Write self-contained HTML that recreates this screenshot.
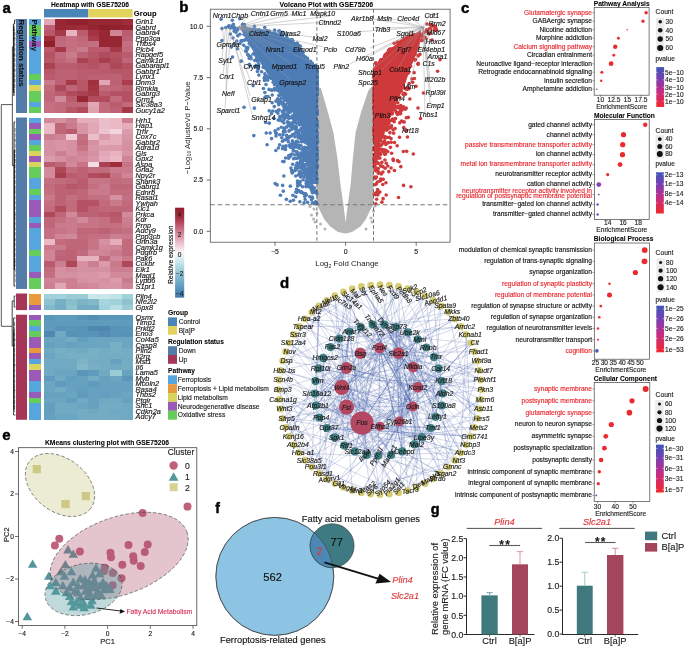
<!DOCTYPE html>
<html><head><meta charset="utf-8"><title>Figure</title>
<style>html,body{margin:0;padding:0;background:#fff;width:685px;height:647px;overflow:hidden}svg{display:block}</style>
</head><body>
<svg width="685" height="647" viewBox="0 0 685 647" font-family='"Liberation Sans", Arial, sans-serif'>
<rect width="685" height="647" fill="#fff"/>
<text x="280" y="288" font-size="15" font-weight="bold" stroke="#000" stroke-width="0.45">d</text>
<path d="M380 284.7L305.14 318.93M380 284.7L414.5 444.4M380 284.7L362 423M389.35 285.15L402.3 451.4M389.35 285.15L417.8 387.2M389.35 285.15L362 423M398.61 286.49L384.5 324.7M398.61 286.49L477.43 418.31M398.61 286.49L326.9 428M398.61 286.49L413.2 367.1M407.72 288.7L339.5 338.6M407.72 288.7L346.5 407.2M416.59 291.78L441.8 381M416.59 291.78L334.6 437.4M425.15 295.7L372.7 324.7M425.15 295.7L460.84 326.38M425.15 295.7L434 357.1M433.33 300.41L314.7 393.5M433.33 300.41L379.6 347.9M441.05 305.89L417.8 387.2M441.05 305.89L360.3 353.3M441.05 305.89L380 284.7M448.25 312.08L360.3 353.3M448.25 312.08L384.5 324.7M454.86 318.93L341.8 387.3M454.86 318.93L341.8 387.3M454.86 318.93L379.6 347.9M460.84 326.38L399.3 421.5M460.84 326.38L479.58 370.32M460.84 326.38L346.4 368M466.13 334.38L380 426.4M466.13 334.38L470.68 436.36M470.68 342.84L349.5 331.6M470.68 342.84L366.6 454.9M470.68 342.84L399.3 421.5M470.68 342.84L399.3 421.5M474.46 351.71L346.5 407.2M474.46 351.71L360.3 353.3M477.43 360.89L346.5 407.2M477.43 360.89L344.4 445.6M479.58 370.32L441.05 473.31M479.58 370.32L360.3 353.3M480.87 379.92L417.8 387.2M480.87 379.92L379.6 347.9M480.87 379.92L346.5 407.2M480.87 379.92L315.5 381.1M481.3 389.6L346.5 407.2M481.3 389.6L330.5 347.1M481.3 389.6L481.3 389.6M481.3 389.6L466.13 444.82M480.87 399.28L413.2 367.1M480.87 399.28L407.72 490.5M480.87 399.28L391.1 454.9M480.87 399.28L414.5 444.4M479.58 408.88L318.95 305.89M479.58 408.88L372.7 324.7M479.58 408.88L379.6 347.9M479.58 408.88L417.8 387.2M477.43 418.31L384.5 324.7M477.43 418.31L346.5 407.2M474.46 427.49L398.5 353.2M474.46 427.49L448.25 312.08M474.46 427.49L380 426.4M470.68 436.36L326.9 428M470.68 436.36L413.2 367.1M470.68 436.36L326.9 428M470.68 436.36L380 426.4M466.13 444.82L398.5 353.2M466.13 444.82L362 423M460.84 452.82L466.13 334.38M460.84 452.82L380 426.4M460.84 452.82L361.39 286.49M460.84 452.82L366.6 454.9M454.86 460.27L360.3 353.3M454.86 460.27L417.8 339.3M454.86 460.27L316 405.6M454.86 460.27L341.8 387.3M448.25 467.12L438.7 368.7M448.25 467.12L379.6 347.9M441.05 473.31L407.8 332.4M441.05 473.31L366.6 454.9M433.33 478.79L341.8 387.3M433.33 478.79L326.9 428M433.33 478.79L280.42 370.32M425.15 483.5L389.35 285.15M425.15 483.5L396.2 327M416.59 487.42L326.9 428M416.59 487.42L341.8 387.3M416.59 487.42L417.8 387.2M407.72 490.5L396.2 327M407.72 490.5L299.16 326.38M407.72 490.5L362 423M398.61 492.71L318.6 368.4M398.61 492.71L346.5 407.2M389.35 494.05L430.8 428M389.35 494.05L477.43 360.89M380 494.5L326.67 300.41M380 494.5L360.3 353.3M380 494.5L398.5 353.2M370.65 494.05L391.1 454.9M370.65 494.05L305.14 460.27M370.65 494.05L349.5 331.6M370.65 494.05L435.5 416.8M361.39 492.71L417.8 387.2M361.39 492.71L399.3 421.5M361.39 492.71L454.86 460.27M352.28 490.5L346.5 407.2M352.28 490.5L448.25 467.12M343.41 487.42L412.8 406.5M343.41 487.42L425.15 295.7M334.85 483.5L417.8 387.2M334.85 483.5L477.43 360.89M334.85 483.5L442.5 393.4M334.85 483.5L279.13 379.92M326.67 478.79L323.2 357.9M326.67 478.79L349.5 331.6M326.67 478.79L360.3 353.3M318.95 473.31L425.15 295.7M318.95 473.31L442.5 393.4M318.95 473.31L438.7 368.7M311.75 467.12L398.61 286.49M311.75 467.12L384.5 324.7M311.75 467.12L314.7 393.5M311.75 467.12L380 494.5M305.14 460.27L433.33 300.41M305.14 460.27L477.43 360.89M299.16 452.82L362 423M299.16 452.82L407.8 332.4M299.16 452.82L454.86 460.27M293.87 444.82L398.61 492.71M293.87 444.82L360.3 353.3M289.32 436.36L316 405.6M289.32 436.36L417.8 387.2M289.32 436.36L361.39 286.49M285.54 427.49L391.1 454.9M285.54 427.49L346.4 368M285.54 427.49L466.13 334.38M285.54 427.49L346.4 368M282.57 418.31L380 426.4M282.57 418.31L360.3 353.3M282.57 418.31L346.5 407.2M280.42 408.88L305.14 460.27M280.42 408.88L422 437.4M280.42 408.88L341.8 387.3M280.42 408.88L479.58 370.32M279.13 399.28L399.3 421.5M279.13 399.28L334.85 483.5M278.7 389.6L318.95 473.31M278.7 389.6L346.4 368M278.7 389.6L299.16 452.82M278.7 389.6L316 405.6M279.13 379.92L399.3 421.5M279.13 379.92L326.67 300.41M279.13 379.92L441.05 473.31M280.42 370.32L360.3 353.3M280.42 370.32L412.8 406.5M282.57 360.89L481.3 389.6M282.57 360.89L349.5 331.6M282.57 360.89L334.85 295.7M282.57 360.89L334.6 437.4M285.54 351.71L362 423M285.54 351.71L346.4 368M289.32 342.84L318.6 368.4M289.32 342.84L398.61 492.71M289.32 342.84L399.3 421.5M289.32 342.84L448.25 467.12M293.87 334.38L370.65 285.15M293.87 334.38L380 426.4M293.87 334.38L362 423M299.16 326.38L396.2 327M299.16 326.38L360.3 353.3M305.14 318.93L479.58 370.32M305.14 318.93L391.1 454.9M305.14 318.93L362 423M305.14 318.93L384.5 324.7M311.75 312.08L380 426.4M311.75 312.08L399.3 421.5M311.75 312.08L311.75 312.08M318.95 305.89L413.2 367.1M318.95 305.89L360.3 353.3M318.95 305.89L480.87 379.92M318.95 305.89L314.7 393.5M326.67 300.41L413.2 367.1M326.67 300.41L417.8 387.2M334.85 295.7L435.5 416.8M334.85 295.7L344.4 445.6M334.85 295.7L354.9 451.4M343.41 291.78L414.5 444.4M343.41 291.78L360.8 327.3M343.41 291.78L341.8 387.3M343.41 291.78L362 423M352.28 288.7L413.2 367.1M352.28 288.7L441.05 473.31M352.28 288.7L366.6 454.9M352.28 288.7L346.4 368M361.39 286.49L466.13 444.82M361.39 286.49L412.8 406.5M361.39 286.49L460.84 452.82M361.39 286.49L413.2 367.1M370.65 285.15L413.2 367.1M370.65 285.15L379.6 347.9M315.5 381.1L399.3 421.5M315.5 381.1L280.42 370.32M315.5 381.1L366.6 454.9M315.5 381.1L341.8 387.3M314.7 393.5L470.68 342.84M314.7 393.5L341.8 387.3M314.7 393.5L412.8 406.5M314.7 393.5L362 423M314.7 393.5L426.3 347.5M316 405.6L460.84 452.82M316 405.6L318.95 305.89M316 405.6L360.3 353.3M316 405.6L352.28 288.7M316 405.6L318.95 305.89M319.2 417.5L379.6 347.9M319.2 417.5L398.5 353.2M319.2 417.5L470.68 342.84M326.9 428L341.8 387.3M326.9 428L379.6 347.9M326.9 428L380 426.4M326.9 428L412.8 406.5M326.9 428L346.5 407.2M334.6 437.4L346.4 368M334.6 437.4L413.2 367.1M334.6 437.4L380 426.4M334.6 437.4L412.8 406.5M344.4 445.6L474.46 427.49M344.4 445.6L360.3 353.3M344.4 445.6L379.6 347.9M344.4 445.6L278.7 389.6M354.9 451.4L318.6 368.4M354.9 451.4L426.3 347.5M354.9 451.4L389.35 494.05M354.9 451.4L379.6 347.9M354.9 451.4L477.43 418.31M366.6 454.9L412.8 406.5M366.6 454.9L285.54 427.49M366.6 454.9L466.13 444.82M366.6 454.9L346.4 368M378.3 455.6L412.8 406.5M378.3 455.6L379.6 347.9M378.3 455.6L412.8 406.5M391.1 454.9L433.33 300.41M391.1 454.9L341.8 387.3M391.1 454.9L413.2 367.1M391.1 454.9L402.3 451.4M391.1 454.9L396.2 327M402.3 451.4L441.05 473.31M402.3 451.4L279.13 399.28M402.3 451.4L398.61 286.49M402.3 451.4L379.6 347.9M402.3 451.4L398.61 492.71M414.5 444.4L360.3 353.3M414.5 444.4L282.57 418.31M414.5 444.4L417.8 387.2M414.5 444.4L412.8 406.5M422 437.4L372.7 324.7M422 437.4L470.68 342.84M422 437.4L326.9 428M422 437.4L316 405.6M422 437.4L398.5 353.2M430.8 428L398.5 353.2M430.8 428L441.05 305.89M430.8 428L380 426.4M430.8 428L362 423M435.5 416.8L407.8 332.4M435.5 416.8L330.5 347.1M435.5 416.8L441.8 381M435.5 416.8L441.8 381M441.8 405.5L413.2 367.1M441.8 405.5L391.1 454.9M441.8 405.5L341.8 387.3M442.5 393.4L412.8 406.5M442.5 393.4L433.33 300.41M442.5 393.4L434 357.1M442.5 393.4L413.2 367.1M441.8 381L398.61 492.71M441.8 381L407.72 490.5M441.8 381L379.6 347.9M441.8 381L305.14 318.93M438.7 368.7L407.72 490.5M438.7 368.7L354.9 451.4M438.7 368.7L399.3 421.5M434 357.1L360.3 353.3M434 357.1L398.5 353.2M434 357.1L380 426.4M434 357.1L399.3 421.5M426.3 347.5L372.7 324.7M426.3 347.5L346.4 368M426.3 347.5L366.6 454.9M426.3 347.5L480.87 379.92M417.8 339.3L362 423M417.8 339.3L343.41 291.78M417.8 339.3L417.8 339.3M407.8 332.4L341.8 387.3M407.8 332.4L460.84 452.82M407.8 332.4L435.5 416.8M407.8 332.4L413.2 367.1M396.2 327L454.86 460.27M396.2 327L425.15 295.7M396.2 327L315.5 381.1M396.2 327L399.3 421.5M396.2 327L360.3 353.3M384.5 324.7L417.8 387.2M384.5 324.7L379.6 347.9M384.5 324.7L477.43 418.31M372.7 324.7L412.8 406.5M372.7 324.7L412.8 406.5M372.7 324.7L412.8 406.5M372.7 324.7L398.5 353.2M372.7 324.7L454.86 318.93M360.8 327.3L346.5 407.2M360.8 327.3L441.05 473.31M360.8 327.3L346.4 368M349.5 331.6L398.5 353.2M349.5 331.6L341.8 387.3M349.5 331.6L318.95 473.31M349.5 331.6L346.4 368M339.5 338.6L412.8 406.5M339.5 338.6L339.5 338.6M339.5 338.6L460.84 326.38M330.5 347.1L346.5 407.2M330.5 347.1L339.5 338.6M330.5 347.1L360.3 353.3M330.5 347.1L413.2 367.1M330.5 347.1L460.84 326.38M323.2 357.9L346.4 368M323.2 357.9L318.95 473.31M323.2 357.9L398.5 353.2M323.2 357.9L341.8 387.3M323.2 357.9L289.32 436.36M318.6 368.4L380 426.4M318.6 368.4L442.5 393.4M318.6 368.4L417.8 387.2M360.3 353.3L442.5 393.4M360.3 353.3L366.6 454.9M360.3 353.3L316 405.6M360.3 353.3L422 437.4M360.3 353.3L426.3 347.5M379.6 347.9L319.2 417.5M379.6 347.9L412.8 406.5M379.6 347.9L402.3 451.4M379.6 347.9L402.3 451.4M379.6 347.9L379.6 347.9M398.5 353.2L402.3 451.4M398.5 353.2L323.2 357.9M398.5 353.2L422 437.4M398.5 353.2L384.5 324.7M398.5 353.2L414.5 444.4M413.2 367.1L315.5 381.1M413.2 367.1L396.2 327M413.2 367.1L402.3 451.4M413.2 367.1L414.5 444.4M413.2 367.1L417.8 339.3M417.8 387.2L346.5 407.2M417.8 387.2L384.5 324.7M417.8 387.2L396.2 327M417.8 387.2L346.4 368M417.8 387.2L346.4 368M412.8 406.5L412.8 406.5M412.8 406.5L442.5 393.4M412.8 406.5L344.4 445.6M412.8 406.5L379.6 347.9M412.8 406.5L316 405.6M399.3 421.5L426.3 347.5M399.3 421.5L413.2 367.1M399.3 421.5L417.8 339.3M399.3 421.5L341.8 387.3M399.3 421.5L396.2 327M380 426.4L344.4 445.6M380 426.4L379.6 347.9M380 426.4L339.5 338.6M380 426.4L435.5 416.8M380 426.4L417.8 387.2M362 423L384.5 324.7M362 423L417.8 339.3M362 423L354.9 451.4M362 423L417.8 339.3M362 423L412.8 406.5M346.5 407.2L378.3 455.6M346.5 407.2L412.8 406.5M346.5 407.2L334.6 437.4M346.5 407.2L399.3 421.5M346.5 407.2L366.6 454.9M341.8 387.3L412.8 406.5M341.8 387.3L379.6 347.9M341.8 387.3L349.5 331.6M341.8 387.3L339.5 338.6M341.8 387.3L346.5 407.2M346.4 368L399.3 421.5M346.4 368L339.5 338.6M346.4 368L435.5 416.8M346.4 368L319.2 417.5M346.4 368L316 405.6" fill="none" stroke="#3d5aa5" stroke-width="0.38" stroke-opacity="0.6"/>
<circle cx="380" cy="284.7" r="3.4" fill="#d6cc72"/>
<circle cx="389.35" cy="285.15" r="3.4" fill="#d6cc72"/>
<circle cx="398.61" cy="286.49" r="3.4" fill="#d6cc72"/>
<circle cx="407.72" cy="288.7" r="3.4" fill="#d6cc72"/>
<circle cx="416.59" cy="291.78" r="3.4" fill="#d6cc72"/>
<circle cx="425.15" cy="295.7" r="3.4" fill="#d6cc72"/>
<circle cx="433.33" cy="300.41" r="3.4" fill="#d6cc72"/>
<circle cx="441.05" cy="305.89" r="3.4" fill="#d6cc72"/>
<circle cx="448.25" cy="312.08" r="3.4" fill="#d6cc72"/>
<circle cx="454.86" cy="318.93" r="3.4" fill="#d6cc72"/>
<circle cx="460.84" cy="326.38" r="3.4" fill="#d6cc72"/>
<circle cx="466.13" cy="334.38" r="3.4" fill="#d6cc72"/>
<circle cx="470.68" cy="342.84" r="3.4" fill="#d6cc72"/>
<circle cx="474.46" cy="351.71" r="3.4" fill="#d6cc72"/>
<circle cx="477.43" cy="360.89" r="3.4" fill="#d6cc72"/>
<circle cx="479.58" cy="370.32" r="3.4" fill="#d6cc72"/>
<circle cx="480.87" cy="379.92" r="3.4" fill="#d6cc72"/>
<circle cx="481.3" cy="389.6" r="3.4" fill="#d6cc72"/>
<circle cx="480.87" cy="399.28" r="3.4" fill="#d6cc72"/>
<circle cx="479.58" cy="408.88" r="3.4" fill="#d6cc72"/>
<circle cx="477.43" cy="418.31" r="3.4" fill="#d6cc72"/>
<circle cx="474.46" cy="427.49" r="3.4" fill="#d6cc72"/>
<circle cx="470.68" cy="436.36" r="3.4" fill="#d6cc72"/>
<circle cx="466.13" cy="444.82" r="3.4" fill="#d6cc72"/>
<circle cx="460.84" cy="452.82" r="3.4" fill="#d6cc72"/>
<circle cx="454.86" cy="460.27" r="3.4" fill="#d6cc72"/>
<circle cx="448.25" cy="467.12" r="3.4" fill="#d6cc72"/>
<circle cx="441.05" cy="473.31" r="3.4" fill="#d6cc72"/>
<circle cx="433.33" cy="478.79" r="3.4" fill="#d6cc72"/>
<circle cx="425.15" cy="483.5" r="3.4" fill="#d6cc72"/>
<circle cx="416.59" cy="487.42" r="3.4" fill="#d6cc72"/>
<circle cx="407.72" cy="490.5" r="3.4" fill="#d6cc72"/>
<circle cx="398.61" cy="492.71" r="3.4" fill="#d6cc72"/>
<circle cx="389.35" cy="494.05" r="3.4" fill="#d6cc72"/>
<circle cx="380" cy="494.5" r="3.4" fill="#d6cc72"/>
<circle cx="370.65" cy="494.05" r="3.4" fill="#d6cc72"/>
<circle cx="361.39" cy="492.71" r="3.4" fill="#d6cc72"/>
<circle cx="352.28" cy="490.5" r="3.4" fill="#d6cc72"/>
<circle cx="343.41" cy="487.42" r="3.4" fill="#d6cc72"/>
<circle cx="334.85" cy="483.5" r="3.4" fill="#d6cc72"/>
<circle cx="326.67" cy="478.79" r="3.4" fill="#d6cc72"/>
<circle cx="318.95" cy="473.31" r="3.4" fill="#d6cc72"/>
<circle cx="311.75" cy="467.12" r="3.4" fill="#d6cc72"/>
<circle cx="305.14" cy="460.27" r="3.4" fill="#d6cc72"/>
<circle cx="299.16" cy="452.82" r="3.4" fill="#d6cc72"/>
<circle cx="293.87" cy="444.82" r="3.4" fill="#d6cc72"/>
<circle cx="289.32" cy="436.36" r="3.4" fill="#d6cc72"/>
<circle cx="285.54" cy="427.49" r="3.4" fill="#d6cc72"/>
<circle cx="282.57" cy="418.31" r="3.4" fill="#d6cc72"/>
<circle cx="280.42" cy="408.88" r="3.4" fill="#d6cc72"/>
<circle cx="279.13" cy="399.28" r="3.4" fill="#d6cc72"/>
<circle cx="278.7" cy="389.6" r="3.4" fill="#d6cc72"/>
<circle cx="279.13" cy="379.92" r="3.4" fill="#d6cc72"/>
<circle cx="280.42" cy="370.32" r="3.4" fill="#d6cc72"/>
<circle cx="282.57" cy="360.89" r="3.4" fill="#d6cc72"/>
<circle cx="285.54" cy="351.71" r="3.4" fill="#d6cc72"/>
<circle cx="289.32" cy="342.84" r="3.4" fill="#d6cc72"/>
<circle cx="293.87" cy="334.38" r="3.4" fill="#d6cc72"/>
<circle cx="299.16" cy="326.38" r="3.4" fill="#d6cc72"/>
<circle cx="305.14" cy="318.93" r="3.4" fill="#d6cc72"/>
<circle cx="311.75" cy="312.08" r="3.4" fill="#d6cc72"/>
<circle cx="318.95" cy="305.89" r="3.4" fill="#d6cc72"/>
<circle cx="326.67" cy="300.41" r="3.4" fill="#d6cc72"/>
<circle cx="334.85" cy="295.7" r="3.4" fill="#d6cc72"/>
<circle cx="343.41" cy="291.78" r="3.4" fill="#d6cc72"/>
<circle cx="352.28" cy="288.7" r="3.4" fill="#d6cc72"/>
<circle cx="361.39" cy="286.49" r="3.4" fill="#d6cc72"/>
<circle cx="370.65" cy="285.15" r="3.4" fill="#d6cc72"/>
<circle cx="315.5" cy="381.1" r="4.1" fill="#3f7f83"/>
<circle cx="314.7" cy="393.5" r="4.1" fill="#3f7f83"/>
<circle cx="316" cy="405.6" r="4.1" fill="#3f7f83"/>
<circle cx="319.2" cy="417.5" r="4.1" fill="#3f7f83"/>
<circle cx="326.9" cy="428" r="4.1" fill="#3f7f83"/>
<circle cx="334.6" cy="437.4" r="4.1" fill="#3f7f83"/>
<circle cx="344.4" cy="445.6" r="4.1" fill="#3f7f83"/>
<circle cx="354.9" cy="451.4" r="4.1" fill="#3f7f83"/>
<circle cx="366.6" cy="454.9" r="4.1" fill="#3f7f83"/>
<circle cx="378.3" cy="455.6" r="4.1" fill="#3f7f83"/>
<circle cx="391.1" cy="454.9" r="4.1" fill="#3f7f83"/>
<circle cx="402.3" cy="451.4" r="4.1" fill="#3f7f83"/>
<circle cx="414.5" cy="444.4" r="4.1" fill="#3f7f83"/>
<circle cx="422" cy="437.4" r="4.1" fill="#3f7f83"/>
<circle cx="430.8" cy="428" r="4.1" fill="#3f7f83"/>
<circle cx="435.5" cy="416.8" r="4.1" fill="#3f7f83"/>
<circle cx="441.8" cy="405.5" r="4.1" fill="#3f7f83"/>
<circle cx="442.5" cy="393.4" r="4.1" fill="#3f7f83"/>
<circle cx="441.8" cy="381" r="4.1" fill="#3f7f83"/>
<circle cx="438.7" cy="368.7" r="4.1" fill="#3f7f83"/>
<circle cx="434" cy="357.1" r="4.1" fill="#3f7f83"/>
<circle cx="426.3" cy="347.5" r="4.1" fill="#3f7f83"/>
<circle cx="417.8" cy="339.3" r="4.1" fill="#3f7f83"/>
<circle cx="407.8" cy="332.4" r="4.1" fill="#3f7f83"/>
<circle cx="396.2" cy="327" r="4.1" fill="#3f7f83"/>
<circle cx="384.5" cy="324.7" r="4.1" fill="#3f7f83"/>
<circle cx="372.7" cy="324.7" r="4.1" fill="#3f7f83"/>
<circle cx="360.8" cy="327.3" r="4.1" fill="#3f7f83"/>
<circle cx="349.5" cy="331.6" r="4.1" fill="#3f7f83"/>
<circle cx="339.5" cy="338.6" r="4.1" fill="#3f7f83"/>
<circle cx="330.5" cy="347.1" r="4.1" fill="#3f7f83"/>
<circle cx="323.2" cy="357.9" r="4.1" fill="#3f7f83"/>
<circle cx="318.6" cy="368.4" r="4.1" fill="#3f7f83"/>
<circle cx="360.3" cy="353.3" r="5.7" fill="#b44862"/>
<circle cx="379.6" cy="347.9" r="5.5" fill="#b44862"/>
<circle cx="398.5" cy="353.2" r="5.9" fill="#b44862"/>
<circle cx="413.2" cy="367.1" r="5.3" fill="#b44862"/>
<circle cx="417.8" cy="387.2" r="5.3" fill="#b44862"/>
<circle cx="412.8" cy="406.5" r="5.1" fill="#b44862"/>
<circle cx="399.3" cy="421.5" r="5" fill="#b44862"/>
<circle cx="380" cy="426.4" r="4.6" fill="#b44862"/>
<circle cx="362" cy="423" r="11.6" fill="#b44862"/>
<circle cx="346.5" cy="407.2" r="7.6" fill="#b44862"/>
<circle cx="341.8" cy="387.3" r="7.6" fill="#b44862"/>
<circle cx="346.4" cy="368" r="5.9" fill="#b44862"/>
<g><text x="377.5" y="286.9" font-size="6.9" font-style="italic" fill="#1a1a1a" stroke="#1a1a1a" stroke-width="0.14" transform="rotate(55 377.5 286.9)">Nes</text><text x="386.85" y="287.35" font-size="6.9" font-style="italic" fill="#1a1a1a" stroke="#1a1a1a" stroke-width="0.14" transform="rotate(55 386.85 287.35)">Fzd9</text><text x="396.11" y="288.69" font-size="6.9" font-style="italic" fill="#1a1a1a" stroke="#1a1a1a" stroke-width="0.14" transform="rotate(50 396.11 288.69)">Pcdh8</text><text x="410.72" y="291" font-size="6.9" text-anchor="middle" font-style="italic" fill="#1a1a1a" stroke="#1a1a1a" stroke-width="0.14" transform="rotate(-20 410.72 291)">Sgk2</text><text x="419.59" y="294.08" font-size="6.9" text-anchor="middle" font-style="italic" fill="#1a1a1a" stroke="#1a1a1a" stroke-width="0.14" transform="rotate(-20 419.59 294.08)">Ucp2</text><text x="428.15" y="298" font-size="6.9" text-anchor="middle" font-style="italic" fill="#1a1a1a" stroke="#1a1a1a" stroke-width="0.14" transform="rotate(-15 428.15 298)">Slc10a6</text><text x="436.33" y="302.71" font-size="6.9" text-anchor="middle" font-style="italic" fill="#1a1a1a" stroke="#1a1a1a" stroke-width="0.14" transform="rotate(-15 436.33 302.71)">Apcdd1</text><text x="445.05" y="308.19" font-size="6.9" text-anchor="middle" font-style="italic" fill="#1a1a1a" stroke="#1a1a1a" stroke-width="0.14">Spata9</text><text x="452.25" y="314.38" font-size="6.9" text-anchor="middle" font-style="italic" fill="#1a1a1a" stroke="#1a1a1a" stroke-width="0.14">Mkks</text><text x="458.86" y="321.23" font-size="6.9" text-anchor="middle" font-style="italic" fill="#1a1a1a" stroke="#1a1a1a" stroke-width="0.14">Zbtb40</text><text x="464.84" y="328.68" font-size="6.9" text-anchor="middle" font-style="italic" fill="#1a1a1a" stroke="#1a1a1a" stroke-width="0.14">Arrdc2</text><text x="470.13" y="336.68" font-size="6.9" text-anchor="middle" font-style="italic" fill="#1a1a1a" stroke="#1a1a1a" stroke-width="0.14">Kcnab1</text><text x="474.68" y="345.14" font-size="6.9" text-anchor="middle" font-style="italic" fill="#1a1a1a" stroke="#1a1a1a" stroke-width="0.14">Cit</text><text x="478.46" y="354.01" font-size="6.9" text-anchor="middle" font-style="italic" fill="#1a1a1a" stroke="#1a1a1a" stroke-width="0.14">Fhad1</text><text x="481.43" y="363.19" font-size="6.9" text-anchor="middle" font-style="italic" fill="#1a1a1a" stroke="#1a1a1a" stroke-width="0.14">Wnt9a</text><text x="483.58" y="372.62" font-size="6.9" text-anchor="middle" font-style="italic" fill="#1a1a1a" stroke="#1a1a1a" stroke-width="0.14">Nudt7</text><text x="484.87" y="382.22" font-size="6.9" text-anchor="middle" font-style="italic" fill="#1a1a1a" stroke="#1a1a1a" stroke-width="0.14">Plekhf1</text><text x="485.3" y="391.9" font-size="6.9" text-anchor="middle" font-style="italic" fill="#1a1a1a" stroke="#1a1a1a" stroke-width="0.14">Pkn3</text><text x="484.87" y="401.58" font-size="6.9" text-anchor="middle" font-style="italic" fill="#1a1a1a" stroke="#1a1a1a" stroke-width="0.14">Mcm6</text><text x="483.58" y="411.18" font-size="6.9" text-anchor="middle" font-style="italic" fill="#1a1a1a" stroke="#1a1a1a" stroke-width="0.14">Asb11</text><text x="481.43" y="420.61" font-size="6.9" text-anchor="middle" font-style="italic" fill="#1a1a1a" stroke="#1a1a1a" stroke-width="0.14">Hes5</text><text x="478.46" y="429.79" font-size="6.9" text-anchor="middle" font-style="italic" fill="#1a1a1a" stroke="#1a1a1a" stroke-width="0.14">Meis2</text><text x="474.68" y="438.66" font-size="6.9" text-anchor="middle" font-style="italic" fill="#1a1a1a" stroke="#1a1a1a" stroke-width="0.14">Gm5741</text><text x="470.13" y="447.12" font-size="6.9" text-anchor="middle" font-style="italic" fill="#1a1a1a" stroke="#1a1a1a" stroke-width="0.14">Ncbp3</text><text x="464.84" y="455.12" font-size="6.9" text-anchor="middle" font-style="italic" fill="#1a1a1a" stroke="#1a1a1a" stroke-width="0.14">Arrdc3</text><text x="458.86" y="462.57" font-size="6.9" text-anchor="middle" font-style="italic" fill="#1a1a1a" stroke="#1a1a1a" stroke-width="0.14">Ntf3</text><text x="452.25" y="469.42" font-size="6.9" text-anchor="middle" font-style="italic" fill="#1a1a1a" stroke="#1a1a1a" stroke-width="0.14">Gmnc</text><text x="445.05" y="475.61" font-size="6.9" text-anchor="middle" font-style="italic" fill="#1a1a1a" stroke="#1a1a1a" stroke-width="0.14">Tspan2</text><text x="437.33" y="481.09" font-size="6.9" text-anchor="middle" font-style="italic" fill="#1a1a1a" stroke="#1a1a1a" stroke-width="0.14">Stra6</text><text x="422.65" y="485.7" font-size="6.9" font-style="italic" fill="#1a1a1a" stroke="#1a1a1a" stroke-width="0.14" transform="rotate(-30 422.65 485.7)">Mapk4</text><text x="414.09" y="489.62" font-size="6.9" font-style="italic" fill="#1a1a1a" stroke="#1a1a1a" stroke-width="0.14" transform="rotate(-30 414.09 489.62)">Des</text><text x="410.72" y="492.8" font-size="6.9" text-anchor="middle" font-style="italic" fill="#1a1a1a" stroke="#1a1a1a" stroke-width="0.14" transform="rotate(-10 410.72 492.8)">Tacr3</text><text x="396.11" y="494.91" font-size="6.9" font-style="italic" fill="#1a1a1a" stroke="#1a1a1a" stroke-width="0.14" transform="rotate(-50 396.11 494.91)">Sst1</text><text x="386.85" y="496.25" font-size="6.9" font-style="italic" fill="#1a1a1a" stroke="#1a1a1a" stroke-width="0.14" transform="rotate(-50 386.85 496.25)">Pla2g1</text><text x="377.5" y="496.7" font-size="6.9" font-style="italic" fill="#1a1a1a" stroke="#1a1a1a" stroke-width="0.14" transform="rotate(-45 377.5 496.7)">Syp54</text><text x="368.15" y="496.25" font-size="6.9" font-style="italic" fill="#1a1a1a" stroke="#1a1a1a" stroke-width="0.14" transform="rotate(-40 368.15 496.25)">Sly6</text><text x="358.89" y="494.91" font-size="6.9" font-style="italic" fill="#1a1a1a" stroke="#1a1a1a" stroke-width="0.14" transform="rotate(-30 358.89 494.91)">Neas2</text><text x="356.28" y="492.8" font-size="6.9" text-anchor="middle" font-style="italic" fill="#1a1a1a" stroke="#1a1a1a" stroke-width="0.14">Ier3</text><text x="346.41" y="489.72" font-size="6.9" text-anchor="middle" font-style="italic" fill="#1a1a1a" stroke="#1a1a1a" stroke-width="0.14" transform="rotate(15 346.41 489.72)">Vegfd</text><text x="338.85" y="485.8" font-size="6.9" text-anchor="middle" font-style="italic" fill="#1a1a1a" stroke="#1a1a1a" stroke-width="0.14">Gli1</text><text x="329.67" y="481.09" font-size="6.9" text-anchor="middle" font-style="italic" fill="#1a1a1a" stroke="#1a1a1a" stroke-width="0.14" transform="rotate(-8 329.67 481.09)">Adgrv1</text><text x="322.95" y="475.61" font-size="6.9" text-anchor="middle" font-style="italic" fill="#1a1a1a" stroke="#1a1a1a" stroke-width="0.14">Rasd1</text><text x="315.75" y="469.42" font-size="6.9" text-anchor="middle" font-style="italic" fill="#1a1a1a" stroke="#1a1a1a" stroke-width="0.14">Pou3f1</text><text x="309.14" y="462.57" font-size="6.9" text-anchor="middle" font-style="italic" fill="#1a1a1a" stroke="#1a1a1a" stroke-width="0.14">Slc38a5</text><text x="303.16" y="455.12" font-size="6.9" text-anchor="middle" font-style="italic" fill="#1a1a1a" stroke="#1a1a1a" stroke-width="0.14">Hba-a1</text><text x="297.87" y="447.12" font-size="6.9" text-anchor="middle" font-style="italic" fill="#1a1a1a" stroke="#1a1a1a" stroke-width="0.14">Atp2b4</text><text x="293.32" y="438.66" font-size="6.9" text-anchor="middle" font-style="italic" fill="#1a1a1a" stroke="#1a1a1a" stroke-width="0.14">Kcnj16</text><text x="289.54" y="429.79" font-size="6.9" text-anchor="middle" font-style="italic" fill="#1a1a1a" stroke="#1a1a1a" stroke-width="0.14">Opalin</text><text x="286.57" y="420.61" font-size="6.9" text-anchor="middle" font-style="italic" fill="#1a1a1a" stroke="#1a1a1a" stroke-width="0.14">Sfrp5</text><text x="284.42" y="411.18" font-size="6.9" text-anchor="middle" font-style="italic" fill="#1a1a1a" stroke="#1a1a1a" stroke-width="0.14">Wnt3</text><text x="283.13" y="401.58" font-size="6.9" text-anchor="middle" font-style="italic" fill="#1a1a1a" stroke="#1a1a1a" stroke-width="0.14">Cacna1g</text><text x="282.7" y="391.9" font-size="6.9" text-anchor="middle" font-style="italic" fill="#1a1a1a" stroke="#1a1a1a" stroke-width="0.14">Bmp3</text><text x="283.13" y="382.22" font-size="6.9" text-anchor="middle" font-style="italic" fill="#1a1a1a" stroke="#1a1a1a" stroke-width="0.14">Scn4b</text><text x="284.42" y="372.62" font-size="6.9" text-anchor="middle" font-style="italic" fill="#1a1a1a" stroke="#1a1a1a" stroke-width="0.14">Hbb-bs</text><text x="286.57" y="363.19" font-size="6.9" text-anchor="middle" font-style="italic" fill="#1a1a1a" stroke="#1a1a1a" stroke-width="0.14">Dsp</text><text x="289.54" y="354.01" font-size="6.9" text-anchor="middle" font-style="italic" fill="#1a1a1a" stroke="#1a1a1a" stroke-width="0.14">Nov</text><text x="293.32" y="345.14" font-size="6.9" text-anchor="middle" font-style="italic" fill="#1a1a1a" stroke="#1a1a1a" stroke-width="0.14">Slc12a4</text><text x="297.87" y="336.68" font-size="6.9" text-anchor="middle" font-style="italic" fill="#1a1a1a" stroke="#1a1a1a" stroke-width="0.14">Sstr3</text><text x="303.16" y="328.68" font-size="6.9" text-anchor="middle" font-style="italic" fill="#1a1a1a" stroke="#1a1a1a" stroke-width="0.14">Tspear</text><text x="309.14" y="321.23" font-size="6.9" text-anchor="middle" font-style="italic" fill="#1a1a1a" stroke="#1a1a1a" stroke-width="0.14">Hba-a2</text><text x="315.75" y="314.38" font-size="6.9" text-anchor="middle" font-style="italic" fill="#1a1a1a" stroke="#1a1a1a" stroke-width="0.14">Mt2</text><text x="321.95" y="308.19" font-size="6.9" text-anchor="middle" font-style="italic" fill="#1a1a1a" stroke="#1a1a1a" stroke-width="0.14" transform="rotate(-22 321.95 308.19)">Nr4a2</text><text x="329.67" y="302.71" font-size="6.9" text-anchor="middle" font-style="italic" fill="#1a1a1a" stroke="#1a1a1a" stroke-width="0.14" transform="rotate(-25 329.67 302.71)">Nbl1</text><text x="332.35" y="297.9" font-size="6.9" font-style="italic" fill="#1a1a1a" stroke="#1a1a1a" stroke-width="0.14" transform="rotate(35 332.35 297.9)">Slc7a3</text><text x="340.91" y="293.98" font-size="6.9" font-style="italic" fill="#1a1a1a" stroke="#1a1a1a" stroke-width="0.14" transform="rotate(40 340.91 293.98)">Slc14a1</text><text x="349.78" y="290.9" font-size="6.9" font-style="italic" fill="#1a1a1a" stroke="#1a1a1a" stroke-width="0.14" transform="rotate(48 349.78 290.9)">Mal</text><text x="358.89" y="288.69" font-size="6.9" font-style="italic" fill="#1a1a1a" stroke="#1a1a1a" stroke-width="0.14" transform="rotate(55 358.89 288.69)">Sly</text><text x="368.15" y="287.35" font-size="6.9" font-style="italic" fill="#1a1a1a" stroke="#1a1a1a" stroke-width="0.14" transform="rotate(55 368.15 287.35)">Epha5</text><text x="317.5" y="383.4" font-size="6.9" text-anchor="middle" font-style="italic" fill="#1a1a1a" stroke="#1a1a1a" stroke-width="0.14">Vim</text><text x="316.7" y="395.8" font-size="6.9" text-anchor="middle" font-style="italic" fill="#1a1a1a" stroke="#1a1a1a" stroke-width="0.14">Slc16a12</text><text x="318" y="407.9" font-size="6.9" text-anchor="middle" font-style="italic" fill="#1a1a1a" stroke="#1a1a1a" stroke-width="0.14">Atp2b1</text><text x="321.2" y="419.8" font-size="6.9" text-anchor="middle" font-style="italic" fill="#1a1a1a" stroke="#1a1a1a" stroke-width="0.14">Pdp4</text><text x="328.9" y="430.3" font-size="6.9" text-anchor="middle" font-style="italic" fill="#1a1a1a" stroke="#1a1a1a" stroke-width="0.14">Gpr37</text><text x="336.6" y="439.7" font-size="6.9" text-anchor="middle" font-style="italic" fill="#1a1a1a" stroke="#1a1a1a" stroke-width="0.14">Sgk1</text><text x="346.4" y="447.9" font-size="6.9" text-anchor="middle" font-style="italic" fill="#1a1a1a" stroke="#1a1a1a" stroke-width="0.14">Rtf1</text><text x="356.9" y="453.7" font-size="6.9" text-anchor="middle" font-style="italic" fill="#1a1a1a" stroke="#1a1a1a" stroke-width="0.14">Slc12a2</text><text x="366.6" y="457.2" font-size="6.9" text-anchor="middle" font-style="italic" fill="#1a1a1a" stroke="#1a1a1a" stroke-width="0.14" transform="rotate(-45 366.6 457.2)">Ilsx4</text><text x="378.3" y="457.9" font-size="6.9" text-anchor="middle" font-style="italic" fill="#1a1a1a" stroke="#1a1a1a" stroke-width="0.14" transform="rotate(-60 378.3 457.9)">Ppm1l</text><text x="391.1" y="457.2" font-size="6.9" text-anchor="middle" font-style="italic" fill="#1a1a1a" stroke="#1a1a1a" stroke-width="0.14" transform="rotate(-60 391.1 457.2)">Mansc1</text><text x="404.3" y="453.7" font-size="6.9" text-anchor="middle" font-style="italic" fill="#1a1a1a" stroke="#1a1a1a" stroke-width="0.14">Cebpd</text><text x="416.5" y="446.7" font-size="6.9" text-anchor="middle" font-style="italic" fill="#1a1a1a" stroke="#1a1a1a" stroke-width="0.14">Mal2</text><text x="424" y="439.7" font-size="6.9" text-anchor="middle" font-style="italic" fill="#1a1a1a" stroke="#1a1a1a" stroke-width="0.14">Lipe3y</text><text x="432.8" y="430.3" font-size="6.9" text-anchor="middle" font-style="italic" fill="#1a1a1a" stroke="#1a1a1a" stroke-width="0.14">Tmf1</text><text x="437.5" y="419.1" font-size="6.9" text-anchor="middle" font-style="italic" fill="#1a1a1a" stroke="#1a1a1a" stroke-width="0.14">Lefty1</text><text x="443.8" y="407.8" font-size="6.9" text-anchor="middle" font-style="italic" fill="#1a1a1a" stroke="#1a1a1a" stroke-width="0.14">S100a8</text><text x="444.5" y="395.7" font-size="6.9" text-anchor="middle" font-style="italic" fill="#1a1a1a" stroke="#1a1a1a" stroke-width="0.14">Aldh2</text><text x="443.8" y="383.3" font-size="6.9" text-anchor="middle" font-style="italic" fill="#1a1a1a" stroke="#1a1a1a" stroke-width="0.14">Krt18</text><text x="440.7" y="371" font-size="6.9" text-anchor="middle" font-style="italic" fill="#1a1a1a" stroke="#1a1a1a" stroke-width="0.14">Car14</text><text x="436" y="359.4" font-size="6.9" text-anchor="middle" font-style="italic" fill="#1a1a1a" stroke="#1a1a1a" stroke-width="0.14">Tmr</text><text x="428.3" y="349.8" font-size="6.9" text-anchor="middle" font-style="italic" fill="#1a1a1a" stroke="#1a1a1a" stroke-width="0.14">Rhob</text><text x="419.8" y="341.6" font-size="6.9" text-anchor="middle" font-style="italic" fill="#1a1a1a" stroke="#1a1a1a" stroke-width="0.14">Mml</text><text x="409.8" y="334.7" font-size="6.9" text-anchor="middle" font-style="italic" fill="#1a1a1a" stroke="#1a1a1a" stroke-width="0.14">Ube2k</text><text x="398.2" y="329.3" font-size="6.9" text-anchor="middle" font-style="italic" fill="#1a1a1a" stroke="#1a1a1a" stroke-width="0.14">Trp73</text><text x="384.5" y="327" font-size="6.9" text-anchor="middle" font-style="italic" fill="#1a1a1a" stroke="#1a1a1a" stroke-width="0.14" transform="rotate(45 384.5 327)">Dynlt3</text><text x="372.7" y="327" font-size="6.9" text-anchor="middle" font-style="italic" fill="#1a1a1a" stroke="#1a1a1a" stroke-width="0.14" transform="rotate(50 372.7 327)">Tmem72</text><text x="360.8" y="329.6" font-size="6.9" text-anchor="middle" font-style="italic" fill="#1a1a1a" stroke="#1a1a1a" stroke-width="0.14" transform="rotate(45 360.8 329.6)">Tnfsf12</text><text x="351.5" y="333.9" font-size="6.9" text-anchor="middle" font-style="italic" fill="#1a1a1a" stroke="#1a1a1a" stroke-width="0.14">Ankr7</text><text x="341.5" y="340.9" font-size="6.9" text-anchor="middle" font-style="italic" fill="#1a1a1a" stroke="#1a1a1a" stroke-width="0.14">Cldn128</text><text x="332.5" y="349.4" font-size="6.9" text-anchor="middle" font-style="italic" fill="#1a1a1a" stroke="#1a1a1a" stroke-width="0.14">Fas2</text><text x="325.2" y="360.2" font-size="6.9" text-anchor="middle" font-style="italic" fill="#1a1a1a" stroke="#1a1a1a" stroke-width="0.14">Hmgcs2</text><text x="320.6" y="370.7" font-size="6.9" text-anchor="middle" font-style="italic" fill="#1a1a1a" stroke="#1a1a1a" stroke-width="0.14">Rpl10l</text><text x="360.3" y="355.6" font-size="6.5" text-anchor="middle" font-style="italic" fill="#1a1a1a" stroke="#1a1a1a" stroke-width="0.14">Bsg</text><text x="379.6" y="350.2" font-size="6.5" text-anchor="middle" font-style="italic" fill="#1a1a1a" stroke="#1a1a1a" stroke-width="0.14">Fzd4</text><text x="398.5" y="355.5" font-size="6.5" text-anchor="middle" font-style="italic" fill="#1a1a1a" stroke="#1a1a1a" stroke-width="0.14">Slc2a1</text><text x="413.2" y="369.4" font-size="6.5" text-anchor="middle" font-style="italic" fill="#1a1a1a" stroke="#1a1a1a" stroke-width="0.14">Nfkbia</text><text x="417.8" y="389.5" font-size="6.5" text-anchor="middle" font-style="italic" fill="#1a1a1a" stroke="#1a1a1a" stroke-width="0.14">Kcnd2</text><text x="412.8" y="408.8" font-size="6.5" text-anchor="middle" font-style="italic" fill="#1a1a1a" stroke="#1a1a1a" stroke-width="0.14">Ocln</text><text x="399.3" y="423.8" font-size="6.5" text-anchor="middle" font-style="italic" fill="#1a1a1a" stroke="#1a1a1a" stroke-width="0.14">Cyp26b1</text><text x="380" y="428.7" font-size="6.5" text-anchor="middle" font-style="italic" fill="#1a1a1a" stroke="#1a1a1a" stroke-width="0.14">Effhc2</text><text x="362" y="425.3" font-size="7" text-anchor="middle" font-style="italic" fill="#1a1a1a" stroke="#1a1a1a" stroke-width="0.14">Fos</text><text x="346.5" y="409.5" font-size="6.5" text-anchor="middle" font-style="italic" fill="#1a1a1a" stroke="#1a1a1a" stroke-width="0.14">Fst</text><text x="341.8" y="389.6" font-size="6.5" text-anchor="middle" font-style="italic" fill="#1a1a1a" stroke="#1a1a1a" stroke-width="0.14">Wnt4</text><text x="346.4" y="370.3" font-size="6.5" text-anchor="middle" font-style="italic" fill="#1a1a1a" stroke="#1a1a1a" stroke-width="0.14">Grin2a</text></g>
<text x="2.5" y="13.2" font-size="15" font-weight="bold" stroke="#000" stroke-width="0.45">a</text>
<text x="90" y="7" font-size="6.7" text-anchor="middle" font-weight="bold" stroke="#000" stroke-width="0.06">Heatmap with GSE75206</text>
<rect x="44" y="9" width="44.3" height="8.4" fill="#4a85b8"/>
<rect x="88.3" y="9" width="44.3" height="8.4" fill="#e2d35c"/>
<text x="133.8" y="16.3" font-size="7.6" font-weight="bold" stroke="#000" stroke-width="0.06">Group</text>
<rect x="29.3" y="19" width="11.3" height="5.53" fill="#56a5dc" shape-rendering="crispEdges"/>
<rect x="29.3" y="24.53" width="11.3" height="11.06" fill="#66cc5c" shape-rendering="crispEdges"/>
<rect x="29.3" y="35.59" width="11.3" height="5.53" fill="#56a5dc" shape-rendering="crispEdges"/>
<rect x="29.3" y="41.12" width="11.3" height="5.53" fill="#9a5ab8" shape-rendering="crispEdges"/>
<rect x="29.3" y="46.65" width="11.3" height="27.65" fill="#56a5dc" shape-rendering="crispEdges"/>
<rect x="29.3" y="74.3" width="11.3" height="5.53" fill="#66cc5c" shape-rendering="crispEdges"/>
<rect x="29.3" y="79.83" width="11.3" height="5.53" fill="#56a5dc" shape-rendering="crispEdges"/>
<rect x="29.3" y="85.36" width="11.3" height="5.53" fill="#d8d45e" shape-rendering="crispEdges"/>
<rect x="29.3" y="90.89" width="11.3" height="11.06" fill="#66cc5c" shape-rendering="crispEdges"/>
<rect x="29.3" y="101.95" width="11.3" height="5.53" fill="#56a5dc" shape-rendering="crispEdges"/>
<rect x="29.3" y="107.48" width="11.3" height="5.53" fill="#66cc5c" shape-rendering="crispEdges"/>
<rect x="16" y="19" width="11" height="94.01" fill="#557ca8"/>
<rect x="29.3" y="117.5" width="11.3" height="5.53" fill="#56a5dc" shape-rendering="crispEdges"/>
<rect x="29.3" y="123.03" width="11.3" height="5.53" fill="#9a5ab8" shape-rendering="crispEdges"/>
<rect x="29.3" y="128.56" width="11.3" height="5.53" fill="#66cc5c" shape-rendering="crispEdges"/>
<rect x="29.3" y="134.09" width="11.3" height="5.53" fill="#9a5ab8" shape-rendering="crispEdges"/>
<rect x="29.3" y="139.62" width="11.3" height="5.53" fill="#56a5dc" shape-rendering="crispEdges"/>
<rect x="29.3" y="145.15" width="11.3" height="5.53" fill="#66cc5c" shape-rendering="crispEdges"/>
<rect x="29.3" y="150.68" width="11.3" height="5.53" fill="#d8d45e" shape-rendering="crispEdges"/>
<rect x="29.3" y="156.21" width="11.3" height="5.53" fill="#9a5ab8" shape-rendering="crispEdges"/>
<rect x="29.3" y="161.74" width="11.3" height="5.53" fill="#d8d45e" shape-rendering="crispEdges"/>
<rect x="29.3" y="167.27" width="11.3" height="11.06" fill="#66cc5c" shape-rendering="crispEdges"/>
<rect x="29.3" y="178.33" width="11.3" height="11.06" fill="#56a5dc" shape-rendering="crispEdges"/>
<rect x="29.3" y="189.39" width="11.3" height="5.53" fill="#66cc5c" shape-rendering="crispEdges"/>
<rect x="29.3" y="194.92" width="11.3" height="5.53" fill="#56a5dc" shape-rendering="crispEdges"/>
<rect x="29.3" y="200.45" width="11.3" height="16.59" fill="#9a5ab8" shape-rendering="crispEdges"/>
<rect x="29.3" y="217.04" width="11.3" height="5.53" fill="#56a5dc" shape-rendering="crispEdges"/>
<rect x="29.3" y="222.57" width="11.3" height="5.53" fill="#9a5ab8" shape-rendering="crispEdges"/>
<rect x="29.3" y="228.1" width="11.3" height="22.12" fill="#56a5dc" shape-rendering="crispEdges"/>
<rect x="29.3" y="250.22" width="11.3" height="5.53" fill="#66cc5c" shape-rendering="crispEdges"/>
<rect x="29.3" y="255.75" width="11.3" height="16.59" fill="#56a5dc" shape-rendering="crispEdges"/>
<rect x="29.3" y="272.34" width="11.3" height="5.53" fill="#9a5ab8" shape-rendering="crispEdges"/>
<rect x="29.3" y="277.87" width="11.3" height="11.06" fill="#66cc5c" shape-rendering="crispEdges"/>
<rect x="16" y="117.5" width="11" height="171.43" fill="#557ca8"/>
<rect x="29.3" y="293.5" width="11.3" height="11.06" fill="#e89a3e" shape-rendering="crispEdges"/>
<rect x="29.3" y="304.56" width="11.3" height="5.53" fill="#9a5ab8" shape-rendering="crispEdges"/>
<rect x="16" y="293.5" width="11" height="16.59" fill="#a53657"/>
<rect x="29.3" y="314.7" width="11.3" height="5.53" fill="#9a5ab8" shape-rendering="crispEdges"/>
<rect x="29.3" y="320.23" width="11.3" height="5.53" fill="#66cc5c" shape-rendering="crispEdges"/>
<rect x="29.3" y="325.76" width="11.3" height="5.53" fill="#56a5dc" shape-rendering="crispEdges"/>
<rect x="29.3" y="331.29" width="11.3" height="5.53" fill="#66cc5c" shape-rendering="crispEdges"/>
<rect x="29.3" y="336.82" width="11.3" height="11.06" fill="#9a5ab8" shape-rendering="crispEdges"/>
<rect x="29.3" y="347.88" width="11.3" height="5.53" fill="#e89a3e" shape-rendering="crispEdges"/>
<rect x="29.3" y="353.41" width="11.3" height="5.53" fill="#9a5ab8" shape-rendering="crispEdges"/>
<rect x="29.3" y="358.94" width="11.3" height="5.53" fill="#56a5dc" shape-rendering="crispEdges"/>
<rect x="29.3" y="364.47" width="11.3" height="5.53" fill="#d8d45e" shape-rendering="crispEdges"/>
<rect x="29.3" y="370" width="11.3" height="11.06" fill="#9a5ab8" shape-rendering="crispEdges"/>
<rect x="29.3" y="381.06" width="11.3" height="11.06" fill="#56a5dc" shape-rendering="crispEdges"/>
<rect x="29.3" y="392.12" width="11.3" height="5.53" fill="#9a5ab8" shape-rendering="crispEdges"/>
<rect x="29.3" y="397.65" width="11.3" height="5.53" fill="#66cc5c" shape-rendering="crispEdges"/>
<rect x="29.3" y="403.18" width="11.3" height="16.59" fill="#56a5dc" shape-rendering="crispEdges"/>
<rect x="16" y="314.7" width="11" height="105.07" fill="#a53657"/>
<g shape-rendering="crispEdges"><rect x="44" y="19" width="11.38" height="5.83" fill="#e2a7b6"/><rect x="55.08" y="19" width="11.38" height="5.83" fill="#972733"/><rect x="66.15" y="19" width="11.38" height="5.83" fill="#91212c"/><rect x="77.22" y="19" width="11.38" height="5.83" fill="#91212c"/><rect x="88.3" y="19" width="11.38" height="5.83" fill="#972733"/><rect x="99.38" y="19" width="11.38" height="5.83" fill="#972733"/><rect x="110.45" y="19" width="11.38" height="5.83" fill="#972733"/><rect x="121.52" y="19" width="11.38" height="5.83" fill="#9e2c39"/><rect x="44" y="24.53" width="11.38" height="5.83" fill="#bd6174"/><rect x="55.08" y="24.53" width="11.38" height="5.83" fill="#972733"/><rect x="66.15" y="24.53" width="11.38" height="5.83" fill="#9a2a36"/><rect x="77.22" y="24.53" width="11.38" height="5.83" fill="#9e2c39"/><rect x="88.3" y="24.53" width="11.38" height="5.83" fill="#94242f"/><rect x="99.38" y="24.53" width="11.38" height="5.83" fill="#8d1f29"/><rect x="110.45" y="24.53" width="11.38" height="5.83" fill="#91212c"/><rect x="121.52" y="24.53" width="11.38" height="5.83" fill="#94242f"/><rect x="44" y="30.06" width="11.38" height="5.83" fill="#b75768"/><rect x="55.08" y="30.06" width="11.38" height="5.83" fill="#a63947"/><rect x="66.15" y="30.06" width="11.38" height="5.83" fill="#e8b3c0"/><rect x="77.22" y="30.06" width="11.38" height="5.83" fill="#ba5c6e"/><rect x="88.3" y="30.06" width="11.38" height="5.83" fill="#a43441"/><rect x="99.38" y="30.06" width="11.38" height="5.83" fill="#972733"/><rect x="110.45" y="30.06" width="11.38" height="5.83" fill="#cf8596"/><rect x="121.52" y="30.06" width="11.38" height="5.83" fill="#ba5c6e"/><rect x="44" y="35.59" width="11.38" height="5.83" fill="#9e2c39"/><rect x="55.08" y="35.59" width="11.38" height="5.83" fill="#bf6679"/><rect x="66.15" y="35.59" width="11.38" height="5.83" fill="#c47082"/><rect x="77.22" y="35.59" width="11.38" height="5.83" fill="#bf6679"/><rect x="88.3" y="35.59" width="11.38" height="5.83" fill="#a93d4c"/><rect x="99.38" y="35.59" width="11.38" height="5.83" fill="#972733"/><rect x="110.45" y="35.59" width="11.38" height="5.83" fill="#972733"/><rect x="121.52" y="35.59" width="11.38" height="5.83" fill="#bd6174"/><rect x="44" y="41.12" width="11.38" height="5.83" fill="#8d1f29"/><rect x="55.08" y="41.12" width="11.38" height="5.83" fill="#c26b7d"/><rect x="66.15" y="41.12" width="11.38" height="5.83" fill="#c47082"/><rect x="77.22" y="41.12" width="11.38" height="5.83" fill="#c26b7d"/><rect x="88.3" y="41.12" width="11.38" height="5.83" fill="#c47082"/><rect x="99.38" y="41.12" width="11.38" height="5.83" fill="#972733"/><rect x="110.45" y="41.12" width="11.38" height="5.83" fill="#972733"/><rect x="121.52" y="41.12" width="11.38" height="5.83" fill="#c47082"/><rect x="44" y="46.65" width="11.38" height="5.83" fill="#ba5c6e"/><rect x="55.08" y="46.65" width="11.38" height="5.83" fill="#a63947"/><rect x="66.15" y="46.65" width="11.38" height="5.83" fill="#c47082"/><rect x="77.22" y="46.65" width="11.38" height="5.83" fill="#c97a8b"/><rect x="88.3" y="46.65" width="11.38" height="5.83" fill="#ba5c6e"/><rect x="99.38" y="46.65" width="11.38" height="5.83" fill="#ba5c6e"/><rect x="110.45" y="46.65" width="11.38" height="5.83" fill="#a63947"/><rect x="121.52" y="46.65" width="11.38" height="5.83" fill="#c26b7d"/><rect x="44" y="52.18" width="11.38" height="5.83" fill="#b45163"/><rect x="55.08" y="52.18" width="11.38" height="5.83" fill="#c26b7d"/><rect x="66.15" y="52.18" width="11.38" height="5.83" fill="#c97a8b"/><rect x="77.22" y="52.18" width="11.38" height="5.83" fill="#bd6174"/><rect x="88.3" y="52.18" width="11.38" height="5.83" fill="#b75768"/><rect x="99.38" y="52.18" width="11.38" height="5.83" fill="#b14c5d"/><rect x="110.45" y="52.18" width="11.38" height="5.83" fill="#b45163"/><rect x="121.52" y="52.18" width="11.38" height="5.83" fill="#ba5c6e"/><rect x="44" y="57.71" width="11.38" height="5.83" fill="#b75768"/><rect x="55.08" y="57.71" width="11.38" height="5.83" fill="#bf6679"/><rect x="66.15" y="57.71" width="11.38" height="5.83" fill="#c47082"/><rect x="77.22" y="57.71" width="11.38" height="5.83" fill="#ab4252"/><rect x="88.3" y="57.71" width="11.38" height="5.83" fill="#b45163"/><rect x="99.38" y="57.71" width="11.38" height="5.83" fill="#a93d4c"/><rect x="110.45" y="57.71" width="11.38" height="5.83" fill="#b14c5d"/><rect x="121.52" y="57.71" width="11.38" height="5.83" fill="#bf6679"/><rect x="44" y="63.24" width="11.38" height="5.83" fill="#ab4252"/><rect x="55.08" y="63.24" width="11.38" height="5.83" fill="#ba5c6e"/><rect x="66.15" y="63.24" width="11.38" height="5.83" fill="#ba5c6e"/><rect x="77.22" y="63.24" width="11.38" height="5.83" fill="#b75768"/><rect x="88.3" y="63.24" width="11.38" height="5.83" fill="#b45163"/><rect x="99.38" y="63.24" width="11.38" height="5.83" fill="#ba5c6e"/><rect x="110.45" y="63.24" width="11.38" height="5.83" fill="#ae4757"/><rect x="121.52" y="63.24" width="11.38" height="5.83" fill="#b45163"/><rect x="44" y="68.77" width="11.38" height="5.83" fill="#b75768"/><rect x="55.08" y="68.77" width="11.38" height="5.83" fill="#bd6174"/><rect x="66.15" y="68.77" width="11.38" height="5.83" fill="#bd6174"/><rect x="77.22" y="68.77" width="11.38" height="5.83" fill="#ba5c6e"/><rect x="88.3" y="68.77" width="11.38" height="5.83" fill="#ba5c6e"/><rect x="99.38" y="68.77" width="11.38" height="5.83" fill="#ba5c6e"/><rect x="110.45" y="68.77" width="11.38" height="5.83" fill="#b75768"/><rect x="121.52" y="68.77" width="11.38" height="5.83" fill="#b75768"/><rect x="44" y="74.3" width="11.38" height="5.83" fill="#ba5c6e"/><rect x="55.08" y="74.3" width="11.38" height="5.83" fill="#bd6174"/><rect x="66.15" y="74.3" width="11.38" height="5.83" fill="#bd6174"/><rect x="77.22" y="74.3" width="11.38" height="5.83" fill="#ba5c6e"/><rect x="88.3" y="74.3" width="11.38" height="5.83" fill="#bd6174"/><rect x="99.38" y="74.3" width="11.38" height="5.83" fill="#bd6174"/><rect x="110.45" y="74.3" width="11.38" height="5.83" fill="#bd6174"/><rect x="121.52" y="74.3" width="11.38" height="5.83" fill="#b75768"/><rect x="44" y="79.83" width="11.38" height="5.83" fill="#c97a8b"/><rect x="55.08" y="79.83" width="11.38" height="5.83" fill="#bd6174"/><rect x="66.15" y="79.83" width="11.38" height="5.83" fill="#a63947"/><rect x="77.22" y="79.83" width="11.38" height="5.83" fill="#b75768"/><rect x="88.3" y="79.83" width="11.38" height="5.83" fill="#a12f3c"/><rect x="99.38" y="79.83" width="11.38" height="5.83" fill="#e2a7b6"/><rect x="110.45" y="79.83" width="11.38" height="5.83" fill="#bd6174"/><rect x="121.52" y="79.83" width="11.38" height="5.83" fill="#a93d4c"/><rect x="44" y="85.36" width="11.38" height="5.83" fill="#c26b7d"/><rect x="55.08" y="85.36" width="11.38" height="5.83" fill="#ae4757"/><rect x="66.15" y="85.36" width="11.38" height="5.83" fill="#bf6679"/><rect x="77.22" y="85.36" width="11.38" height="5.83" fill="#b75768"/><rect x="88.3" y="85.36" width="11.38" height="5.83" fill="#a43441"/><rect x="99.38" y="85.36" width="11.38" height="5.83" fill="#c26b7d"/><rect x="110.45" y="85.36" width="11.38" height="5.83" fill="#bf6679"/><rect x="121.52" y="85.36" width="11.38" height="5.83" fill="#ba5c6e"/><rect x="44" y="90.89" width="11.38" height="5.83" fill="#bf6679"/><rect x="55.08" y="90.89" width="11.38" height="5.83" fill="#ba5c6e"/><rect x="66.15" y="90.89" width="11.38" height="5.83" fill="#b14c5d"/><rect x="77.22" y="90.89" width="11.38" height="5.83" fill="#ab4252"/><rect x="88.3" y="90.89" width="11.38" height="5.83" fill="#a63947"/><rect x="99.38" y="90.89" width="11.38" height="5.83" fill="#ba5c6e"/><rect x="110.45" y="90.89" width="11.38" height="5.83" fill="#b45163"/><rect x="121.52" y="90.89" width="11.38" height="5.83" fill="#b45163"/><rect x="44" y="96.42" width="11.38" height="5.83" fill="#bf6679"/><rect x="55.08" y="96.42" width="11.38" height="5.83" fill="#d28a9b"/><rect x="66.15" y="96.42" width="11.38" height="5.83" fill="#ba5c6e"/><rect x="77.22" y="96.42" width="11.38" height="5.83" fill="#972733"/><rect x="88.3" y="96.42" width="11.38" height="5.83" fill="#b14c5d"/><rect x="99.38" y="96.42" width="11.38" height="5.83" fill="#b14c5d"/><rect x="110.45" y="96.42" width="11.38" height="5.83" fill="#c26b7d"/><rect x="121.52" y="96.42" width="11.38" height="5.83" fill="#b45163"/><rect x="44" y="101.95" width="11.38" height="5.83" fill="#c47082"/><rect x="55.08" y="101.95" width="11.38" height="5.83" fill="#c26b7d"/><rect x="66.15" y="101.95" width="11.38" height="5.83" fill="#bf6679"/><rect x="77.22" y="101.95" width="11.38" height="5.83" fill="#bf6679"/><rect x="88.3" y="101.95" width="11.38" height="5.83" fill="#e2a7b6"/><rect x="99.38" y="101.95" width="11.38" height="5.83" fill="#c26b7d"/><rect x="110.45" y="101.95" width="11.38" height="5.83" fill="#ba5c6e"/><rect x="121.52" y="101.95" width="11.38" height="5.83" fill="#c26b7d"/><rect x="44" y="107.48" width="11.38" height="5.83" fill="#c47082"/><rect x="55.08" y="107.48" width="11.38" height="5.83" fill="#c26b7d"/><rect x="66.15" y="107.48" width="11.38" height="5.83" fill="#b75768"/><rect x="77.22" y="107.48" width="11.38" height="5.83" fill="#b14c5d"/><rect x="88.3" y="107.48" width="11.38" height="5.83" fill="#dea1b0"/><rect x="99.38" y="107.48" width="11.38" height="5.83" fill="#c26b7d"/><rect x="110.45" y="107.48" width="11.38" height="5.83" fill="#bd6174"/><rect x="121.52" y="107.48" width="11.38" height="5.83" fill="#a63947"/><rect x="44" y="117.5" width="11.38" height="5.83" fill="#d28a9b"/><rect x="55.08" y="117.5" width="11.38" height="5.83" fill="#d590a1"/><rect x="66.15" y="117.5" width="11.38" height="5.83" fill="#cc7f90"/><rect x="77.22" y="117.5" width="11.38" height="5.83" fill="#e5adbb"/><rect x="88.3" y="117.5" width="11.38" height="5.83" fill="#e5adbb"/><rect x="99.38" y="117.5" width="11.38" height="5.83" fill="#ebbfca"/><rect x="110.45" y="117.5" width="11.38" height="5.83" fill="#eab9c5"/><rect x="121.52" y="117.5" width="11.38" height="5.83" fill="#cc7f90"/><rect x="44" y="123.03" width="11.38" height="5.83" fill="#eab9c5"/><rect x="55.08" y="123.03" width="11.38" height="5.83" fill="#bf6679"/><rect x="66.15" y="123.03" width="11.38" height="5.83" fill="#c97a8b"/><rect x="77.22" y="123.03" width="11.38" height="5.83" fill="#d895a6"/><rect x="88.3" y="123.03" width="11.38" height="5.83" fill="#e2a7b6"/><rect x="99.38" y="123.03" width="11.38" height="5.83" fill="#ebbfca"/><rect x="110.45" y="123.03" width="11.38" height="5.83" fill="#eab9c5"/><rect x="121.52" y="123.03" width="11.38" height="5.83" fill="#e5adbb"/><rect x="44" y="128.56" width="11.38" height="5.83" fill="#eab9c5"/><rect x="55.08" y="128.56" width="11.38" height="5.83" fill="#bf6679"/><rect x="66.15" y="128.56" width="11.38" height="5.83" fill="#ba5c6e"/><rect x="77.22" y="128.56" width="11.38" height="5.83" fill="#d895a6"/><rect x="88.3" y="128.56" width="11.38" height="5.83" fill="#e2a7b6"/><rect x="99.38" y="128.56" width="11.38" height="5.83" fill="#edc4cf"/><rect x="110.45" y="128.56" width="11.38" height="5.83" fill="#f2d6de"/><rect x="121.52" y="128.56" width="11.38" height="5.83" fill="#db9bab"/><rect x="44" y="134.09" width="11.38" height="5.83" fill="#cc7f90"/><rect x="55.08" y="134.09" width="11.38" height="5.83" fill="#cf8596"/><rect x="66.15" y="134.09" width="11.38" height="5.83" fill="#efcad4"/><rect x="77.22" y="134.09" width="11.38" height="5.83" fill="#c47082"/><rect x="88.3" y="134.09" width="11.38" height="5.83" fill="#ebbfca"/><rect x="99.38" y="134.09" width="11.38" height="5.83" fill="#db9bab"/><rect x="110.45" y="134.09" width="11.38" height="5.83" fill="#e5adbb"/><rect x="121.52" y="134.09" width="11.38" height="5.83" fill="#d895a6"/><rect x="44" y="139.62" width="11.38" height="5.83" fill="#d590a1"/><rect x="55.08" y="139.62" width="11.38" height="5.83" fill="#d895a6"/><rect x="66.15" y="139.62" width="11.38" height="5.83" fill="#d590a1"/><rect x="77.22" y="139.62" width="11.38" height="5.83" fill="#c26b7d"/><rect x="88.3" y="139.62" width="11.38" height="5.83" fill="#d590a1"/><rect x="99.38" y="139.62" width="11.38" height="5.83" fill="#e5adbb"/><rect x="110.45" y="139.62" width="11.38" height="5.83" fill="#e5adbb"/><rect x="121.52" y="139.62" width="11.38" height="5.83" fill="#d590a1"/><rect x="44" y="145.15" width="11.38" height="5.83" fill="#d590a1"/><rect x="55.08" y="145.15" width="11.38" height="5.83" fill="#d895a6"/><rect x="66.15" y="145.15" width="11.38" height="5.83" fill="#d590a1"/><rect x="77.22" y="145.15" width="11.38" height="5.83" fill="#c77586"/><rect x="88.3" y="145.15" width="11.38" height="5.83" fill="#d895a6"/><rect x="99.38" y="145.15" width="11.38" height="5.83" fill="#db9bab"/><rect x="110.45" y="145.15" width="11.38" height="5.83" fill="#db9bab"/><rect x="121.52" y="145.15" width="11.38" height="5.83" fill="#d590a1"/><rect x="44" y="150.68" width="11.38" height="5.83" fill="#d590a1"/><rect x="55.08" y="150.68" width="11.38" height="5.83" fill="#cc7f90"/><rect x="66.15" y="150.68" width="11.38" height="5.83" fill="#d590a1"/><rect x="77.22" y="150.68" width="11.38" height="5.83" fill="#cf8596"/><rect x="88.3" y="150.68" width="11.38" height="5.83" fill="#d590a1"/><rect x="99.38" y="150.68" width="11.38" height="5.83" fill="#e2a7b6"/><rect x="110.45" y="150.68" width="11.38" height="5.83" fill="#e8b3c0"/><rect x="121.52" y="150.68" width="11.38" height="5.83" fill="#d895a6"/><rect x="44" y="156.21" width="11.38" height="5.83" fill="#db9bab"/><rect x="55.08" y="156.21" width="11.38" height="5.83" fill="#d590a1"/><rect x="66.15" y="156.21" width="11.38" height="5.83" fill="#cf8596"/><rect x="77.22" y="156.21" width="11.38" height="5.83" fill="#d28a9b"/><rect x="88.3" y="156.21" width="11.38" height="5.83" fill="#d895a6"/><rect x="99.38" y="156.21" width="11.38" height="5.83" fill="#e5adbb"/><rect x="110.45" y="156.21" width="11.38" height="5.83" fill="#eab9c5"/><rect x="121.52" y="156.21" width="11.38" height="5.83" fill="#cf8596"/><rect x="44" y="161.74" width="11.38" height="5.83" fill="#ba5c6e"/><rect x="55.08" y="161.74" width="11.38" height="5.83" fill="#bf6679"/><rect x="66.15" y="161.74" width="11.38" height="5.83" fill="#d28a9b"/><rect x="77.22" y="161.74" width="11.38" height="5.83" fill="#c77586"/><rect x="88.3" y="161.74" width="11.38" height="5.83" fill="#f3dee4"/><rect x="99.38" y="161.74" width="11.38" height="5.83" fill="#ab4252"/><rect x="110.45" y="161.74" width="11.38" height="5.83" fill="#9e2c39"/><rect x="121.52" y="161.74" width="11.38" height="5.83" fill="#c77586"/><rect x="44" y="167.27" width="11.38" height="5.83" fill="#d28a9b"/><rect x="55.08" y="167.27" width="11.38" height="5.83" fill="#ae4757"/><rect x="66.15" y="167.27" width="11.38" height="5.83" fill="#c26b7d"/><rect x="77.22" y="167.27" width="11.38" height="5.83" fill="#bd6174"/><rect x="88.3" y="167.27" width="11.38" height="5.83" fill="#c26b7d"/><rect x="99.38" y="167.27" width="11.38" height="5.83" fill="#c26b7d"/><rect x="110.45" y="167.27" width="11.38" height="5.83" fill="#c97a8b"/><rect x="121.52" y="167.27" width="11.38" height="5.83" fill="#c97a8b"/><rect x="44" y="172.8" width="11.38" height="5.83" fill="#d28a9b"/><rect x="55.08" y="172.8" width="11.38" height="5.83" fill="#a93d4c"/><rect x="66.15" y="172.8" width="11.38" height="5.83" fill="#ba5c6e"/><rect x="77.22" y="172.8" width="11.38" height="5.83" fill="#bd6174"/><rect x="88.3" y="172.8" width="11.38" height="5.83" fill="#b14c5d"/><rect x="99.38" y="172.8" width="11.38" height="5.83" fill="#ae4757"/><rect x="110.45" y="172.8" width="11.38" height="5.83" fill="#c47082"/><rect x="121.52" y="172.8" width="11.38" height="5.83" fill="#cf8596"/><rect x="44" y="178.33" width="11.38" height="5.83" fill="#c47082"/><rect x="55.08" y="178.33" width="11.38" height="5.83" fill="#c26b7d"/><rect x="66.15" y="178.33" width="11.38" height="5.83" fill="#bf6679"/><rect x="77.22" y="178.33" width="11.38" height="5.83" fill="#ba5c6e"/><rect x="88.3" y="178.33" width="11.38" height="5.83" fill="#c77586"/><rect x="99.38" y="178.33" width="11.38" height="5.83" fill="#c77586"/><rect x="110.45" y="178.33" width="11.38" height="5.83" fill="#c26b7d"/><rect x="121.52" y="178.33" width="11.38" height="5.83" fill="#c47082"/><rect x="44" y="183.86" width="11.38" height="5.83" fill="#c26b7d"/><rect x="55.08" y="183.86" width="11.38" height="5.83" fill="#bd6174"/><rect x="66.15" y="183.86" width="11.38" height="5.83" fill="#b75768"/><rect x="77.22" y="183.86" width="11.38" height="5.83" fill="#ba5c6e"/><rect x="88.3" y="183.86" width="11.38" height="5.83" fill="#c47082"/><rect x="99.38" y="183.86" width="11.38" height="5.83" fill="#c97a8b"/><rect x="110.45" y="183.86" width="11.38" height="5.83" fill="#bf6679"/><rect x="121.52" y="183.86" width="11.38" height="5.83" fill="#bf6679"/><rect x="44" y="189.39" width="11.38" height="5.83" fill="#c47082"/><rect x="55.08" y="189.39" width="11.38" height="5.83" fill="#bd6174"/><rect x="66.15" y="189.39" width="11.38" height="5.83" fill="#bd6174"/><rect x="77.22" y="189.39" width="11.38" height="5.83" fill="#bf6679"/><rect x="88.3" y="189.39" width="11.38" height="5.83" fill="#c97a8b"/><rect x="99.38" y="189.39" width="11.38" height="5.83" fill="#c97a8b"/><rect x="110.45" y="189.39" width="11.38" height="5.83" fill="#c26b7d"/><rect x="121.52" y="189.39" width="11.38" height="5.83" fill="#c26b7d"/><rect x="44" y="194.92" width="11.38" height="5.83" fill="#c97a8b"/><rect x="55.08" y="194.92" width="11.38" height="5.83" fill="#bd6174"/><rect x="66.15" y="194.92" width="11.38" height="5.83" fill="#c47082"/><rect x="77.22" y="194.92" width="11.38" height="5.83" fill="#bf6679"/><rect x="88.3" y="194.92" width="11.38" height="5.83" fill="#c47082"/><rect x="99.38" y="194.92" width="11.38" height="5.83" fill="#c47082"/><rect x="110.45" y="194.92" width="11.38" height="5.83" fill="#d590a1"/><rect x="121.52" y="194.92" width="11.38" height="5.83" fill="#c47082"/><rect x="44" y="200.45" width="11.38" height="5.83" fill="#c47082"/><rect x="55.08" y="200.45" width="11.38" height="5.83" fill="#bd6174"/><rect x="66.15" y="200.45" width="11.38" height="5.83" fill="#c26b7d"/><rect x="77.22" y="200.45" width="11.38" height="5.83" fill="#b45163"/><rect x="88.3" y="200.45" width="11.38" height="5.83" fill="#b45163"/><rect x="99.38" y="200.45" width="11.38" height="5.83" fill="#c26b7d"/><rect x="110.45" y="200.45" width="11.38" height="5.83" fill="#c97a8b"/><rect x="121.52" y="200.45" width="11.38" height="5.83" fill="#c26b7d"/><rect x="44" y="205.98" width="11.38" height="5.83" fill="#c26b7d"/><rect x="55.08" y="205.98" width="11.38" height="5.83" fill="#b14c5d"/><rect x="66.15" y="205.98" width="11.38" height="5.83" fill="#c26b7d"/><rect x="77.22" y="205.98" width="11.38" height="5.83" fill="#b45163"/><rect x="88.3" y="205.98" width="11.38" height="5.83" fill="#bd6174"/><rect x="99.38" y="205.98" width="11.38" height="5.83" fill="#bf6679"/><rect x="110.45" y="205.98" width="11.38" height="5.83" fill="#bf6679"/><rect x="121.52" y="205.98" width="11.38" height="5.83" fill="#bf6679"/><rect x="44" y="211.51" width="11.38" height="5.83" fill="#ae4757"/><rect x="55.08" y="211.51" width="11.38" height="5.83" fill="#bf6679"/><rect x="66.15" y="211.51" width="11.38" height="5.83" fill="#d28a9b"/><rect x="77.22" y="211.51" width="11.38" height="5.83" fill="#bd6174"/><rect x="88.3" y="211.51" width="11.38" height="5.83" fill="#bd6174"/><rect x="99.38" y="211.51" width="11.38" height="5.83" fill="#ba5c6e"/><rect x="110.45" y="211.51" width="11.38" height="5.83" fill="#b75768"/><rect x="121.52" y="211.51" width="11.38" height="5.83" fill="#d28a9b"/><rect x="44" y="217.04" width="11.38" height="5.83" fill="#bf6679"/><rect x="55.08" y="217.04" width="11.38" height="5.83" fill="#c47082"/><rect x="66.15" y="217.04" width="11.38" height="5.83" fill="#c97a8b"/><rect x="77.22" y="217.04" width="11.38" height="5.83" fill="#d28a9b"/><rect x="88.3" y="217.04" width="11.38" height="5.83" fill="#c77586"/><rect x="99.38" y="217.04" width="11.38" height="5.83" fill="#c47082"/><rect x="110.45" y="217.04" width="11.38" height="5.83" fill="#ba5c6e"/><rect x="121.52" y="217.04" width="11.38" height="5.83" fill="#cc7f90"/><rect x="44" y="222.57" width="11.38" height="5.83" fill="#bf6679"/><rect x="55.08" y="222.57" width="11.38" height="5.83" fill="#c97a8b"/><rect x="66.15" y="222.57" width="11.38" height="5.83" fill="#c97a8b"/><rect x="77.22" y="222.57" width="11.38" height="5.83" fill="#c77586"/><rect x="88.3" y="222.57" width="11.38" height="5.83" fill="#c77586"/><rect x="99.38" y="222.57" width="11.38" height="5.83" fill="#c47082"/><rect x="110.45" y="222.57" width="11.38" height="5.83" fill="#c47082"/><rect x="121.52" y="222.57" width="11.38" height="5.83" fill="#c97a8b"/><rect x="44" y="228.1" width="11.38" height="5.83" fill="#c47082"/><rect x="55.08" y="228.1" width="11.38" height="5.83" fill="#c77586"/><rect x="66.15" y="228.1" width="11.38" height="5.83" fill="#c97a8b"/><rect x="77.22" y="228.1" width="11.38" height="5.83" fill="#bf6679"/><rect x="88.3" y="228.1" width="11.38" height="5.83" fill="#bf6679"/><rect x="99.38" y="228.1" width="11.38" height="5.83" fill="#bd6174"/><rect x="110.45" y="228.1" width="11.38" height="5.83" fill="#c26b7d"/><rect x="121.52" y="228.1" width="11.38" height="5.83" fill="#c47082"/><rect x="44" y="233.63" width="11.38" height="5.83" fill="#c47082"/><rect x="55.08" y="233.63" width="11.38" height="5.83" fill="#cf8596"/><rect x="66.15" y="233.63" width="11.38" height="5.83" fill="#d28a9b"/><rect x="77.22" y="233.63" width="11.38" height="5.83" fill="#c26b7d"/><rect x="88.3" y="233.63" width="11.38" height="5.83" fill="#c47082"/><rect x="99.38" y="233.63" width="11.38" height="5.83" fill="#c47082"/><rect x="110.45" y="233.63" width="11.38" height="5.83" fill="#cc7f90"/><rect x="121.52" y="233.63" width="11.38" height="5.83" fill="#c97a8b"/><rect x="44" y="239.16" width="11.38" height="5.83" fill="#eab9c5"/><rect x="55.08" y="239.16" width="11.38" height="5.83" fill="#c26b7d"/><rect x="66.15" y="239.16" width="11.38" height="5.83" fill="#bf6679"/><rect x="77.22" y="239.16" width="11.38" height="5.83" fill="#bf6679"/><rect x="88.3" y="239.16" width="11.38" height="5.83" fill="#c77586"/><rect x="99.38" y="239.16" width="11.38" height="5.83" fill="#d590a1"/><rect x="110.45" y="239.16" width="11.38" height="5.83" fill="#e5adbb"/><rect x="121.52" y="239.16" width="11.38" height="5.83" fill="#c26b7d"/><rect x="44" y="244.69" width="11.38" height="5.83" fill="#c97a8b"/><rect x="55.08" y="244.69" width="11.38" height="5.83" fill="#c97a8b"/><rect x="66.15" y="244.69" width="11.38" height="5.83" fill="#bf6679"/><rect x="77.22" y="244.69" width="11.38" height="5.83" fill="#bf6679"/><rect x="88.3" y="244.69" width="11.38" height="5.83" fill="#c77586"/><rect x="99.38" y="244.69" width="11.38" height="5.83" fill="#d28a9b"/><rect x="110.45" y="244.69" width="11.38" height="5.83" fill="#cf8596"/><rect x="121.52" y="244.69" width="11.38" height="5.83" fill="#c26b7d"/><rect x="44" y="250.22" width="11.38" height="5.83" fill="#cf8596"/><rect x="55.08" y="250.22" width="11.38" height="5.83" fill="#bf6679"/><rect x="66.15" y="250.22" width="11.38" height="5.83" fill="#bd6174"/><rect x="77.22" y="250.22" width="11.38" height="5.83" fill="#c26b7d"/><rect x="88.3" y="250.22" width="11.38" height="5.83" fill="#cf8596"/><rect x="99.38" y="250.22" width="11.38" height="5.83" fill="#cf8596"/><rect x="110.45" y="250.22" width="11.38" height="5.83" fill="#c97a8b"/><rect x="121.52" y="250.22" width="11.38" height="5.83" fill="#c26b7d"/><rect x="44" y="255.75" width="11.38" height="5.83" fill="#cf8596"/><rect x="55.08" y="255.75" width="11.38" height="5.83" fill="#bd6174"/><rect x="66.15" y="255.75" width="11.38" height="5.83" fill="#bd6174"/><rect x="77.22" y="255.75" width="11.38" height="5.83" fill="#e8b3c0"/><rect x="88.3" y="255.75" width="11.38" height="5.83" fill="#e8b3c0"/><rect x="99.38" y="255.75" width="11.38" height="5.83" fill="#c26b7d"/><rect x="110.45" y="255.75" width="11.38" height="5.83" fill="#d28a9b"/><rect x="121.52" y="255.75" width="11.38" height="5.83" fill="#c97a8b"/><rect x="44" y="261.28" width="11.38" height="5.83" fill="#ba5c6e"/><rect x="55.08" y="261.28" width="11.38" height="5.83" fill="#cc7f90"/><rect x="66.15" y="261.28" width="11.38" height="5.83" fill="#ae4757"/><rect x="77.22" y="261.28" width="11.38" height="5.83" fill="#d590a1"/><rect x="88.3" y="261.28" width="11.38" height="5.83" fill="#cc7f90"/><rect x="99.38" y="261.28" width="11.38" height="5.83" fill="#db9bab"/><rect x="110.45" y="261.28" width="11.38" height="5.83" fill="#c97a8b"/><rect x="121.52" y="261.28" width="11.38" height="5.83" fill="#ae4757"/><rect x="44" y="266.81" width="11.38" height="5.83" fill="#c26b7d"/><rect x="55.08" y="266.81" width="11.38" height="5.83" fill="#d590a1"/><rect x="66.15" y="266.81" width="11.38" height="5.83" fill="#d28a9b"/><rect x="77.22" y="266.81" width="11.38" height="5.83" fill="#d590a1"/><rect x="88.3" y="266.81" width="11.38" height="5.83" fill="#d590a1"/><rect x="99.38" y="266.81" width="11.38" height="5.83" fill="#d590a1"/><rect x="110.45" y="266.81" width="11.38" height="5.83" fill="#cc7f90"/><rect x="121.52" y="266.81" width="11.38" height="5.83" fill="#cc7f90"/><rect x="44" y="272.34" width="11.38" height="5.83" fill="#c47082"/><rect x="55.08" y="272.34" width="11.38" height="5.83" fill="#d590a1"/><rect x="66.15" y="272.34" width="11.38" height="5.83" fill="#d590a1"/><rect x="77.22" y="272.34" width="11.38" height="5.83" fill="#d895a6"/><rect x="88.3" y="272.34" width="11.38" height="5.83" fill="#d895a6"/><rect x="99.38" y="272.34" width="11.38" height="5.83" fill="#db9bab"/><rect x="110.45" y="272.34" width="11.38" height="5.83" fill="#d28a9b"/><rect x="121.52" y="272.34" width="11.38" height="5.83" fill="#d28a9b"/><rect x="44" y="277.87" width="11.38" height="5.83" fill="#cf8596"/><rect x="55.08" y="277.87" width="11.38" height="5.83" fill="#cf8596"/><rect x="66.15" y="277.87" width="11.38" height="5.83" fill="#cc7f90"/><rect x="77.22" y="277.87" width="11.38" height="5.83" fill="#d590a1"/><rect x="88.3" y="277.87" width="11.38" height="5.83" fill="#d895a6"/><rect x="99.38" y="277.87" width="11.38" height="5.83" fill="#d590a1"/><rect x="110.45" y="277.87" width="11.38" height="5.83" fill="#db9bab"/><rect x="121.52" y="277.87" width="11.38" height="5.83" fill="#c97a8b"/><rect x="44" y="283.4" width="11.38" height="5.83" fill="#cc7f90"/><rect x="55.08" y="283.4" width="11.38" height="5.83" fill="#e2a7b6"/><rect x="66.15" y="283.4" width="11.38" height="5.83" fill="#cc7f90"/><rect x="77.22" y="283.4" width="11.38" height="5.83" fill="#cf8596"/><rect x="88.3" y="283.4" width="11.38" height="5.83" fill="#d28a9b"/><rect x="99.38" y="283.4" width="11.38" height="5.83" fill="#d895a6"/><rect x="110.45" y="283.4" width="11.38" height="5.83" fill="#d895a6"/><rect x="121.52" y="283.4" width="11.38" height="5.83" fill="#cf8596"/><rect x="44" y="293.5" width="11.38" height="5.83" fill="#a1d1da"/><rect x="55.08" y="293.5" width="11.38" height="5.83" fill="#a1d1da"/><rect x="66.15" y="293.5" width="11.38" height="5.83" fill="#9accd6"/><rect x="77.22" y="293.5" width="11.38" height="5.83" fill="#9accd6"/><rect x="88.3" y="293.5" width="11.38" height="5.83" fill="#c9e6ea"/><rect x="99.38" y="293.5" width="11.38" height="5.83" fill="#c9e6ea"/><rect x="110.45" y="293.5" width="11.38" height="5.83" fill="#c1e2e7"/><rect x="121.52" y="293.5" width="11.38" height="5.83" fill="#a1d1da"/><rect x="44" y="299.03" width="11.38" height="5.83" fill="#8dc2ce"/><rect x="55.08" y="299.03" width="11.38" height="5.83" fill="#77afc4"/><rect x="66.15" y="299.03" width="11.38" height="5.83" fill="#88bdcc"/><rect x="77.22" y="299.03" width="11.38" height="5.83" fill="#7cb4c6"/><rect x="88.3" y="299.03" width="11.38" height="5.83" fill="#82b8c9"/><rect x="99.38" y="299.03" width="11.38" height="5.83" fill="#a8d6de"/><rect x="110.45" y="299.03" width="11.38" height="5.83" fill="#a1d1da"/><rect x="121.52" y="299.03" width="11.38" height="5.83" fill="#8dc2ce"/><rect x="44" y="304.56" width="11.38" height="5.83" fill="#82b8c9"/><rect x="55.08" y="304.56" width="11.38" height="5.83" fill="#73acc3"/><rect x="66.15" y="304.56" width="11.38" height="5.83" fill="#8dc2ce"/><rect x="77.22" y="304.56" width="11.38" height="5.83" fill="#73acc3"/><rect x="88.3" y="304.56" width="11.38" height="5.83" fill="#73acc3"/><rect x="99.38" y="304.56" width="11.38" height="5.83" fill="#a1d1da"/><rect x="110.45" y="304.56" width="11.38" height="5.83" fill="#b8dee4"/><rect x="121.52" y="304.56" width="11.38" height="5.83" fill="#9accd6"/><rect x="44" y="314.7" width="11.38" height="5.83" fill="#5a96ba"/><rect x="55.08" y="314.7" width="11.38" height="5.83" fill="#5e9bbc"/><rect x="66.15" y="314.7" width="11.38" height="5.83" fill="#5e9bbc"/><rect x="77.22" y="314.7" width="11.38" height="5.83" fill="#5792b7"/><rect x="88.3" y="314.7" width="11.38" height="5.83" fill="#538db5"/><rect x="99.38" y="314.7" width="11.38" height="5.83" fill="#5a96ba"/><rect x="110.45" y="314.7" width="11.38" height="5.83" fill="#5a96ba"/><rect x="121.52" y="314.7" width="11.38" height="5.83" fill="#5a96ba"/><rect x="44" y="320.23" width="11.38" height="5.83" fill="#5e9bbc"/><rect x="55.08" y="320.23" width="11.38" height="5.83" fill="#5e9bbc"/><rect x="66.15" y="320.23" width="11.38" height="5.83" fill="#5e9bbc"/><rect x="77.22" y="320.23" width="11.38" height="5.83" fill="#5e9bbc"/><rect x="88.3" y="320.23" width="11.38" height="5.83" fill="#5e9bbc"/><rect x="99.38" y="320.23" width="11.38" height="5.83" fill="#5e9bbc"/><rect x="110.45" y="320.23" width="11.38" height="5.83" fill="#5e9bbc"/><rect x="121.52" y="320.23" width="11.38" height="5.83" fill="#5e9bbc"/><rect x="44" y="325.76" width="11.38" height="5.83" fill="#5e9bbc"/><rect x="55.08" y="325.76" width="11.38" height="5.83" fill="#5792b7"/><rect x="66.15" y="325.76" width="11.38" height="5.83" fill="#5a96ba"/><rect x="77.22" y="325.76" width="11.38" height="5.83" fill="#5792b7"/><rect x="88.3" y="325.76" width="11.38" height="5.83" fill="#4f89b2"/><rect x="99.38" y="325.76" width="11.38" height="5.83" fill="#4d87b0"/><rect x="110.45" y="325.76" width="11.38" height="5.83" fill="#5792b7"/><rect x="121.52" y="325.76" width="11.38" height="5.83" fill="#5a96ba"/><rect x="44" y="331.29" width="11.38" height="5.83" fill="#4f89b2"/><rect x="55.08" y="331.29" width="11.38" height="5.83" fill="#6fa9c2"/><rect x="66.15" y="331.29" width="11.38" height="5.83" fill="#5792b7"/><rect x="77.22" y="331.29" width="11.38" height="5.83" fill="#5792b7"/><rect x="88.3" y="331.29" width="11.38" height="5.83" fill="#5792b7"/><rect x="99.38" y="331.29" width="11.38" height="5.83" fill="#538db5"/><rect x="110.45" y="331.29" width="11.38" height="5.83" fill="#5792b7"/><rect x="121.52" y="331.29" width="11.38" height="5.83" fill="#5792b7"/><rect x="44" y="336.82" width="11.38" height="5.83" fill="#6aa5c1"/><rect x="55.08" y="336.82" width="11.38" height="5.83" fill="#6aa5c1"/><rect x="66.15" y="336.82" width="11.38" height="5.83" fill="#73acc3"/><rect x="77.22" y="336.82" width="11.38" height="5.83" fill="#629fbf"/><rect x="88.3" y="336.82" width="11.38" height="5.83" fill="#6aa5c1"/><rect x="99.38" y="336.82" width="11.38" height="5.83" fill="#6aa5c1"/><rect x="110.45" y="336.82" width="11.38" height="5.83" fill="#6aa5c1"/><rect x="121.52" y="336.82" width="11.38" height="5.83" fill="#6aa5c1"/><rect x="44" y="342.35" width="11.38" height="5.83" fill="#66a2c0"/><rect x="55.08" y="342.35" width="11.38" height="5.83" fill="#6aa5c1"/><rect x="66.15" y="342.35" width="11.38" height="5.83" fill="#66a2c0"/><rect x="77.22" y="342.35" width="11.38" height="5.83" fill="#6aa5c1"/><rect x="88.3" y="342.35" width="11.38" height="5.83" fill="#6aa5c1"/><rect x="99.38" y="342.35" width="11.38" height="5.83" fill="#6aa5c1"/><rect x="110.45" y="342.35" width="11.38" height="5.83" fill="#77afc4"/><rect x="121.52" y="342.35" width="11.38" height="5.83" fill="#6aa5c1"/><rect x="44" y="347.88" width="11.38" height="5.83" fill="#6fa9c2"/><rect x="55.08" y="347.88" width="11.38" height="5.83" fill="#77afc4"/><rect x="66.15" y="347.88" width="11.38" height="5.83" fill="#73acc3"/><rect x="77.22" y="347.88" width="11.38" height="5.83" fill="#6fa9c2"/><rect x="88.3" y="347.88" width="11.38" height="5.83" fill="#77afc4"/><rect x="99.38" y="347.88" width="11.38" height="5.83" fill="#73acc3"/><rect x="110.45" y="347.88" width="11.38" height="5.83" fill="#77afc4"/><rect x="121.52" y="347.88" width="11.38" height="5.83" fill="#73acc3"/><rect x="44" y="353.41" width="11.38" height="5.83" fill="#6aa5c1"/><rect x="55.08" y="353.41" width="11.38" height="5.83" fill="#73acc3"/><rect x="66.15" y="353.41" width="11.38" height="5.83" fill="#77afc4"/><rect x="77.22" y="353.41" width="11.38" height="5.83" fill="#77afc4"/><rect x="88.3" y="353.41" width="11.38" height="5.83" fill="#77afc4"/><rect x="99.38" y="353.41" width="11.38" height="5.83" fill="#73acc3"/><rect x="110.45" y="353.41" width="11.38" height="5.83" fill="#73acc3"/><rect x="121.52" y="353.41" width="11.38" height="5.83" fill="#73acc3"/><rect x="44" y="358.94" width="11.38" height="5.83" fill="#6fa9c2"/><rect x="55.08" y="358.94" width="11.38" height="5.83" fill="#6fa9c2"/><rect x="66.15" y="358.94" width="11.38" height="5.83" fill="#6fa9c2"/><rect x="77.22" y="358.94" width="11.38" height="5.83" fill="#7cb4c6"/><rect x="88.3" y="358.94" width="11.38" height="5.83" fill="#73acc3"/><rect x="99.38" y="358.94" width="11.38" height="5.83" fill="#73acc3"/><rect x="110.45" y="358.94" width="11.38" height="5.83" fill="#66a2c0"/><rect x="121.52" y="358.94" width="11.38" height="5.83" fill="#73acc3"/><rect x="44" y="364.47" width="11.38" height="5.83" fill="#6fa9c2"/><rect x="55.08" y="364.47" width="11.38" height="5.83" fill="#6fa9c2"/><rect x="66.15" y="364.47" width="11.38" height="5.83" fill="#6fa9c2"/><rect x="77.22" y="364.47" width="11.38" height="5.83" fill="#82b8c9"/><rect x="88.3" y="364.47" width="11.38" height="5.83" fill="#77afc4"/><rect x="99.38" y="364.47" width="11.38" height="5.83" fill="#73acc3"/><rect x="110.45" y="364.47" width="11.38" height="5.83" fill="#6fa9c2"/><rect x="121.52" y="364.47" width="11.38" height="5.83" fill="#73acc3"/><rect x="44" y="370" width="11.38" height="5.83" fill="#6fa9c2"/><rect x="55.08" y="370" width="11.38" height="5.83" fill="#6aa5c1"/><rect x="66.15" y="370" width="11.38" height="5.83" fill="#6aa5c1"/><rect x="77.22" y="370" width="11.38" height="5.83" fill="#5a96ba"/><rect x="88.3" y="370" width="11.38" height="5.83" fill="#5e9bbc"/><rect x="99.38" y="370" width="11.38" height="5.83" fill="#6fa9c2"/><rect x="110.45" y="370" width="11.38" height="5.83" fill="#9accd6"/><rect x="121.52" y="370" width="11.38" height="5.83" fill="#66a2c0"/><rect x="44" y="375.53" width="11.38" height="5.83" fill="#5e9bbc"/><rect x="55.08" y="375.53" width="11.38" height="5.83" fill="#6fa9c2"/><rect x="66.15" y="375.53" width="11.38" height="5.83" fill="#629fbf"/><rect x="77.22" y="375.53" width="11.38" height="5.83" fill="#66a2c0"/><rect x="88.3" y="375.53" width="11.38" height="5.83" fill="#73acc3"/><rect x="99.38" y="375.53" width="11.38" height="5.83" fill="#66a2c0"/><rect x="110.45" y="375.53" width="11.38" height="5.83" fill="#6aa5c1"/><rect x="121.52" y="375.53" width="11.38" height="5.83" fill="#5a96ba"/><rect x="44" y="381.06" width="11.38" height="5.83" fill="#6aa5c1"/><rect x="55.08" y="381.06" width="11.38" height="5.83" fill="#5e9bbc"/><rect x="66.15" y="381.06" width="11.38" height="5.83" fill="#66a2c0"/><rect x="77.22" y="381.06" width="11.38" height="5.83" fill="#66a2c0"/><rect x="88.3" y="381.06" width="11.38" height="5.83" fill="#5e9bbc"/><rect x="99.38" y="381.06" width="11.38" height="5.83" fill="#66a2c0"/><rect x="110.45" y="381.06" width="11.38" height="5.83" fill="#66a2c0"/><rect x="121.52" y="381.06" width="11.38" height="5.83" fill="#66a2c0"/><rect x="44" y="386.59" width="11.38" height="5.83" fill="#6aa5c1"/><rect x="55.08" y="386.59" width="11.38" height="5.83" fill="#73acc3"/><rect x="66.15" y="386.59" width="11.38" height="5.83" fill="#66a2c0"/><rect x="77.22" y="386.59" width="11.38" height="5.83" fill="#629fbf"/><rect x="88.3" y="386.59" width="11.38" height="5.83" fill="#66a2c0"/><rect x="99.38" y="386.59" width="11.38" height="5.83" fill="#66a2c0"/><rect x="110.45" y="386.59" width="11.38" height="5.83" fill="#66a2c0"/><rect x="121.52" y="386.59" width="11.38" height="5.83" fill="#66a2c0"/><rect x="44" y="392.12" width="11.38" height="5.83" fill="#66a2c0"/><rect x="55.08" y="392.12" width="11.38" height="5.83" fill="#66a2c0"/><rect x="66.15" y="392.12" width="11.38" height="5.83" fill="#6aa5c1"/><rect x="77.22" y="392.12" width="11.38" height="5.83" fill="#5e9bbc"/><rect x="88.3" y="392.12" width="11.38" height="5.83" fill="#66a2c0"/><rect x="99.38" y="392.12" width="11.38" height="5.83" fill="#629fbf"/><rect x="110.45" y="392.12" width="11.38" height="5.83" fill="#66a2c0"/><rect x="121.52" y="392.12" width="11.38" height="5.83" fill="#6aa5c1"/><rect x="44" y="397.65" width="11.38" height="5.83" fill="#6aa5c1"/><rect x="55.08" y="397.65" width="11.38" height="5.83" fill="#6aa5c1"/><rect x="66.15" y="397.65" width="11.38" height="5.83" fill="#629fbf"/><rect x="77.22" y="397.65" width="11.38" height="5.83" fill="#6fa9c2"/><rect x="88.3" y="397.65" width="11.38" height="5.83" fill="#66a2c0"/><rect x="99.38" y="397.65" width="11.38" height="5.83" fill="#6fa9c2"/><rect x="110.45" y="397.65" width="11.38" height="5.83" fill="#6fa9c2"/><rect x="121.52" y="397.65" width="11.38" height="5.83" fill="#66a2c0"/><rect x="44" y="403.18" width="11.38" height="5.83" fill="#629fbf"/><rect x="55.08" y="403.18" width="11.38" height="5.83" fill="#6fa9c2"/><rect x="66.15" y="403.18" width="11.38" height="5.83" fill="#6fa9c2"/><rect x="77.22" y="403.18" width="11.38" height="5.83" fill="#6aa5c1"/><rect x="88.3" y="403.18" width="11.38" height="5.83" fill="#66a2c0"/><rect x="99.38" y="403.18" width="11.38" height="5.83" fill="#73acc3"/><rect x="110.45" y="403.18" width="11.38" height="5.83" fill="#73acc3"/><rect x="121.52" y="403.18" width="11.38" height="5.83" fill="#6fa9c2"/><rect x="44" y="408.71" width="11.38" height="5.83" fill="#629fbf"/><rect x="55.08" y="408.71" width="11.38" height="5.83" fill="#6fa9c2"/><rect x="66.15" y="408.71" width="11.38" height="5.83" fill="#6fa9c2"/><rect x="77.22" y="408.71" width="11.38" height="5.83" fill="#73acc3"/><rect x="88.3" y="408.71" width="11.38" height="5.83" fill="#6fa9c2"/><rect x="99.38" y="408.71" width="11.38" height="5.83" fill="#73acc3"/><rect x="110.45" y="408.71" width="11.38" height="5.83" fill="#6fa9c2"/><rect x="121.52" y="408.71" width="11.38" height="5.83" fill="#6fa9c2"/><rect x="44" y="414.24" width="11.38" height="5.83" fill="#66a2c0"/><rect x="55.08" y="414.24" width="11.38" height="5.83" fill="#6aa5c1"/><rect x="66.15" y="414.24" width="11.38" height="5.83" fill="#6aa5c1"/><rect x="77.22" y="414.24" width="11.38" height="5.83" fill="#73acc3"/><rect x="88.3" y="414.24" width="11.38" height="5.83" fill="#73acc3"/><rect x="99.38" y="414.24" width="11.38" height="5.83" fill="#73acc3"/><rect x="110.45" y="414.24" width="11.38" height="5.83" fill="#73acc3"/><rect x="121.52" y="414.24" width="11.38" height="5.83" fill="#6fa9c2"/></g>
<g stroke="#111" stroke-width="0.18"><text x="135.6" y="24.16" font-size="7.3" font-style="italic" fill="#111" stroke="#111" stroke-width="0.14">Grin1</text><text x="135.6" y="29.7" font-size="7.3" font-style="italic" fill="#111" stroke="#111" stroke-width="0.14">Gabrd</text><text x="135.6" y="35.23" font-size="7.3" font-style="italic" fill="#111" stroke="#111" stroke-width="0.14">Gabra4</text><text x="135.6" y="40.76" font-size="7.3" font-style="italic" fill="#111" stroke="#111" stroke-width="0.14">Ppp3ca</text><text x="135.6" y="46.29" font-size="7.3" font-style="italic" fill="#111" stroke="#111" stroke-width="0.14">Thbs4</text><text x="135.6" y="51.82" font-size="7.3" font-style="italic" fill="#111" stroke="#111" stroke-width="0.14">Plcb4</text><text x="135.6" y="57.34" font-size="7.3" font-style="italic" fill="#111" stroke="#111" stroke-width="0.14">Rapgef5</text><text x="135.6" y="62.88" font-size="7.3" font-style="italic" fill="#111" stroke="#111" stroke-width="0.14">Camk1d</text><text x="135.6" y="68.41" font-size="7.3" font-style="italic" fill="#111" stroke="#111" stroke-width="0.14">Gabarapl1</text><text x="135.6" y="73.94" font-size="7.3" font-style="italic" fill="#111" stroke="#111" stroke-width="0.14">Gabbr1</text><text x="135.6" y="79.47" font-size="7.3" font-style="italic" fill="#111" stroke="#111" stroke-width="0.14">Lynx1</text><text x="135.6" y="85" font-size="7.3" font-style="italic" fill="#111" stroke="#111" stroke-width="0.14">Dnm3</text><text x="135.6" y="90.53" font-size="7.3" font-style="italic" fill="#111" stroke="#111" stroke-width="0.14">Rimkla</text><text x="135.6" y="96.06" font-size="7.3" font-style="italic" fill="#111" stroke="#111" stroke-width="0.14">Gabrg3</text><text x="135.6" y="101.59" font-size="7.3" font-style="italic" fill="#111" stroke="#111" stroke-width="0.14">Grm1</text><text x="135.6" y="107.12" font-size="7.3" font-style="italic" fill="#111" stroke="#111" stroke-width="0.14">Slc38a3</text><text x="135.6" y="112.65" font-size="7.3" font-style="italic" fill="#111" stroke="#111" stroke-width="0.14">Gucy1a2</text><text x="135.6" y="122.67" font-size="7.3" font-style="italic" fill="#111" stroke="#111" stroke-width="0.14">Hrh1</text><text x="135.6" y="128.19" font-size="7.3" font-style="italic" fill="#111" stroke="#111" stroke-width="0.14">Hap1</text><text x="135.6" y="133.72" font-size="7.3" font-style="italic" fill="#111" stroke="#111" stroke-width="0.14">Trhr</text><text x="135.6" y="139.25" font-size="7.3" font-style="italic" fill="#111" stroke="#111" stroke-width="0.14">Cox7c</text><text x="135.6" y="144.78" font-size="7.3" font-style="italic" fill="#111" stroke="#111" stroke-width="0.14">Gabbr2</text><text x="135.6" y="150.31" font-size="7.3" font-style="italic" fill="#111" stroke="#111" stroke-width="0.14">Adra1d</text><text x="135.6" y="155.84" font-size="7.3" font-style="italic" fill="#111" stroke="#111" stroke-width="0.14">Gls</text><text x="135.6" y="161.38" font-size="7.3" font-style="italic" fill="#111" stroke="#111" stroke-width="0.14">Gpx2</text><text x="135.6" y="166.91" font-size="7.3" font-style="italic" fill="#111" stroke="#111" stroke-width="0.14">Aspa</text><text x="135.6" y="172.44" font-size="7.3" font-style="italic" fill="#111" stroke="#111" stroke-width="0.14">Gria2</text><text x="135.6" y="177.97" font-size="7.3" font-style="italic" fill="#111" stroke="#111" stroke-width="0.14">Npy2r</text><text x="135.6" y="183.5" font-size="7.3" font-style="italic" fill="#111" stroke="#111" stroke-width="0.14">Shank3</text><text x="135.6" y="189.03" font-size="7.3" font-style="italic" fill="#111" stroke="#111" stroke-width="0.14">Gabrg1</text><text x="135.6" y="194.55" font-size="7.3" font-style="italic" fill="#111" stroke="#111" stroke-width="0.14">Ednrb</text><text x="135.6" y="200.09" font-size="7.3" font-style="italic" fill="#111" stroke="#111" stroke-width="0.14">Rasal1</text><text x="135.6" y="205.61" font-size="7.3" font-style="italic" fill="#111" stroke="#111" stroke-width="0.14">Ywhah</text><text x="135.6" y="211.15" font-size="7.3" font-style="italic" fill="#111" stroke="#111" stroke-width="0.14">Klc1</text><text x="135.6" y="216.67" font-size="7.3" font-style="italic" fill="#111" stroke="#111" stroke-width="0.14">Prkca</text><text x="135.6" y="222.21" font-size="7.3" font-style="italic" fill="#111" stroke="#111" stroke-width="0.14">Kdr</text><text x="135.6" y="227.73" font-size="7.3" font-style="italic" fill="#111" stroke="#111" stroke-width="0.14">Prnp</text><text x="135.6" y="233.27" font-size="7.3" font-style="italic" fill="#111" stroke="#111" stroke-width="0.14">Adcy9</text><text x="135.6" y="238.79" font-size="7.3" font-style="italic" fill="#111" stroke="#111" stroke-width="0.14">Ppp3cb</text><text x="135.6" y="244.33" font-size="7.3" font-style="italic" fill="#111" stroke="#111" stroke-width="0.14">Grin3a</text><text x="135.6" y="249.85" font-size="7.3" font-style="italic" fill="#111" stroke="#111" stroke-width="0.14">Camk1g</text><text x="135.6" y="255.38" font-size="7.3" font-style="italic" fill="#111" stroke="#111" stroke-width="0.14">Pdgfrb</text><text x="135.6" y="260.91" font-size="7.3" font-style="italic" fill="#111" stroke="#111" stroke-width="0.14">Pak6</text><text x="135.6" y="266.44" font-size="7.3" font-style="italic" fill="#111" stroke="#111" stroke-width="0.14">Cckbr</text><text x="135.6" y="271.97" font-size="7.3" font-style="italic" fill="#111" stroke="#111" stroke-width="0.14">Elk1</text><text x="135.6" y="277.5" font-size="7.3" font-style="italic" fill="#111" stroke="#111" stroke-width="0.14">Magi1</text><text x="135.6" y="283.03" font-size="7.3" font-style="italic" fill="#111" stroke="#111" stroke-width="0.14">Lypd6</text><text x="135.6" y="288.56" font-size="7.3" font-style="italic" fill="#111" stroke="#111" stroke-width="0.14">S1pr1</text><text x="135.6" y="298.66" font-size="7.3" font-style="italic" fill="#111" stroke="#111" stroke-width="0.14">Plin4</text><text x="135.6" y="304.19" font-size="7.3" font-style="italic" fill="#111" stroke="#111" stroke-width="0.14">Nfe2l2</text><text x="135.6" y="309.72" font-size="7.3" font-style="italic" fill="#111" stroke="#111" stroke-width="0.14">Gpx8</text><text x="135.6" y="319.86" font-size="7.3" font-style="italic" fill="#111" stroke="#111" stroke-width="0.14">Osmr</text><text x="135.6" y="325.39" font-size="7.3" font-style="italic" fill="#111" stroke="#111" stroke-width="0.14">Timp1</text><text x="135.6" y="330.92" font-size="7.3" font-style="italic" fill="#111" stroke="#111" stroke-width="0.14">Prkd2</text><text x="135.6" y="336.45" font-size="7.3" font-style="italic" fill="#111" stroke="#111" stroke-width="0.14">Eno3</text><text x="135.6" y="341.98" font-size="7.3" font-style="italic" fill="#111" stroke="#111" stroke-width="0.14">Col4a5</text><text x="135.6" y="347.51" font-size="7.3" font-style="italic" fill="#111" stroke="#111" stroke-width="0.14">Casp8</text><text x="135.6" y="353.04" font-size="7.3" font-style="italic" fill="#111" stroke="#111" stroke-width="0.14">Plin2</text><text x="135.6" y="358.57" font-size="7.3" font-style="italic" fill="#111" stroke="#111" stroke-width="0.14">Il2rg</text><text x="135.6" y="364.1" font-size="7.3" font-style="italic" fill="#111" stroke="#111" stroke-width="0.14">Mst1</text><text x="135.6" y="369.63" font-size="7.3" font-style="italic" fill="#111" stroke="#111" stroke-width="0.14">Il6</text><text x="135.6" y="375.16" font-size="7.3" font-style="italic" fill="#111" stroke="#111" stroke-width="0.14">Lama5</text><text x="135.6" y="380.69" font-size="7.3" font-style="italic" fill="#111" stroke="#111" stroke-width="0.14">Myb</text><text x="135.6" y="386.22" font-size="7.3" font-style="italic" fill="#111" stroke="#111" stroke-width="0.14">Mcoln2</text><text x="135.6" y="391.75" font-size="7.3" font-style="italic" fill="#111" stroke="#111" stroke-width="0.14">Rasa4</text><text x="135.6" y="397.28" font-size="7.3" font-style="italic" fill="#111" stroke="#111" stroke-width="0.14">Thbs2</text><text x="135.6" y="402.81" font-size="7.3" font-style="italic" fill="#111" stroke="#111" stroke-width="0.14">Ptgir</text><text x="135.6" y="408.34" font-size="7.3" font-style="italic" fill="#111" stroke="#111" stroke-width="0.14">Shc1</text><text x="135.6" y="413.87" font-size="7.3" font-style="italic" fill="#111" stroke="#111" stroke-width="0.14">Cdkn2a</text><text x="135.6" y="419.4" font-size="7.3" font-style="italic" fill="#111" stroke="#111" stroke-width="0.14">Adcy7</text></g>
<text x="21.7" y="19.4" font-size="8" font-weight="bold" fill="#111" stroke="#111" stroke-width="0.06" transform="rotate(90 21.7 19.4)" dominant-baseline="central">Regulation status</text>
<text x="34.8" y="19.4" font-size="7.8" font-weight="bold" fill="#111" stroke="#111" stroke-width="0.06" transform="rotate(90 34.8 19.4)" dominant-baseline="central">Pathway</text>
<path d="M12.4 104.6 H1.3 V326.3 H12.2" fill="none" stroke="#111" stroke-width="0.7"/>
<path d="M12.4 47 V165.5" fill="none" stroke="#111" stroke-width="0.7"/>
<path d="M12.4 47 H13.4 M13.4 24 V92 M13.4 24 H14.6 V20 M13.4 30 H15 M13.4 38 H15.2 M13.4 55 H15 M13.4 70 H15.2 M13.4 80 H15 M13.4 92 H15 M14.6 20 H15.6" fill="none" stroke="#111" stroke-width="0.9"/>
<path d="M12.4 165.5 H14 M14 122 V286 M14 122 H15.3 M14 140 H15.3 M14 160 H15.5 M14 190 H15.3 M14 215 H15.6 M14 240 H15.4 M14 262 H15.5 M14 286 H15.4" fill="none" stroke="#111" stroke-width="0.9"/>
<path d="M12.2 301 V346 M12.2 301 H14.2 V296 H15.5 M14.2 301 V307 H15.5 M12.2 346 H13.6 M13.6 318 V415 M13.6 318 H15.4 M13.6 340 H15.3 M13.6 365 H15.4 M13.6 390 H15.3 M13.6 415 H15.4" fill="none" stroke="#111" stroke-width="0.8"/>
<path d="M14.8 32 V90 M15 128 V282 M14.6 322 V412" fill="none" stroke="#666" stroke-width="0.9" stroke-dasharray="4 1.2"/>
<path d="M13.9 26 V96 M14.3 150 V270 M13.9 330 V410" fill="none" stroke="#111" stroke-width="1"/>
<defs><linearGradient id="hmg" x1="0" y1="0" x2="0" y2="1"><stop offset="0" stop-color="#8e1b2a"/><stop offset="0.12" stop-color="#a83245"/><stop offset="0.28" stop-color="#d4849a"/><stop offset="0.4" stop-color="#eec5d0"/><stop offset="0.5" stop-color="#f8f6f6"/><stop offset="0.6" stop-color="#cbe8ec"/><stop offset="0.75" stop-color="#8cc0d0"/><stop offset="0.9" stop-color="#5a94bd"/><stop offset="1" stop-color="#3f76a6"/></linearGradient></defs>
<rect x="175.1" y="207.7" width="9.1" height="89.9" fill="url(#hmg)"/>
<text x="179.6" y="217.3" font-size="6.5" text-anchor="middle" fill="#222" stroke="#222" stroke-width="0.14">4</text>
<text x="179.6" y="237" font-size="6.5" text-anchor="middle" fill="#222" stroke="#222" stroke-width="0.14">2</text>
<text x="179.6" y="256.7" font-size="6.5" text-anchor="middle" fill="#222" stroke="#222" stroke-width="0.14">0</text>
<text x="179.6" y="276.3" font-size="6.5" text-anchor="middle" fill="#222" stroke="#222" stroke-width="0.14">−2</text>
<text x="179.6" y="295.8" font-size="6.5" text-anchor="middle" fill="#222" stroke="#222" stroke-width="0.14">−4</text>
<text x="170.4" y="254.8" font-size="6.7" text-anchor="middle" fill="#111" stroke="#111" stroke-width="0.14" transform="rotate(-90 170.4 254.8)" dominant-baseline="central">Relative expression</text>
<text x="168" y="315" font-size="6.7" font-weight="bold" stroke="#000" stroke-width="0.06">Group</text>
<rect x="168" y="317.4" width="9" height="8.6" fill="#4a85b8"/>
<text x="178.7" y="324.2" font-size="6.65" fill="#222" stroke="#222" stroke-width="0.14">Control</text>
<rect x="168" y="326" width="9" height="8.6" fill="#e2d35c"/>
<text x="178.7" y="332.8" font-size="6.65" fill="#222" stroke="#222" stroke-width="0.14">B[a]P</text>
<text x="168" y="344" font-size="6.67" font-weight="bold" stroke="#000" stroke-width="0.06">Regulation status</text>
<rect x="168" y="346.2" width="9" height="8.8" fill="#557ca8"/>
<text x="178.7" y="353.2" font-size="6.65" fill="#222" stroke="#222" stroke-width="0.14">Down</text>
<rect x="168" y="355" width="9" height="8.8" fill="#a53657"/>
<text x="178.7" y="362" font-size="6.65" fill="#222" stroke="#222" stroke-width="0.14">Up</text>
<text x="168" y="373" font-size="6.67" font-weight="bold" stroke="#000" stroke-width="0.06">Pathway</text>
<rect x="168" y="375.3" width="9" height="8.9" fill="#56a5dc"/>
<text x="177.7" y="381.9" font-size="6.7" fill="#222" stroke="#222" stroke-width="0.14">Ferroptosis</text>
<rect x="168" y="384.17" width="9" height="8.9" fill="#e89a3e"/>
<text x="177.7" y="390.77" font-size="6.7" fill="#222" stroke="#222" stroke-width="0.14">Ferroptosis + Lipid metabolism</text>
<rect x="168" y="393.04" width="9" height="8.9" fill="#d8d45e"/>
<text x="177.7" y="399.64" font-size="6.7" fill="#222" stroke="#222" stroke-width="0.14">Lipid metabolism</text>
<rect x="168" y="401.91" width="9" height="8.9" fill="#9a5ab8"/>
<text x="177.7" y="408.51" font-size="6.7" fill="#222" stroke="#222" stroke-width="0.14">Neurodegenerative disease</text>
<rect x="168" y="410.78" width="9" height="8.9" fill="#66cc5c"/>
<text x="177.7" y="417.38" font-size="6.7" fill="#222" stroke="#222" stroke-width="0.14">Oxidative stress</text>
<text x="179.3" y="12.4" font-size="15" font-weight="bold" stroke="#000" stroke-width="0.45">b</text>
<text x="326.4" y="7.2" font-size="6.97" text-anchor="middle" font-weight="bold" stroke="#000" stroke-width="0.06">Volcano Plot with GSE75206</text>
<defs><clipPath id="vclip"><rect x="210.3" y="9.2" width="239.8" height="233"/></clipPath></defs>
<g clip-path="url(#vclip)">
<path d="M316.7 86 L320.9 88 L327.8 111.7 L333.4 132.6 L337.5 159 L340.5 185 L343.5 205 L345.6 223 L347.7 205 L350.6 185 L352.8 159 L355.6 132.6 L361.2 111.7 L368.2 90.9 L373.3 84 L373.4 204.8 L370.3 210 L366 219 L360.7 226.2 L352 232 L345.6 233.4 L338 232 L330 226.2 L324 219 L319.7 210 L316.7 204.8 Z" fill="#b5b5b5"/>
<circle cx="310" cy="206.6" r="1.5" fill="#b5b5b5"/>
<circle cx="311.5" cy="215" r="1.5" fill="#b5b5b5"/>
<circle cx="313.6" cy="219" r="1.5" fill="#b5b5b5"/>
<circle cx="315" cy="222" r="1.5" fill="#b5b5b5"/>
<circle cx="320.5" cy="224" r="1.5" fill="#b5b5b5"/>
<circle cx="373.5" cy="211" r="1.5" fill="#b5b5b5"/>
<circle cx="371" cy="218" r="1.5" fill="#b5b5b5"/>
<circle cx="317" cy="213" r="1.5" fill="#b5b5b5"/>
<circle cx="314" cy="209" r="1.5" fill="#b5b5b5"/>
<circle cx="375" cy="206" r="1.5" fill="#b5b5b5"/>
<circle cx="372" cy="222" r="1.5" fill="#b5b5b5"/>
<circle cx="325" cy="229" r="1.5" fill="#b5b5b5"/>
<circle cx="366" cy="229" r="1.5" fill="#b5b5b5"/>
<path d="M240 27 L252 27.5 L264 29.5 L277 33 L289 39.5 L299 48 L305 58 L311 65 L316.9 72 L316.9 140 L306 132 L298 122 L290 108 L281 94 L270 78 L256 56 L244 36 Z" fill="#4f7db6"/>
<circle cx="309.9" cy="119.32" r="1.8" fill="#4f7db6"/>
<circle cx="308.68" cy="186.19" r="1.8" fill="#4f7db6"/>
<circle cx="316.63" cy="72.71" r="1.8" fill="#4f7db6"/>
<circle cx="283.93" cy="127.96" r="1.8" fill="#4f7db6"/>
<circle cx="298.54" cy="105.53" r="1.8" fill="#4f7db6"/>
<circle cx="316.45" cy="85.45" r="1.8" fill="#4f7db6"/>
<circle cx="314.39" cy="179" r="1.8" fill="#4f7db6"/>
<circle cx="300.75" cy="79.97" r="1.8" fill="#4f7db6"/>
<circle cx="302.23" cy="164.71" r="1.8" fill="#4f7db6"/>
<circle cx="306.73" cy="107.59" r="1.8" fill="#4f7db6"/>
<circle cx="305.85" cy="137.78" r="1.8" fill="#4f7db6"/>
<circle cx="301.08" cy="145.87" r="1.8" fill="#4f7db6"/>
<circle cx="292.44" cy="140.68" r="1.8" fill="#4f7db6"/>
<circle cx="290.38" cy="156.28" r="1.8" fill="#4f7db6"/>
<circle cx="316.6" cy="143.82" r="1.8" fill="#4f7db6"/>
<circle cx="310.18" cy="117.66" r="1.8" fill="#4f7db6"/>
<circle cx="300.83" cy="136.06" r="1.8" fill="#4f7db6"/>
<circle cx="296.56" cy="189.2" r="1.8" fill="#4f7db6"/>
<circle cx="297.5" cy="132.15" r="1.8" fill="#4f7db6"/>
<circle cx="296.3" cy="169.51" r="1.8" fill="#4f7db6"/>
<circle cx="313.85" cy="171.27" r="1.8" fill="#4f7db6"/>
<circle cx="311.94" cy="153.03" r="1.8" fill="#4f7db6"/>
<circle cx="315.76" cy="110.6" r="1.8" fill="#4f7db6"/>
<circle cx="279.33" cy="59.37" r="1.8" fill="#4f7db6"/>
<circle cx="308.89" cy="161.72" r="1.8" fill="#4f7db6"/>
<circle cx="312.33" cy="103.21" r="1.8" fill="#4f7db6"/>
<circle cx="300.41" cy="51.73" r="1.8" fill="#4f7db6"/>
<circle cx="301.43" cy="117.06" r="1.8" fill="#4f7db6"/>
<circle cx="303.55" cy="113.83" r="1.8" fill="#4f7db6"/>
<circle cx="288.5" cy="107.27" r="1.8" fill="#4f7db6"/>
<circle cx="307.86" cy="67.17" r="1.8" fill="#4f7db6"/>
<circle cx="316.03" cy="80.14" r="1.8" fill="#4f7db6"/>
<circle cx="309.44" cy="168.53" r="1.8" fill="#4f7db6"/>
<circle cx="299.21" cy="66.05" r="1.8" fill="#4f7db6"/>
<circle cx="314.86" cy="166.92" r="1.8" fill="#4f7db6"/>
<circle cx="305.4" cy="60.55" r="1.8" fill="#4f7db6"/>
<circle cx="311.5" cy="72.97" r="1.8" fill="#4f7db6"/>
<circle cx="316.91" cy="110.69" r="1.8" fill="#4f7db6"/>
<circle cx="316.84" cy="164.44" r="1.8" fill="#4f7db6"/>
<circle cx="279.42" cy="46.55" r="1.8" fill="#4f7db6"/>
<circle cx="289.18" cy="107.07" r="1.8" fill="#4f7db6"/>
<circle cx="309.74" cy="137.95" r="1.8" fill="#4f7db6"/>
<circle cx="286.09" cy="97.58" r="1.8" fill="#4f7db6"/>
<circle cx="312.46" cy="90.86" r="1.8" fill="#4f7db6"/>
<circle cx="311.11" cy="127.88" r="1.8" fill="#4f7db6"/>
<circle cx="257.59" cy="61.16" r="1.8" fill="#4f7db6"/>
<circle cx="308.71" cy="76.81" r="1.8" fill="#4f7db6"/>
<circle cx="313.18" cy="116.91" r="1.8" fill="#4f7db6"/>
<circle cx="304.91" cy="139.72" r="1.8" fill="#4f7db6"/>
<circle cx="315.67" cy="156.77" r="1.8" fill="#4f7db6"/>
<circle cx="304.97" cy="139.58" r="1.8" fill="#4f7db6"/>
<circle cx="309.65" cy="167.17" r="1.8" fill="#4f7db6"/>
<circle cx="261.44" cy="32.27" r="1.8" fill="#4f7db6"/>
<circle cx="314.77" cy="156.31" r="1.8" fill="#4f7db6"/>
<circle cx="283.97" cy="85.42" r="1.8" fill="#4f7db6"/>
<circle cx="309.14" cy="63.2" r="1.8" fill="#4f7db6"/>
<circle cx="297.37" cy="147.3" r="1.8" fill="#4f7db6"/>
<circle cx="306.52" cy="141.69" r="1.8" fill="#4f7db6"/>
<circle cx="310.75" cy="113.05" r="1.8" fill="#4f7db6"/>
<circle cx="311.64" cy="70.49" r="1.8" fill="#4f7db6"/>
<circle cx="305.68" cy="153.69" r="1.8" fill="#4f7db6"/>
<circle cx="306.96" cy="104.53" r="1.8" fill="#4f7db6"/>
<circle cx="317" cy="82.58" r="1.8" fill="#4f7db6"/>
<circle cx="317.28" cy="85.48" r="1.8" fill="#4f7db6"/>
<circle cx="301.86" cy="96.11" r="1.8" fill="#4f7db6"/>
<circle cx="301.91" cy="58.95" r="1.8" fill="#4f7db6"/>
<circle cx="311.18" cy="106.81" r="1.8" fill="#4f7db6"/>
<circle cx="301.64" cy="153.39" r="1.8" fill="#4f7db6"/>
<circle cx="303.93" cy="120.26" r="1.8" fill="#4f7db6"/>
<circle cx="305.88" cy="94.26" r="1.8" fill="#4f7db6"/>
<circle cx="277.49" cy="45.73" r="1.8" fill="#4f7db6"/>
<circle cx="301.73" cy="138.73" r="1.8" fill="#4f7db6"/>
<circle cx="306.24" cy="173.31" r="1.8" fill="#4f7db6"/>
<circle cx="315.91" cy="140.32" r="1.8" fill="#4f7db6"/>
<circle cx="293.36" cy="50.75" r="1.8" fill="#4f7db6"/>
<circle cx="276.49" cy="39.13" r="1.8" fill="#4f7db6"/>
<circle cx="304.63" cy="141.98" r="1.8" fill="#4f7db6"/>
<circle cx="314" cy="109.9" r="1.8" fill="#4f7db6"/>
<circle cx="310.05" cy="63.67" r="1.8" fill="#4f7db6"/>
<circle cx="301.97" cy="54.61" r="1.8" fill="#4f7db6"/>
<circle cx="287.76" cy="42.58" r="1.8" fill="#4f7db6"/>
<circle cx="288.58" cy="43.88" r="1.8" fill="#4f7db6"/>
<circle cx="306.9" cy="141.54" r="1.8" fill="#4f7db6"/>
<circle cx="269.41" cy="65.97" r="1.8" fill="#4f7db6"/>
<circle cx="315.57" cy="201.71" r="1.8" fill="#4f7db6"/>
<circle cx="264.25" cy="67.49" r="1.8" fill="#4f7db6"/>
<circle cx="315.69" cy="71.83" r="1.8" fill="#4f7db6"/>
<circle cx="309.46" cy="160.62" r="1.8" fill="#4f7db6"/>
<circle cx="311.42" cy="189.66" r="1.8" fill="#4f7db6"/>
<circle cx="314" cy="174.62" r="1.8" fill="#4f7db6"/>
<circle cx="310.23" cy="136.93" r="1.8" fill="#4f7db6"/>
<circle cx="313.63" cy="66.37" r="1.8" fill="#4f7db6"/>
<circle cx="305.09" cy="63.49" r="1.8" fill="#4f7db6"/>
<circle cx="284.79" cy="68.24" r="1.8" fill="#4f7db6"/>
<circle cx="303.89" cy="164.71" r="1.8" fill="#4f7db6"/>
<circle cx="309.36" cy="130.26" r="1.8" fill="#4f7db6"/>
<circle cx="309.22" cy="174.63" r="1.8" fill="#4f7db6"/>
<circle cx="315.96" cy="85.7" r="1.8" fill="#4f7db6"/>
<circle cx="282.28" cy="81.46" r="1.8" fill="#4f7db6"/>
<circle cx="311.05" cy="85.81" r="1.8" fill="#4f7db6"/>
<circle cx="306.11" cy="160.81" r="1.8" fill="#4f7db6"/>
<circle cx="248.77" cy="30.22" r="1.8" fill="#4f7db6"/>
<circle cx="308.95" cy="182.11" r="1.8" fill="#4f7db6"/>
<circle cx="305.09" cy="69.96" r="1.8" fill="#4f7db6"/>
<circle cx="311.51" cy="183.4" r="1.8" fill="#4f7db6"/>
<circle cx="316.55" cy="179.12" r="1.8" fill="#4f7db6"/>
<circle cx="303" cy="112.46" r="1.8" fill="#4f7db6"/>
<circle cx="293.37" cy="74.29" r="1.8" fill="#4f7db6"/>
<circle cx="314.27" cy="117.31" r="1.8" fill="#4f7db6"/>
<circle cx="316.51" cy="158.18" r="1.8" fill="#4f7db6"/>
<circle cx="285.48" cy="149.47" r="1.8" fill="#4f7db6"/>
<circle cx="303.98" cy="135.21" r="1.8" fill="#4f7db6"/>
<circle cx="274.79" cy="76.9" r="1.8" fill="#4f7db6"/>
<circle cx="312.38" cy="174.35" r="1.8" fill="#4f7db6"/>
<circle cx="282.92" cy="78.38" r="1.8" fill="#4f7db6"/>
<circle cx="298.6" cy="85.01" r="1.8" fill="#4f7db6"/>
<circle cx="291.07" cy="82.96" r="1.8" fill="#4f7db6"/>
<circle cx="296.83" cy="192.33" r="1.8" fill="#4f7db6"/>
<circle cx="311.48" cy="76.55" r="1.8" fill="#4f7db6"/>
<circle cx="291.69" cy="81.61" r="1.8" fill="#4f7db6"/>
<circle cx="295.42" cy="98" r="1.8" fill="#4f7db6"/>
<circle cx="297.74" cy="163.42" r="1.8" fill="#4f7db6"/>
<circle cx="310.44" cy="61.24" r="1.8" fill="#4f7db6"/>
<circle cx="316.17" cy="129.36" r="1.8" fill="#4f7db6"/>
<circle cx="310.81" cy="104.61" r="1.8" fill="#4f7db6"/>
<circle cx="264.89" cy="92.56" r="1.8" fill="#4f7db6"/>
<circle cx="284.68" cy="65.37" r="1.8" fill="#4f7db6"/>
<circle cx="261.87" cy="50.62" r="1.8" fill="#4f7db6"/>
<circle cx="314.45" cy="160.18" r="1.8" fill="#4f7db6"/>
<circle cx="303.81" cy="119.33" r="1.8" fill="#4f7db6"/>
<circle cx="312.34" cy="104.38" r="1.8" fill="#4f7db6"/>
<circle cx="304.46" cy="77.41" r="1.8" fill="#4f7db6"/>
<circle cx="314.47" cy="89.7" r="1.8" fill="#4f7db6"/>
<circle cx="290.88" cy="46.13" r="1.8" fill="#4f7db6"/>
<circle cx="267.63" cy="80.32" r="1.8" fill="#4f7db6"/>
<circle cx="307.85" cy="110.34" r="1.8" fill="#4f7db6"/>
<circle cx="308.83" cy="79.49" r="1.8" fill="#4f7db6"/>
<circle cx="283.05" cy="112.32" r="1.8" fill="#4f7db6"/>
<circle cx="311.89" cy="106.1" r="1.8" fill="#4f7db6"/>
<circle cx="257.75" cy="58.36" r="1.8" fill="#4f7db6"/>
<circle cx="298.36" cy="155.12" r="1.8" fill="#4f7db6"/>
<circle cx="316.39" cy="105.42" r="1.8" fill="#4f7db6"/>
<circle cx="290.73" cy="52.75" r="1.8" fill="#4f7db6"/>
<circle cx="314.76" cy="90.84" r="1.8" fill="#4f7db6"/>
<circle cx="310.62" cy="166.58" r="1.8" fill="#4f7db6"/>
<circle cx="310.54" cy="90.03" r="1.8" fill="#4f7db6"/>
<circle cx="313.87" cy="77.88" r="1.8" fill="#4f7db6"/>
<circle cx="312.62" cy="170.9" r="1.8" fill="#4f7db6"/>
<circle cx="305.97" cy="68.67" r="1.8" fill="#4f7db6"/>
<circle cx="315.54" cy="84.8" r="1.8" fill="#4f7db6"/>
<circle cx="301.29" cy="128.36" r="1.8" fill="#4f7db6"/>
<circle cx="303.2" cy="77.59" r="1.8" fill="#4f7db6"/>
<circle cx="316.14" cy="163.35" r="1.8" fill="#4f7db6"/>
<circle cx="298.43" cy="58.67" r="1.8" fill="#4f7db6"/>
<circle cx="311.33" cy="100.56" r="1.8" fill="#4f7db6"/>
<circle cx="281.36" cy="32.64" r="1.8" fill="#4f7db6"/>
<circle cx="316.74" cy="159.15" r="1.8" fill="#4f7db6"/>
<circle cx="317.36" cy="159.53" r="1.8" fill="#4f7db6"/>
<circle cx="284.07" cy="119.62" r="1.8" fill="#4f7db6"/>
<circle cx="314.16" cy="127.01" r="1.8" fill="#4f7db6"/>
<circle cx="263.25" cy="56.97" r="1.8" fill="#4f7db6"/>
<circle cx="312.31" cy="123.21" r="1.8" fill="#4f7db6"/>
<circle cx="311.83" cy="127.86" r="1.8" fill="#4f7db6"/>
<circle cx="315.09" cy="191.72" r="1.8" fill="#4f7db6"/>
<circle cx="312.54" cy="68.83" r="1.8" fill="#4f7db6"/>
<circle cx="310.52" cy="166.97" r="1.8" fill="#4f7db6"/>
<circle cx="305.07" cy="77.52" r="1.8" fill="#4f7db6"/>
<circle cx="255.71" cy="33.72" r="1.8" fill="#4f7db6"/>
<circle cx="295.97" cy="61.24" r="1.8" fill="#4f7db6"/>
<circle cx="296.38" cy="57.26" r="1.8" fill="#4f7db6"/>
<circle cx="306.96" cy="71.68" r="1.8" fill="#4f7db6"/>
<circle cx="286.96" cy="71.82" r="1.8" fill="#4f7db6"/>
<circle cx="310.24" cy="72.06" r="1.8" fill="#4f7db6"/>
<circle cx="312.59" cy="83.28" r="1.8" fill="#4f7db6"/>
<circle cx="313.41" cy="99.15" r="1.8" fill="#4f7db6"/>
<circle cx="296.5" cy="54.58" r="1.8" fill="#4f7db6"/>
<circle cx="247.7" cy="54.61" r="1.8" fill="#4f7db6"/>
<circle cx="316.18" cy="153.17" r="1.8" fill="#4f7db6"/>
<circle cx="266.23" cy="38.2" r="1.8" fill="#4f7db6"/>
<circle cx="265" cy="31.89" r="1.8" fill="#4f7db6"/>
<circle cx="308.43" cy="73.65" r="1.8" fill="#4f7db6"/>
<circle cx="317.31" cy="94.47" r="1.8" fill="#4f7db6"/>
<circle cx="253.85" cy="37.78" r="1.8" fill="#4f7db6"/>
<circle cx="284.51" cy="60.76" r="1.8" fill="#4f7db6"/>
<circle cx="308.47" cy="72.56" r="1.8" fill="#4f7db6"/>
<circle cx="308.73" cy="67.73" r="1.8" fill="#4f7db6"/>
<circle cx="289.62" cy="136.66" r="1.8" fill="#4f7db6"/>
<circle cx="316.13" cy="86.62" r="1.8" fill="#4f7db6"/>
<circle cx="309.47" cy="168.29" r="1.8" fill="#4f7db6"/>
<circle cx="299.07" cy="120.22" r="1.8" fill="#4f7db6"/>
<circle cx="317.29" cy="156.91" r="1.8" fill="#4f7db6"/>
<circle cx="298.2" cy="47.61" r="1.8" fill="#4f7db6"/>
<circle cx="257.48" cy="37.52" r="1.8" fill="#4f7db6"/>
<circle cx="311.85" cy="103.62" r="1.8" fill="#4f7db6"/>
<circle cx="286.43" cy="108.16" r="1.8" fill="#4f7db6"/>
<circle cx="289.11" cy="60.83" r="1.8" fill="#4f7db6"/>
<circle cx="288.3" cy="138.26" r="1.8" fill="#4f7db6"/>
<circle cx="290.71" cy="39.81" r="1.8" fill="#4f7db6"/>
<circle cx="309.85" cy="152.09" r="1.8" fill="#4f7db6"/>
<circle cx="233.33" cy="24.4" r="1.8" fill="#4f7db6"/>
<circle cx="293.78" cy="55.56" r="1.8" fill="#4f7db6"/>
<circle cx="307.08" cy="122.5" r="1.8" fill="#4f7db6"/>
<circle cx="310.73" cy="91.76" r="1.8" fill="#4f7db6"/>
<circle cx="311.94" cy="75.86" r="1.8" fill="#4f7db6"/>
<circle cx="276.27" cy="53.91" r="1.8" fill="#4f7db6"/>
<circle cx="303.87" cy="132.45" r="1.8" fill="#4f7db6"/>
<circle cx="297.17" cy="55.43" r="1.8" fill="#4f7db6"/>
<circle cx="282.36" cy="34.93" r="1.8" fill="#4f7db6"/>
<circle cx="310.73" cy="172.19" r="1.8" fill="#4f7db6"/>
<circle cx="266.62" cy="75.97" r="1.8" fill="#4f7db6"/>
<circle cx="305.99" cy="133.99" r="1.8" fill="#4f7db6"/>
<circle cx="300.08" cy="62.82" r="1.8" fill="#4f7db6"/>
<circle cx="308.59" cy="74.49" r="1.8" fill="#4f7db6"/>
<circle cx="297.26" cy="43.33" r="1.8" fill="#4f7db6"/>
<circle cx="309.8" cy="74.89" r="1.8" fill="#4f7db6"/>
<circle cx="287.13" cy="38.47" r="1.8" fill="#4f7db6"/>
<circle cx="315.32" cy="114.44" r="1.8" fill="#4f7db6"/>
<circle cx="313.95" cy="98.88" r="1.8" fill="#4f7db6"/>
<circle cx="311.01" cy="164.26" r="1.8" fill="#4f7db6"/>
<circle cx="308.94" cy="146.41" r="1.8" fill="#4f7db6"/>
<circle cx="308.74" cy="130.75" r="1.8" fill="#4f7db6"/>
<circle cx="273.15" cy="82.2" r="1.8" fill="#4f7db6"/>
<circle cx="307.42" cy="97.31" r="1.8" fill="#4f7db6"/>
<circle cx="302.07" cy="149.82" r="1.8" fill="#4f7db6"/>
<circle cx="315.58" cy="97.2" r="1.8" fill="#4f7db6"/>
<circle cx="311.01" cy="159.15" r="1.8" fill="#4f7db6"/>
<circle cx="315.16" cy="142.23" r="1.8" fill="#4f7db6"/>
<circle cx="314.78" cy="166.75" r="1.8" fill="#4f7db6"/>
<circle cx="298.9" cy="53.21" r="1.8" fill="#4f7db6"/>
<circle cx="287.99" cy="62.77" r="1.8" fill="#4f7db6"/>
<circle cx="313.51" cy="100.48" r="1.8" fill="#4f7db6"/>
<circle cx="303.45" cy="61.04" r="1.8" fill="#4f7db6"/>
<circle cx="273.98" cy="118.39" r="1.8" fill="#4f7db6"/>
<circle cx="290.36" cy="186.14" r="1.8" fill="#4f7db6"/>
<circle cx="302.14" cy="71.8" r="1.8" fill="#4f7db6"/>
<circle cx="306.97" cy="94.76" r="1.8" fill="#4f7db6"/>
<circle cx="306.36" cy="194.97" r="1.8" fill="#4f7db6"/>
<circle cx="304.54" cy="131.11" r="1.8" fill="#4f7db6"/>
<circle cx="313.59" cy="75.86" r="1.8" fill="#4f7db6"/>
<circle cx="314.74" cy="76.45" r="1.8" fill="#4f7db6"/>
<circle cx="316.57" cy="74.36" r="1.8" fill="#4f7db6"/>
<circle cx="292.15" cy="79.4" r="1.8" fill="#4f7db6"/>
<circle cx="308.31" cy="68.18" r="1.8" fill="#4f7db6"/>
<circle cx="280.28" cy="84.47" r="1.8" fill="#4f7db6"/>
<circle cx="241.07" cy="40.84" r="1.8" fill="#4f7db6"/>
<circle cx="270.14" cy="133.07" r="1.8" fill="#4f7db6"/>
<circle cx="309.12" cy="71.97" r="1.8" fill="#4f7db6"/>
<circle cx="274.12" cy="81.79" r="1.8" fill="#4f7db6"/>
<circle cx="269.24" cy="37.69" r="1.8" fill="#4f7db6"/>
<circle cx="303.92" cy="56.61" r="1.8" fill="#4f7db6"/>
<circle cx="264.84" cy="73.74" r="1.8" fill="#4f7db6"/>
<circle cx="313.84" cy="77.38" r="1.8" fill="#4f7db6"/>
<circle cx="308.86" cy="110.24" r="1.8" fill="#4f7db6"/>
<circle cx="300.82" cy="51.7" r="1.8" fill="#4f7db6"/>
<circle cx="307.8" cy="78.73" r="1.8" fill="#4f7db6"/>
<circle cx="228.6" cy="26.38" r="1.8" fill="#4f7db6"/>
<circle cx="313.65" cy="72.93" r="1.8" fill="#4f7db6"/>
<circle cx="284.69" cy="80.31" r="1.8" fill="#4f7db6"/>
<circle cx="296.59" cy="46.2" r="1.8" fill="#4f7db6"/>
<circle cx="316.7" cy="124.64" r="1.8" fill="#4f7db6"/>
<circle cx="274.3" cy="106.62" r="1.8" fill="#4f7db6"/>
<circle cx="297.18" cy="158.41" r="1.8" fill="#4f7db6"/>
<circle cx="308.94" cy="112.07" r="1.8" fill="#4f7db6"/>
<circle cx="300.41" cy="109.4" r="1.8" fill="#4f7db6"/>
<circle cx="264.78" cy="33.66" r="1.8" fill="#4f7db6"/>
<circle cx="315.44" cy="151.98" r="1.8" fill="#4f7db6"/>
<circle cx="311.51" cy="199.84" r="1.8" fill="#4f7db6"/>
<circle cx="301.61" cy="117.87" r="1.8" fill="#4f7db6"/>
<circle cx="292.15" cy="129.07" r="1.8" fill="#4f7db6"/>
<circle cx="316.5" cy="99.89" r="1.8" fill="#4f7db6"/>
<circle cx="288.6" cy="155.8" r="1.8" fill="#4f7db6"/>
<circle cx="263.44" cy="88.51" r="1.8" fill="#4f7db6"/>
<circle cx="297.8" cy="58.52" r="1.8" fill="#4f7db6"/>
<circle cx="310.3" cy="63.13" r="1.8" fill="#4f7db6"/>
<circle cx="293.41" cy="200.25" r="1.8" fill="#4f7db6"/>
<circle cx="291.3" cy="109.55" r="1.8" fill="#4f7db6"/>
<circle cx="315.24" cy="71.34" r="1.8" fill="#4f7db6"/>
<circle cx="309.57" cy="125.12" r="1.8" fill="#4f7db6"/>
<circle cx="311.47" cy="101.83" r="1.8" fill="#4f7db6"/>
<circle cx="287.75" cy="57.23" r="1.8" fill="#4f7db6"/>
<circle cx="312.7" cy="72.9" r="1.8" fill="#4f7db6"/>
<circle cx="311.61" cy="130.9" r="1.8" fill="#4f7db6"/>
<circle cx="309.81" cy="87.87" r="1.8" fill="#4f7db6"/>
<circle cx="312.15" cy="122.2" r="1.8" fill="#4f7db6"/>
<circle cx="243.71" cy="45.25" r="1.8" fill="#4f7db6"/>
<circle cx="294.56" cy="78.12" r="1.8" fill="#4f7db6"/>
<circle cx="310.35" cy="122.12" r="1.8" fill="#4f7db6"/>
<circle cx="315.82" cy="76.93" r="1.8" fill="#4f7db6"/>
<circle cx="266.95" cy="33.88" r="1.8" fill="#4f7db6"/>
<circle cx="316.8" cy="203.77" r="1.8" fill="#4f7db6"/>
<circle cx="291.92" cy="170.7" r="1.8" fill="#4f7db6"/>
<circle cx="308.75" cy="142.34" r="1.8" fill="#4f7db6"/>
<circle cx="278.79" cy="104.77" r="1.8" fill="#4f7db6"/>
<circle cx="315.2" cy="70.72" r="1.8" fill="#4f7db6"/>
<circle cx="285.5" cy="104.63" r="1.8" fill="#4f7db6"/>
<circle cx="298.33" cy="48.5" r="1.8" fill="#4f7db6"/>
<circle cx="312.99" cy="96.22" r="1.8" fill="#4f7db6"/>
<circle cx="316.96" cy="89.96" r="1.8" fill="#4f7db6"/>
<circle cx="309.99" cy="107.07" r="1.8" fill="#4f7db6"/>
<circle cx="281.02" cy="37.06" r="1.8" fill="#4f7db6"/>
<circle cx="289.09" cy="97.62" r="1.8" fill="#4f7db6"/>
<circle cx="302.65" cy="139.82" r="1.8" fill="#4f7db6"/>
<circle cx="313.8" cy="173.35" r="1.8" fill="#4f7db6"/>
<circle cx="289.98" cy="42.95" r="1.8" fill="#4f7db6"/>
<circle cx="286.99" cy="72.49" r="1.8" fill="#4f7db6"/>
<circle cx="309.23" cy="77.84" r="1.8" fill="#4f7db6"/>
<circle cx="312.75" cy="106.91" r="1.8" fill="#4f7db6"/>
<circle cx="315.14" cy="72.72" r="1.8" fill="#4f7db6"/>
<circle cx="287.89" cy="64.57" r="1.8" fill="#4f7db6"/>
<circle cx="307.58" cy="147.56" r="1.8" fill="#4f7db6"/>
<circle cx="316.87" cy="85.15" r="1.8" fill="#4f7db6"/>
<circle cx="273.23" cy="47.72" r="1.8" fill="#4f7db6"/>
<circle cx="305.58" cy="132.7" r="1.8" fill="#4f7db6"/>
<circle cx="290.71" cy="64.27" r="1.8" fill="#4f7db6"/>
<circle cx="282.05" cy="87.89" r="1.8" fill="#4f7db6"/>
<circle cx="313.82" cy="140.48" r="1.8" fill="#4f7db6"/>
<circle cx="305.54" cy="74.14" r="1.8" fill="#4f7db6"/>
<circle cx="313.31" cy="129.54" r="1.8" fill="#4f7db6"/>
<circle cx="314.13" cy="91.56" r="1.8" fill="#4f7db6"/>
<circle cx="303.28" cy="75.55" r="1.8" fill="#4f7db6"/>
<circle cx="315.32" cy="166.46" r="1.8" fill="#4f7db6"/>
<circle cx="306.48" cy="121.2" r="1.8" fill="#4f7db6"/>
<circle cx="315.21" cy="94.69" r="1.8" fill="#4f7db6"/>
<circle cx="287.52" cy="73.49" r="1.8" fill="#4f7db6"/>
<circle cx="298.28" cy="56.69" r="1.8" fill="#4f7db6"/>
<circle cx="291.61" cy="74.24" r="1.8" fill="#4f7db6"/>
<circle cx="301.1" cy="83.86" r="1.8" fill="#4f7db6"/>
<circle cx="276.93" cy="73.58" r="1.8" fill="#4f7db6"/>
<circle cx="280.88" cy="79.27" r="1.8" fill="#4f7db6"/>
<circle cx="298.5" cy="174.91" r="1.8" fill="#4f7db6"/>
<circle cx="288.29" cy="88.9" r="1.8" fill="#4f7db6"/>
<circle cx="305.78" cy="87.66" r="1.8" fill="#4f7db6"/>
<circle cx="295.92" cy="57.81" r="1.8" fill="#4f7db6"/>
<circle cx="307.98" cy="167.94" r="1.8" fill="#4f7db6"/>
<circle cx="316.62" cy="78.9" r="1.8" fill="#4f7db6"/>
<circle cx="303.4" cy="193.42" r="1.8" fill="#4f7db6"/>
<circle cx="302.51" cy="99.9" r="1.8" fill="#4f7db6"/>
<circle cx="303.3" cy="160.48" r="1.8" fill="#4f7db6"/>
<circle cx="312.86" cy="95.28" r="1.8" fill="#4f7db6"/>
<circle cx="237.97" cy="28.52" r="1.8" fill="#4f7db6"/>
<circle cx="311.25" cy="68.46" r="1.8" fill="#4f7db6"/>
<circle cx="294.52" cy="59.42" r="1.8" fill="#4f7db6"/>
<circle cx="312.52" cy="163" r="1.8" fill="#4f7db6"/>
<circle cx="286.54" cy="48.43" r="1.8" fill="#4f7db6"/>
<circle cx="314.72" cy="146.13" r="1.8" fill="#4f7db6"/>
<circle cx="301.62" cy="160.11" r="1.8" fill="#4f7db6"/>
<circle cx="309.06" cy="142.06" r="1.8" fill="#4f7db6"/>
<circle cx="310.71" cy="73.6" r="1.8" fill="#4f7db6"/>
<circle cx="283.16" cy="103.5" r="1.8" fill="#4f7db6"/>
<circle cx="311.79" cy="74" r="1.8" fill="#4f7db6"/>
<circle cx="317.31" cy="89.64" r="1.8" fill="#4f7db6"/>
<circle cx="304.91" cy="113.38" r="1.8" fill="#4f7db6"/>
<circle cx="296.84" cy="145.35" r="1.8" fill="#4f7db6"/>
<circle cx="283.82" cy="97.98" r="1.8" fill="#4f7db6"/>
<circle cx="314.48" cy="122.19" r="1.8" fill="#4f7db6"/>
<circle cx="259.57" cy="35.97" r="1.8" fill="#4f7db6"/>
<circle cx="315.32" cy="83.45" r="1.8" fill="#4f7db6"/>
<circle cx="314.2" cy="144.06" r="1.8" fill="#4f7db6"/>
<circle cx="313.86" cy="118.6" r="1.8" fill="#4f7db6"/>
<circle cx="274.59" cy="90.03" r="1.8" fill="#4f7db6"/>
<circle cx="313.17" cy="110.21" r="1.8" fill="#4f7db6"/>
<circle cx="276.51" cy="46.74" r="1.8" fill="#4f7db6"/>
<circle cx="312.27" cy="102.71" r="1.8" fill="#4f7db6"/>
<circle cx="314.39" cy="106.48" r="1.8" fill="#4f7db6"/>
<circle cx="302.58" cy="52.26" r="1.8" fill="#4f7db6"/>
<circle cx="301.6" cy="141.83" r="1.8" fill="#4f7db6"/>
<circle cx="308.4" cy="159.56" r="1.8" fill="#4f7db6"/>
<circle cx="298.09" cy="183.45" r="1.8" fill="#4f7db6"/>
<circle cx="295.49" cy="64.96" r="1.8" fill="#4f7db6"/>
<circle cx="304.72" cy="58.92" r="1.8" fill="#4f7db6"/>
<circle cx="293.22" cy="64.33" r="1.8" fill="#4f7db6"/>
<circle cx="305.09" cy="134.95" r="1.8" fill="#4f7db6"/>
<circle cx="312.85" cy="102.69" r="1.8" fill="#4f7db6"/>
<circle cx="310.75" cy="96.27" r="1.8" fill="#4f7db6"/>
<circle cx="304" cy="94.82" r="1.8" fill="#4f7db6"/>
<circle cx="287.43" cy="57.63" r="1.8" fill="#4f7db6"/>
<circle cx="310.58" cy="120.43" r="1.8" fill="#4f7db6"/>
<circle cx="292.91" cy="87.82" r="1.8" fill="#4f7db6"/>
<circle cx="316.39" cy="70.28" r="1.8" fill="#4f7db6"/>
<circle cx="299.48" cy="124.86" r="1.8" fill="#4f7db6"/>
<circle cx="271.5" cy="66.47" r="1.8" fill="#4f7db6"/>
<circle cx="300.07" cy="64.7" r="1.8" fill="#4f7db6"/>
<circle cx="296.4" cy="119.67" r="1.8" fill="#4f7db6"/>
<circle cx="316.64" cy="157.38" r="1.8" fill="#4f7db6"/>
<circle cx="297.03" cy="129.98" r="1.8" fill="#4f7db6"/>
<circle cx="311.67" cy="100.4" r="1.8" fill="#4f7db6"/>
<circle cx="310.05" cy="120.3" r="1.8" fill="#4f7db6"/>
<circle cx="301.38" cy="167.19" r="1.8" fill="#4f7db6"/>
<circle cx="285.67" cy="117.62" r="1.8" fill="#4f7db6"/>
<circle cx="308.03" cy="158.94" r="1.8" fill="#4f7db6"/>
<circle cx="242.03" cy="28.97" r="1.8" fill="#4f7db6"/>
<circle cx="312.81" cy="65.97" r="1.8" fill="#4f7db6"/>
<circle cx="317.27" cy="77.36" r="1.8" fill="#4f7db6"/>
<circle cx="278.54" cy="110.28" r="1.8" fill="#4f7db6"/>
<circle cx="293.14" cy="110.18" r="1.8" fill="#4f7db6"/>
<circle cx="289.01" cy="116.66" r="1.8" fill="#4f7db6"/>
<circle cx="292.42" cy="172.46" r="1.8" fill="#4f7db6"/>
<circle cx="266.02" cy="84.43" r="1.8" fill="#4f7db6"/>
<circle cx="293.28" cy="150.64" r="1.8" fill="#4f7db6"/>
<circle cx="315.78" cy="138.38" r="1.8" fill="#4f7db6"/>
<circle cx="313.9" cy="103.64" r="1.8" fill="#4f7db6"/>
<circle cx="301.05" cy="115.06" r="1.8" fill="#4f7db6"/>
<circle cx="314.38" cy="96.11" r="1.8" fill="#4f7db6"/>
<circle cx="307.04" cy="139.85" r="1.8" fill="#4f7db6"/>
<circle cx="262.1" cy="51.93" r="1.8" fill="#4f7db6"/>
<circle cx="247.83" cy="47.55" r="1.8" fill="#4f7db6"/>
<circle cx="309.67" cy="164.42" r="1.8" fill="#4f7db6"/>
<circle cx="310.33" cy="156.66" r="1.8" fill="#4f7db6"/>
<circle cx="308.35" cy="111.08" r="1.8" fill="#4f7db6"/>
<circle cx="311.01" cy="180.65" r="1.8" fill="#4f7db6"/>
<circle cx="306.89" cy="140.49" r="1.8" fill="#4f7db6"/>
<circle cx="283.22" cy="105.71" r="1.8" fill="#4f7db6"/>
<circle cx="301.19" cy="139.36" r="1.8" fill="#4f7db6"/>
<circle cx="270.65" cy="36.52" r="1.8" fill="#4f7db6"/>
<circle cx="301.98" cy="64.27" r="1.8" fill="#4f7db6"/>
<circle cx="312.28" cy="132.38" r="1.8" fill="#4f7db6"/>
<circle cx="305.43" cy="74.74" r="1.8" fill="#4f7db6"/>
<circle cx="289.16" cy="80.78" r="1.8" fill="#4f7db6"/>
<circle cx="303.3" cy="110.47" r="1.8" fill="#4f7db6"/>
<circle cx="313.36" cy="78.42" r="1.8" fill="#4f7db6"/>
<circle cx="301.52" cy="98.37" r="1.8" fill="#4f7db6"/>
<circle cx="298.27" cy="54.91" r="1.8" fill="#4f7db6"/>
<circle cx="300.03" cy="93.69" r="1.8" fill="#4f7db6"/>
<circle cx="228.79" cy="26.86" r="1.8" fill="#4f7db6"/>
<circle cx="301.4" cy="135.78" r="1.8" fill="#4f7db6"/>
<circle cx="289.57" cy="130.32" r="1.8" fill="#4f7db6"/>
<circle cx="311.77" cy="175.35" r="1.8" fill="#4f7db6"/>
<circle cx="316.36" cy="151.67" r="1.8" fill="#4f7db6"/>
<circle cx="305.67" cy="150.21" r="1.8" fill="#4f7db6"/>
<circle cx="311.69" cy="118.35" r="1.8" fill="#4f7db6"/>
<circle cx="307.84" cy="71.24" r="1.8" fill="#4f7db6"/>
<circle cx="253.03" cy="31.23" r="1.8" fill="#4f7db6"/>
<circle cx="309.09" cy="154.68" r="1.8" fill="#4f7db6"/>
<circle cx="282.76" cy="161.45" r="1.8" fill="#4f7db6"/>
<circle cx="236.76" cy="41.04" r="1.8" fill="#4f7db6"/>
<circle cx="290.55" cy="99.46" r="1.8" fill="#4f7db6"/>
<circle cx="290.32" cy="147.26" r="1.8" fill="#4f7db6"/>
<circle cx="311.7" cy="186.41" r="1.8" fill="#4f7db6"/>
<circle cx="314.42" cy="68.42" r="1.8" fill="#4f7db6"/>
<circle cx="293.28" cy="42.39" r="1.8" fill="#4f7db6"/>
<circle cx="265.55" cy="76.35" r="1.8" fill="#4f7db6"/>
<circle cx="314.49" cy="69.43" r="1.8" fill="#4f7db6"/>
<circle cx="298.49" cy="74.61" r="1.8" fill="#4f7db6"/>
<circle cx="284.35" cy="80.73" r="1.8" fill="#4f7db6"/>
<circle cx="316.25" cy="113.39" r="1.8" fill="#4f7db6"/>
<circle cx="314.38" cy="86.66" r="1.8" fill="#4f7db6"/>
<circle cx="311.33" cy="87.71" r="1.8" fill="#4f7db6"/>
<circle cx="313.86" cy="88.36" r="1.8" fill="#4f7db6"/>
<circle cx="244.06" cy="107.25" r="1.8" fill="#4f7db6"/>
<circle cx="296.33" cy="85.06" r="1.8" fill="#4f7db6"/>
<circle cx="313.07" cy="166.67" r="1.8" fill="#4f7db6"/>
<circle cx="267.96" cy="96.53" r="1.8" fill="#4f7db6"/>
<circle cx="292.65" cy="143.39" r="1.8" fill="#4f7db6"/>
<circle cx="317.05" cy="94.41" r="1.8" fill="#4f7db6"/>
<circle cx="283.33" cy="43.38" r="1.8" fill="#4f7db6"/>
<circle cx="306.47" cy="74.44" r="1.8" fill="#4f7db6"/>
<circle cx="313.57" cy="132.09" r="1.8" fill="#4f7db6"/>
<circle cx="313.18" cy="174.47" r="1.8" fill="#4f7db6"/>
<circle cx="311.26" cy="120.06" r="1.8" fill="#4f7db6"/>
<circle cx="293.91" cy="92.89" r="1.8" fill="#4f7db6"/>
<circle cx="292.21" cy="106.26" r="1.8" fill="#4f7db6"/>
<circle cx="316.27" cy="90.57" r="1.8" fill="#4f7db6"/>
<circle cx="305.02" cy="73.29" r="1.8" fill="#4f7db6"/>
<circle cx="308.64" cy="85.12" r="1.8" fill="#4f7db6"/>
<circle cx="300.14" cy="184.94" r="1.8" fill="#4f7db6"/>
<circle cx="314.91" cy="144.25" r="1.8" fill="#4f7db6"/>
<circle cx="279.12" cy="84.51" r="1.8" fill="#4f7db6"/>
<circle cx="316.16" cy="160.78" r="1.8" fill="#4f7db6"/>
<circle cx="304.34" cy="102.15" r="1.8" fill="#4f7db6"/>
<circle cx="252.09" cy="31.94" r="1.8" fill="#4f7db6"/>
<circle cx="315.29" cy="144.35" r="1.8" fill="#4f7db6"/>
<circle cx="294.48" cy="44.17" r="1.8" fill="#4f7db6"/>
<circle cx="299.92" cy="94.98" r="1.8" fill="#4f7db6"/>
<circle cx="278.54" cy="35.52" r="1.8" fill="#4f7db6"/>
<circle cx="314.86" cy="108.34" r="1.8" fill="#4f7db6"/>
<circle cx="307.44" cy="111.35" r="1.8" fill="#4f7db6"/>
<circle cx="279.73" cy="134.72" r="1.8" fill="#4f7db6"/>
<circle cx="284.02" cy="60.53" r="1.8" fill="#4f7db6"/>
<circle cx="306.96" cy="108.98" r="1.8" fill="#4f7db6"/>
<circle cx="288.76" cy="48.75" r="1.8" fill="#4f7db6"/>
<circle cx="309.58" cy="164.72" r="1.8" fill="#4f7db6"/>
<circle cx="285.19" cy="43.29" r="1.8" fill="#4f7db6"/>
<circle cx="303.47" cy="155.01" r="1.8" fill="#4f7db6"/>
<circle cx="298.27" cy="91.35" r="1.8" fill="#4f7db6"/>
<circle cx="315.99" cy="108.06" r="1.8" fill="#4f7db6"/>
<circle cx="250.71" cy="56.88" r="1.8" fill="#4f7db6"/>
<circle cx="298.24" cy="142.01" r="1.8" fill="#4f7db6"/>
<circle cx="297.8" cy="112.6" r="1.8" fill="#4f7db6"/>
<circle cx="311.27" cy="160.33" r="1.8" fill="#4f7db6"/>
<circle cx="303.36" cy="158.7" r="1.8" fill="#4f7db6"/>
<circle cx="310.9" cy="119.89" r="1.8" fill="#4f7db6"/>
<circle cx="257.78" cy="33.77" r="1.8" fill="#4f7db6"/>
<circle cx="305.39" cy="65.37" r="1.8" fill="#4f7db6"/>
<circle cx="310.73" cy="82.78" r="1.8" fill="#4f7db6"/>
<circle cx="312.04" cy="189.06" r="1.8" fill="#4f7db6"/>
<circle cx="301.26" cy="65.95" r="1.8" fill="#4f7db6"/>
<circle cx="293.74" cy="90.87" r="1.8" fill="#4f7db6"/>
<circle cx="310.27" cy="79.4" r="1.8" fill="#4f7db6"/>
<circle cx="303.67" cy="105.13" r="1.8" fill="#4f7db6"/>
<circle cx="279.63" cy="67.96" r="1.8" fill="#4f7db6"/>
<circle cx="304.47" cy="164.97" r="1.8" fill="#4f7db6"/>
<circle cx="306.31" cy="183.78" r="1.8" fill="#4f7db6"/>
<circle cx="315.15" cy="162.72" r="1.8" fill="#4f7db6"/>
<circle cx="291.78" cy="66.11" r="1.8" fill="#4f7db6"/>
<circle cx="299.1" cy="131.49" r="1.8" fill="#4f7db6"/>
<circle cx="303.46" cy="127.51" r="1.8" fill="#4f7db6"/>
<circle cx="288.06" cy="125.49" r="1.8" fill="#4f7db6"/>
<circle cx="314.77" cy="69.95" r="1.8" fill="#4f7db6"/>
<circle cx="304.23" cy="109.73" r="1.8" fill="#4f7db6"/>
<circle cx="307.04" cy="150.94" r="1.8" fill="#4f7db6"/>
<circle cx="305.88" cy="129.17" r="1.8" fill="#4f7db6"/>
<circle cx="310.75" cy="112.86" r="1.8" fill="#4f7db6"/>
<circle cx="287.87" cy="73" r="1.8" fill="#4f7db6"/>
<circle cx="306.17" cy="78.41" r="1.8" fill="#4f7db6"/>
<circle cx="309.9" cy="144.9" r="1.8" fill="#4f7db6"/>
<circle cx="306.76" cy="61.53" r="1.8" fill="#4f7db6"/>
<circle cx="316.43" cy="105.25" r="1.8" fill="#4f7db6"/>
<circle cx="302.62" cy="99.75" r="1.8" fill="#4f7db6"/>
<circle cx="303.48" cy="86.68" r="1.8" fill="#4f7db6"/>
<circle cx="309.12" cy="121.97" r="1.8" fill="#4f7db6"/>
<circle cx="303.16" cy="179.81" r="1.8" fill="#4f7db6"/>
<circle cx="301.09" cy="155.89" r="1.8" fill="#4f7db6"/>
<circle cx="304.65" cy="111.28" r="1.8" fill="#4f7db6"/>
<circle cx="302.96" cy="63.7" r="1.8" fill="#4f7db6"/>
<circle cx="310.06" cy="146.17" r="1.8" fill="#4f7db6"/>
<circle cx="274.49" cy="84.72" r="1.8" fill="#4f7db6"/>
<circle cx="229.1" cy="25.75" r="1.8" fill="#4f7db6"/>
<circle cx="303.7" cy="64.59" r="1.8" fill="#4f7db6"/>
<circle cx="313.52" cy="123.23" r="1.8" fill="#4f7db6"/>
<circle cx="298.07" cy="167.8" r="1.8" fill="#4f7db6"/>
<circle cx="287.82" cy="92.84" r="1.8" fill="#4f7db6"/>
<circle cx="282.17" cy="81.85" r="1.8" fill="#4f7db6"/>
<circle cx="313.19" cy="112.95" r="1.8" fill="#4f7db6"/>
<circle cx="302.91" cy="101.5" r="1.8" fill="#4f7db6"/>
<circle cx="307.27" cy="172.13" r="1.8" fill="#4f7db6"/>
<circle cx="315.35" cy="111.95" r="1.8" fill="#4f7db6"/>
<circle cx="284.34" cy="100.59" r="1.8" fill="#4f7db6"/>
<circle cx="289.3" cy="100.53" r="1.8" fill="#4f7db6"/>
<circle cx="309.04" cy="75.73" r="1.8" fill="#4f7db6"/>
<circle cx="300.72" cy="83.96" r="1.8" fill="#4f7db6"/>
<circle cx="306.32" cy="78.75" r="1.8" fill="#4f7db6"/>
<circle cx="316.5" cy="152.66" r="1.8" fill="#4f7db6"/>
<circle cx="285.1" cy="75.67" r="1.8" fill="#4f7db6"/>
<circle cx="255.99" cy="65.46" r="1.8" fill="#4f7db6"/>
<circle cx="293.2" cy="60.63" r="1.8" fill="#4f7db6"/>
<circle cx="277.67" cy="87.04" r="1.8" fill="#4f7db6"/>
<circle cx="308.9" cy="163.11" r="1.8" fill="#4f7db6"/>
<circle cx="310.81" cy="72.9" r="1.8" fill="#4f7db6"/>
<circle cx="307.52" cy="171.85" r="1.8" fill="#4f7db6"/>
<circle cx="284.05" cy="47.31" r="1.8" fill="#4f7db6"/>
<circle cx="312.2" cy="197.01" r="1.8" fill="#4f7db6"/>
<circle cx="309.4" cy="126.9" r="1.8" fill="#4f7db6"/>
<circle cx="283.01" cy="134.66" r="1.8" fill="#4f7db6"/>
<circle cx="282.86" cy="43.9" r="1.8" fill="#4f7db6"/>
<circle cx="308.34" cy="71.29" r="1.8" fill="#4f7db6"/>
<circle cx="259.89" cy="36.55" r="1.8" fill="#4f7db6"/>
<circle cx="293.99" cy="134.47" r="1.8" fill="#4f7db6"/>
<circle cx="300.48" cy="66.97" r="1.8" fill="#4f7db6"/>
<circle cx="278.12" cy="128.97" r="1.8" fill="#4f7db6"/>
<circle cx="302.45" cy="133.22" r="1.8" fill="#4f7db6"/>
<circle cx="301.37" cy="79.01" r="1.8" fill="#4f7db6"/>
<circle cx="315.65" cy="151.45" r="1.8" fill="#4f7db6"/>
<circle cx="315.16" cy="91.28" r="1.8" fill="#4f7db6"/>
<circle cx="304.13" cy="59.62" r="1.8" fill="#4f7db6"/>
<circle cx="314.79" cy="85.57" r="1.8" fill="#4f7db6"/>
<circle cx="307.52" cy="132.37" r="1.8" fill="#4f7db6"/>
<circle cx="314.66" cy="74.09" r="1.8" fill="#4f7db6"/>
<circle cx="295.66" cy="73.26" r="1.8" fill="#4f7db6"/>
<circle cx="294.46" cy="126.57" r="1.8" fill="#4f7db6"/>
<circle cx="309.09" cy="69.15" r="1.8" fill="#4f7db6"/>
<circle cx="292.11" cy="39.47" r="1.8" fill="#4f7db6"/>
<circle cx="316.58" cy="83.36" r="1.8" fill="#4f7db6"/>
<circle cx="316.6" cy="122.12" r="1.8" fill="#4f7db6"/>
<circle cx="313.58" cy="115.16" r="1.8" fill="#4f7db6"/>
<circle cx="306.48" cy="86.84" r="1.8" fill="#4f7db6"/>
<circle cx="317.34" cy="141.22" r="1.8" fill="#4f7db6"/>
<circle cx="280.66" cy="34.48" r="1.8" fill="#4f7db6"/>
<circle cx="290.97" cy="167.97" r="1.8" fill="#4f7db6"/>
<circle cx="307.82" cy="143.76" r="1.8" fill="#4f7db6"/>
<circle cx="261.59" cy="71.71" r="1.8" fill="#4f7db6"/>
<circle cx="294.94" cy="129.05" r="1.8" fill="#4f7db6"/>
<circle cx="316.3" cy="103.88" r="1.8" fill="#4f7db6"/>
<circle cx="303.69" cy="61.79" r="1.8" fill="#4f7db6"/>
<circle cx="294.23" cy="60.74" r="1.8" fill="#4f7db6"/>
<circle cx="302.29" cy="114.02" r="1.8" fill="#4f7db6"/>
<circle cx="316.19" cy="100.73" r="1.8" fill="#4f7db6"/>
<circle cx="313.07" cy="75.36" r="1.8" fill="#4f7db6"/>
<circle cx="312.18" cy="111.19" r="1.8" fill="#4f7db6"/>
<circle cx="306.14" cy="86.44" r="1.8" fill="#4f7db6"/>
<circle cx="314.44" cy="86.45" r="1.8" fill="#4f7db6"/>
<circle cx="285.15" cy="95.75" r="1.8" fill="#4f7db6"/>
<circle cx="299.96" cy="123.91" r="1.8" fill="#4f7db6"/>
<circle cx="283.45" cy="131.48" r="1.8" fill="#4f7db6"/>
<circle cx="316.17" cy="80.76" r="1.8" fill="#4f7db6"/>
<circle cx="294.31" cy="50.12" r="1.8" fill="#4f7db6"/>
<circle cx="308.76" cy="63.35" r="1.8" fill="#4f7db6"/>
<circle cx="317.15" cy="134.45" r="1.8" fill="#4f7db6"/>
<circle cx="242.58" cy="26.39" r="1.8" fill="#4f7db6"/>
<circle cx="304.57" cy="68.23" r="1.8" fill="#4f7db6"/>
<circle cx="269.32" cy="62.15" r="1.8" fill="#4f7db6"/>
<circle cx="265.18" cy="37.88" r="1.8" fill="#4f7db6"/>
<circle cx="316.83" cy="147.39" r="1.8" fill="#4f7db6"/>
<circle cx="310.66" cy="117.84" r="1.8" fill="#4f7db6"/>
<circle cx="313.84" cy="151.36" r="1.8" fill="#4f7db6"/>
<circle cx="291.51" cy="49.95" r="1.8" fill="#4f7db6"/>
<circle cx="308.6" cy="91.09" r="1.8" fill="#4f7db6"/>
<circle cx="283.43" cy="39.6" r="1.8" fill="#4f7db6"/>
<circle cx="284.7" cy="114.62" r="1.8" fill="#4f7db6"/>
<circle cx="262.1" cy="47.02" r="1.8" fill="#4f7db6"/>
<circle cx="300.77" cy="192.36" r="1.8" fill="#4f7db6"/>
<circle cx="313.95" cy="164.98" r="1.8" fill="#4f7db6"/>
<circle cx="306.32" cy="127.71" r="1.8" fill="#4f7db6"/>
<circle cx="317.31" cy="150.26" r="1.8" fill="#4f7db6"/>
<circle cx="311.01" cy="109.3" r="1.8" fill="#4f7db6"/>
<circle cx="306.94" cy="96.97" r="1.8" fill="#4f7db6"/>
<circle cx="272.69" cy="111.02" r="1.8" fill="#4f7db6"/>
<circle cx="306.2" cy="84.26" r="1.8" fill="#4f7db6"/>
<circle cx="309.9" cy="164.35" r="1.8" fill="#4f7db6"/>
<circle cx="271.73" cy="90.13" r="1.8" fill="#4f7db6"/>
<circle cx="285.59" cy="158.01" r="1.8" fill="#4f7db6"/>
<circle cx="299.45" cy="97.6" r="1.8" fill="#4f7db6"/>
<circle cx="297.49" cy="72.51" r="1.8" fill="#4f7db6"/>
<circle cx="276.11" cy="111.4" r="1.8" fill="#4f7db6"/>
<circle cx="315.66" cy="98.42" r="1.8" fill="#4f7db6"/>
<circle cx="300.79" cy="98.95" r="1.8" fill="#4f7db6"/>
<circle cx="315.05" cy="155.84" r="1.8" fill="#4f7db6"/>
<circle cx="302.94" cy="93.75" r="1.8" fill="#4f7db6"/>
<circle cx="301.97" cy="101.32" r="1.8" fill="#4f7db6"/>
<circle cx="300.44" cy="174.86" r="1.8" fill="#4f7db6"/>
<circle cx="315.91" cy="155.27" r="1.8" fill="#4f7db6"/>
<circle cx="292.99" cy="195.25" r="1.8" fill="#4f7db6"/>
<circle cx="255.99" cy="55.61" r="1.8" fill="#4f7db6"/>
<circle cx="314.56" cy="71.6" r="1.8" fill="#4f7db6"/>
<circle cx="317.07" cy="81.83" r="1.8" fill="#4f7db6"/>
<circle cx="310.56" cy="94.25" r="1.8" fill="#4f7db6"/>
<circle cx="278.16" cy="102.44" r="1.8" fill="#4f7db6"/>
<circle cx="278.36" cy="147.95" r="1.8" fill="#4f7db6"/>
<circle cx="295.61" cy="47.25" r="1.8" fill="#4f7db6"/>
<circle cx="308.46" cy="161.02" r="1.8" fill="#4f7db6"/>
<circle cx="299.71" cy="184.23" r="1.8" fill="#4f7db6"/>
<circle cx="286.39" cy="199.33" r="1.8" fill="#4f7db6"/>
<circle cx="313.27" cy="149.27" r="1.8" fill="#4f7db6"/>
<circle cx="300.76" cy="160.21" r="1.8" fill="#4f7db6"/>
<circle cx="313.45" cy="83.66" r="1.8" fill="#4f7db6"/>
<circle cx="295.21" cy="49.65" r="1.8" fill="#4f7db6"/>
<circle cx="295.06" cy="146.69" r="1.8" fill="#4f7db6"/>
<circle cx="317.1" cy="84.97" r="1.8" fill="#4f7db6"/>
<circle cx="286.64" cy="135.4" r="1.8" fill="#4f7db6"/>
<circle cx="284.85" cy="61.83" r="1.8" fill="#4f7db6"/>
<circle cx="281.81" cy="102.35" r="1.8" fill="#4f7db6"/>
<circle cx="299.37" cy="171.61" r="1.8" fill="#4f7db6"/>
<circle cx="300.4" cy="162.65" r="1.8" fill="#4f7db6"/>
<circle cx="308.82" cy="113.86" r="1.8" fill="#4f7db6"/>
<circle cx="317.25" cy="92.58" r="1.8" fill="#4f7db6"/>
<circle cx="316.96" cy="166.64" r="1.8" fill="#4f7db6"/>
<circle cx="296.17" cy="62.92" r="1.8" fill="#4f7db6"/>
<circle cx="304.15" cy="112.08" r="1.8" fill="#4f7db6"/>
<circle cx="316.7" cy="141.22" r="1.8" fill="#4f7db6"/>
<circle cx="278.12" cy="74.62" r="1.8" fill="#4f7db6"/>
<circle cx="311.06" cy="153.51" r="1.8" fill="#4f7db6"/>
<circle cx="264.16" cy="39.5" r="1.8" fill="#4f7db6"/>
<circle cx="303.8" cy="85.12" r="1.8" fill="#4f7db6"/>
<circle cx="302.11" cy="56.1" r="1.8" fill="#4f7db6"/>
<circle cx="232.37" cy="25.68" r="1.8" fill="#4f7db6"/>
<circle cx="312.04" cy="90.28" r="1.8" fill="#4f7db6"/>
<circle cx="278.33" cy="57.58" r="1.8" fill="#4f7db6"/>
<circle cx="301.33" cy="58.72" r="1.8" fill="#4f7db6"/>
<circle cx="310.33" cy="109.65" r="1.8" fill="#4f7db6"/>
<circle cx="264.53" cy="77.31" r="1.8" fill="#4f7db6"/>
<circle cx="313.61" cy="168.53" r="1.8" fill="#4f7db6"/>
<circle cx="308.94" cy="94.93" r="1.8" fill="#4f7db6"/>
<circle cx="304.73" cy="76.16" r="1.8" fill="#4f7db6"/>
<circle cx="311.68" cy="175.03" r="1.8" fill="#4f7db6"/>
<circle cx="312.66" cy="74.55" r="1.8" fill="#4f7db6"/>
<circle cx="299.75" cy="109.27" r="1.8" fill="#4f7db6"/>
<circle cx="254.44" cy="26.3" r="1.8" fill="#4f7db6"/>
<circle cx="285.76" cy="56.13" r="1.8" fill="#4f7db6"/>
<circle cx="302.68" cy="111.82" r="1.8" fill="#4f7db6"/>
<circle cx="268.51" cy="42.9" r="1.8" fill="#4f7db6"/>
<circle cx="307.45" cy="88.47" r="1.8" fill="#4f7db6"/>
<circle cx="316.23" cy="74.89" r="1.8" fill="#4f7db6"/>
<circle cx="304.36" cy="74.76" r="1.8" fill="#4f7db6"/>
<circle cx="316.26" cy="137.13" r="1.8" fill="#4f7db6"/>
<circle cx="309.75" cy="171.31" r="1.8" fill="#4f7db6"/>
<circle cx="315.57" cy="97.52" r="1.8" fill="#4f7db6"/>
<circle cx="302.61" cy="104.07" r="1.8" fill="#4f7db6"/>
<circle cx="309.7" cy="82.78" r="1.8" fill="#4f7db6"/>
<circle cx="293.67" cy="118.66" r="1.8" fill="#4f7db6"/>
<circle cx="245.13" cy="27.48" r="1.8" fill="#4f7db6"/>
<circle cx="303.24" cy="58.53" r="1.8" fill="#4f7db6"/>
<circle cx="297.05" cy="72.93" r="1.8" fill="#4f7db6"/>
<circle cx="230.46" cy="27.92" r="1.8" fill="#4f7db6"/>
<circle cx="314.61" cy="188.06" r="1.8" fill="#4f7db6"/>
<circle cx="301.92" cy="155.51" r="1.8" fill="#4f7db6"/>
<circle cx="313.64" cy="157.83" r="1.8" fill="#4f7db6"/>
<circle cx="304.19" cy="74.11" r="1.8" fill="#4f7db6"/>
<circle cx="286.63" cy="55.77" r="1.8" fill="#4f7db6"/>
<circle cx="292.16" cy="173" r="1.8" fill="#4f7db6"/>
<circle cx="307.56" cy="66.21" r="1.8" fill="#4f7db6"/>
<circle cx="269.42" cy="63.12" r="1.8" fill="#4f7db6"/>
<circle cx="312.52" cy="84.79" r="1.8" fill="#4f7db6"/>
<circle cx="313.03" cy="122.13" r="1.8" fill="#4f7db6"/>
<circle cx="310.6" cy="78.83" r="1.8" fill="#4f7db6"/>
<circle cx="279.46" cy="46.58" r="1.8" fill="#4f7db6"/>
<circle cx="290.82" cy="59.29" r="1.8" fill="#4f7db6"/>
<circle cx="275.12" cy="130.76" r="1.8" fill="#4f7db6"/>
<circle cx="300.01" cy="100.53" r="1.8" fill="#4f7db6"/>
<circle cx="276.37" cy="85.02" r="1.8" fill="#4f7db6"/>
<circle cx="279.42" cy="94.93" r="1.8" fill="#4f7db6"/>
<circle cx="317.18" cy="80.16" r="1.8" fill="#4f7db6"/>
<circle cx="313.84" cy="73.65" r="1.8" fill="#4f7db6"/>
<circle cx="309.45" cy="124.87" r="1.8" fill="#4f7db6"/>
<circle cx="316.72" cy="147.39" r="1.8" fill="#4f7db6"/>
<circle cx="295.07" cy="170.62" r="1.8" fill="#4f7db6"/>
<circle cx="310.11" cy="71.44" r="1.8" fill="#4f7db6"/>
<circle cx="306.7" cy="123.44" r="1.8" fill="#4f7db6"/>
<circle cx="314.31" cy="105.93" r="1.8" fill="#4f7db6"/>
<circle cx="304.29" cy="80.28" r="1.8" fill="#4f7db6"/>
<circle cx="312.74" cy="153.73" r="1.8" fill="#4f7db6"/>
<circle cx="313.64" cy="73.16" r="1.8" fill="#4f7db6"/>
<circle cx="316.52" cy="102.37" r="1.8" fill="#4f7db6"/>
<circle cx="317.16" cy="127.22" r="1.8" fill="#4f7db6"/>
<circle cx="302.39" cy="114.33" r="1.8" fill="#4f7db6"/>
<circle cx="293.25" cy="64.53" r="1.8" fill="#4f7db6"/>
<circle cx="307" cy="91.23" r="1.8" fill="#4f7db6"/>
<circle cx="314.42" cy="68.19" r="1.8" fill="#4f7db6"/>
<circle cx="299.52" cy="67.03" r="1.8" fill="#4f7db6"/>
<circle cx="312.11" cy="73.54" r="1.8" fill="#4f7db6"/>
<circle cx="282.06" cy="103.48" r="1.8" fill="#4f7db6"/>
<circle cx="309.89" cy="108.66" r="1.8" fill="#4f7db6"/>
<circle cx="310.13" cy="64.84" r="1.8" fill="#4f7db6"/>
<circle cx="303.76" cy="169.18" r="1.8" fill="#4f7db6"/>
<circle cx="312.27" cy="137.72" r="1.8" fill="#4f7db6"/>
<circle cx="307.83" cy="112.81" r="1.8" fill="#4f7db6"/>
<circle cx="295.81" cy="103.76" r="1.8" fill="#4f7db6"/>
<circle cx="299.29" cy="148.2" r="1.8" fill="#4f7db6"/>
<circle cx="305.14" cy="103.5" r="1.8" fill="#4f7db6"/>
<circle cx="314.44" cy="110.53" r="1.8" fill="#4f7db6"/>
<circle cx="303.21" cy="137.06" r="1.8" fill="#4f7db6"/>
<circle cx="284.47" cy="81.79" r="1.8" fill="#4f7db6"/>
<circle cx="283.87" cy="104.51" r="1.8" fill="#4f7db6"/>
<circle cx="283.34" cy="39.31" r="1.8" fill="#4f7db6"/>
<circle cx="314.18" cy="76.39" r="1.8" fill="#4f7db6"/>
<circle cx="303.32" cy="55.2" r="1.8" fill="#4f7db6"/>
<circle cx="307.76" cy="128.38" r="1.8" fill="#4f7db6"/>
<circle cx="286.84" cy="43.47" r="1.8" fill="#4f7db6"/>
<circle cx="295.63" cy="88.39" r="1.8" fill="#4f7db6"/>
<circle cx="309.44" cy="61.95" r="1.8" fill="#4f7db6"/>
<circle cx="313.09" cy="68.31" r="1.8" fill="#4f7db6"/>
<circle cx="311.24" cy="76.68" r="1.8" fill="#4f7db6"/>
<circle cx="283.11" cy="146.29" r="1.8" fill="#4f7db6"/>
<circle cx="306.87" cy="116.51" r="1.8" fill="#4f7db6"/>
<circle cx="308.5" cy="186.71" r="1.8" fill="#4f7db6"/>
<circle cx="310.69" cy="119.39" r="1.8" fill="#4f7db6"/>
<circle cx="285.62" cy="65.66" r="1.8" fill="#4f7db6"/>
<circle cx="313.31" cy="134.07" r="1.8" fill="#4f7db6"/>
<circle cx="308.48" cy="81.45" r="1.8" fill="#4f7db6"/>
<circle cx="308.27" cy="100.52" r="1.8" fill="#4f7db6"/>
<circle cx="273.22" cy="34.5" r="1.8" fill="#4f7db6"/>
<circle cx="305.54" cy="91.96" r="1.8" fill="#4f7db6"/>
<circle cx="305.13" cy="95.45" r="1.8" fill="#4f7db6"/>
<circle cx="284.17" cy="93.13" r="1.8" fill="#4f7db6"/>
<circle cx="307.57" cy="202.19" r="1.8" fill="#4f7db6"/>
<circle cx="289.36" cy="145.43" r="1.8" fill="#4f7db6"/>
<circle cx="315.83" cy="72.05" r="1.8" fill="#4f7db6"/>
<circle cx="301.52" cy="191.86" r="1.8" fill="#4f7db6"/>
<circle cx="293.69" cy="46.04" r="1.8" fill="#4f7db6"/>
<circle cx="300.64" cy="137.5" r="1.8" fill="#4f7db6"/>
<circle cx="278.18" cy="119.98" r="1.8" fill="#4f7db6"/>
<circle cx="231.94" cy="27.11" r="1.8" fill="#4f7db6"/>
<circle cx="310.2" cy="152.37" r="1.8" fill="#4f7db6"/>
<circle cx="306.97" cy="178.13" r="1.8" fill="#4f7db6"/>
<circle cx="278.94" cy="95.5" r="1.8" fill="#4f7db6"/>
<circle cx="316.34" cy="95.15" r="1.8" fill="#4f7db6"/>
<circle cx="305.46" cy="112.49" r="1.8" fill="#4f7db6"/>
<circle cx="313.1" cy="109.55" r="1.8" fill="#4f7db6"/>
<circle cx="316.36" cy="115.32" r="1.8" fill="#4f7db6"/>
<circle cx="309.91" cy="139.09" r="1.8" fill="#4f7db6"/>
<circle cx="310.79" cy="144.4" r="1.8" fill="#4f7db6"/>
<circle cx="265.3" cy="75.96" r="1.8" fill="#4f7db6"/>
<circle cx="316.23" cy="119.62" r="1.8" fill="#4f7db6"/>
<circle cx="315.94" cy="79.1" r="1.8" fill="#4f7db6"/>
<circle cx="268.63" cy="77.42" r="1.8" fill="#4f7db6"/>
<circle cx="295.94" cy="57.61" r="1.8" fill="#4f7db6"/>
<circle cx="282.63" cy="185.38" r="1.8" fill="#4f7db6"/>
<circle cx="315.45" cy="161.98" r="1.8" fill="#4f7db6"/>
<circle cx="307.15" cy="74.15" r="1.8" fill="#4f7db6"/>
<circle cx="314.15" cy="203.59" r="1.8" fill="#4f7db6"/>
<circle cx="316.55" cy="89.6" r="1.8" fill="#4f7db6"/>
<circle cx="310.04" cy="69.04" r="1.8" fill="#4f7db6"/>
<circle cx="271.05" cy="78.24" r="1.8" fill="#4f7db6"/>
<circle cx="242.7" cy="24.21" r="1.8" fill="#4f7db6"/>
<circle cx="308.25" cy="76.61" r="1.8" fill="#4f7db6"/>
<circle cx="305.46" cy="92.23" r="1.8" fill="#4f7db6"/>
<circle cx="295.71" cy="196.81" r="1.8" fill="#4f7db6"/>
<circle cx="263.91" cy="35.29" r="1.8" fill="#4f7db6"/>
<circle cx="309.21" cy="102.23" r="1.8" fill="#4f7db6"/>
<circle cx="304.72" cy="110.75" r="1.8" fill="#4f7db6"/>
<circle cx="302.53" cy="169" r="1.8" fill="#4f7db6"/>
<circle cx="281.77" cy="103.03" r="1.8" fill="#4f7db6"/>
<circle cx="316.73" cy="168.69" r="1.8" fill="#4f7db6"/>
<circle cx="296.99" cy="163.03" r="1.8" fill="#4f7db6"/>
<circle cx="305.98" cy="128.45" r="1.8" fill="#4f7db6"/>
<circle cx="310.61" cy="187.72" r="1.8" fill="#4f7db6"/>
<circle cx="315.44" cy="144.05" r="1.8" fill="#4f7db6"/>
<circle cx="316.71" cy="77.9" r="1.8" fill="#4f7db6"/>
<circle cx="297.52" cy="182.94" r="1.8" fill="#4f7db6"/>
<circle cx="296.62" cy="53.19" r="1.8" fill="#4f7db6"/>
<circle cx="263.23" cy="67.34" r="1.8" fill="#4f7db6"/>
<circle cx="314.99" cy="109.93" r="1.8" fill="#4f7db6"/>
<circle cx="313.94" cy="106.19" r="1.8" fill="#4f7db6"/>
<circle cx="308.65" cy="92.33" r="1.8" fill="#4f7db6"/>
<circle cx="312.13" cy="104.91" r="1.8" fill="#4f7db6"/>
<circle cx="275.18" cy="183.59" r="1.8" fill="#4f7db6"/>
<circle cx="301.25" cy="65.15" r="1.8" fill="#4f7db6"/>
<circle cx="290.93" cy="54.08" r="1.8" fill="#4f7db6"/>
<circle cx="303.44" cy="148.03" r="1.8" fill="#4f7db6"/>
<circle cx="315.68" cy="87.8" r="1.8" fill="#4f7db6"/>
<circle cx="293.71" cy="158.64" r="1.8" fill="#4f7db6"/>
<circle cx="299.93" cy="52.89" r="1.8" fill="#4f7db6"/>
<circle cx="285.23" cy="105.93" r="1.8" fill="#4f7db6"/>
<circle cx="305.55" cy="57" r="1.8" fill="#4f7db6"/>
<circle cx="307.4" cy="176.16" r="1.8" fill="#4f7db6"/>
<circle cx="292.13" cy="49.99" r="1.8" fill="#4f7db6"/>
<circle cx="313.15" cy="88.7" r="1.8" fill="#4f7db6"/>
<circle cx="246.28" cy="47.63" r="1.8" fill="#4f7db6"/>
<circle cx="288.56" cy="103.15" r="1.8" fill="#4f7db6"/>
<circle cx="298.08" cy="103.14" r="1.8" fill="#4f7db6"/>
<circle cx="315.51" cy="97.33" r="1.8" fill="#4f7db6"/>
<circle cx="313.99" cy="127.01" r="1.8" fill="#4f7db6"/>
<circle cx="283.76" cy="112.17" r="1.8" fill="#4f7db6"/>
<circle cx="291.31" cy="117.84" r="1.8" fill="#4f7db6"/>
<circle cx="284.12" cy="109.19" r="1.8" fill="#4f7db6"/>
<circle cx="310.59" cy="107.26" r="1.8" fill="#4f7db6"/>
<circle cx="251.47" cy="33.78" r="1.8" fill="#4f7db6"/>
<circle cx="282.62" cy="45.36" r="1.8" fill="#4f7db6"/>
<circle cx="304.43" cy="120.57" r="1.8" fill="#4f7db6"/>
<circle cx="293.74" cy="117.3" r="1.8" fill="#4f7db6"/>
<circle cx="263.18" cy="47.75" r="1.8" fill="#4f7db6"/>
<circle cx="315.62" cy="149.75" r="1.8" fill="#4f7db6"/>
<circle cx="282.86" cy="32.31" r="1.8" fill="#4f7db6"/>
<circle cx="304.56" cy="167.88" r="1.8" fill="#4f7db6"/>
<circle cx="299.67" cy="75.57" r="1.8" fill="#4f7db6"/>
<circle cx="312.78" cy="149.8" r="1.8" fill="#4f7db6"/>
<circle cx="315.6" cy="132.6" r="1.8" fill="#4f7db6"/>
<circle cx="306.24" cy="136.59" r="1.8" fill="#4f7db6"/>
<circle cx="316.55" cy="78.99" r="1.8" fill="#4f7db6"/>
<circle cx="311.32" cy="90.28" r="1.8" fill="#4f7db6"/>
<circle cx="299.4" cy="74.15" r="1.8" fill="#4f7db6"/>
<circle cx="304.16" cy="97.03" r="1.8" fill="#4f7db6"/>
<circle cx="283.51" cy="70.71" r="1.8" fill="#4f7db6"/>
<circle cx="317.35" cy="166.76" r="1.8" fill="#4f7db6"/>
<circle cx="311.86" cy="69.56" r="1.8" fill="#4f7db6"/>
<circle cx="302.03" cy="100.49" r="1.8" fill="#4f7db6"/>
<circle cx="274.61" cy="30.16" r="1.8" fill="#4f7db6"/>
<circle cx="298.71" cy="157.26" r="1.8" fill="#4f7db6"/>
<circle cx="298.31" cy="90.18" r="1.8" fill="#4f7db6"/>
<circle cx="295.84" cy="90.69" r="1.8" fill="#4f7db6"/>
<circle cx="316.24" cy="124.36" r="1.8" fill="#4f7db6"/>
<circle cx="301.82" cy="123.88" r="1.8" fill="#4f7db6"/>
<circle cx="290.95" cy="154.57" r="1.8" fill="#4f7db6"/>
<circle cx="314.55" cy="152.94" r="1.8" fill="#4f7db6"/>
<circle cx="300.97" cy="173.88" r="1.8" fill="#4f7db6"/>
<circle cx="291.13" cy="57.97" r="1.8" fill="#4f7db6"/>
<circle cx="302.38" cy="162.85" r="1.8" fill="#4f7db6"/>
<circle cx="297.41" cy="115.8" r="1.8" fill="#4f7db6"/>
<circle cx="293.78" cy="56.61" r="1.8" fill="#4f7db6"/>
<circle cx="313.99" cy="145.56" r="1.8" fill="#4f7db6"/>
<circle cx="314.49" cy="155.27" r="1.8" fill="#4f7db6"/>
<circle cx="313.99" cy="78.02" r="1.8" fill="#4f7db6"/>
<circle cx="310.63" cy="164.24" r="1.8" fill="#4f7db6"/>
<circle cx="254.96" cy="34.82" r="1.8" fill="#4f7db6"/>
<circle cx="309.98" cy="69.8" r="1.8" fill="#4f7db6"/>
<circle cx="311.61" cy="91.73" r="1.8" fill="#4f7db6"/>
<circle cx="313.01" cy="101.77" r="1.8" fill="#4f7db6"/>
<circle cx="282.77" cy="95.06" r="1.8" fill="#4f7db6"/>
<circle cx="290.39" cy="83.25" r="1.8" fill="#4f7db6"/>
<circle cx="296.19" cy="67.1" r="1.8" fill="#4f7db6"/>
<circle cx="302.99" cy="107.99" r="1.8" fill="#4f7db6"/>
<circle cx="311.63" cy="66.13" r="1.8" fill="#4f7db6"/>
<circle cx="309.04" cy="82.77" r="1.8" fill="#4f7db6"/>
<circle cx="312.04" cy="190.91" r="1.8" fill="#4f7db6"/>
<circle cx="307.21" cy="70.04" r="1.8" fill="#4f7db6"/>
<circle cx="310.37" cy="167.55" r="1.8" fill="#4f7db6"/>
<circle cx="288.96" cy="131.12" r="1.8" fill="#4f7db6"/>
<circle cx="291.5" cy="68.05" r="1.8" fill="#4f7db6"/>
<circle cx="313.44" cy="112.53" r="1.8" fill="#4f7db6"/>
<circle cx="303.32" cy="148.52" r="1.8" fill="#4f7db6"/>
<circle cx="316.06" cy="107.51" r="1.8" fill="#4f7db6"/>
<circle cx="280.95" cy="74.08" r="1.8" fill="#4f7db6"/>
<circle cx="311.26" cy="138.59" r="1.8" fill="#4f7db6"/>
<circle cx="282.62" cy="148.64" r="1.8" fill="#4f7db6"/>
<circle cx="273.78" cy="79.71" r="1.8" fill="#4f7db6"/>
<circle cx="284.57" cy="107.16" r="1.8" fill="#4f7db6"/>
<circle cx="294.17" cy="58.33" r="1.8" fill="#4f7db6"/>
<circle cx="316.03" cy="146.81" r="1.8" fill="#4f7db6"/>
<circle cx="312.53" cy="198.15" r="1.8" fill="#4f7db6"/>
<circle cx="247.18" cy="34.44" r="1.8" fill="#4f7db6"/>
<circle cx="282.59" cy="35.81" r="1.8" fill="#4f7db6"/>
<circle cx="298.45" cy="166.97" r="1.8" fill="#4f7db6"/>
<circle cx="301.93" cy="52.69" r="1.8" fill="#4f7db6"/>
<circle cx="283.87" cy="130.78" r="1.8" fill="#4f7db6"/>
<circle cx="309.7" cy="78.31" r="1.8" fill="#4f7db6"/>
<circle cx="287.29" cy="110.32" r="1.8" fill="#4f7db6"/>
<circle cx="316.77" cy="76.23" r="1.8" fill="#4f7db6"/>
<circle cx="303.97" cy="61.21" r="1.8" fill="#4f7db6"/>
<circle cx="300.6" cy="97.11" r="1.8" fill="#4f7db6"/>
<circle cx="300.42" cy="137.97" r="1.8" fill="#4f7db6"/>
<circle cx="255.35" cy="66.65" r="1.8" fill="#4f7db6"/>
<circle cx="315.95" cy="81.13" r="1.8" fill="#4f7db6"/>
<circle cx="293.87" cy="65.89" r="1.8" fill="#4f7db6"/>
<circle cx="313.35" cy="84.35" r="1.8" fill="#4f7db6"/>
<circle cx="303.52" cy="62.96" r="1.8" fill="#4f7db6"/>
<circle cx="294.17" cy="63.87" r="1.8" fill="#4f7db6"/>
<circle cx="248.5" cy="55.38" r="1.8" fill="#4f7db6"/>
<circle cx="269.23" cy="66.99" r="1.8" fill="#4f7db6"/>
<circle cx="317.11" cy="133.76" r="1.8" fill="#4f7db6"/>
<circle cx="298.4" cy="72.28" r="1.8" fill="#4f7db6"/>
<circle cx="310.4" cy="171.95" r="1.8" fill="#4f7db6"/>
<circle cx="308.99" cy="142.29" r="1.8" fill="#4f7db6"/>
<circle cx="315.21" cy="140.07" r="1.8" fill="#4f7db6"/>
<circle cx="305.21" cy="152.36" r="1.8" fill="#4f7db6"/>
<circle cx="284.47" cy="129.84" r="1.8" fill="#4f7db6"/>
<circle cx="301.56" cy="64.29" r="1.8" fill="#4f7db6"/>
<circle cx="271.7" cy="90.3" r="1.8" fill="#4f7db6"/>
<circle cx="242.26" cy="40.69" r="1.8" fill="#4f7db6"/>
<circle cx="282.26" cy="115.43" r="1.8" fill="#4f7db6"/>
<circle cx="312.77" cy="89.34" r="1.8" fill="#4f7db6"/>
<circle cx="287.97" cy="39.54" r="1.8" fill="#4f7db6"/>
<circle cx="275.45" cy="35.77" r="1.8" fill="#4f7db6"/>
<circle cx="276.08" cy="68.05" r="1.8" fill="#4f7db6"/>
<circle cx="312.97" cy="157.48" r="1.8" fill="#4f7db6"/>
<circle cx="300.31" cy="167.89" r="1.8" fill="#4f7db6"/>
<circle cx="305.74" cy="117.09" r="1.8" fill="#4f7db6"/>
<circle cx="316.03" cy="75.98" r="1.8" fill="#4f7db6"/>
<circle cx="305.23" cy="120.8" r="1.8" fill="#4f7db6"/>
<circle cx="297.37" cy="87.29" r="1.8" fill="#4f7db6"/>
<circle cx="314.45" cy="116.94" r="1.8" fill="#4f7db6"/>
<circle cx="234.81" cy="27.55" r="1.8" fill="#4f7db6"/>
<circle cx="287.79" cy="88.52" r="1.8" fill="#4f7db6"/>
<circle cx="315.48" cy="144.35" r="1.8" fill="#4f7db6"/>
<circle cx="316.62" cy="175.56" r="1.8" fill="#4f7db6"/>
<circle cx="296.12" cy="104.6" r="1.8" fill="#4f7db6"/>
<circle cx="269.39" cy="31" r="1.8" fill="#4f7db6"/>
<circle cx="315.27" cy="131.63" r="1.8" fill="#4f7db6"/>
<circle cx="313.42" cy="77.68" r="1.8" fill="#4f7db6"/>
<circle cx="287.89" cy="122.56" r="1.8" fill="#4f7db6"/>
<circle cx="317.32" cy="114.51" r="1.8" fill="#4f7db6"/>
<circle cx="298.92" cy="133.75" r="1.8" fill="#4f7db6"/>
<circle cx="315.82" cy="191.44" r="1.8" fill="#4f7db6"/>
<circle cx="317.21" cy="71.4" r="1.8" fill="#4f7db6"/>
<circle cx="283.62" cy="61.91" r="1.8" fill="#4f7db6"/>
<circle cx="312.94" cy="70.13" r="1.8" fill="#4f7db6"/>
<circle cx="245.9" cy="29.93" r="1.8" fill="#4f7db6"/>
<circle cx="281.23" cy="35.32" r="1.8" fill="#4f7db6"/>
<circle cx="308.63" cy="133.24" r="1.8" fill="#4f7db6"/>
<circle cx="244.11" cy="25.16" r="1.8" fill="#4f7db6"/>
<circle cx="315.87" cy="203.65" r="1.8" fill="#4f7db6"/>
<circle cx="305.77" cy="115" r="1.8" fill="#4f7db6"/>
<circle cx="297.43" cy="117.27" r="1.8" fill="#4f7db6"/>
<circle cx="282.76" cy="40.83" r="1.8" fill="#4f7db6"/>
<circle cx="295.59" cy="77.25" r="1.8" fill="#4f7db6"/>
<circle cx="262.84" cy="61.41" r="1.8" fill="#4f7db6"/>
<circle cx="311.81" cy="90.69" r="1.8" fill="#4f7db6"/>
<circle cx="306.21" cy="118.14" r="1.8" fill="#4f7db6"/>
<circle cx="266.06" cy="68.47" r="1.8" fill="#4f7db6"/>
<circle cx="311.25" cy="96.17" r="1.8" fill="#4f7db6"/>
<circle cx="316.96" cy="152.81" r="1.8" fill="#4f7db6"/>
<circle cx="289.31" cy="123.58" r="1.8" fill="#4f7db6"/>
<circle cx="287.19" cy="41.09" r="1.8" fill="#4f7db6"/>
<circle cx="298.56" cy="97.1" r="1.8" fill="#4f7db6"/>
<circle cx="253.1" cy="85.61" r="1.8" fill="#4f7db6"/>
<circle cx="264.37" cy="78.17" r="1.8" fill="#4f7db6"/>
<circle cx="295.05" cy="47.7" r="1.8" fill="#4f7db6"/>
<circle cx="272.18" cy="102.73" r="1.8" fill="#4f7db6"/>
<circle cx="293.38" cy="55.73" r="1.8" fill="#4f7db6"/>
<circle cx="295" cy="115.35" r="1.8" fill="#4f7db6"/>
<circle cx="311.91" cy="68.02" r="1.8" fill="#4f7db6"/>
<circle cx="311.63" cy="123.73" r="1.8" fill="#4f7db6"/>
<circle cx="300.31" cy="105.29" r="1.8" fill="#4f7db6"/>
<circle cx="316.1" cy="172.16" r="1.8" fill="#4f7db6"/>
<circle cx="308.81" cy="74.7" r="1.8" fill="#4f7db6"/>
<circle cx="295.19" cy="119.1" r="1.8" fill="#4f7db6"/>
<circle cx="313.63" cy="182.59" r="1.8" fill="#4f7db6"/>
<circle cx="306.14" cy="62.11" r="1.8" fill="#4f7db6"/>
<circle cx="266.03" cy="67.69" r="1.8" fill="#4f7db6"/>
<circle cx="312.47" cy="141.81" r="1.8" fill="#4f7db6"/>
<circle cx="296.19" cy="43.71" r="1.8" fill="#4f7db6"/>
<circle cx="314.08" cy="112.05" r="1.8" fill="#4f7db6"/>
<circle cx="296.73" cy="47.54" r="1.8" fill="#4f7db6"/>
<circle cx="308.15" cy="106.59" r="1.8" fill="#4f7db6"/>
<circle cx="312.54" cy="169.42" r="1.8" fill="#4f7db6"/>
<circle cx="254.48" cy="53.43" r="1.8" fill="#4f7db6"/>
<circle cx="314.52" cy="86.39" r="1.8" fill="#4f7db6"/>
<circle cx="315.11" cy="140.45" r="1.8" fill="#4f7db6"/>
<circle cx="310.96" cy="136.94" r="1.8" fill="#4f7db6"/>
<circle cx="312.65" cy="90.96" r="1.8" fill="#4f7db6"/>
<circle cx="297.81" cy="135.85" r="1.8" fill="#4f7db6"/>
<circle cx="282.85" cy="34.52" r="1.8" fill="#4f7db6"/>
<circle cx="306.36" cy="183.69" r="1.8" fill="#4f7db6"/>
<circle cx="314.97" cy="80.11" r="1.8" fill="#4f7db6"/>
<circle cx="312.36" cy="70.28" r="1.8" fill="#4f7db6"/>
<circle cx="305.29" cy="104.87" r="1.8" fill="#4f7db6"/>
<circle cx="315.95" cy="141.16" r="1.8" fill="#4f7db6"/>
<circle cx="254.79" cy="32.68" r="1.8" fill="#4f7db6"/>
<circle cx="262.52" cy="34.22" r="1.8" fill="#4f7db6"/>
<circle cx="312.81" cy="173.7" r="1.8" fill="#4f7db6"/>
<circle cx="268.21" cy="65.62" r="1.8" fill="#4f7db6"/>
<circle cx="310.07" cy="122.48" r="1.8" fill="#4f7db6"/>
<circle cx="317.15" cy="111.13" r="1.8" fill="#4f7db6"/>
<circle cx="316.89" cy="138.26" r="1.8" fill="#4f7db6"/>
<circle cx="304.19" cy="116.74" r="1.8" fill="#4f7db6"/>
<circle cx="314.37" cy="162.55" r="1.8" fill="#4f7db6"/>
<circle cx="308.62" cy="77.56" r="1.8" fill="#4f7db6"/>
<circle cx="312.45" cy="154.47" r="1.8" fill="#4f7db6"/>
<circle cx="316.66" cy="77.96" r="1.8" fill="#4f7db6"/>
<circle cx="313.31" cy="113.76" r="1.8" fill="#4f7db6"/>
<circle cx="312.3" cy="104.62" r="1.8" fill="#4f7db6"/>
<circle cx="298.85" cy="137.05" r="1.8" fill="#4f7db6"/>
<circle cx="313.06" cy="101.1" r="1.8" fill="#4f7db6"/>
<circle cx="309.96" cy="81.82" r="1.8" fill="#4f7db6"/>
<circle cx="296.3" cy="165.43" r="1.8" fill="#4f7db6"/>
<circle cx="317.36" cy="83.96" r="1.8" fill="#4f7db6"/>
<circle cx="305.82" cy="124.93" r="1.8" fill="#4f7db6"/>
<circle cx="314.91" cy="75.94" r="1.8" fill="#4f7db6"/>
<circle cx="314.55" cy="116.05" r="1.8" fill="#4f7db6"/>
<circle cx="312.27" cy="116.22" r="1.8" fill="#4f7db6"/>
<circle cx="305.88" cy="152.92" r="1.8" fill="#4f7db6"/>
<circle cx="257.41" cy="71.43" r="1.8" fill="#4f7db6"/>
<circle cx="310.84" cy="164.72" r="1.8" fill="#4f7db6"/>
<circle cx="278.4" cy="61.96" r="1.8" fill="#4f7db6"/>
<circle cx="297.16" cy="55.48" r="1.8" fill="#4f7db6"/>
<circle cx="312.03" cy="113.95" r="1.8" fill="#4f7db6"/>
<circle cx="254.83" cy="35.08" r="1.8" fill="#4f7db6"/>
<circle cx="273.93" cy="38.96" r="1.8" fill="#4f7db6"/>
<circle cx="312.21" cy="110.39" r="1.8" fill="#4f7db6"/>
<circle cx="295.79" cy="192.07" r="1.8" fill="#4f7db6"/>
<circle cx="296.1" cy="47.55" r="1.8" fill="#4f7db6"/>
<circle cx="305.06" cy="125.84" r="1.8" fill="#4f7db6"/>
<circle cx="256.71" cy="35.75" r="1.8" fill="#4f7db6"/>
<circle cx="306.62" cy="77.79" r="1.8" fill="#4f7db6"/>
<circle cx="273.45" cy="72.29" r="1.8" fill="#4f7db6"/>
<circle cx="308.86" cy="134.83" r="1.8" fill="#4f7db6"/>
<circle cx="312.75" cy="67.42" r="1.8" fill="#4f7db6"/>
<circle cx="314.57" cy="96.82" r="1.8" fill="#4f7db6"/>
<circle cx="262.96" cy="40.13" r="1.8" fill="#4f7db6"/>
<circle cx="294.13" cy="53.43" r="1.8" fill="#4f7db6"/>
<circle cx="295.88" cy="72.26" r="1.8" fill="#4f7db6"/>
<circle cx="254.78" cy="60.24" r="1.8" fill="#4f7db6"/>
<circle cx="294.1" cy="57.24" r="1.8" fill="#4f7db6"/>
<circle cx="289.66" cy="52.95" r="1.8" fill="#4f7db6"/>
<circle cx="281.24" cy="75.86" r="1.8" fill="#4f7db6"/>
<circle cx="313.15" cy="190.5" r="1.8" fill="#4f7db6"/>
<circle cx="315.98" cy="176.81" r="1.8" fill="#4f7db6"/>
<circle cx="294.67" cy="158.49" r="1.8" fill="#4f7db6"/>
<circle cx="234.27" cy="31.22" r="1.8" fill="#4f7db6"/>
<circle cx="265.37" cy="35.5" r="1.8" fill="#4f7db6"/>
<circle cx="310" cy="99.46" r="1.8" fill="#4f7db6"/>
<circle cx="311.66" cy="171.57" r="1.8" fill="#4f7db6"/>
<circle cx="298.71" cy="64.35" r="1.8" fill="#4f7db6"/>
<circle cx="287.45" cy="60.75" r="1.8" fill="#4f7db6"/>
<circle cx="266.95" cy="31.25" r="1.8" fill="#4f7db6"/>
<circle cx="314.17" cy="96.24" r="1.8" fill="#4f7db6"/>
<circle cx="286.95" cy="43.06" r="1.8" fill="#4f7db6"/>
<circle cx="300.54" cy="118.08" r="1.8" fill="#4f7db6"/>
<circle cx="312.35" cy="202.93" r="1.8" fill="#4f7db6"/>
<circle cx="301.49" cy="63.82" r="1.8" fill="#4f7db6"/>
<circle cx="298.2" cy="64.86" r="1.8" fill="#4f7db6"/>
<circle cx="306.86" cy="124.87" r="1.8" fill="#4f7db6"/>
<circle cx="312.6" cy="121.49" r="1.8" fill="#4f7db6"/>
<circle cx="294.96" cy="136.84" r="1.8" fill="#4f7db6"/>
<circle cx="296.65" cy="52.16" r="1.8" fill="#4f7db6"/>
<circle cx="312.47" cy="147.19" r="1.8" fill="#4f7db6"/>
<circle cx="287.21" cy="62.76" r="1.8" fill="#4f7db6"/>
<circle cx="293.01" cy="171.28" r="1.8" fill="#4f7db6"/>
<circle cx="303.62" cy="154.32" r="1.8" fill="#4f7db6"/>
<circle cx="277.37" cy="38.6" r="1.8" fill="#4f7db6"/>
<circle cx="303.32" cy="121.87" r="1.8" fill="#4f7db6"/>
<circle cx="303" cy="57" r="1.8" fill="#4f7db6"/>
<circle cx="304.77" cy="118.23" r="1.8" fill="#4f7db6"/>
<circle cx="312.58" cy="104.77" r="1.8" fill="#4f7db6"/>
<circle cx="308.5" cy="162.07" r="1.8" fill="#4f7db6"/>
<circle cx="265.57" cy="35.95" r="1.8" fill="#4f7db6"/>
<circle cx="271.53" cy="113.58" r="1.8" fill="#4f7db6"/>
<circle cx="316.01" cy="141.27" r="1.8" fill="#4f7db6"/>
<circle cx="306.4" cy="175.12" r="1.8" fill="#4f7db6"/>
<circle cx="316.36" cy="136.11" r="1.8" fill="#4f7db6"/>
<circle cx="314.59" cy="170.19" r="1.8" fill="#4f7db6"/>
<circle cx="283.23" cy="40.09" r="1.8" fill="#4f7db6"/>
<circle cx="289.76" cy="60.17" r="1.8" fill="#4f7db6"/>
<circle cx="249.37" cy="64.35" r="1.8" fill="#4f7db6"/>
<circle cx="291.63" cy="136.03" r="1.8" fill="#4f7db6"/>
<circle cx="299.7" cy="86.49" r="1.8" fill="#4f7db6"/>
<circle cx="293.36" cy="46.87" r="1.8" fill="#4f7db6"/>
<circle cx="315.2" cy="86.72" r="1.8" fill="#4f7db6"/>
<circle cx="311.93" cy="101.08" r="1.8" fill="#4f7db6"/>
<circle cx="280.61" cy="40.97" r="1.8" fill="#4f7db6"/>
<circle cx="291.33" cy="54.94" r="1.8" fill="#4f7db6"/>
<circle cx="279.46" cy="31.6" r="1.8" fill="#4f7db6"/>
<circle cx="289.88" cy="123.09" r="1.8" fill="#4f7db6"/>
<circle cx="281.39" cy="47.69" r="1.8" fill="#4f7db6"/>
<circle cx="308.68" cy="88.5" r="1.8" fill="#4f7db6"/>
<circle cx="312.45" cy="95.98" r="1.8" fill="#4f7db6"/>
<circle cx="298.11" cy="123.2" r="1.8" fill="#4f7db6"/>
<circle cx="286.28" cy="90.64" r="1.8" fill="#4f7db6"/>
<circle cx="290.56" cy="56.52" r="1.8" fill="#4f7db6"/>
<circle cx="282.46" cy="141.26" r="1.8" fill="#4f7db6"/>
<circle cx="309.54" cy="85.14" r="1.8" fill="#4f7db6"/>
<circle cx="277.13" cy="184.9" r="1.8" fill="#4f7db6"/>
<circle cx="291.37" cy="92.29" r="1.8" fill="#4f7db6"/>
<circle cx="302.23" cy="75.99" r="1.8" fill="#4f7db6"/>
<circle cx="288.24" cy="116.92" r="1.8" fill="#4f7db6"/>
<circle cx="311.89" cy="178.17" r="1.8" fill="#4f7db6"/>
<circle cx="316.86" cy="84.17" r="1.8" fill="#4f7db6"/>
<circle cx="291.6" cy="75.61" r="1.8" fill="#4f7db6"/>
<circle cx="307.56" cy="162.38" r="1.8" fill="#4f7db6"/>
<circle cx="274.45" cy="88.53" r="1.8" fill="#4f7db6"/>
<circle cx="292.14" cy="128.02" r="1.8" fill="#4f7db6"/>
<circle cx="300.48" cy="95.37" r="1.8" fill="#4f7db6"/>
<circle cx="304.75" cy="149.06" r="1.8" fill="#4f7db6"/>
<circle cx="308.78" cy="164.12" r="1.8" fill="#4f7db6"/>
<circle cx="306.57" cy="92.57" r="1.8" fill="#4f7db6"/>
<circle cx="315.51" cy="145.36" r="1.8" fill="#4f7db6"/>
<circle cx="312.57" cy="144.82" r="1.8" fill="#4f7db6"/>
<circle cx="312.65" cy="170.92" r="1.8" fill="#4f7db6"/>
<circle cx="293.77" cy="53.62" r="1.8" fill="#4f7db6"/>
<circle cx="310.51" cy="131.6" r="1.8" fill="#4f7db6"/>
<circle cx="304.14" cy="60.86" r="1.8" fill="#4f7db6"/>
<circle cx="257.53" cy="47.38" r="1.8" fill="#4f7db6"/>
<circle cx="271.42" cy="76.21" r="1.8" fill="#4f7db6"/>
<circle cx="278.69" cy="101.75" r="1.8" fill="#4f7db6"/>
<circle cx="304.06" cy="149.98" r="1.8" fill="#4f7db6"/>
<circle cx="258.26" cy="69.28" r="1.8" fill="#4f7db6"/>
<circle cx="298.35" cy="81.96" r="1.8" fill="#4f7db6"/>
<circle cx="299.79" cy="70.01" r="1.8" fill="#4f7db6"/>
<circle cx="305.32" cy="165.01" r="1.8" fill="#4f7db6"/>
<circle cx="309.43" cy="133.92" r="1.8" fill="#4f7db6"/>
<circle cx="303.5" cy="107.46" r="1.8" fill="#4f7db6"/>
<circle cx="272.66" cy="63.59" r="1.8" fill="#4f7db6"/>
<circle cx="293.63" cy="64.32" r="1.8" fill="#4f7db6"/>
<circle cx="282.62" cy="33.76" r="1.8" fill="#4f7db6"/>
<circle cx="295.78" cy="175.95" r="1.8" fill="#4f7db6"/>
<circle cx="309.55" cy="85.3" r="1.8" fill="#4f7db6"/>
<circle cx="313.13" cy="98.91" r="1.8" fill="#4f7db6"/>
<circle cx="313.99" cy="73.86" r="1.8" fill="#4f7db6"/>
<circle cx="313.27" cy="106.15" r="1.8" fill="#4f7db6"/>
<circle cx="306.31" cy="96.67" r="1.8" fill="#4f7db6"/>
<circle cx="262.14" cy="36.07" r="1.8" fill="#4f7db6"/>
<circle cx="313.83" cy="202.76" r="1.8" fill="#4f7db6"/>
<circle cx="252.34" cy="38.68" r="1.8" fill="#4f7db6"/>
<circle cx="294.99" cy="51.13" r="1.8" fill="#4f7db6"/>
<circle cx="279.28" cy="31.4" r="1.8" fill="#4f7db6"/>
<circle cx="309.02" cy="160.53" r="1.8" fill="#4f7db6"/>
<circle cx="307.57" cy="84.74" r="1.8" fill="#4f7db6"/>
<circle cx="292.04" cy="49.96" r="1.8" fill="#4f7db6"/>
<circle cx="308.68" cy="142.24" r="1.8" fill="#4f7db6"/>
<circle cx="309.44" cy="111.42" r="1.8" fill="#4f7db6"/>
<circle cx="307.54" cy="63.42" r="1.8" fill="#4f7db6"/>
<circle cx="316.84" cy="110.13" r="1.8" fill="#4f7db6"/>
<circle cx="304.31" cy="151.72" r="1.8" fill="#4f7db6"/>
<circle cx="266.84" cy="47.63" r="1.8" fill="#4f7db6"/>
<circle cx="309.65" cy="116.29" r="1.8" fill="#4f7db6"/>
<circle cx="308.54" cy="90.33" r="1.8" fill="#4f7db6"/>
<circle cx="270.82" cy="43.69" r="1.8" fill="#4f7db6"/>
<circle cx="314.03" cy="65.81" r="1.8" fill="#4f7db6"/>
<circle cx="316.23" cy="133.97" r="1.8" fill="#4f7db6"/>
<circle cx="293.09" cy="144.69" r="1.8" fill="#4f7db6"/>
<circle cx="315.57" cy="103.61" r="1.8" fill="#4f7db6"/>
<circle cx="313.27" cy="151.13" r="1.8" fill="#4f7db6"/>
<circle cx="278.04" cy="69.13" r="1.8" fill="#4f7db6"/>
<circle cx="245.63" cy="50.99" r="1.8" fill="#4f7db6"/>
<circle cx="293.88" cy="48.06" r="1.8" fill="#4f7db6"/>
<circle cx="313.99" cy="122.54" r="1.8" fill="#4f7db6"/>
<circle cx="308.83" cy="101.84" r="1.8" fill="#4f7db6"/>
<circle cx="307.91" cy="68.07" r="1.8" fill="#4f7db6"/>
<circle cx="294.03" cy="54.47" r="1.8" fill="#4f7db6"/>
<circle cx="314.21" cy="132.14" r="1.8" fill="#4f7db6"/>
<circle cx="295.6" cy="167.89" r="1.8" fill="#4f7db6"/>
<circle cx="287.53" cy="66.79" r="1.8" fill="#4f7db6"/>
<circle cx="309.53" cy="163.27" r="1.8" fill="#4f7db6"/>
<circle cx="279.96" cy="67.89" r="1.8" fill="#4f7db6"/>
<circle cx="308.15" cy="61.34" r="1.8" fill="#4f7db6"/>
<circle cx="286.48" cy="69.51" r="1.8" fill="#4f7db6"/>
<circle cx="307.17" cy="109.55" r="1.8" fill="#4f7db6"/>
<circle cx="292.52" cy="134.43" r="1.8" fill="#4f7db6"/>
<circle cx="299.16" cy="78.67" r="1.8" fill="#4f7db6"/>
<circle cx="311.39" cy="139.87" r="1.8" fill="#4f7db6"/>
<circle cx="295.16" cy="122.13" r="1.8" fill="#4f7db6"/>
<circle cx="311.56" cy="72.39" r="1.8" fill="#4f7db6"/>
<circle cx="311.23" cy="71.36" r="1.8" fill="#4f7db6"/>
<circle cx="266.61" cy="34.04" r="1.8" fill="#4f7db6"/>
<circle cx="272.04" cy="54.4" r="1.8" fill="#4f7db6"/>
<circle cx="265.73" cy="122.43" r="1.8" fill="#4f7db6"/>
<circle cx="315.06" cy="101.01" r="1.8" fill="#4f7db6"/>
<circle cx="292.66" cy="109.77" r="1.8" fill="#4f7db6"/>
<circle cx="304.38" cy="70.48" r="1.8" fill="#4f7db6"/>
<circle cx="297.11" cy="68.84" r="1.8" fill="#4f7db6"/>
<circle cx="306.75" cy="142.74" r="1.8" fill="#4f7db6"/>
<circle cx="290.27" cy="126.26" r="1.8" fill="#4f7db6"/>
<circle cx="305.16" cy="199.51" r="1.8" fill="#4f7db6"/>
<circle cx="314.38" cy="68.34" r="1.8" fill="#4f7db6"/>
<circle cx="291.65" cy="170.62" r="1.8" fill="#4f7db6"/>
<circle cx="308.35" cy="139.34" r="1.8" fill="#4f7db6"/>
<circle cx="315.63" cy="154.82" r="1.8" fill="#4f7db6"/>
<circle cx="316.69" cy="107.07" r="1.8" fill="#4f7db6"/>
<circle cx="309.35" cy="77.67" r="1.8" fill="#4f7db6"/>
<circle cx="314.56" cy="73.97" r="1.8" fill="#4f7db6"/>
<circle cx="309.54" cy="156.42" r="1.8" fill="#4f7db6"/>
<circle cx="305.12" cy="72.37" r="1.8" fill="#4f7db6"/>
<circle cx="272.2" cy="94.99" r="1.8" fill="#4f7db6"/>
<circle cx="289.25" cy="78.33" r="1.8" fill="#4f7db6"/>
<circle cx="315.39" cy="146.1" r="1.8" fill="#4f7db6"/>
<circle cx="295.52" cy="63.4" r="1.8" fill="#4f7db6"/>
<circle cx="255.03" cy="30.95" r="1.8" fill="#4f7db6"/>
<circle cx="295.41" cy="74.71" r="1.8" fill="#4f7db6"/>
<circle cx="305.25" cy="74.47" r="1.8" fill="#4f7db6"/>
<circle cx="308.62" cy="136.41" r="1.8" fill="#4f7db6"/>
<circle cx="275.95" cy="101.11" r="1.8" fill="#4f7db6"/>
<circle cx="241.14" cy="61.17" r="1.8" fill="#4f7db6"/>
<circle cx="302.25" cy="54.3" r="1.8" fill="#4f7db6"/>
<circle cx="313" cy="180.89" r="1.8" fill="#4f7db6"/>
<circle cx="260.92" cy="43.29" r="1.8" fill="#4f7db6"/>
<circle cx="260.48" cy="46.84" r="1.8" fill="#4f7db6"/>
<circle cx="308.84" cy="85.63" r="1.8" fill="#4f7db6"/>
<circle cx="250.99" cy="58.72" r="1.8" fill="#4f7db6"/>
<circle cx="302" cy="95.52" r="1.8" fill="#4f7db6"/>
<circle cx="314.96" cy="129.32" r="1.8" fill="#4f7db6"/>
<circle cx="295.75" cy="50.28" r="1.8" fill="#4f7db6"/>
<circle cx="316.4" cy="166.83" r="1.8" fill="#4f7db6"/>
<circle cx="317.19" cy="153.94" r="1.8" fill="#4f7db6"/>
<circle cx="300.39" cy="49.39" r="1.8" fill="#4f7db6"/>
<circle cx="283.32" cy="191.16" r="1.8" fill="#4f7db6"/>
<circle cx="311.43" cy="110.02" r="1.8" fill="#4f7db6"/>
<circle cx="307.46" cy="58.39" r="1.8" fill="#4f7db6"/>
<circle cx="283.54" cy="39.52" r="1.8" fill="#4f7db6"/>
<circle cx="314.31" cy="127.8" r="1.8" fill="#4f7db6"/>
<circle cx="258.85" cy="75.08" r="1.8" fill="#4f7db6"/>
<circle cx="314.01" cy="115.45" r="1.8" fill="#4f7db6"/>
<circle cx="308.88" cy="77.98" r="1.8" fill="#4f7db6"/>
<circle cx="314.28" cy="141.91" r="1.8" fill="#4f7db6"/>
<circle cx="314.04" cy="117.91" r="1.8" fill="#4f7db6"/>
<circle cx="302.41" cy="166.75" r="1.8" fill="#4f7db6"/>
<circle cx="306.89" cy="132.81" r="1.8" fill="#4f7db6"/>
<circle cx="312.09" cy="182.52" r="1.8" fill="#4f7db6"/>
<circle cx="308.01" cy="134.46" r="1.8" fill="#4f7db6"/>
<circle cx="283.05" cy="64.08" r="1.8" fill="#4f7db6"/>
<circle cx="268.33" cy="35.02" r="1.8" fill="#4f7db6"/>
<circle cx="309.68" cy="196.82" r="1.8" fill="#4f7db6"/>
<circle cx="306.86" cy="101" r="1.8" fill="#4f7db6"/>
<circle cx="314.16" cy="90.92" r="1.8" fill="#4f7db6"/>
<circle cx="271.48" cy="50.45" r="1.8" fill="#4f7db6"/>
<circle cx="314.87" cy="123.88" r="1.8" fill="#4f7db6"/>
<circle cx="314.11" cy="73.51" r="1.8" fill="#4f7db6"/>
<circle cx="315.3" cy="133.04" r="1.8" fill="#4f7db6"/>
<circle cx="303.74" cy="121.48" r="1.8" fill="#4f7db6"/>
<circle cx="315.53" cy="69.74" r="1.8" fill="#4f7db6"/>
<circle cx="312.56" cy="74.91" r="1.8" fill="#4f7db6"/>
<circle cx="309.58" cy="122.26" r="1.8" fill="#4f7db6"/>
<circle cx="312.56" cy="129.44" r="1.8" fill="#4f7db6"/>
<circle cx="315.97" cy="167.91" r="1.8" fill="#4f7db6"/>
<circle cx="269.23" cy="110.87" r="1.8" fill="#4f7db6"/>
<circle cx="296.24" cy="126.9" r="1.8" fill="#4f7db6"/>
<circle cx="310.78" cy="145.09" r="1.8" fill="#4f7db6"/>
<circle cx="304.76" cy="196.5" r="1.8" fill="#4f7db6"/>
<circle cx="294.57" cy="143.64" r="1.8" fill="#4f7db6"/>
<circle cx="286.6" cy="139.14" r="1.8" fill="#4f7db6"/>
<circle cx="316.31" cy="136.35" r="1.8" fill="#4f7db6"/>
<circle cx="308.65" cy="77.44" r="1.8" fill="#4f7db6"/>
<circle cx="244.47" cy="24.56" r="1.8" fill="#4f7db6"/>
<circle cx="279.23" cy="37.19" r="1.8" fill="#4f7db6"/>
<circle cx="278.17" cy="39.67" r="1.8" fill="#4f7db6"/>
<circle cx="317.29" cy="178.93" r="1.8" fill="#4f7db6"/>
<circle cx="277.77" cy="44.64" r="1.8" fill="#4f7db6"/>
<circle cx="279.17" cy="109.92" r="1.8" fill="#4f7db6"/>
<circle cx="297.67" cy="96.33" r="1.8" fill="#4f7db6"/>
<circle cx="304.79" cy="82.2" r="1.8" fill="#4f7db6"/>
<circle cx="303.74" cy="69.65" r="1.8" fill="#4f7db6"/>
<circle cx="304" cy="114.91" r="1.8" fill="#4f7db6"/>
<circle cx="313.45" cy="84.78" r="1.8" fill="#4f7db6"/>
<circle cx="288.41" cy="56.44" r="1.8" fill="#4f7db6"/>
<circle cx="267.83" cy="45.71" r="1.8" fill="#4f7db6"/>
<circle cx="293.85" cy="79.11" r="1.8" fill="#4f7db6"/>
<circle cx="292.32" cy="77.32" r="1.8" fill="#4f7db6"/>
<circle cx="308.87" cy="129.99" r="1.8" fill="#4f7db6"/>
<circle cx="312.93" cy="142.53" r="1.8" fill="#4f7db6"/>
<circle cx="298.14" cy="68.58" r="1.8" fill="#4f7db6"/>
<circle cx="316.16" cy="69.85" r="1.8" fill="#4f7db6"/>
<circle cx="296.21" cy="127.06" r="1.8" fill="#4f7db6"/>
<circle cx="312.4" cy="70.72" r="1.8" fill="#4f7db6"/>
<circle cx="304.61" cy="78.6" r="1.8" fill="#4f7db6"/>
<circle cx="304.63" cy="147.38" r="1.8" fill="#4f7db6"/>
<circle cx="306.33" cy="85.51" r="1.8" fill="#4f7db6"/>
<circle cx="247.64" cy="31.27" r="1.8" fill="#4f7db6"/>
<circle cx="280.85" cy="92.69" r="1.8" fill="#4f7db6"/>
<circle cx="275.16" cy="39.06" r="1.8" fill="#4f7db6"/>
<circle cx="314.94" cy="104.23" r="1.8" fill="#4f7db6"/>
<circle cx="307.7" cy="75.22" r="1.8" fill="#4f7db6"/>
<circle cx="308.27" cy="180.44" r="1.8" fill="#4f7db6"/>
<circle cx="290.06" cy="98.98" r="1.8" fill="#4f7db6"/>
<circle cx="316.97" cy="122.67" r="1.8" fill="#4f7db6"/>
<circle cx="310.73" cy="147.78" r="1.8" fill="#4f7db6"/>
<circle cx="300.55" cy="73.98" r="1.8" fill="#4f7db6"/>
<circle cx="316.65" cy="127.48" r="1.8" fill="#4f7db6"/>
<circle cx="314.87" cy="91.52" r="1.8" fill="#4f7db6"/>
<circle cx="307.09" cy="147.91" r="1.8" fill="#4f7db6"/>
<circle cx="312.12" cy="76.4" r="1.8" fill="#4f7db6"/>
<circle cx="300.49" cy="49.65" r="1.8" fill="#4f7db6"/>
<circle cx="311.38" cy="107.44" r="1.8" fill="#4f7db6"/>
<circle cx="234.57" cy="44.31" r="1.8" fill="#4f7db6"/>
<circle cx="288.68" cy="77.29" r="1.8" fill="#4f7db6"/>
<circle cx="308.02" cy="67.08" r="1.8" fill="#4f7db6"/>
<circle cx="306.29" cy="59.99" r="1.8" fill="#4f7db6"/>
<circle cx="305.55" cy="58.29" r="1.8" fill="#4f7db6"/>
<circle cx="308.59" cy="103.27" r="1.8" fill="#4f7db6"/>
<circle cx="310.85" cy="105.35" r="1.8" fill="#4f7db6"/>
<circle cx="303.74" cy="83.35" r="1.8" fill="#4f7db6"/>
<circle cx="279.72" cy="100.32" r="1.8" fill="#4f7db6"/>
<circle cx="299.17" cy="65.93" r="1.8" fill="#4f7db6"/>
<circle cx="315.68" cy="93.07" r="1.8" fill="#4f7db6"/>
<circle cx="302.89" cy="75.07" r="1.8" fill="#4f7db6"/>
<circle cx="281.82" cy="56.45" r="1.8" fill="#4f7db6"/>
<circle cx="307.56" cy="122.02" r="1.8" fill="#4f7db6"/>
<circle cx="296.53" cy="76.5" r="1.8" fill="#4f7db6"/>
<circle cx="305.71" cy="82.27" r="1.8" fill="#4f7db6"/>
<circle cx="292.15" cy="147.68" r="1.8" fill="#4f7db6"/>
<circle cx="295.89" cy="84.33" r="1.8" fill="#4f7db6"/>
<circle cx="313.17" cy="123.89" r="1.8" fill="#4f7db6"/>
<circle cx="297.64" cy="185.91" r="1.8" fill="#4f7db6"/>
<circle cx="313.77" cy="90.15" r="1.8" fill="#4f7db6"/>
<circle cx="304.77" cy="64.67" r="1.8" fill="#4f7db6"/>
<circle cx="310.32" cy="113.08" r="1.8" fill="#4f7db6"/>
<circle cx="301.21" cy="89.82" r="1.8" fill="#4f7db6"/>
<circle cx="283.57" cy="95.19" r="1.8" fill="#4f7db6"/>
<circle cx="250.65" cy="43.68" r="1.8" fill="#4f7db6"/>
<circle cx="315.21" cy="65.6" r="1.8" fill="#4f7db6"/>
<circle cx="292.54" cy="126.72" r="1.8" fill="#4f7db6"/>
<circle cx="313.64" cy="104.18" r="1.8" fill="#4f7db6"/>
<circle cx="306.31" cy="123.08" r="1.8" fill="#4f7db6"/>
<circle cx="302.86" cy="64.21" r="1.8" fill="#4f7db6"/>
<circle cx="316.86" cy="76.32" r="1.8" fill="#4f7db6"/>
<circle cx="315.93" cy="75.66" r="1.8" fill="#4f7db6"/>
<circle cx="311.13" cy="154.57" r="1.8" fill="#4f7db6"/>
<circle cx="278.46" cy="56.94" r="1.8" fill="#4f7db6"/>
<circle cx="267.6" cy="69.18" r="1.8" fill="#4f7db6"/>
<circle cx="279.61" cy="144.88" r="1.8" fill="#4f7db6"/>
<circle cx="305.47" cy="92.75" r="1.8" fill="#4f7db6"/>
<circle cx="311.07" cy="140.27" r="1.8" fill="#4f7db6"/>
<circle cx="311.93" cy="94.65" r="1.8" fill="#4f7db6"/>
<circle cx="258.64" cy="44.58" r="1.8" fill="#4f7db6"/>
<circle cx="304.1" cy="202.89" r="1.8" fill="#4f7db6"/>
<circle cx="308.94" cy="92.41" r="1.8" fill="#4f7db6"/>
<circle cx="292.25" cy="72.58" r="1.8" fill="#4f7db6"/>
<circle cx="269.56" cy="54.38" r="1.8" fill="#4f7db6"/>
<circle cx="287.88" cy="101.44" r="1.8" fill="#4f7db6"/>
<circle cx="315.47" cy="119.85" r="1.8" fill="#4f7db6"/>
<circle cx="304.81" cy="107.53" r="1.8" fill="#4f7db6"/>
<circle cx="317.32" cy="84.97" r="1.8" fill="#4f7db6"/>
<circle cx="283.5" cy="78.59" r="1.8" fill="#4f7db6"/>
<circle cx="288.74" cy="118.58" r="1.8" fill="#4f7db6"/>
<circle cx="287.94" cy="113.3" r="1.8" fill="#4f7db6"/>
<circle cx="259.16" cy="29.91" r="1.8" fill="#4f7db6"/>
<circle cx="307.24" cy="67.96" r="1.8" fill="#4f7db6"/>
<circle cx="308" cy="67.27" r="1.8" fill="#4f7db6"/>
<circle cx="300.94" cy="92.88" r="1.8" fill="#4f7db6"/>
<circle cx="304.01" cy="57.28" r="1.8" fill="#4f7db6"/>
<circle cx="266.68" cy="30.66" r="1.8" fill="#4f7db6"/>
<circle cx="302.64" cy="135.21" r="1.8" fill="#4f7db6"/>
<circle cx="310.39" cy="81.44" r="1.8" fill="#4f7db6"/>
<circle cx="308.5" cy="66.76" r="1.8" fill="#4f7db6"/>
<circle cx="297.71" cy="58.76" r="1.8" fill="#4f7db6"/>
<circle cx="315.33" cy="153.59" r="1.8" fill="#4f7db6"/>
<circle cx="316.37" cy="75.29" r="1.8" fill="#4f7db6"/>
<circle cx="304.55" cy="76.37" r="1.8" fill="#4f7db6"/>
<circle cx="305.56" cy="136.3" r="1.8" fill="#4f7db6"/>
<circle cx="312.54" cy="181.64" r="1.8" fill="#4f7db6"/>
<circle cx="315.18" cy="139.05" r="1.8" fill="#4f7db6"/>
<circle cx="316.65" cy="100.68" r="1.8" fill="#4f7db6"/>
<circle cx="266.37" cy="35.76" r="1.8" fill="#4f7db6"/>
<circle cx="303.68" cy="87.4" r="1.8" fill="#4f7db6"/>
<circle cx="289.46" cy="73.24" r="1.8" fill="#4f7db6"/>
<circle cx="275.06" cy="69.39" r="1.8" fill="#4f7db6"/>
<circle cx="301.72" cy="103.4" r="1.8" fill="#4f7db6"/>
<circle cx="279.23" cy="120.11" r="1.8" fill="#4f7db6"/>
<circle cx="276.84" cy="35.52" r="1.8" fill="#4f7db6"/>
<circle cx="282.06" cy="41.81" r="1.8" fill="#4f7db6"/>
<circle cx="310.55" cy="131.31" r="1.8" fill="#4f7db6"/>
<circle cx="296.98" cy="43.34" r="1.8" fill="#4f7db6"/>
<circle cx="306.25" cy="112.8" r="1.8" fill="#4f7db6"/>
<circle cx="296.21" cy="123.31" r="1.8" fill="#4f7db6"/>
<circle cx="310.4" cy="139.8" r="1.8" fill="#4f7db6"/>
<circle cx="316.01" cy="69.69" r="1.8" fill="#4f7db6"/>
<circle cx="292.82" cy="54.22" r="1.8" fill="#4f7db6"/>
<circle cx="307.14" cy="185.5" r="1.8" fill="#4f7db6"/>
<circle cx="310.56" cy="94.13" r="1.8" fill="#4f7db6"/>
<circle cx="251.26" cy="45.33" r="1.8" fill="#4f7db6"/>
<circle cx="283.29" cy="93.31" r="1.8" fill="#4f7db6"/>
<circle cx="316.54" cy="151.89" r="1.8" fill="#4f7db6"/>
<circle cx="313.03" cy="137.94" r="1.8" fill="#4f7db6"/>
<circle cx="303.4" cy="154.18" r="1.8" fill="#4f7db6"/>
<circle cx="273.96" cy="62.97" r="1.8" fill="#4f7db6"/>
<circle cx="306.16" cy="79.93" r="1.8" fill="#4f7db6"/>
<circle cx="300.54" cy="51.18" r="1.8" fill="#4f7db6"/>
<circle cx="310.52" cy="66.12" r="1.8" fill="#4f7db6"/>
<circle cx="308.39" cy="184.13" r="1.8" fill="#4f7db6"/>
<circle cx="312.56" cy="172.19" r="1.8" fill="#4f7db6"/>
<circle cx="313.24" cy="73.49" r="1.8" fill="#4f7db6"/>
<circle cx="311.83" cy="149.7" r="1.8" fill="#4f7db6"/>
<circle cx="316.44" cy="73.69" r="1.8" fill="#4f7db6"/>
<circle cx="300.01" cy="54.29" r="1.8" fill="#4f7db6"/>
<circle cx="316.1" cy="118.75" r="1.8" fill="#4f7db6"/>
<circle cx="304.27" cy="92.87" r="1.8" fill="#4f7db6"/>
<circle cx="311.05" cy="85.51" r="1.8" fill="#4f7db6"/>
<circle cx="315.66" cy="104.71" r="1.8" fill="#4f7db6"/>
<circle cx="312.41" cy="192.67" r="1.8" fill="#4f7db6"/>
<circle cx="308.44" cy="153.03" r="1.8" fill="#4f7db6"/>
<circle cx="311.26" cy="148.65" r="1.8" fill="#4f7db6"/>
<circle cx="311.69" cy="118.79" r="1.8" fill="#4f7db6"/>
<circle cx="313.01" cy="122.28" r="1.8" fill="#4f7db6"/>
<circle cx="315.78" cy="83.01" r="1.8" fill="#4f7db6"/>
<circle cx="311.64" cy="80.61" r="1.8" fill="#4f7db6"/>
<circle cx="315.44" cy="74.33" r="1.8" fill="#4f7db6"/>
<circle cx="305.05" cy="120.5" r="1.8" fill="#4f7db6"/>
<circle cx="255.93" cy="40.53" r="1.8" fill="#4f7db6"/>
<circle cx="308.41" cy="133.63" r="1.8" fill="#4f7db6"/>
<circle cx="301.29" cy="64.09" r="1.8" fill="#4f7db6"/>
<circle cx="260.47" cy="59.17" r="1.8" fill="#4f7db6"/>
<circle cx="282.53" cy="90.34" r="1.8" fill="#4f7db6"/>
<circle cx="293.43" cy="122.95" r="1.8" fill="#4f7db6"/>
<circle cx="287.84" cy="58.47" r="1.8" fill="#4f7db6"/>
<circle cx="308.6" cy="144.05" r="1.8" fill="#4f7db6"/>
<circle cx="313.8" cy="117.7" r="1.8" fill="#4f7db6"/>
<circle cx="312.82" cy="69.8" r="1.8" fill="#4f7db6"/>
<circle cx="312.53" cy="85.81" r="1.8" fill="#4f7db6"/>
<circle cx="281.34" cy="47.42" r="1.8" fill="#4f7db6"/>
<circle cx="306.46" cy="60.57" r="1.8" fill="#4f7db6"/>
<circle cx="279.67" cy="32.06" r="1.8" fill="#4f7db6"/>
<circle cx="311.8" cy="173.03" r="1.8" fill="#4f7db6"/>
<circle cx="293.78" cy="83.76" r="1.8" fill="#4f7db6"/>
<circle cx="250.46" cy="56.9" r="1.8" fill="#4f7db6"/>
<circle cx="275.85" cy="150.51" r="1.8" fill="#4f7db6"/>
<circle cx="285.74" cy="75.72" r="1.8" fill="#4f7db6"/>
<circle cx="285.41" cy="147.59" r="1.8" fill="#4f7db6"/>
<circle cx="313.31" cy="112.45" r="1.8" fill="#4f7db6"/>
<circle cx="288.56" cy="82.04" r="1.8" fill="#4f7db6"/>
<circle cx="301.42" cy="154.48" r="1.8" fill="#4f7db6"/>
<circle cx="308.52" cy="180.88" r="1.8" fill="#4f7db6"/>
<circle cx="297.58" cy="154.45" r="1.8" fill="#4f7db6"/>
<circle cx="288.68" cy="71.69" r="1.8" fill="#4f7db6"/>
<circle cx="315.14" cy="146.5" r="1.8" fill="#4f7db6"/>
<circle cx="311.92" cy="153.71" r="1.8" fill="#4f7db6"/>
<circle cx="304.41" cy="157.06" r="1.8" fill="#4f7db6"/>
<circle cx="306.12" cy="113.21" r="1.8" fill="#4f7db6"/>
<circle cx="313.7" cy="180.03" r="1.8" fill="#4f7db6"/>
<circle cx="317.02" cy="98.56" r="1.8" fill="#4f7db6"/>
<circle cx="281.23" cy="73.33" r="1.8" fill="#4f7db6"/>
<circle cx="312.18" cy="107.85" r="1.8" fill="#4f7db6"/>
<circle cx="303.94" cy="108.23" r="1.8" fill="#4f7db6"/>
<circle cx="313.05" cy="67.6" r="1.8" fill="#4f7db6"/>
<circle cx="306.88" cy="124.83" r="1.8" fill="#4f7db6"/>
<circle cx="252.85" cy="45.45" r="1.8" fill="#4f7db6"/>
<circle cx="308.14" cy="116.92" r="1.8" fill="#4f7db6"/>
<circle cx="316.07" cy="99.21" r="1.8" fill="#4f7db6"/>
<circle cx="315.31" cy="143.18" r="1.8" fill="#4f7db6"/>
<circle cx="299.98" cy="181.87" r="1.8" fill="#4f7db6"/>
<circle cx="290.27" cy="201.25" r="1.8" fill="#4f7db6"/>
<circle cx="296.51" cy="141.38" r="1.8" fill="#4f7db6"/>
<circle cx="311.94" cy="97.88" r="1.8" fill="#4f7db6"/>
<circle cx="310.67" cy="119.92" r="1.8" fill="#4f7db6"/>
<circle cx="267.12" cy="77.04" r="1.8" fill="#4f7db6"/>
<circle cx="301.45" cy="55.36" r="1.8" fill="#4f7db6"/>
<circle cx="292.63" cy="95.01" r="1.8" fill="#4f7db6"/>
<circle cx="304.97" cy="104.53" r="1.8" fill="#4f7db6"/>
<circle cx="317.09" cy="159.21" r="1.8" fill="#4f7db6"/>
<circle cx="316.19" cy="75.38" r="1.8" fill="#4f7db6"/>
<circle cx="312.18" cy="83.42" r="1.8" fill="#4f7db6"/>
<circle cx="294.1" cy="97.71" r="1.8" fill="#4f7db6"/>
<circle cx="258.48" cy="66.54" r="1.8" fill="#4f7db6"/>
<circle cx="311.95" cy="96.43" r="1.8" fill="#4f7db6"/>
<circle cx="313.69" cy="135.74" r="1.8" fill="#4f7db6"/>
<circle cx="265.11" cy="97.19" r="1.8" fill="#4f7db6"/>
<circle cx="313.96" cy="96.58" r="1.8" fill="#4f7db6"/>
<circle cx="302.23" cy="56.07" r="1.8" fill="#4f7db6"/>
<circle cx="314.62" cy="129.42" r="1.8" fill="#4f7db6"/>
<circle cx="284.62" cy="46.73" r="1.8" fill="#4f7db6"/>
<circle cx="263.87" cy="31.63" r="1.8" fill="#4f7db6"/>
<circle cx="284.02" cy="161.59" r="1.8" fill="#4f7db6"/>
<circle cx="289.08" cy="112.45" r="1.8" fill="#4f7db6"/>
<circle cx="283.14" cy="52.26" r="1.8" fill="#4f7db6"/>
<circle cx="295.43" cy="132.73" r="1.8" fill="#4f7db6"/>
<circle cx="311.83" cy="73.72" r="1.8" fill="#4f7db6"/>
<circle cx="279.94" cy="45.85" r="1.8" fill="#4f7db6"/>
<circle cx="314.88" cy="142.35" r="1.8" fill="#4f7db6"/>
<circle cx="310.39" cy="178.25" r="1.8" fill="#4f7db6"/>
<circle cx="285.16" cy="131.7" r="1.8" fill="#4f7db6"/>
<circle cx="309.18" cy="68.19" r="1.8" fill="#4f7db6"/>
<circle cx="315.53" cy="72.4" r="1.8" fill="#4f7db6"/>
<circle cx="311.96" cy="154.3" r="1.8" fill="#4f7db6"/>
<circle cx="316.76" cy="84.57" r="1.8" fill="#4f7db6"/>
<circle cx="287.73" cy="109.46" r="1.8" fill="#4f7db6"/>
<circle cx="314.77" cy="88.83" r="1.8" fill="#4f7db6"/>
<circle cx="311.04" cy="78.69" r="1.8" fill="#4f7db6"/>
<circle cx="279.33" cy="59.68" r="1.8" fill="#4f7db6"/>
<circle cx="308.25" cy="162.51" r="1.8" fill="#4f7db6"/>
<circle cx="279.54" cy="44.47" r="1.8" fill="#4f7db6"/>
<circle cx="315.29" cy="137.84" r="1.8" fill="#4f7db6"/>
<circle cx="304.85" cy="140.28" r="1.8" fill="#4f7db6"/>
<circle cx="274.92" cy="38.71" r="1.8" fill="#4f7db6"/>
<circle cx="268.43" cy="44.91" r="1.8" fill="#4f7db6"/>
<circle cx="303.57" cy="96.18" r="1.8" fill="#4f7db6"/>
<circle cx="272.3" cy="53.72" r="1.8" fill="#4f7db6"/>
<circle cx="253.79" cy="135.6" r="1.8" fill="#4f7db6"/>
<circle cx="307.19" cy="65.86" r="1.8" fill="#4f7db6"/>
<circle cx="281.47" cy="54.12" r="1.8" fill="#4f7db6"/>
<circle cx="290.74" cy="71.12" r="1.8" fill="#4f7db6"/>
<circle cx="313.19" cy="127.97" r="1.8" fill="#4f7db6"/>
<circle cx="312.59" cy="93.74" r="1.8" fill="#4f7db6"/>
<circle cx="300.98" cy="156.23" r="1.8" fill="#4f7db6"/>
<circle cx="315.19" cy="191.04" r="1.8" fill="#4f7db6"/>
<circle cx="300.68" cy="162.18" r="1.8" fill="#4f7db6"/>
<circle cx="307.04" cy="157.37" r="1.8" fill="#4f7db6"/>
<circle cx="300.32" cy="83.74" r="1.8" fill="#4f7db6"/>
<circle cx="304.39" cy="160.34" r="1.8" fill="#4f7db6"/>
<circle cx="301.58" cy="52.43" r="1.8" fill="#4f7db6"/>
<circle cx="288.28" cy="49.64" r="1.8" fill="#4f7db6"/>
<circle cx="288.47" cy="79.95" r="1.8" fill="#4f7db6"/>
<circle cx="316.05" cy="130.15" r="1.8" fill="#4f7db6"/>
<circle cx="308.24" cy="142.97" r="1.8" fill="#4f7db6"/>
<circle cx="302" cy="65.45" r="1.8" fill="#4f7db6"/>
<circle cx="316.51" cy="73.54" r="1.8" fill="#4f7db6"/>
<circle cx="311.12" cy="82.79" r="1.8" fill="#4f7db6"/>
<circle cx="313.44" cy="148.41" r="1.8" fill="#4f7db6"/>
<circle cx="309.22" cy="113.59" r="1.8" fill="#4f7db6"/>
<circle cx="297.13" cy="93.5" r="1.8" fill="#4f7db6"/>
<circle cx="296.1" cy="97.66" r="1.8" fill="#4f7db6"/>
<circle cx="315.35" cy="83.41" r="1.8" fill="#4f7db6"/>
<circle cx="306.15" cy="136.21" r="1.8" fill="#4f7db6"/>
<circle cx="293.17" cy="56.98" r="1.8" fill="#4f7db6"/>
<circle cx="292.88" cy="115.46" r="1.8" fill="#4f7db6"/>
<circle cx="301.14" cy="166.28" r="1.8" fill="#4f7db6"/>
<circle cx="317.17" cy="68.93" r="1.8" fill="#4f7db6"/>
<circle cx="302.34" cy="130.81" r="1.8" fill="#4f7db6"/>
<circle cx="288.14" cy="101.61" r="1.8" fill="#4f7db6"/>
<circle cx="317.35" cy="125.22" r="1.8" fill="#4f7db6"/>
<circle cx="289.82" cy="71.93" r="1.8" fill="#4f7db6"/>
<circle cx="312.96" cy="121.17" r="1.8" fill="#4f7db6"/>
<circle cx="292.49" cy="62.97" r="1.8" fill="#4f7db6"/>
<circle cx="309.19" cy="111.6" r="1.8" fill="#4f7db6"/>
<circle cx="313.74" cy="73.92" r="1.8" fill="#4f7db6"/>
<circle cx="315.43" cy="111.44" r="1.8" fill="#4f7db6"/>
<circle cx="311.36" cy="161.82" r="1.8" fill="#4f7db6"/>
<circle cx="294.69" cy="55.97" r="1.8" fill="#4f7db6"/>
<circle cx="260.42" cy="30.87" r="1.8" fill="#4f7db6"/>
<circle cx="313.14" cy="153.72" r="1.8" fill="#4f7db6"/>
<circle cx="316.9" cy="86.34" r="1.8" fill="#4f7db6"/>
<circle cx="311.3" cy="70.72" r="1.8" fill="#4f7db6"/>
<circle cx="308.64" cy="173.9" r="1.8" fill="#4f7db6"/>
<circle cx="306.1" cy="100.31" r="1.8" fill="#4f7db6"/>
<circle cx="289" cy="57.31" r="1.8" fill="#4f7db6"/>
<circle cx="301.63" cy="77.67" r="1.8" fill="#4f7db6"/>
<circle cx="314.62" cy="115.22" r="1.8" fill="#4f7db6"/>
<circle cx="275.78" cy="132.87" r="1.8" fill="#4f7db6"/>
<circle cx="312.17" cy="148.47" r="1.8" fill="#4f7db6"/>
<circle cx="296.5" cy="100.65" r="1.8" fill="#4f7db6"/>
<circle cx="306.8" cy="71.36" r="1.8" fill="#4f7db6"/>
<circle cx="311.25" cy="174.79" r="1.8" fill="#4f7db6"/>
<circle cx="303.04" cy="131.54" r="1.8" fill="#4f7db6"/>
<circle cx="279.74" cy="116.62" r="1.8" fill="#4f7db6"/>
<circle cx="289.76" cy="130.56" r="1.8" fill="#4f7db6"/>
<circle cx="257.14" cy="66.13" r="1.8" fill="#4f7db6"/>
<circle cx="275.11" cy="61.33" r="1.8" fill="#4f7db6"/>
<circle cx="281.35" cy="89.02" r="1.8" fill="#4f7db6"/>
<circle cx="292.87" cy="101.17" r="1.8" fill="#4f7db6"/>
<circle cx="307.28" cy="60.6" r="1.8" fill="#4f7db6"/>
<circle cx="286.37" cy="107.09" r="1.8" fill="#4f7db6"/>
<circle cx="310.53" cy="66.77" r="1.8" fill="#4f7db6"/>
<circle cx="279.99" cy="57.55" r="1.8" fill="#4f7db6"/>
<circle cx="247.57" cy="49.09" r="1.8" fill="#4f7db6"/>
<circle cx="292.57" cy="40.74" r="1.8" fill="#4f7db6"/>
<circle cx="268.27" cy="57.92" r="1.8" fill="#4f7db6"/>
<circle cx="316.79" cy="90.12" r="1.8" fill="#4f7db6"/>
<circle cx="316.56" cy="169.2" r="1.8" fill="#4f7db6"/>
<circle cx="314.34" cy="127.9" r="1.8" fill="#4f7db6"/>
<circle cx="300.69" cy="177.01" r="1.8" fill="#4f7db6"/>
<circle cx="315.26" cy="148.6" r="1.8" fill="#4f7db6"/>
<circle cx="294.7" cy="84.49" r="1.8" fill="#4f7db6"/>
<circle cx="314.37" cy="139.8" r="1.8" fill="#4f7db6"/>
<circle cx="306.98" cy="71.81" r="1.8" fill="#4f7db6"/>
<circle cx="305.62" cy="105.81" r="1.8" fill="#4f7db6"/>
<circle cx="303.66" cy="70.28" r="1.8" fill="#4f7db6"/>
<circle cx="317.04" cy="90.27" r="1.8" fill="#4f7db6"/>
<circle cx="316.69" cy="106.04" r="1.8" fill="#4f7db6"/>
<circle cx="277.13" cy="80.33" r="1.8" fill="#4f7db6"/>
<circle cx="292.46" cy="89.57" r="1.8" fill="#4f7db6"/>
<circle cx="300.11" cy="60.96" r="1.8" fill="#4f7db6"/>
<circle cx="286.24" cy="38.23" r="1.8" fill="#4f7db6"/>
<circle cx="288.54" cy="85.52" r="1.8" fill="#4f7db6"/>
<circle cx="268.97" cy="66.07" r="1.8" fill="#4f7db6"/>
<circle cx="290.4" cy="47.61" r="1.8" fill="#4f7db6"/>
<circle cx="306.78" cy="95.98" r="1.8" fill="#4f7db6"/>
<circle cx="307.9" cy="89.54" r="1.8" fill="#4f7db6"/>
<circle cx="249.28" cy="58.36" r="1.8" fill="#4f7db6"/>
<circle cx="306" cy="88.67" r="1.8" fill="#4f7db6"/>
<circle cx="305.43" cy="61.71" r="1.8" fill="#4f7db6"/>
<circle cx="274.82" cy="41.93" r="1.8" fill="#4f7db6"/>
<circle cx="286.99" cy="58.8" r="1.8" fill="#4f7db6"/>
<circle cx="312.29" cy="149.98" r="1.8" fill="#4f7db6"/>
<circle cx="300.19" cy="121.1" r="1.8" fill="#4f7db6"/>
<circle cx="305.64" cy="61.56" r="1.8" fill="#4f7db6"/>
<circle cx="285.81" cy="69.86" r="1.8" fill="#4f7db6"/>
<circle cx="275.01" cy="65.3" r="1.8" fill="#4f7db6"/>
<circle cx="306.95" cy="155.04" r="1.8" fill="#4f7db6"/>
<circle cx="292.38" cy="153.96" r="1.8" fill="#4f7db6"/>
<circle cx="309.88" cy="140.43" r="1.8" fill="#4f7db6"/>
<circle cx="313.54" cy="84.47" r="1.8" fill="#4f7db6"/>
<circle cx="309.8" cy="71.24" r="1.8" fill="#4f7db6"/>
<circle cx="307.29" cy="118.47" r="1.8" fill="#4f7db6"/>
<circle cx="314.83" cy="78.17" r="1.8" fill="#4f7db6"/>
<circle cx="310.39" cy="157.41" r="1.8" fill="#4f7db6"/>
<circle cx="300.55" cy="130.21" r="1.8" fill="#4f7db6"/>
<circle cx="314.13" cy="99.85" r="1.8" fill="#4f7db6"/>
<circle cx="313.29" cy="80.88" r="1.8" fill="#4f7db6"/>
<circle cx="309.66" cy="138.05" r="1.8" fill="#4f7db6"/>
<circle cx="307.74" cy="152.32" r="1.8" fill="#4f7db6"/>
<circle cx="306.8" cy="73.3" r="1.8" fill="#4f7db6"/>
<circle cx="295.52" cy="62.82" r="1.8" fill="#4f7db6"/>
<circle cx="314.59" cy="94.71" r="1.8" fill="#4f7db6"/>
<circle cx="303.1" cy="66.97" r="1.8" fill="#4f7db6"/>
<circle cx="309.55" cy="104.97" r="1.8" fill="#4f7db6"/>
<circle cx="306.54" cy="175.1" r="1.8" fill="#4f7db6"/>
<circle cx="312.83" cy="112.84" r="1.8" fill="#4f7db6"/>
<circle cx="310.8" cy="87.47" r="1.8" fill="#4f7db6"/>
<circle cx="287.55" cy="92.57" r="1.8" fill="#4f7db6"/>
<circle cx="315.06" cy="176.95" r="1.8" fill="#4f7db6"/>
<circle cx="311.67" cy="147.24" r="1.8" fill="#4f7db6"/>
<circle cx="312.07" cy="137.46" r="1.8" fill="#4f7db6"/>
<circle cx="314.98" cy="89.15" r="1.8" fill="#4f7db6"/>
<circle cx="275.47" cy="33.94" r="1.8" fill="#4f7db6"/>
<circle cx="244.08" cy="34.54" r="1.8" fill="#4f7db6"/>
<circle cx="311.04" cy="68.41" r="1.8" fill="#4f7db6"/>
<circle cx="299.29" cy="59.16" r="1.8" fill="#4f7db6"/>
<circle cx="306.44" cy="73.88" r="1.8" fill="#4f7db6"/>
<circle cx="296.96" cy="53.23" r="1.8" fill="#4f7db6"/>
<circle cx="277.85" cy="113.13" r="1.8" fill="#4f7db6"/>
<circle cx="305.03" cy="124.28" r="1.8" fill="#4f7db6"/>
<circle cx="274.57" cy="32.81" r="1.8" fill="#4f7db6"/>
<circle cx="310.06" cy="116.68" r="1.8" fill="#4f7db6"/>
<circle cx="288.33" cy="141.66" r="1.8" fill="#4f7db6"/>
<circle cx="315.17" cy="145.49" r="1.8" fill="#4f7db6"/>
<circle cx="307.35" cy="121.33" r="1.8" fill="#4f7db6"/>
<circle cx="313.93" cy="73.58" r="1.8" fill="#4f7db6"/>
<circle cx="308.09" cy="112.11" r="1.8" fill="#4f7db6"/>
<circle cx="315.61" cy="158.22" r="1.8" fill="#4f7db6"/>
<circle cx="279.29" cy="91.14" r="1.8" fill="#4f7db6"/>
<circle cx="301.16" cy="172.15" r="1.8" fill="#4f7db6"/>
<circle cx="315.41" cy="93.79" r="1.8" fill="#4f7db6"/>
<circle cx="315.33" cy="141.03" r="1.8" fill="#4f7db6"/>
<circle cx="287.05" cy="54.12" r="1.8" fill="#4f7db6"/>
<circle cx="294.84" cy="65.03" r="1.8" fill="#4f7db6"/>
<circle cx="314.18" cy="102.53" r="1.8" fill="#4f7db6"/>
<circle cx="309.98" cy="136.25" r="1.8" fill="#4f7db6"/>
<circle cx="276.51" cy="80.35" r="1.8" fill="#4f7db6"/>
<circle cx="290.15" cy="61.41" r="1.8" fill="#4f7db6"/>
<circle cx="311.26" cy="142.42" r="1.8" fill="#4f7db6"/>
<circle cx="313.22" cy="68.42" r="1.8" fill="#4f7db6"/>
<circle cx="285.7" cy="79.04" r="1.8" fill="#4f7db6"/>
<circle cx="315.29" cy="130.47" r="1.8" fill="#4f7db6"/>
<circle cx="294.87" cy="49.5" r="1.8" fill="#4f7db6"/>
<circle cx="317.16" cy="139.55" r="1.8" fill="#4f7db6"/>
<circle cx="289.32" cy="77" r="1.8" fill="#4f7db6"/>
<circle cx="273.32" cy="52.3" r="1.8" fill="#4f7db6"/>
<circle cx="255.72" cy="51.48" r="1.8" fill="#4f7db6"/>
<circle cx="310.45" cy="102.6" r="1.8" fill="#4f7db6"/>
<circle cx="276.69" cy="59.01" r="1.8" fill="#4f7db6"/>
<circle cx="301.59" cy="97.4" r="1.8" fill="#4f7db6"/>
<circle cx="273.98" cy="57.23" r="1.8" fill="#4f7db6"/>
<circle cx="281.21" cy="127.23" r="1.8" fill="#4f7db6"/>
<circle cx="308.46" cy="124.94" r="1.8" fill="#4f7db6"/>
<circle cx="316.48" cy="173.88" r="1.8" fill="#4f7db6"/>
<circle cx="311.59" cy="70.21" r="1.8" fill="#4f7db6"/>
<circle cx="271.69" cy="61.8" r="1.8" fill="#4f7db6"/>
<circle cx="299.76" cy="157.73" r="1.8" fill="#4f7db6"/>
<circle cx="257.76" cy="60.22" r="1.8" fill="#4f7db6"/>
<circle cx="309.28" cy="183.13" r="1.8" fill="#4f7db6"/>
<circle cx="235.89" cy="32.23" r="1.8" fill="#4f7db6"/>
<circle cx="316.91" cy="72.91" r="1.8" fill="#4f7db6"/>
<circle cx="303.04" cy="120.96" r="1.8" fill="#4f7db6"/>
<circle cx="310.56" cy="128.56" r="1.8" fill="#4f7db6"/>
<circle cx="293.48" cy="79.1" r="1.8" fill="#4f7db6"/>
<circle cx="305.4" cy="68.41" r="1.8" fill="#4f7db6"/>
<circle cx="279.88" cy="95.56" r="1.8" fill="#4f7db6"/>
<circle cx="313.68" cy="137.39" r="1.8" fill="#4f7db6"/>
<circle cx="237.79" cy="35.64" r="1.8" fill="#4f7db6"/>
<circle cx="309.5" cy="86.74" r="1.8" fill="#4f7db6"/>
<circle cx="253.08" cy="53.98" r="1.8" fill="#4f7db6"/>
<circle cx="316.12" cy="129.54" r="1.8" fill="#4f7db6"/>
<circle cx="315.27" cy="170.21" r="1.8" fill="#4f7db6"/>
<circle cx="302.77" cy="64.31" r="1.8" fill="#4f7db6"/>
<circle cx="311.52" cy="90.16" r="1.8" fill="#4f7db6"/>
<circle cx="300.93" cy="153.53" r="1.8" fill="#4f7db6"/>
<circle cx="284.57" cy="140.03" r="1.8" fill="#4f7db6"/>
<circle cx="262.37" cy="43.48" r="1.8" fill="#4f7db6"/>
<circle cx="293.87" cy="48.27" r="1.8" fill="#4f7db6"/>
<circle cx="269.19" cy="123.16" r="1.8" fill="#4f7db6"/>
<circle cx="315.81" cy="142.27" r="1.8" fill="#4f7db6"/>
<circle cx="305.66" cy="159.29" r="1.8" fill="#4f7db6"/>
<circle cx="311.23" cy="168.45" r="1.8" fill="#4f7db6"/>
<circle cx="292.38" cy="125.98" r="1.8" fill="#4f7db6"/>
<circle cx="281.35" cy="98.3" r="1.8" fill="#4f7db6"/>
<circle cx="316.89" cy="114.15" r="1.8" fill="#4f7db6"/>
<circle cx="306.33" cy="86.76" r="1.8" fill="#4f7db6"/>
<circle cx="300.3" cy="46.2" r="1.8" fill="#4f7db6"/>
<circle cx="314.66" cy="141.88" r="1.8" fill="#4f7db6"/>
<circle cx="279.66" cy="36.43" r="1.8" fill="#4f7db6"/>
<circle cx="299.95" cy="49.1" r="1.8" fill="#4f7db6"/>
<circle cx="306.59" cy="109.66" r="1.8" fill="#4f7db6"/>
<circle cx="315.87" cy="76.14" r="1.8" fill="#4f7db6"/>
<circle cx="312.55" cy="168.78" r="1.8" fill="#4f7db6"/>
<circle cx="305.07" cy="86.5" r="1.8" fill="#4f7db6"/>
<circle cx="294.39" cy="120.91" r="1.8" fill="#4f7db6"/>
<circle cx="298.55" cy="147.32" r="1.8" fill="#4f7db6"/>
<circle cx="315.24" cy="128.18" r="1.8" fill="#4f7db6"/>
<circle cx="299.32" cy="87.16" r="1.8" fill="#4f7db6"/>
<circle cx="305.17" cy="113.7" r="1.8" fill="#4f7db6"/>
<circle cx="305.49" cy="150.43" r="1.8" fill="#4f7db6"/>
<circle cx="301.85" cy="68.67" r="1.8" fill="#4f7db6"/>
<circle cx="311.93" cy="172.63" r="1.8" fill="#4f7db6"/>
<circle cx="307.89" cy="98.23" r="1.8" fill="#4f7db6"/>
<circle cx="313.03" cy="171.58" r="1.8" fill="#4f7db6"/>
<circle cx="316.07" cy="106.66" r="1.8" fill="#4f7db6"/>
<circle cx="266.72" cy="33.92" r="1.8" fill="#4f7db6"/>
<circle cx="315.95" cy="181.89" r="1.8" fill="#4f7db6"/>
<circle cx="298.27" cy="137.84" r="1.8" fill="#4f7db6"/>
<circle cx="307.19" cy="88.82" r="1.8" fill="#4f7db6"/>
<circle cx="311.54" cy="68.46" r="1.8" fill="#4f7db6"/>
<circle cx="311.89" cy="153.87" r="1.8" fill="#4f7db6"/>
<circle cx="310.59" cy="142.93" r="1.8" fill="#4f7db6"/>
<circle cx="315.16" cy="99.82" r="1.8" fill="#4f7db6"/>
<circle cx="306.36" cy="155.52" r="1.8" fill="#4f7db6"/>
<circle cx="269.7" cy="67.31" r="1.8" fill="#4f7db6"/>
<circle cx="283.48" cy="80.04" r="1.8" fill="#4f7db6"/>
<circle cx="310.21" cy="158.78" r="1.8" fill="#4f7db6"/>
<circle cx="309.43" cy="66.44" r="1.8" fill="#4f7db6"/>
<circle cx="244.55" cy="40.09" r="1.8" fill="#4f7db6"/>
<circle cx="315.1" cy="144.32" r="1.8" fill="#4f7db6"/>
<circle cx="287.67" cy="42.24" r="1.8" fill="#4f7db6"/>
<circle cx="282.14" cy="67.42" r="1.8" fill="#4f7db6"/>
<circle cx="312.26" cy="72.49" r="1.8" fill="#4f7db6"/>
<circle cx="239.84" cy="34.26" r="1.8" fill="#4f7db6"/>
<circle cx="286.53" cy="127.16" r="1.8" fill="#4f7db6"/>
<circle cx="254.32" cy="108.17" r="1.8" fill="#4f7db6"/>
<circle cx="312.47" cy="89.26" r="1.8" fill="#4f7db6"/>
<circle cx="304.29" cy="100.13" r="1.8" fill="#4f7db6"/>
<circle cx="307.19" cy="128.41" r="1.8" fill="#4f7db6"/>
<circle cx="275.68" cy="89.38" r="1.8" fill="#4f7db6"/>
<circle cx="307.36" cy="67.71" r="1.8" fill="#4f7db6"/>
<circle cx="315.41" cy="72.57" r="1.8" fill="#4f7db6"/>
<circle cx="292.3" cy="52.18" r="1.8" fill="#4f7db6"/>
<circle cx="292.96" cy="95.42" r="1.8" fill="#4f7db6"/>
<circle cx="307.79" cy="66.27" r="1.8" fill="#4f7db6"/>
<circle cx="279.21" cy="102.86" r="1.8" fill="#4f7db6"/>
<circle cx="303.79" cy="173.08" r="1.8" fill="#4f7db6"/>
<circle cx="302.55" cy="153.66" r="1.8" fill="#4f7db6"/>
<circle cx="300.59" cy="79.29" r="1.8" fill="#4f7db6"/>
<circle cx="317.35" cy="142.17" r="1.8" fill="#4f7db6"/>
<circle cx="312.57" cy="72.58" r="1.8" fill="#4f7db6"/>
<circle cx="316.98" cy="73.18" r="1.8" fill="#4f7db6"/>
<circle cx="312.98" cy="175.41" r="1.8" fill="#4f7db6"/>
<circle cx="312.03" cy="98.25" r="1.8" fill="#4f7db6"/>
<circle cx="316.99" cy="134.61" r="1.8" fill="#4f7db6"/>
<circle cx="304.42" cy="170.51" r="1.8" fill="#4f7db6"/>
<circle cx="312.98" cy="156.27" r="1.8" fill="#4f7db6"/>
<circle cx="314.88" cy="113.06" r="1.8" fill="#4f7db6"/>
<circle cx="299" cy="105.93" r="1.8" fill="#4f7db6"/>
<circle cx="298.9" cy="45.91" r="1.8" fill="#4f7db6"/>
<circle cx="279.21" cy="35.26" r="1.8" fill="#4f7db6"/>
<circle cx="289.4" cy="60.31" r="1.8" fill="#4f7db6"/>
<circle cx="284.77" cy="54.72" r="1.8" fill="#4f7db6"/>
<circle cx="264.94" cy="55.21" r="1.8" fill="#4f7db6"/>
<circle cx="313.48" cy="87.7" r="1.8" fill="#4f7db6"/>
<circle cx="303.18" cy="131.33" r="1.8" fill="#4f7db6"/>
<circle cx="312.87" cy="76.28" r="1.8" fill="#4f7db6"/>
<circle cx="315.83" cy="153.16" r="1.8" fill="#4f7db6"/>
<circle cx="297.01" cy="166.32" r="1.8" fill="#4f7db6"/>
<circle cx="316.85" cy="193.69" r="1.8" fill="#4f7db6"/>
<circle cx="299.84" cy="201.68" r="1.8" fill="#4f7db6"/>
<circle cx="302.98" cy="153.15" r="1.8" fill="#4f7db6"/>
<circle cx="307.76" cy="102.9" r="1.8" fill="#4f7db6"/>
<circle cx="289.38" cy="107.18" r="1.8" fill="#4f7db6"/>
<circle cx="297.98" cy="154.98" r="1.8" fill="#4f7db6"/>
<circle cx="301.34" cy="67.5" r="1.8" fill="#4f7db6"/>
<circle cx="288.37" cy="100.78" r="1.8" fill="#4f7db6"/>
<circle cx="293.98" cy="147.69" r="1.8" fill="#4f7db6"/>
<circle cx="286.69" cy="96.22" r="1.8" fill="#4f7db6"/>
<circle cx="306.07" cy="60.6" r="1.8" fill="#4f7db6"/>
<circle cx="305.25" cy="77.1" r="1.8" fill="#4f7db6"/>
<circle cx="315.97" cy="101.45" r="1.8" fill="#4f7db6"/>
<circle cx="309.2" cy="108" r="1.8" fill="#4f7db6"/>
<circle cx="317.01" cy="164.93" r="1.8" fill="#4f7db6"/>
<circle cx="311.06" cy="86.96" r="1.8" fill="#4f7db6"/>
<circle cx="287.06" cy="137.8" r="1.8" fill="#4f7db6"/>
<circle cx="312.96" cy="100.95" r="1.8" fill="#4f7db6"/>
<circle cx="306.33" cy="157.36" r="1.8" fill="#4f7db6"/>
<circle cx="297.78" cy="133.49" r="1.8" fill="#4f7db6"/>
<circle cx="257.1" cy="47.87" r="1.8" fill="#4f7db6"/>
<circle cx="316.05" cy="97.77" r="1.8" fill="#4f7db6"/>
<circle cx="269.65" cy="42.35" r="1.8" fill="#4f7db6"/>
<circle cx="274.6" cy="50.27" r="1.8" fill="#4f7db6"/>
<circle cx="315.02" cy="142.06" r="1.8" fill="#4f7db6"/>
<circle cx="315.87" cy="142.34" r="1.8" fill="#4f7db6"/>
<circle cx="314.98" cy="98.22" r="1.8" fill="#4f7db6"/>
<circle cx="285.28" cy="114.85" r="1.8" fill="#4f7db6"/>
<circle cx="314.25" cy="70.82" r="1.8" fill="#4f7db6"/>
<circle cx="313.94" cy="114.51" r="1.8" fill="#4f7db6"/>
<circle cx="304.88" cy="63.78" r="1.8" fill="#4f7db6"/>
<circle cx="311.53" cy="135.46" r="1.8" fill="#4f7db6"/>
<circle cx="279.76" cy="71.8" r="1.8" fill="#4f7db6"/>
<circle cx="316.38" cy="79.95" r="1.8" fill="#4f7db6"/>
<circle cx="303.68" cy="91.28" r="1.8" fill="#4f7db6"/>
<circle cx="305.26" cy="128.36" r="1.8" fill="#4f7db6"/>
<circle cx="283.17" cy="111.93" r="1.8" fill="#4f7db6"/>
<circle cx="237.42" cy="48.77" r="1.8" fill="#4f7db6"/>
<circle cx="291.4" cy="47.09" r="1.8" fill="#4f7db6"/>
<circle cx="303.91" cy="149.76" r="1.8" fill="#4f7db6"/>
<circle cx="305.74" cy="135.55" r="1.8" fill="#4f7db6"/>
<circle cx="313.44" cy="164.27" r="1.8" fill="#4f7db6"/>
<circle cx="315.46" cy="100.49" r="1.8" fill="#4f7db6"/>
<circle cx="267.88" cy="78.22" r="1.8" fill="#4f7db6"/>
<circle cx="315.64" cy="182.15" r="1.8" fill="#4f7db6"/>
<circle cx="249.23" cy="43.7" r="1.8" fill="#4f7db6"/>
<circle cx="302.58" cy="186.81" r="1.8" fill="#4f7db6"/>
<circle cx="306.1" cy="142.84" r="1.8" fill="#4f7db6"/>
<circle cx="315.22" cy="179.11" r="1.8" fill="#4f7db6"/>
<circle cx="298.07" cy="154.17" r="1.8" fill="#4f7db6"/>
<circle cx="287.44" cy="72.11" r="1.8" fill="#4f7db6"/>
<circle cx="299.94" cy="166.63" r="1.8" fill="#4f7db6"/>
<circle cx="298.71" cy="45.45" r="1.8" fill="#4f7db6"/>
<circle cx="317.17" cy="88.48" r="1.8" fill="#4f7db6"/>
<circle cx="315.11" cy="150.85" r="1.8" fill="#4f7db6"/>
<circle cx="301.61" cy="54.6" r="1.8" fill="#4f7db6"/>
<circle cx="289.26" cy="46.31" r="1.8" fill="#4f7db6"/>
<circle cx="312.56" cy="68.97" r="1.8" fill="#4f7db6"/>
<circle cx="287.03" cy="58.81" r="1.8" fill="#4f7db6"/>
<circle cx="254.09" cy="38.29" r="1.8" fill="#4f7db6"/>
<circle cx="308.6" cy="113.87" r="1.8" fill="#4f7db6"/>
<circle cx="234.28" cy="29.09" r="1.8" fill="#4f7db6"/>
<circle cx="305.14" cy="59.93" r="1.8" fill="#4f7db6"/>
<circle cx="303.86" cy="108.13" r="1.8" fill="#4f7db6"/>
<circle cx="298.42" cy="66.79" r="1.8" fill="#4f7db6"/>
<circle cx="303.76" cy="68.98" r="1.8" fill="#4f7db6"/>
<circle cx="308.99" cy="148.48" r="1.8" fill="#4f7db6"/>
<circle cx="273.07" cy="38.11" r="1.8" fill="#4f7db6"/>
<circle cx="316.88" cy="127.74" r="1.8" fill="#4f7db6"/>
<circle cx="309.53" cy="124.47" r="1.8" fill="#4f7db6"/>
<circle cx="287.9" cy="81.41" r="1.8" fill="#4f7db6"/>
<circle cx="315.28" cy="82.15" r="1.8" fill="#4f7db6"/>
<circle cx="301.15" cy="99.49" r="1.8" fill="#4f7db6"/>
<circle cx="269.59" cy="55.42" r="1.8" fill="#4f7db6"/>
<circle cx="264.72" cy="27.52" r="1.8" fill="#4f7db6"/>
<circle cx="309.04" cy="120.7" r="1.8" fill="#4f7db6"/>
<circle cx="267.44" cy="32.55" r="1.8" fill="#4f7db6"/>
<circle cx="316.77" cy="121.51" r="1.8" fill="#4f7db6"/>
<circle cx="316.67" cy="150.54" r="1.8" fill="#4f7db6"/>
<circle cx="299.8" cy="163.36" r="1.8" fill="#4f7db6"/>
<circle cx="313.93" cy="161.1" r="1.8" fill="#4f7db6"/>
<circle cx="279.17" cy="88.52" r="1.8" fill="#4f7db6"/>
<circle cx="285.67" cy="41.58" r="1.8" fill="#4f7db6"/>
<circle cx="279.09" cy="30.79" r="1.8" fill="#4f7db6"/>
<circle cx="258.69" cy="64.14" r="1.8" fill="#4f7db6"/>
<circle cx="315.24" cy="80.59" r="1.8" fill="#4f7db6"/>
<circle cx="305.48" cy="193.65" r="1.8" fill="#4f7db6"/>
<circle cx="297.54" cy="119.6" r="1.8" fill="#4f7db6"/>
<circle cx="302.44" cy="92.19" r="1.8" fill="#4f7db6"/>
<circle cx="315.74" cy="76.84" r="1.8" fill="#4f7db6"/>
<circle cx="273.03" cy="45.97" r="1.8" fill="#4f7db6"/>
<circle cx="296.67" cy="83.57" r="1.8" fill="#4f7db6"/>
<circle cx="293.45" cy="48.48" r="1.8" fill="#4f7db6"/>
<circle cx="304.75" cy="61.01" r="1.8" fill="#4f7db6"/>
<circle cx="311.44" cy="79.4" r="1.8" fill="#4f7db6"/>
<circle cx="315.65" cy="152.16" r="1.8" fill="#4f7db6"/>
<circle cx="294.19" cy="82.77" r="1.8" fill="#4f7db6"/>
<circle cx="296.53" cy="56.46" r="1.8" fill="#4f7db6"/>
<circle cx="310.29" cy="113.66" r="1.8" fill="#4f7db6"/>
<circle cx="303.72" cy="98.67" r="1.8" fill="#4f7db6"/>
<circle cx="316.93" cy="71.89" r="1.8" fill="#4f7db6"/>
<circle cx="271.9" cy="35.08" r="1.8" fill="#4f7db6"/>
<circle cx="286.23" cy="84.25" r="1.8" fill="#4f7db6"/>
<circle cx="291.58" cy="124.39" r="1.8" fill="#4f7db6"/>
<circle cx="282.46" cy="59.99" r="1.8" fill="#4f7db6"/>
<circle cx="302.34" cy="58.5" r="1.8" fill="#4f7db6"/>
<circle cx="308.92" cy="109.15" r="1.8" fill="#4f7db6"/>
<circle cx="312.55" cy="90.12" r="1.8" fill="#4f7db6"/>
<circle cx="264.52" cy="80.39" r="1.8" fill="#4f7db6"/>
<circle cx="315.26" cy="70.53" r="1.8" fill="#4f7db6"/>
<circle cx="304.09" cy="132.27" r="1.8" fill="#4f7db6"/>
<circle cx="266.26" cy="133.06" r="1.8" fill="#4f7db6"/>
<circle cx="280.42" cy="195.31" r="1.8" fill="#4f7db6"/>
<circle cx="306.8" cy="106.27" r="1.8" fill="#4f7db6"/>
<circle cx="278.78" cy="45.22" r="1.8" fill="#4f7db6"/>
<circle cx="297.48" cy="49.34" r="1.8" fill="#4f7db6"/>
<circle cx="315.86" cy="101.96" r="1.8" fill="#4f7db6"/>
<circle cx="313.22" cy="69.22" r="1.8" fill="#4f7db6"/>
<circle cx="301.66" cy="59.95" r="1.8" fill="#4f7db6"/>
<circle cx="284.02" cy="122.98" r="1.8" fill="#4f7db6"/>
<circle cx="293.32" cy="121.68" r="1.8" fill="#4f7db6"/>
<circle cx="296.29" cy="72.92" r="1.8" fill="#4f7db6"/>
<circle cx="309.86" cy="140.8" r="1.8" fill="#4f7db6"/>
<circle cx="316.2" cy="172.78" r="1.8" fill="#4f7db6"/>
<circle cx="315.83" cy="98.62" r="1.8" fill="#4f7db6"/>
<circle cx="302.85" cy="85.99" r="1.8" fill="#4f7db6"/>
<circle cx="305.61" cy="79.85" r="1.8" fill="#4f7db6"/>
<circle cx="314.46" cy="108.88" r="1.8" fill="#4f7db6"/>
<circle cx="286.81" cy="38.36" r="1.8" fill="#4f7db6"/>
<circle cx="276.25" cy="133.41" r="1.8" fill="#4f7db6"/>
<circle cx="314.35" cy="99.48" r="1.8" fill="#4f7db6"/>
<circle cx="307.03" cy="106.47" r="1.8" fill="#4f7db6"/>
<circle cx="311.08" cy="73.9" r="1.8" fill="#4f7db6"/>
<circle cx="309.11" cy="62.41" r="1.8" fill="#4f7db6"/>
<circle cx="295.84" cy="144.06" r="1.8" fill="#4f7db6"/>
<circle cx="310.08" cy="79.92" r="1.8" fill="#4f7db6"/>
<circle cx="296.25" cy="113.9" r="1.8" fill="#4f7db6"/>
<circle cx="301.84" cy="110.99" r="1.8" fill="#4f7db6"/>
<circle cx="306.68" cy="169.46" r="1.8" fill="#4f7db6"/>
<circle cx="313.5" cy="89.81" r="1.8" fill="#4f7db6"/>
<circle cx="271.87" cy="39.9" r="1.8" fill="#4f7db6"/>
<circle cx="295.51" cy="59.34" r="1.8" fill="#4f7db6"/>
<circle cx="285.67" cy="67.42" r="1.8" fill="#4f7db6"/>
<circle cx="306.28" cy="181.29" r="1.8" fill="#4f7db6"/>
<circle cx="261.69" cy="51.7" r="1.8" fill="#4f7db6"/>
<circle cx="279.3" cy="50.83" r="1.8" fill="#4f7db6"/>
<circle cx="303.65" cy="65.35" r="1.8" fill="#4f7db6"/>
<circle cx="303.79" cy="156.78" r="1.8" fill="#4f7db6"/>
<circle cx="277.84" cy="90.48" r="1.8" fill="#4f7db6"/>
<circle cx="246.33" cy="39.67" r="1.8" fill="#4f7db6"/>
<circle cx="298.94" cy="80.37" r="1.8" fill="#4f7db6"/>
<circle cx="301.06" cy="72.84" r="1.8" fill="#4f7db6"/>
<circle cx="283.5" cy="83.21" r="1.8" fill="#4f7db6"/>
<circle cx="301.93" cy="58.68" r="1.8" fill="#4f7db6"/>
<circle cx="284.87" cy="44.6" r="1.8" fill="#4f7db6"/>
<circle cx="310.41" cy="79.01" r="1.8" fill="#4f7db6"/>
<circle cx="315.73" cy="108.84" r="1.8" fill="#4f7db6"/>
<circle cx="315.08" cy="164.07" r="1.8" fill="#4f7db6"/>
<circle cx="306.97" cy="60.47" r="1.8" fill="#4f7db6"/>
<circle cx="276.47" cy="49.64" r="1.8" fill="#4f7db6"/>
<circle cx="265.62" cy="42.5" r="1.8" fill="#4f7db6"/>
<circle cx="299.74" cy="56.67" r="1.8" fill="#4f7db6"/>
<circle cx="313.98" cy="68.75" r="1.8" fill="#4f7db6"/>
<circle cx="316.94" cy="132.08" r="1.8" fill="#4f7db6"/>
<circle cx="296.79" cy="51.21" r="1.8" fill="#4f7db6"/>
<circle cx="256.91" cy="57.46" r="1.8" fill="#4f7db6"/>
<circle cx="305.04" cy="87.55" r="1.8" fill="#4f7db6"/>
<circle cx="315.87" cy="83.77" r="1.8" fill="#4f7db6"/>
<circle cx="295.04" cy="112.81" r="1.8" fill="#4f7db6"/>
<circle cx="260.08" cy="60.35" r="1.8" fill="#4f7db6"/>
<circle cx="284.11" cy="75.44" r="1.8" fill="#4f7db6"/>
<circle cx="311.58" cy="163.19" r="1.8" fill="#4f7db6"/>
<circle cx="284.47" cy="105.7" r="1.8" fill="#4f7db6"/>
<circle cx="286.48" cy="61.65" r="1.8" fill="#4f7db6"/>
<circle cx="302.57" cy="57.97" r="1.8" fill="#4f7db6"/>
<circle cx="317.1" cy="76.26" r="1.8" fill="#4f7db6"/>
<circle cx="276.6" cy="38.09" r="1.8" fill="#4f7db6"/>
<circle cx="290.65" cy="71.99" r="1.8" fill="#4f7db6"/>
<circle cx="260.79" cy="51.05" r="1.8" fill="#4f7db6"/>
<circle cx="305.54" cy="120.08" r="1.8" fill="#4f7db6"/>
<circle cx="267.05" cy="51.75" r="1.8" fill="#4f7db6"/>
<circle cx="309.05" cy="176.41" r="1.8" fill="#4f7db6"/>
<circle cx="279.03" cy="86.22" r="1.8" fill="#4f7db6"/>
<circle cx="285.99" cy="109.83" r="1.8" fill="#4f7db6"/>
<circle cx="303.6" cy="89.17" r="1.8" fill="#4f7db6"/>
<circle cx="310.5" cy="94.87" r="1.8" fill="#4f7db6"/>
<circle cx="304.78" cy="82.95" r="1.8" fill="#4f7db6"/>
<circle cx="296.67" cy="44.18" r="1.8" fill="#4f7db6"/>
<circle cx="302.32" cy="65.85" r="1.8" fill="#4f7db6"/>
<circle cx="316.1" cy="77.19" r="1.8" fill="#4f7db6"/>
<circle cx="316.54" cy="112.87" r="1.8" fill="#4f7db6"/>
<circle cx="313.71" cy="158.27" r="1.8" fill="#4f7db6"/>
<circle cx="300.01" cy="181.46" r="1.8" fill="#4f7db6"/>
<circle cx="297.46" cy="181.04" r="1.8" fill="#4f7db6"/>
<circle cx="299.12" cy="100.9" r="1.8" fill="#4f7db6"/>
<circle cx="313.51" cy="130.17" r="1.8" fill="#4f7db6"/>
<circle cx="307.08" cy="98.73" r="1.8" fill="#4f7db6"/>
<circle cx="278.11" cy="82.98" r="1.8" fill="#4f7db6"/>
<circle cx="298.98" cy="89.99" r="1.8" fill="#4f7db6"/>
<circle cx="302.95" cy="62.67" r="1.8" fill="#4f7db6"/>
<circle cx="310.2" cy="168.81" r="1.8" fill="#4f7db6"/>
<circle cx="308.65" cy="62.53" r="1.8" fill="#4f7db6"/>
<circle cx="316.68" cy="80.63" r="1.8" fill="#4f7db6"/>
<circle cx="290.77" cy="145.29" r="1.8" fill="#4f7db6"/>
<circle cx="305.22" cy="128.17" r="1.8" fill="#4f7db6"/>
<circle cx="304.42" cy="140.01" r="1.8" fill="#4f7db6"/>
<circle cx="274.43" cy="55.51" r="1.8" fill="#4f7db6"/>
<circle cx="313.81" cy="80.01" r="1.8" fill="#4f7db6"/>
<circle cx="309.88" cy="109.44" r="1.8" fill="#4f7db6"/>
<circle cx="283.89" cy="176.04" r="1.8" fill="#4f7db6"/>
<circle cx="312.17" cy="96.29" r="1.8" fill="#4f7db6"/>
<circle cx="292.99" cy="50.63" r="1.8" fill="#4f7db6"/>
<circle cx="317.05" cy="110.56" r="1.8" fill="#4f7db6"/>
<circle cx="293.45" cy="84.36" r="1.8" fill="#4f7db6"/>
<circle cx="315.92" cy="85.92" r="1.8" fill="#4f7db6"/>
<circle cx="300.4" cy="61.41" r="1.8" fill="#4f7db6"/>
<circle cx="308.75" cy="126.61" r="1.8" fill="#4f7db6"/>
<circle cx="311.39" cy="63.11" r="1.8" fill="#4f7db6"/>
<circle cx="315.08" cy="109.11" r="1.8" fill="#4f7db6"/>
<circle cx="296.19" cy="142.17" r="1.8" fill="#4f7db6"/>
<circle cx="284.8" cy="53.84" r="1.8" fill="#4f7db6"/>
<circle cx="293.67" cy="127.37" r="1.8" fill="#4f7db6"/>
<circle cx="311.92" cy="125.62" r="1.8" fill="#4f7db6"/>
<circle cx="305.41" cy="131.77" r="1.8" fill="#4f7db6"/>
<circle cx="301.13" cy="115.37" r="1.8" fill="#4f7db6"/>
<circle cx="307.62" cy="102.53" r="1.8" fill="#4f7db6"/>
<circle cx="281.87" cy="82.43" r="1.8" fill="#4f7db6"/>
<circle cx="295.12" cy="94.15" r="1.8" fill="#4f7db6"/>
<circle cx="306.18" cy="72.17" r="1.8" fill="#4f7db6"/>
<circle cx="305.35" cy="173.85" r="1.8" fill="#4f7db6"/>
<circle cx="286.79" cy="114.34" r="1.8" fill="#4f7db6"/>
<circle cx="311.69" cy="98.08" r="1.8" fill="#4f7db6"/>
<circle cx="302.37" cy="56.48" r="1.8" fill="#4f7db6"/>
<circle cx="317.27" cy="76.65" r="1.8" fill="#4f7db6"/>
<circle cx="257.12" cy="35.04" r="1.8" fill="#4f7db6"/>
<circle cx="293.72" cy="82.17" r="1.8" fill="#4f7db6"/>
<circle cx="287.86" cy="92.86" r="1.8" fill="#4f7db6"/>
<circle cx="309.44" cy="179.87" r="1.8" fill="#4f7db6"/>
<circle cx="314.6" cy="108.37" r="1.8" fill="#4f7db6"/>
<circle cx="317.08" cy="182.29" r="1.8" fill="#4f7db6"/>
<circle cx="314.73" cy="138.55" r="1.8" fill="#4f7db6"/>
<circle cx="310.14" cy="170.33" r="1.8" fill="#4f7db6"/>
<circle cx="246.34" cy="51.54" r="1.8" fill="#4f7db6"/>
<circle cx="310.29" cy="88.71" r="1.8" fill="#4f7db6"/>
<circle cx="295.09" cy="154.94" r="1.8" fill="#4f7db6"/>
<circle cx="292.91" cy="122.81" r="1.8" fill="#4f7db6"/>
<circle cx="287.98" cy="91.14" r="1.8" fill="#4f7db6"/>
<circle cx="316.13" cy="89.4" r="1.8" fill="#4f7db6"/>
<circle cx="305.76" cy="112.04" r="1.8" fill="#4f7db6"/>
<circle cx="275.23" cy="43.49" r="1.8" fill="#4f7db6"/>
<circle cx="281.28" cy="37.62" r="1.8" fill="#4f7db6"/>
<circle cx="308.84" cy="141.61" r="1.8" fill="#4f7db6"/>
<circle cx="310.46" cy="178.5" r="1.8" fill="#4f7db6"/>
<circle cx="304.06" cy="176.84" r="1.8" fill="#4f7db6"/>
<circle cx="314.16" cy="179.85" r="1.8" fill="#4f7db6"/>
<circle cx="315.54" cy="171.15" r="1.8" fill="#4f7db6"/>
<circle cx="316.53" cy="153.97" r="1.8" fill="#4f7db6"/>
<circle cx="297.3" cy="130.24" r="1.8" fill="#4f7db6"/>
<circle cx="258.38" cy="66.8" r="1.8" fill="#4f7db6"/>
<circle cx="290.62" cy="144.2" r="1.8" fill="#4f7db6"/>
<circle cx="296.45" cy="61.02" r="1.8" fill="#4f7db6"/>
<circle cx="305.02" cy="149.71" r="1.8" fill="#4f7db6"/>
<circle cx="288.55" cy="89.16" r="1.8" fill="#4f7db6"/>
<circle cx="302.84" cy="97.68" r="1.8" fill="#4f7db6"/>
<circle cx="312.78" cy="186.71" r="1.8" fill="#4f7db6"/>
<circle cx="312.89" cy="118.66" r="1.8" fill="#4f7db6"/>
<circle cx="300.85" cy="96.18" r="1.8" fill="#4f7db6"/>
<circle cx="303.54" cy="124" r="1.8" fill="#4f7db6"/>
<circle cx="314.93" cy="91.77" r="1.8" fill="#4f7db6"/>
<circle cx="310.71" cy="130.84" r="1.8" fill="#4f7db6"/>
<circle cx="308.52" cy="155.69" r="1.8" fill="#4f7db6"/>
<circle cx="256.58" cy="59.63" r="1.8" fill="#4f7db6"/>
<circle cx="286.32" cy="42.7" r="1.8" fill="#4f7db6"/>
<circle cx="309.14" cy="133.58" r="1.8" fill="#4f7db6"/>
<circle cx="274.55" cy="78.87" r="1.8" fill="#4f7db6"/>
<circle cx="317.23" cy="92.51" r="1.8" fill="#4f7db6"/>
<circle cx="313.64" cy="76.19" r="1.8" fill="#4f7db6"/>
<circle cx="311.95" cy="90.49" r="1.8" fill="#4f7db6"/>
<circle cx="316.9" cy="136.68" r="1.8" fill="#4f7db6"/>
<circle cx="311.52" cy="74.73" r="1.8" fill="#4f7db6"/>
<circle cx="252.57" cy="41.56" r="1.8" fill="#4f7db6"/>
<circle cx="306.87" cy="67.5" r="1.8" fill="#4f7db6"/>
<circle cx="290.99" cy="59.2" r="1.8" fill="#4f7db6"/>
<circle cx="316.6" cy="74.82" r="1.8" fill="#4f7db6"/>
<circle cx="269.19" cy="39.68" r="1.8" fill="#4f7db6"/>
<circle cx="249.96" cy="65.87" r="1.8" fill="#4f7db6"/>
<circle cx="315.38" cy="110.11" r="1.8" fill="#4f7db6"/>
<circle cx="286.83" cy="35.73" r="1.8" fill="#4f7db6"/>
<circle cx="303.88" cy="65.14" r="1.8" fill="#4f7db6"/>
<circle cx="311.12" cy="149.16" r="1.8" fill="#4f7db6"/>
<circle cx="292.71" cy="164.22" r="1.8" fill="#4f7db6"/>
<circle cx="311.69" cy="132.2" r="1.8" fill="#4f7db6"/>
<circle cx="316.52" cy="132.37" r="1.8" fill="#4f7db6"/>
<circle cx="317.18" cy="158.13" r="1.8" fill="#4f7db6"/>
<circle cx="297.29" cy="105.12" r="1.8" fill="#4f7db6"/>
<circle cx="303.54" cy="92.76" r="1.8" fill="#4f7db6"/>
<circle cx="307.18" cy="89.59" r="1.8" fill="#4f7db6"/>
<circle cx="312.6" cy="133.48" r="1.8" fill="#4f7db6"/>
<circle cx="281.75" cy="137.79" r="1.8" fill="#4f7db6"/>
<circle cx="291.35" cy="65.02" r="1.8" fill="#4f7db6"/>
<circle cx="299.45" cy="68.66" r="1.8" fill="#4f7db6"/>
<circle cx="315.07" cy="95.76" r="1.8" fill="#4f7db6"/>
<circle cx="290.5" cy="109.98" r="1.8" fill="#4f7db6"/>
<circle cx="314.62" cy="117.96" r="1.8" fill="#4f7db6"/>
<circle cx="315.54" cy="135.12" r="1.8" fill="#4f7db6"/>
<circle cx="296.42" cy="85.45" r="1.8" fill="#4f7db6"/>
<circle cx="271.54" cy="138.6" r="1.8" fill="#4f7db6"/>
<circle cx="317.11" cy="111.03" r="1.8" fill="#4f7db6"/>
<circle cx="296.34" cy="47.53" r="1.8" fill="#4f7db6"/>
<circle cx="303.78" cy="56.75" r="1.8" fill="#4f7db6"/>
<circle cx="309.37" cy="74.57" r="1.8" fill="#4f7db6"/>
<circle cx="312.63" cy="127.6" r="1.8" fill="#4f7db6"/>
<circle cx="259.01" cy="55.02" r="1.8" fill="#4f7db6"/>
<circle cx="317.36" cy="70.91" r="1.8" fill="#4f7db6"/>
<circle cx="315.04" cy="107.63" r="1.8" fill="#4f7db6"/>
<circle cx="303.16" cy="168.98" r="1.8" fill="#4f7db6"/>
<circle cx="315.52" cy="98.15" r="1.8" fill="#4f7db6"/>
<circle cx="316.42" cy="80.8" r="1.8" fill="#4f7db6"/>
<circle cx="288.7" cy="158.25" r="1.8" fill="#4f7db6"/>
<circle cx="308.91" cy="129.76" r="1.8" fill="#4f7db6"/>
<circle cx="306.42" cy="89.03" r="1.8" fill="#4f7db6"/>
<circle cx="301.53" cy="175.66" r="1.8" fill="#4f7db6"/>
<circle cx="303.92" cy="137.93" r="1.8" fill="#4f7db6"/>
<circle cx="291.94" cy="104.31" r="1.8" fill="#4f7db6"/>
<circle cx="317.05" cy="78.26" r="1.8" fill="#4f7db6"/>
<circle cx="309.09" cy="63.24" r="1.8" fill="#4f7db6"/>
<circle cx="260.11" cy="53.32" r="1.8" fill="#4f7db6"/>
<circle cx="282.37" cy="61.48" r="1.8" fill="#4f7db6"/>
<circle cx="288.42" cy="106.77" r="1.8" fill="#4f7db6"/>
<circle cx="314.28" cy="192.48" r="1.8" fill="#4f7db6"/>
<circle cx="313.6" cy="167.74" r="1.8" fill="#4f7db6"/>
<circle cx="311.8" cy="165.42" r="1.8" fill="#4f7db6"/>
<circle cx="307.03" cy="69.33" r="1.8" fill="#4f7db6"/>
<circle cx="315.88" cy="78.19" r="1.8" fill="#4f7db6"/>
<circle cx="277.65" cy="98.73" r="1.8" fill="#4f7db6"/>
<circle cx="274.1" cy="54.24" r="1.8" fill="#4f7db6"/>
<circle cx="310.24" cy="62.94" r="1.8" fill="#4f7db6"/>
<circle cx="298.06" cy="87.38" r="1.8" fill="#4f7db6"/>
<circle cx="308.94" cy="164.2" r="1.8" fill="#4f7db6"/>
<circle cx="303.12" cy="65.34" r="1.8" fill="#4f7db6"/>
<circle cx="289.99" cy="93.94" r="1.8" fill="#4f7db6"/>
<circle cx="294.72" cy="51.29" r="1.8" fill="#4f7db6"/>
<circle cx="313.56" cy="94.6" r="1.8" fill="#4f7db6"/>
<circle cx="314.59" cy="73.33" r="1.8" fill="#4f7db6"/>
<circle cx="312.69" cy="160.39" r="1.8" fill="#4f7db6"/>
<circle cx="317.1" cy="121" r="1.8" fill="#4f7db6"/>
<circle cx="317.15" cy="112" r="1.8" fill="#4f7db6"/>
<circle cx="309.57" cy="84.79" r="1.8" fill="#4f7db6"/>
<circle cx="287.2" cy="77.13" r="1.8" fill="#4f7db6"/>
<circle cx="282" cy="121.28" r="1.8" fill="#4f7db6"/>
<circle cx="305.85" cy="156.2" r="1.8" fill="#4f7db6"/>
<circle cx="307.43" cy="66.14" r="1.8" fill="#4f7db6"/>
<circle cx="313.86" cy="73.28" r="1.8" fill="#4f7db6"/>
<circle cx="313.28" cy="168.13" r="1.8" fill="#4f7db6"/>
<circle cx="287.51" cy="121.68" r="1.8" fill="#4f7db6"/>
<circle cx="317" cy="91.11" r="1.8" fill="#4f7db6"/>
<circle cx="296" cy="151.6" r="1.8" fill="#4f7db6"/>
<circle cx="286.1" cy="145.86" r="1.8" fill="#4f7db6"/>
<circle cx="312.05" cy="113.09" r="1.8" fill="#4f7db6"/>
<circle cx="314.7" cy="68.67" r="1.8" fill="#4f7db6"/>
<circle cx="305.17" cy="164.72" r="1.8" fill="#4f7db6"/>
<circle cx="312.95" cy="80.31" r="1.8" fill="#4f7db6"/>
<circle cx="303.43" cy="102.68" r="1.8" fill="#4f7db6"/>
<circle cx="310.16" cy="159.6" r="1.8" fill="#4f7db6"/>
<circle cx="314.49" cy="99.81" r="1.8" fill="#4f7db6"/>
<circle cx="282.56" cy="117.04" r="1.8" fill="#4f7db6"/>
<circle cx="247.5" cy="35.42" r="1.8" fill="#4f7db6"/>
<circle cx="315.28" cy="67.88" r="1.8" fill="#4f7db6"/>
<circle cx="296.71" cy="103.56" r="1.8" fill="#4f7db6"/>
<circle cx="291.25" cy="49.93" r="1.8" fill="#4f7db6"/>
<circle cx="305.91" cy="186.59" r="1.8" fill="#4f7db6"/>
<circle cx="311.49" cy="155.31" r="1.8" fill="#4f7db6"/>
<circle cx="284.99" cy="68.52" r="1.8" fill="#4f7db6"/>
<circle cx="306.57" cy="134.15" r="1.8" fill="#4f7db6"/>
<circle cx="293.68" cy="44.79" r="1.8" fill="#4f7db6"/>
<circle cx="295.33" cy="63.71" r="1.8" fill="#4f7db6"/>
<circle cx="309.98" cy="147.47" r="1.8" fill="#4f7db6"/>
<circle cx="314.48" cy="101.33" r="1.8" fill="#4f7db6"/>
<circle cx="303.03" cy="72" r="1.8" fill="#4f7db6"/>
<circle cx="316.18" cy="134.28" r="1.8" fill="#4f7db6"/>
<circle cx="280.19" cy="118.96" r="1.8" fill="#4f7db6"/>
<circle cx="317.01" cy="111.66" r="1.8" fill="#4f7db6"/>
<circle cx="276.02" cy="135.94" r="1.8" fill="#4f7db6"/>
<circle cx="282.36" cy="111.67" r="1.8" fill="#4f7db6"/>
<circle cx="295.54" cy="49.33" r="1.8" fill="#4f7db6"/>
<circle cx="269.02" cy="89.4" r="1.8" fill="#4f7db6"/>
<circle cx="290.53" cy="80.78" r="1.8" fill="#4f7db6"/>
<circle cx="302.59" cy="124.1" r="1.8" fill="#4f7db6"/>
<circle cx="309.38" cy="135.16" r="1.8" fill="#4f7db6"/>
<circle cx="272.8" cy="56.12" r="1.8" fill="#4f7db6"/>
<circle cx="304.75" cy="75.53" r="1.8" fill="#4f7db6"/>
<circle cx="297.22" cy="152.01" r="1.8" fill="#4f7db6"/>
<circle cx="304.03" cy="85.5" r="1.8" fill="#4f7db6"/>
<circle cx="300.5" cy="50.53" r="1.8" fill="#4f7db6"/>
<circle cx="297.37" cy="84.84" r="1.8" fill="#4f7db6"/>
<circle cx="311.34" cy="131.61" r="1.8" fill="#4f7db6"/>
<circle cx="298.78" cy="190.59" r="1.8" fill="#4f7db6"/>
<circle cx="304.75" cy="159.32" r="1.8" fill="#4f7db6"/>
<circle cx="312.38" cy="63.48" r="1.8" fill="#4f7db6"/>
<circle cx="284.15" cy="67.27" r="1.8" fill="#4f7db6"/>
<circle cx="312.38" cy="120.58" r="1.8" fill="#4f7db6"/>
<circle cx="316.29" cy="161" r="1.8" fill="#4f7db6"/>
<circle cx="300.91" cy="152.98" r="1.8" fill="#4f7db6"/>
<circle cx="240.04" cy="43.44" r="1.8" fill="#4f7db6"/>
<circle cx="310.99" cy="151.16" r="1.8" fill="#4f7db6"/>
<circle cx="315.95" cy="173.45" r="1.8" fill="#4f7db6"/>
<circle cx="306.58" cy="127.66" r="1.8" fill="#4f7db6"/>
<circle cx="252.34" cy="39.6" r="1.8" fill="#4f7db6"/>
<circle cx="299.39" cy="145.22" r="1.8" fill="#4f7db6"/>
<circle cx="314.48" cy="157.7" r="1.8" fill="#4f7db6"/>
<circle cx="316.03" cy="76.24" r="1.8" fill="#4f7db6"/>
<circle cx="291.92" cy="58.69" r="1.8" fill="#4f7db6"/>
<circle cx="298.89" cy="71.81" r="1.8" fill="#4f7db6"/>
<circle cx="285.51" cy="57.37" r="1.8" fill="#4f7db6"/>
<circle cx="306.73" cy="73.47" r="1.8" fill="#4f7db6"/>
<circle cx="292.76" cy="76.94" r="1.8" fill="#4f7db6"/>
<circle cx="306.91" cy="165.05" r="1.8" fill="#4f7db6"/>
<circle cx="290.54" cy="111.88" r="1.8" fill="#4f7db6"/>
<circle cx="302.9" cy="57.32" r="1.8" fill="#4f7db6"/>
<circle cx="303.09" cy="52.5" r="1.8" fill="#4f7db6"/>
<circle cx="266.12" cy="96.62" r="1.8" fill="#4f7db6"/>
<circle cx="288.17" cy="94.63" r="1.8" fill="#4f7db6"/>
<circle cx="283.44" cy="65.89" r="1.8" fill="#4f7db6"/>
<circle cx="301.62" cy="96.37" r="1.8" fill="#4f7db6"/>
<circle cx="291.96" cy="63.49" r="1.8" fill="#4f7db6"/>
<circle cx="288.81" cy="98.62" r="1.8" fill="#4f7db6"/>
<circle cx="263.68" cy="39.54" r="1.8" fill="#4f7db6"/>
<circle cx="309.11" cy="112.66" r="1.8" fill="#4f7db6"/>
<circle cx="267.09" cy="144.81" r="1.8" fill="#4f7db6"/>
<circle cx="301.17" cy="123.15" r="1.8" fill="#4f7db6"/>
<circle cx="277.38" cy="44.8" r="1.8" fill="#4f7db6"/>
<circle cx="308.73" cy="98.45" r="1.8" fill="#4f7db6"/>
<circle cx="242.25" cy="40.86" r="1.8" fill="#4f7db6"/>
<circle cx="289.24" cy="87.78" r="1.8" fill="#4f7db6"/>
<circle cx="301.58" cy="73.63" r="1.8" fill="#4f7db6"/>
<circle cx="288.29" cy="92.55" r="1.8" fill="#4f7db6"/>
<circle cx="283.53" cy="58.76" r="1.8" fill="#4f7db6"/>
<circle cx="234.17" cy="28.81" r="1.8" fill="#4f7db6"/>
<circle cx="306.98" cy="86.87" r="1.8" fill="#4f7db6"/>
<circle cx="307.24" cy="59.21" r="1.8" fill="#4f7db6"/>
<circle cx="301.73" cy="73.03" r="1.8" fill="#4f7db6"/>
<circle cx="289.78" cy="67.27" r="1.8" fill="#4f7db6"/>
<circle cx="311.86" cy="122.14" r="1.8" fill="#4f7db6"/>
<circle cx="306.06" cy="67.87" r="1.8" fill="#4f7db6"/>
<circle cx="301.04" cy="98.42" r="1.8" fill="#4f7db6"/>
<circle cx="221.1" cy="19.3" r="1.8" fill="#4f7db6"/>
<circle cx="232.3" cy="20.2" r="1.8" fill="#4f7db6"/>
<circle cx="239.7" cy="18.7" r="1.8" fill="#4f7db6"/>
<circle cx="222" cy="28.6" r="1.8" fill="#4f7db6"/>
<circle cx="225.8" cy="27.6" r="1.8" fill="#4f7db6"/>
<circle cx="229.5" cy="27.3" r="1.8" fill="#4f7db6"/>
<circle cx="230.4" cy="34.1" r="1.8" fill="#4f7db6"/>
<circle cx="222" cy="40.6" r="1.8" fill="#4f7db6"/>
<circle cx="231.3" cy="47.1" r="1.8" fill="#4f7db6"/>
<circle cx="233" cy="38" r="1.8" fill="#4f7db6"/>
<circle cx="232.5" cy="57" r="1.8" fill="#4f7db6"/>
<circle cx="237.5" cy="30" r="1.8" fill="#4f7db6"/>
<path d="M373.2 69 L380 61 L386 54 L393 48 L400 40 L408 35 L416 33 L421 30 L421.5 38 L418 50 L412 64 L405 84 L397 102 L390 118 L384 128 L378 134 L373.2 138 Z" fill="#cf3a3c"/>
<circle cx="378.28" cy="120.07" r="1.8" fill="#cf3a3c"/>
<circle cx="389.48" cy="49.32" r="1.8" fill="#cf3a3c"/>
<circle cx="394.74" cy="84.4" r="1.8" fill="#cf3a3c"/>
<circle cx="400.68" cy="113.45" r="1.8" fill="#cf3a3c"/>
<circle cx="384.66" cy="122.06" r="1.8" fill="#cf3a3c"/>
<circle cx="373.95" cy="96.61" r="1.8" fill="#cf3a3c"/>
<circle cx="383.48" cy="62.68" r="1.8" fill="#cf3a3c"/>
<circle cx="377.11" cy="72.59" r="1.8" fill="#cf3a3c"/>
<circle cx="377.36" cy="136.24" r="1.8" fill="#cf3a3c"/>
<circle cx="379.11" cy="82.26" r="1.8" fill="#cf3a3c"/>
<circle cx="386.36" cy="59.82" r="1.8" fill="#cf3a3c"/>
<circle cx="375.46" cy="115.52" r="1.8" fill="#cf3a3c"/>
<circle cx="374.61" cy="177.08" r="1.8" fill="#cf3a3c"/>
<circle cx="374.49" cy="87.45" r="1.8" fill="#cf3a3c"/>
<circle cx="397.56" cy="160.66" r="1.8" fill="#cf3a3c"/>
<circle cx="381.92" cy="94.34" r="1.8" fill="#cf3a3c"/>
<circle cx="379.57" cy="82.71" r="1.8" fill="#cf3a3c"/>
<circle cx="411.38" cy="50.05" r="1.8" fill="#cf3a3c"/>
<circle cx="379.65" cy="83.08" r="1.8" fill="#cf3a3c"/>
<circle cx="381.17" cy="101.49" r="1.8" fill="#cf3a3c"/>
<circle cx="390.6" cy="78.69" r="1.8" fill="#cf3a3c"/>
<circle cx="386.63" cy="62.8" r="1.8" fill="#cf3a3c"/>
<circle cx="377.92" cy="129.16" r="1.8" fill="#cf3a3c"/>
<circle cx="379.5" cy="76.08" r="1.8" fill="#cf3a3c"/>
<circle cx="380.81" cy="145.18" r="1.8" fill="#cf3a3c"/>
<circle cx="394.9" cy="74.46" r="1.8" fill="#cf3a3c"/>
<circle cx="374.44" cy="100.58" r="1.8" fill="#cf3a3c"/>
<circle cx="389.24" cy="68.16" r="1.8" fill="#cf3a3c"/>
<circle cx="384.13" cy="129.1" r="1.8" fill="#cf3a3c"/>
<circle cx="378.91" cy="103.2" r="1.8" fill="#cf3a3c"/>
<circle cx="390.59" cy="55.2" r="1.8" fill="#cf3a3c"/>
<circle cx="391.56" cy="125.91" r="1.8" fill="#cf3a3c"/>
<circle cx="397.12" cy="79.3" r="1.8" fill="#cf3a3c"/>
<circle cx="393.08" cy="107.45" r="1.8" fill="#cf3a3c"/>
<circle cx="377.13" cy="101.71" r="1.8" fill="#cf3a3c"/>
<circle cx="392.73" cy="55.23" r="1.8" fill="#cf3a3c"/>
<circle cx="395.65" cy="96.31" r="1.8" fill="#cf3a3c"/>
<circle cx="401.57" cy="59.99" r="1.8" fill="#cf3a3c"/>
<circle cx="375.86" cy="77.68" r="1.8" fill="#cf3a3c"/>
<circle cx="376" cy="95.24" r="1.8" fill="#cf3a3c"/>
<circle cx="380.9" cy="96.05" r="1.8" fill="#cf3a3c"/>
<circle cx="374.5" cy="92.03" r="1.8" fill="#cf3a3c"/>
<circle cx="375.9" cy="76.07" r="1.8" fill="#cf3a3c"/>
<circle cx="378.26" cy="144.14" r="1.8" fill="#cf3a3c"/>
<circle cx="374.83" cy="127.06" r="1.8" fill="#cf3a3c"/>
<circle cx="375.64" cy="134.63" r="1.8" fill="#cf3a3c"/>
<circle cx="399.53" cy="137.18" r="1.8" fill="#cf3a3c"/>
<circle cx="379.24" cy="64.79" r="1.8" fill="#cf3a3c"/>
<circle cx="376.42" cy="137.63" r="1.8" fill="#cf3a3c"/>
<circle cx="415.31" cy="44.65" r="1.8" fill="#cf3a3c"/>
<circle cx="375.1" cy="82.18" r="1.8" fill="#cf3a3c"/>
<circle cx="414.56" cy="34.54" r="1.8" fill="#cf3a3c"/>
<circle cx="399.77" cy="97.18" r="1.8" fill="#cf3a3c"/>
<circle cx="394.14" cy="121.74" r="1.8" fill="#cf3a3c"/>
<circle cx="388.55" cy="50.53" r="1.8" fill="#cf3a3c"/>
<circle cx="387" cy="62.6" r="1.8" fill="#cf3a3c"/>
<circle cx="382.71" cy="121.92" r="1.8" fill="#cf3a3c"/>
<circle cx="379.9" cy="181.09" r="1.8" fill="#cf3a3c"/>
<circle cx="380.12" cy="126.9" r="1.8" fill="#cf3a3c"/>
<circle cx="398.97" cy="43.92" r="1.8" fill="#cf3a3c"/>
<circle cx="385.61" cy="117.42" r="1.8" fill="#cf3a3c"/>
<circle cx="384.93" cy="58.35" r="1.8" fill="#cf3a3c"/>
<circle cx="374.96" cy="112.96" r="1.8" fill="#cf3a3c"/>
<circle cx="377.97" cy="155.09" r="1.8" fill="#cf3a3c"/>
<circle cx="405.63" cy="94.11" r="1.8" fill="#cf3a3c"/>
<circle cx="388.35" cy="120.56" r="1.8" fill="#cf3a3c"/>
<circle cx="382.75" cy="72.81" r="1.8" fill="#cf3a3c"/>
<circle cx="385.72" cy="100.21" r="1.8" fill="#cf3a3c"/>
<circle cx="393.38" cy="160.57" r="1.8" fill="#cf3a3c"/>
<circle cx="380.52" cy="136.82" r="1.8" fill="#cf3a3c"/>
<circle cx="374.77" cy="147.51" r="1.8" fill="#cf3a3c"/>
<circle cx="375.25" cy="78.32" r="1.8" fill="#cf3a3c"/>
<circle cx="385.92" cy="182.8" r="1.8" fill="#cf3a3c"/>
<circle cx="405.31" cy="39.11" r="1.8" fill="#cf3a3c"/>
<circle cx="379.1" cy="83.61" r="1.8" fill="#cf3a3c"/>
<circle cx="375.56" cy="70.28" r="1.8" fill="#cf3a3c"/>
<circle cx="388.49" cy="119.72" r="1.8" fill="#cf3a3c"/>
<circle cx="385.49" cy="95.53" r="1.8" fill="#cf3a3c"/>
<circle cx="382.84" cy="72.35" r="1.8" fill="#cf3a3c"/>
<circle cx="384.72" cy="74.69" r="1.8" fill="#cf3a3c"/>
<circle cx="397.71" cy="74.28" r="1.8" fill="#cf3a3c"/>
<circle cx="373.87" cy="130.62" r="1.8" fill="#cf3a3c"/>
<circle cx="380.7" cy="88.86" r="1.8" fill="#cf3a3c"/>
<circle cx="393.77" cy="55.79" r="1.8" fill="#cf3a3c"/>
<circle cx="378.16" cy="86.69" r="1.8" fill="#cf3a3c"/>
<circle cx="383.31" cy="64.81" r="1.8" fill="#cf3a3c"/>
<circle cx="399.76" cy="43.48" r="1.8" fill="#cf3a3c"/>
<circle cx="435.68" cy="27.86" r="1.8" fill="#cf3a3c"/>
<circle cx="378.46" cy="117.81" r="1.8" fill="#cf3a3c"/>
<circle cx="391.06" cy="63.37" r="1.8" fill="#cf3a3c"/>
<circle cx="376.01" cy="107.24" r="1.8" fill="#cf3a3c"/>
<circle cx="434.27" cy="29.71" r="1.8" fill="#cf3a3c"/>
<circle cx="394.57" cy="84.17" r="1.8" fill="#cf3a3c"/>
<circle cx="378.15" cy="116.46" r="1.8" fill="#cf3a3c"/>
<circle cx="390.18" cy="86.07" r="1.8" fill="#cf3a3c"/>
<circle cx="389.31" cy="137.4" r="1.8" fill="#cf3a3c"/>
<circle cx="377.33" cy="158.12" r="1.8" fill="#cf3a3c"/>
<circle cx="409.13" cy="88.69" r="1.8" fill="#cf3a3c"/>
<circle cx="379.07" cy="105.88" r="1.8" fill="#cf3a3c"/>
<circle cx="392.31" cy="113.84" r="1.8" fill="#cf3a3c"/>
<circle cx="375.61" cy="81.04" r="1.8" fill="#cf3a3c"/>
<circle cx="374.39" cy="114" r="1.8" fill="#cf3a3c"/>
<circle cx="382.76" cy="59.6" r="1.8" fill="#cf3a3c"/>
<circle cx="378.36" cy="71.23" r="1.8" fill="#cf3a3c"/>
<circle cx="384.08" cy="104.86" r="1.8" fill="#cf3a3c"/>
<circle cx="397.02" cy="113.15" r="1.8" fill="#cf3a3c"/>
<circle cx="423.85" cy="32.51" r="1.8" fill="#cf3a3c"/>
<circle cx="378.34" cy="123.14" r="1.8" fill="#cf3a3c"/>
<circle cx="386.38" cy="75.73" r="1.8" fill="#cf3a3c"/>
<circle cx="379.27" cy="118" r="1.8" fill="#cf3a3c"/>
<circle cx="397.44" cy="42.12" r="1.8" fill="#cf3a3c"/>
<circle cx="405.86" cy="89.02" r="1.8" fill="#cf3a3c"/>
<circle cx="373.98" cy="108.25" r="1.8" fill="#cf3a3c"/>
<circle cx="374.47" cy="82.17" r="1.8" fill="#cf3a3c"/>
<circle cx="377.19" cy="93.89" r="1.8" fill="#cf3a3c"/>
<circle cx="387.77" cy="75.11" r="1.8" fill="#cf3a3c"/>
<circle cx="380.17" cy="94.85" r="1.8" fill="#cf3a3c"/>
<circle cx="374.49" cy="106.01" r="1.8" fill="#cf3a3c"/>
<circle cx="383.1" cy="64.85" r="1.8" fill="#cf3a3c"/>
<circle cx="397.32" cy="107.01" r="1.8" fill="#cf3a3c"/>
<circle cx="382.74" cy="100" r="1.8" fill="#cf3a3c"/>
<circle cx="398.11" cy="42.73" r="1.8" fill="#cf3a3c"/>
<circle cx="384.16" cy="75.39" r="1.8" fill="#cf3a3c"/>
<circle cx="378.26" cy="100.96" r="1.8" fill="#cf3a3c"/>
<circle cx="378.59" cy="133.89" r="1.8" fill="#cf3a3c"/>
<circle cx="380.94" cy="67.02" r="1.8" fill="#cf3a3c"/>
<circle cx="387.19" cy="64.42" r="1.8" fill="#cf3a3c"/>
<circle cx="377.38" cy="113.55" r="1.8" fill="#cf3a3c"/>
<circle cx="374.6" cy="84.31" r="1.8" fill="#cf3a3c"/>
<circle cx="388.14" cy="77.83" r="1.8" fill="#cf3a3c"/>
<circle cx="389.42" cy="115.77" r="1.8" fill="#cf3a3c"/>
<circle cx="392.42" cy="119.98" r="1.8" fill="#cf3a3c"/>
<circle cx="382.46" cy="125.12" r="1.8" fill="#cf3a3c"/>
<circle cx="375.67" cy="84.58" r="1.8" fill="#cf3a3c"/>
<circle cx="377.7" cy="109.53" r="1.8" fill="#cf3a3c"/>
<circle cx="384.96" cy="129.2" r="1.8" fill="#cf3a3c"/>
<circle cx="377.57" cy="95.4" r="1.8" fill="#cf3a3c"/>
<circle cx="400.21" cy="77.66" r="1.8" fill="#cf3a3c"/>
<circle cx="378.8" cy="132.39" r="1.8" fill="#cf3a3c"/>
<circle cx="390.78" cy="55.33" r="1.8" fill="#cf3a3c"/>
<circle cx="380.27" cy="102.87" r="1.8" fill="#cf3a3c"/>
<circle cx="374.31" cy="114.21" r="1.8" fill="#cf3a3c"/>
<circle cx="395.73" cy="76.33" r="1.8" fill="#cf3a3c"/>
<circle cx="378.63" cy="90.56" r="1.8" fill="#cf3a3c"/>
<circle cx="387.17" cy="137.43" r="1.8" fill="#cf3a3c"/>
<circle cx="380.94" cy="129.98" r="1.8" fill="#cf3a3c"/>
<circle cx="376.04" cy="79.24" r="1.8" fill="#cf3a3c"/>
<circle cx="401.52" cy="109.53" r="1.8" fill="#cf3a3c"/>
<circle cx="382.89" cy="172.11" r="1.8" fill="#cf3a3c"/>
<circle cx="393.48" cy="84.83" r="1.8" fill="#cf3a3c"/>
<circle cx="385.39" cy="68.81" r="1.8" fill="#cf3a3c"/>
<circle cx="390.1" cy="63.92" r="1.8" fill="#cf3a3c"/>
<circle cx="386.67" cy="102.56" r="1.8" fill="#cf3a3c"/>
<circle cx="381.68" cy="130.66" r="1.8" fill="#cf3a3c"/>
<circle cx="393.91" cy="74.68" r="1.8" fill="#cf3a3c"/>
<circle cx="379.61" cy="104.78" r="1.8" fill="#cf3a3c"/>
<circle cx="378.78" cy="133.11" r="1.8" fill="#cf3a3c"/>
<circle cx="373.99" cy="98.12" r="1.8" fill="#cf3a3c"/>
<circle cx="380.42" cy="60.77" r="1.8" fill="#cf3a3c"/>
<circle cx="374.39" cy="98.67" r="1.8" fill="#cf3a3c"/>
<circle cx="383.46" cy="106.94" r="1.8" fill="#cf3a3c"/>
<circle cx="374.95" cy="79.13" r="1.8" fill="#cf3a3c"/>
<circle cx="377.7" cy="65.92" r="1.8" fill="#cf3a3c"/>
<circle cx="389.27" cy="110.13" r="1.8" fill="#cf3a3c"/>
<circle cx="374.13" cy="133.3" r="1.8" fill="#cf3a3c"/>
<circle cx="380.1" cy="99.81" r="1.8" fill="#cf3a3c"/>
<circle cx="378.74" cy="92.25" r="1.8" fill="#cf3a3c"/>
<circle cx="394.15" cy="43.37" r="1.8" fill="#cf3a3c"/>
<circle cx="379.71" cy="72.24" r="1.8" fill="#cf3a3c"/>
<circle cx="382.47" cy="59.92" r="1.8" fill="#cf3a3c"/>
<circle cx="387.59" cy="96.89" r="1.8" fill="#cf3a3c"/>
<circle cx="375.18" cy="184.58" r="1.8" fill="#cf3a3c"/>
<circle cx="397.12" cy="95.43" r="1.8" fill="#cf3a3c"/>
<circle cx="387.38" cy="122.32" r="1.8" fill="#cf3a3c"/>
<circle cx="380.35" cy="110.3" r="1.8" fill="#cf3a3c"/>
<circle cx="378.4" cy="142.79" r="1.8" fill="#cf3a3c"/>
<circle cx="375.33" cy="82.55" r="1.8" fill="#cf3a3c"/>
<circle cx="388.39" cy="98.79" r="1.8" fill="#cf3a3c"/>
<circle cx="375.47" cy="102.91" r="1.8" fill="#cf3a3c"/>
<circle cx="382.79" cy="184.45" r="1.8" fill="#cf3a3c"/>
<circle cx="385.87" cy="87.45" r="1.8" fill="#cf3a3c"/>
<circle cx="387.57" cy="94.84" r="1.8" fill="#cf3a3c"/>
<circle cx="381.94" cy="131.84" r="1.8" fill="#cf3a3c"/>
<circle cx="407.97" cy="88.25" r="1.8" fill="#cf3a3c"/>
<circle cx="421.71" cy="34.76" r="1.8" fill="#cf3a3c"/>
<circle cx="379.38" cy="76.2" r="1.8" fill="#cf3a3c"/>
<circle cx="413.57" cy="41.7" r="1.8" fill="#cf3a3c"/>
<circle cx="388.42" cy="78.13" r="1.8" fill="#cf3a3c"/>
<circle cx="381" cy="117.84" r="1.8" fill="#cf3a3c"/>
<circle cx="375.8" cy="96.58" r="1.8" fill="#cf3a3c"/>
<circle cx="389.07" cy="120.43" r="1.8" fill="#cf3a3c"/>
<circle cx="377.26" cy="68.93" r="1.8" fill="#cf3a3c"/>
<circle cx="379.49" cy="79.6" r="1.8" fill="#cf3a3c"/>
<circle cx="399.41" cy="42.42" r="1.8" fill="#cf3a3c"/>
<circle cx="380.22" cy="124.99" r="1.8" fill="#cf3a3c"/>
<circle cx="397.57" cy="68.24" r="1.8" fill="#cf3a3c"/>
<circle cx="418.24" cy="47.34" r="1.8" fill="#cf3a3c"/>
<circle cx="385.04" cy="118.5" r="1.8" fill="#cf3a3c"/>
<circle cx="383.03" cy="97.5" r="1.8" fill="#cf3a3c"/>
<circle cx="375.65" cy="88.61" r="1.8" fill="#cf3a3c"/>
<circle cx="374" cy="106.95" r="1.8" fill="#cf3a3c"/>
<circle cx="374.62" cy="118.12" r="1.8" fill="#cf3a3c"/>
<circle cx="374.31" cy="160.52" r="1.8" fill="#cf3a3c"/>
<circle cx="379.76" cy="90.48" r="1.8" fill="#cf3a3c"/>
<circle cx="390.41" cy="95.95" r="1.8" fill="#cf3a3c"/>
<circle cx="381.98" cy="91.78" r="1.8" fill="#cf3a3c"/>
<circle cx="383.66" cy="126.11" r="1.8" fill="#cf3a3c"/>
<circle cx="383.08" cy="96.23" r="1.8" fill="#cf3a3c"/>
<circle cx="403.76" cy="87.88" r="1.8" fill="#cf3a3c"/>
<circle cx="377.58" cy="117.42" r="1.8" fill="#cf3a3c"/>
<circle cx="374.21" cy="166.19" r="1.8" fill="#cf3a3c"/>
<circle cx="382.97" cy="65.03" r="1.8" fill="#cf3a3c"/>
<circle cx="374.66" cy="114.87" r="1.8" fill="#cf3a3c"/>
<circle cx="388.51" cy="88.53" r="1.8" fill="#cf3a3c"/>
<circle cx="375.62" cy="111.31" r="1.8" fill="#cf3a3c"/>
<circle cx="375.53" cy="163.37" r="1.8" fill="#cf3a3c"/>
<circle cx="402.68" cy="48.56" r="1.8" fill="#cf3a3c"/>
<circle cx="379.21" cy="121.92" r="1.8" fill="#cf3a3c"/>
<circle cx="386.7" cy="125.33" r="1.8" fill="#cf3a3c"/>
<circle cx="403.37" cy="121.68" r="1.8" fill="#cf3a3c"/>
<circle cx="376.24" cy="96.8" r="1.8" fill="#cf3a3c"/>
<circle cx="388.72" cy="91.14" r="1.8" fill="#cf3a3c"/>
<circle cx="379.76" cy="78.11" r="1.8" fill="#cf3a3c"/>
<circle cx="374.02" cy="157.97" r="1.8" fill="#cf3a3c"/>
<circle cx="377.79" cy="157.48" r="1.8" fill="#cf3a3c"/>
<circle cx="379.83" cy="192" r="1.8" fill="#cf3a3c"/>
<circle cx="393.08" cy="129.69" r="1.8" fill="#cf3a3c"/>
<circle cx="385.72" cy="76.27" r="1.8" fill="#cf3a3c"/>
<circle cx="387.91" cy="94.36" r="1.8" fill="#cf3a3c"/>
<circle cx="390.72" cy="106.29" r="1.8" fill="#cf3a3c"/>
<circle cx="390.02" cy="77.73" r="1.8" fill="#cf3a3c"/>
<circle cx="387.3" cy="88.8" r="1.8" fill="#cf3a3c"/>
<circle cx="379.02" cy="71.08" r="1.8" fill="#cf3a3c"/>
<circle cx="375.71" cy="151.53" r="1.8" fill="#cf3a3c"/>
<circle cx="376.78" cy="102.93" r="1.8" fill="#cf3a3c"/>
<circle cx="403.08" cy="94.3" r="1.8" fill="#cf3a3c"/>
<circle cx="380.03" cy="66.46" r="1.8" fill="#cf3a3c"/>
<circle cx="377.63" cy="189.49" r="1.8" fill="#cf3a3c"/>
<circle cx="402.46" cy="60.91" r="1.8" fill="#cf3a3c"/>
<circle cx="377.01" cy="102.46" r="1.8" fill="#cf3a3c"/>
<circle cx="382.86" cy="73.51" r="1.8" fill="#cf3a3c"/>
<circle cx="391.26" cy="142.2" r="1.8" fill="#cf3a3c"/>
<circle cx="375.42" cy="81.45" r="1.8" fill="#cf3a3c"/>
<circle cx="383.1" cy="69.03" r="1.8" fill="#cf3a3c"/>
<circle cx="388.38" cy="142.8" r="1.8" fill="#cf3a3c"/>
<circle cx="380.91" cy="79.12" r="1.8" fill="#cf3a3c"/>
<circle cx="384.33" cy="56.76" r="1.8" fill="#cf3a3c"/>
<circle cx="375.65" cy="105.28" r="1.8" fill="#cf3a3c"/>
<circle cx="384.92" cy="160.04" r="1.8" fill="#cf3a3c"/>
<circle cx="397.15" cy="145.75" r="1.8" fill="#cf3a3c"/>
<circle cx="393.7" cy="71.15" r="1.8" fill="#cf3a3c"/>
<circle cx="387.95" cy="116.68" r="1.8" fill="#cf3a3c"/>
<circle cx="382.09" cy="149.58" r="1.8" fill="#cf3a3c"/>
<circle cx="382.63" cy="70.76" r="1.8" fill="#cf3a3c"/>
<circle cx="374.13" cy="77.7" r="1.8" fill="#cf3a3c"/>
<circle cx="375.49" cy="125.33" r="1.8" fill="#cf3a3c"/>
<circle cx="376.7" cy="143.24" r="1.8" fill="#cf3a3c"/>
<circle cx="386.59" cy="120.92" r="1.8" fill="#cf3a3c"/>
<circle cx="376.38" cy="103.09" r="1.8" fill="#cf3a3c"/>
<circle cx="379.53" cy="149.55" r="1.8" fill="#cf3a3c"/>
<circle cx="387.15" cy="67.42" r="1.8" fill="#cf3a3c"/>
<circle cx="377.88" cy="115.24" r="1.8" fill="#cf3a3c"/>
<circle cx="387.19" cy="60.69" r="1.8" fill="#cf3a3c"/>
<circle cx="382.87" cy="60.22" r="1.8" fill="#cf3a3c"/>
<circle cx="374.37" cy="130.91" r="1.8" fill="#cf3a3c"/>
<circle cx="380.12" cy="78.59" r="1.8" fill="#cf3a3c"/>
<circle cx="409.24" cy="83.45" r="1.8" fill="#cf3a3c"/>
<circle cx="414.13" cy="72.65" r="1.8" fill="#cf3a3c"/>
<circle cx="402.04" cy="55.99" r="1.8" fill="#cf3a3c"/>
<circle cx="390.47" cy="120.76" r="1.8" fill="#cf3a3c"/>
<circle cx="375.91" cy="130.84" r="1.8" fill="#cf3a3c"/>
<circle cx="377.26" cy="191.71" r="1.8" fill="#cf3a3c"/>
<circle cx="373.86" cy="130.03" r="1.8" fill="#cf3a3c"/>
<circle cx="409.82" cy="98.98" r="1.8" fill="#cf3a3c"/>
<circle cx="379.02" cy="192.37" r="1.8" fill="#cf3a3c"/>
<circle cx="386.66" cy="58.11" r="1.8" fill="#cf3a3c"/>
<circle cx="376.25" cy="83.03" r="1.8" fill="#cf3a3c"/>
<circle cx="376.58" cy="156.46" r="1.8" fill="#cf3a3c"/>
<circle cx="382.9" cy="95.53" r="1.8" fill="#cf3a3c"/>
<circle cx="374.13" cy="112.32" r="1.8" fill="#cf3a3c"/>
<circle cx="394.44" cy="170.54" r="1.8" fill="#cf3a3c"/>
<circle cx="404.2" cy="122.05" r="1.8" fill="#cf3a3c"/>
<circle cx="391.28" cy="61.3" r="1.8" fill="#cf3a3c"/>
<circle cx="380.61" cy="140.43" r="1.8" fill="#cf3a3c"/>
<circle cx="379.38" cy="144.68" r="1.8" fill="#cf3a3c"/>
<circle cx="382.1" cy="124.24" r="1.8" fill="#cf3a3c"/>
<circle cx="408.26" cy="117.42" r="1.8" fill="#cf3a3c"/>
<circle cx="378.51" cy="117.95" r="1.8" fill="#cf3a3c"/>
<circle cx="379.33" cy="86.97" r="1.8" fill="#cf3a3c"/>
<circle cx="376.83" cy="101.5" r="1.8" fill="#cf3a3c"/>
<circle cx="377.83" cy="88.6" r="1.8" fill="#cf3a3c"/>
<circle cx="415.39" cy="54.24" r="1.8" fill="#cf3a3c"/>
<circle cx="392.85" cy="77.88" r="1.8" fill="#cf3a3c"/>
<circle cx="378.73" cy="73.06" r="1.8" fill="#cf3a3c"/>
<circle cx="374.31" cy="105.63" r="1.8" fill="#cf3a3c"/>
<circle cx="375.22" cy="97.96" r="1.8" fill="#cf3a3c"/>
<circle cx="391.71" cy="55.85" r="1.8" fill="#cf3a3c"/>
<circle cx="382.83" cy="113.81" r="1.8" fill="#cf3a3c"/>
<circle cx="374.23" cy="147.34" r="1.8" fill="#cf3a3c"/>
<circle cx="377.11" cy="147.02" r="1.8" fill="#cf3a3c"/>
<circle cx="386.72" cy="127.01" r="1.8" fill="#cf3a3c"/>
<circle cx="378.17" cy="73.7" r="1.8" fill="#cf3a3c"/>
<circle cx="384.78" cy="136.53" r="1.8" fill="#cf3a3c"/>
<circle cx="377.37" cy="169.31" r="1.8" fill="#cf3a3c"/>
<circle cx="374.49" cy="109.53" r="1.8" fill="#cf3a3c"/>
<circle cx="374.51" cy="125.67" r="1.8" fill="#cf3a3c"/>
<circle cx="379.87" cy="115.67" r="1.8" fill="#cf3a3c"/>
<circle cx="386.66" cy="75.26" r="1.8" fill="#cf3a3c"/>
<circle cx="403.74" cy="74.56" r="1.8" fill="#cf3a3c"/>
<circle cx="386.22" cy="87.3" r="1.8" fill="#cf3a3c"/>
<circle cx="377.95" cy="143.11" r="1.8" fill="#cf3a3c"/>
<circle cx="392.87" cy="62.94" r="1.8" fill="#cf3a3c"/>
<circle cx="380.12" cy="73.47" r="1.8" fill="#cf3a3c"/>
<circle cx="381.24" cy="66.97" r="1.8" fill="#cf3a3c"/>
<circle cx="376.29" cy="72.18" r="1.8" fill="#cf3a3c"/>
<circle cx="381.05" cy="89.02" r="1.8" fill="#cf3a3c"/>
<circle cx="374.35" cy="103.14" r="1.8" fill="#cf3a3c"/>
<circle cx="403.05" cy="63.09" r="1.8" fill="#cf3a3c"/>
<circle cx="385.58" cy="77.3" r="1.8" fill="#cf3a3c"/>
<circle cx="374.85" cy="117.21" r="1.8" fill="#cf3a3c"/>
<circle cx="398.49" cy="44.99" r="1.8" fill="#cf3a3c"/>
<circle cx="376.43" cy="177.06" r="1.8" fill="#cf3a3c"/>
<circle cx="379.51" cy="62.78" r="1.8" fill="#cf3a3c"/>
<circle cx="402.63" cy="48.04" r="1.8" fill="#cf3a3c"/>
<circle cx="404.35" cy="93.24" r="1.8" fill="#cf3a3c"/>
<circle cx="397.2" cy="46.36" r="1.8" fill="#cf3a3c"/>
<circle cx="379.92" cy="61.95" r="1.8" fill="#cf3a3c"/>
<circle cx="396.51" cy="64.67" r="1.8" fill="#cf3a3c"/>
<circle cx="375.6" cy="79.26" r="1.8" fill="#cf3a3c"/>
<circle cx="400.41" cy="111.36" r="1.8" fill="#cf3a3c"/>
<circle cx="378.22" cy="136.03" r="1.8" fill="#cf3a3c"/>
<circle cx="413.33" cy="153.94" r="1.8" fill="#cf3a3c"/>
<circle cx="400.78" cy="105.46" r="1.8" fill="#cf3a3c"/>
<circle cx="391.87" cy="69.57" r="1.8" fill="#cf3a3c"/>
<circle cx="377.18" cy="72.11" r="1.8" fill="#cf3a3c"/>
<circle cx="400.83" cy="166.65" r="1.8" fill="#cf3a3c"/>
<circle cx="386.96" cy="87.1" r="1.8" fill="#cf3a3c"/>
<circle cx="375.38" cy="90.16" r="1.8" fill="#cf3a3c"/>
<circle cx="376.96" cy="128.33" r="1.8" fill="#cf3a3c"/>
<circle cx="391.05" cy="168.03" r="1.8" fill="#cf3a3c"/>
<circle cx="394.12" cy="55" r="1.8" fill="#cf3a3c"/>
<circle cx="381.28" cy="60.79" r="1.8" fill="#cf3a3c"/>
<circle cx="386.25" cy="87.98" r="1.8" fill="#cf3a3c"/>
<circle cx="382.31" cy="62.99" r="1.8" fill="#cf3a3c"/>
<circle cx="380.29" cy="128.36" r="1.8" fill="#cf3a3c"/>
<circle cx="387.13" cy="121.42" r="1.8" fill="#cf3a3c"/>
<circle cx="380.64" cy="113.69" r="1.8" fill="#cf3a3c"/>
<circle cx="375.01" cy="73.19" r="1.8" fill="#cf3a3c"/>
<circle cx="379.18" cy="125.5" r="1.8" fill="#cf3a3c"/>
<circle cx="385.4" cy="106.15" r="1.8" fill="#cf3a3c"/>
<circle cx="384.32" cy="94.38" r="1.8" fill="#cf3a3c"/>
<circle cx="421.7" cy="40.59" r="1.8" fill="#cf3a3c"/>
<circle cx="377.64" cy="125.19" r="1.8" fill="#cf3a3c"/>
<circle cx="393.08" cy="159.13" r="1.8" fill="#cf3a3c"/>
<circle cx="387.64" cy="124.29" r="1.8" fill="#cf3a3c"/>
<circle cx="389.39" cy="61.96" r="1.8" fill="#cf3a3c"/>
<circle cx="380.15" cy="62.79" r="1.8" fill="#cf3a3c"/>
<circle cx="381.56" cy="149.31" r="1.8" fill="#cf3a3c"/>
<circle cx="386.03" cy="72.12" r="1.8" fill="#cf3a3c"/>
<circle cx="386.52" cy="130.2" r="1.8" fill="#cf3a3c"/>
<circle cx="400.56" cy="58.28" r="1.8" fill="#cf3a3c"/>
<circle cx="385.69" cy="62.49" r="1.8" fill="#cf3a3c"/>
<circle cx="392.13" cy="78.98" r="1.8" fill="#cf3a3c"/>
<circle cx="376.9" cy="107.98" r="1.8" fill="#cf3a3c"/>
<circle cx="376.52" cy="113.04" r="1.8" fill="#cf3a3c"/>
<circle cx="378.07" cy="94.73" r="1.8" fill="#cf3a3c"/>
<circle cx="379.34" cy="137.02" r="1.8" fill="#cf3a3c"/>
<circle cx="388.26" cy="75.68" r="1.8" fill="#cf3a3c"/>
<circle cx="381.06" cy="63.88" r="1.8" fill="#cf3a3c"/>
<circle cx="381.15" cy="104.11" r="1.8" fill="#cf3a3c"/>
<circle cx="391.09" cy="68.54" r="1.8" fill="#cf3a3c"/>
<circle cx="374.77" cy="109.8" r="1.8" fill="#cf3a3c"/>
<circle cx="416.04" cy="86.3" r="1.8" fill="#cf3a3c"/>
<circle cx="382.59" cy="80.42" r="1.8" fill="#cf3a3c"/>
<circle cx="381.33" cy="95.45" r="1.8" fill="#cf3a3c"/>
<circle cx="375.24" cy="83.19" r="1.8" fill="#cf3a3c"/>
<circle cx="387.53" cy="82" r="1.8" fill="#cf3a3c"/>
<circle cx="386.36" cy="129.5" r="1.8" fill="#cf3a3c"/>
<circle cx="383.33" cy="80.47" r="1.8" fill="#cf3a3c"/>
<circle cx="379.59" cy="74.31" r="1.8" fill="#cf3a3c"/>
<circle cx="377.54" cy="98.81" r="1.8" fill="#cf3a3c"/>
<circle cx="375.43" cy="96.78" r="1.8" fill="#cf3a3c"/>
<circle cx="400.24" cy="44.61" r="1.8" fill="#cf3a3c"/>
<circle cx="392.6" cy="92.98" r="1.8" fill="#cf3a3c"/>
<circle cx="374.46" cy="128.9" r="1.8" fill="#cf3a3c"/>
<circle cx="382.02" cy="135.69" r="1.8" fill="#cf3a3c"/>
<circle cx="387.67" cy="83.37" r="1.8" fill="#cf3a3c"/>
<circle cx="378.08" cy="81.86" r="1.8" fill="#cf3a3c"/>
<circle cx="397.22" cy="77.29" r="1.8" fill="#cf3a3c"/>
<circle cx="392.67" cy="49.48" r="1.8" fill="#cf3a3c"/>
<circle cx="394.49" cy="107.24" r="1.8" fill="#cf3a3c"/>
<circle cx="385.44" cy="78.62" r="1.8" fill="#cf3a3c"/>
<circle cx="407.19" cy="89.39" r="1.8" fill="#cf3a3c"/>
<circle cx="418.19" cy="55.89" r="1.8" fill="#cf3a3c"/>
<circle cx="374.88" cy="95.6" r="1.8" fill="#cf3a3c"/>
<circle cx="374.68" cy="124.51" r="1.8" fill="#cf3a3c"/>
<circle cx="390.48" cy="49.07" r="1.8" fill="#cf3a3c"/>
<circle cx="377.98" cy="152.72" r="1.8" fill="#cf3a3c"/>
<circle cx="398.41" cy="61.22" r="1.8" fill="#cf3a3c"/>
<circle cx="386.23" cy="59.8" r="1.8" fill="#cf3a3c"/>
<circle cx="375.55" cy="127.66" r="1.8" fill="#cf3a3c"/>
<circle cx="376.16" cy="69.36" r="1.8" fill="#cf3a3c"/>
<circle cx="383.61" cy="72.43" r="1.8" fill="#cf3a3c"/>
<circle cx="382.02" cy="96.15" r="1.8" fill="#cf3a3c"/>
<circle cx="373.84" cy="149.76" r="1.8" fill="#cf3a3c"/>
<circle cx="382.97" cy="86.43" r="1.8" fill="#cf3a3c"/>
<circle cx="380.7" cy="82.62" r="1.8" fill="#cf3a3c"/>
<circle cx="414.7" cy="60.11" r="1.8" fill="#cf3a3c"/>
<circle cx="378.24" cy="79.42" r="1.8" fill="#cf3a3c"/>
<circle cx="378.03" cy="68.21" r="1.8" fill="#cf3a3c"/>
<circle cx="375.01" cy="149.92" r="1.8" fill="#cf3a3c"/>
<circle cx="374.26" cy="149.4" r="1.8" fill="#cf3a3c"/>
<circle cx="410.87" cy="62.45" r="1.8" fill="#cf3a3c"/>
<circle cx="381.81" cy="119.03" r="1.8" fill="#cf3a3c"/>
<circle cx="388.82" cy="60.02" r="1.8" fill="#cf3a3c"/>
<circle cx="374.31" cy="72.96" r="1.8" fill="#cf3a3c"/>
<circle cx="383.22" cy="62.66" r="1.8" fill="#cf3a3c"/>
<circle cx="388.74" cy="89.53" r="1.8" fill="#cf3a3c"/>
<circle cx="397.11" cy="64.12" r="1.8" fill="#cf3a3c"/>
<circle cx="379.5" cy="146.28" r="1.8" fill="#cf3a3c"/>
<circle cx="377.38" cy="181.93" r="1.8" fill="#cf3a3c"/>
<circle cx="388.8" cy="101.06" r="1.8" fill="#cf3a3c"/>
<circle cx="376.74" cy="65.56" r="1.8" fill="#cf3a3c"/>
<circle cx="374.12" cy="139.42" r="1.8" fill="#cf3a3c"/>
<circle cx="393.15" cy="105.97" r="1.8" fill="#cf3a3c"/>
<circle cx="386.99" cy="61.27" r="1.8" fill="#cf3a3c"/>
<circle cx="395.36" cy="60.68" r="1.8" fill="#cf3a3c"/>
<circle cx="379.08" cy="96.17" r="1.8" fill="#cf3a3c"/>
<circle cx="407.8" cy="53.31" r="1.8" fill="#cf3a3c"/>
<circle cx="429.29" cy="28.83" r="1.8" fill="#cf3a3c"/>
<circle cx="375.52" cy="82.38" r="1.8" fill="#cf3a3c"/>
<circle cx="411.96" cy="79.01" r="1.8" fill="#cf3a3c"/>
<circle cx="387.04" cy="121.87" r="1.8" fill="#cf3a3c"/>
<circle cx="375.44" cy="158.16" r="1.8" fill="#cf3a3c"/>
<circle cx="382.02" cy="90.84" r="1.8" fill="#cf3a3c"/>
<circle cx="418.18" cy="63.32" r="1.8" fill="#cf3a3c"/>
<circle cx="375.46" cy="106.09" r="1.8" fill="#cf3a3c"/>
<circle cx="380.86" cy="76.27" r="1.8" fill="#cf3a3c"/>
<circle cx="379.09" cy="172.59" r="1.8" fill="#cf3a3c"/>
<circle cx="390.14" cy="62.52" r="1.8" fill="#cf3a3c"/>
<circle cx="379.35" cy="124.26" r="1.8" fill="#cf3a3c"/>
<circle cx="386.51" cy="85.91" r="1.8" fill="#cf3a3c"/>
<circle cx="435.1" cy="26.18" r="1.8" fill="#cf3a3c"/>
<circle cx="377.47" cy="67.22" r="1.8" fill="#cf3a3c"/>
<circle cx="396.64" cy="49.22" r="1.8" fill="#cf3a3c"/>
<circle cx="378.69" cy="66.89" r="1.8" fill="#cf3a3c"/>
<circle cx="378.8" cy="72.05" r="1.8" fill="#cf3a3c"/>
<circle cx="383.91" cy="100.45" r="1.8" fill="#cf3a3c"/>
<circle cx="374.82" cy="71.67" r="1.8" fill="#cf3a3c"/>
<circle cx="377.53" cy="133.01" r="1.8" fill="#cf3a3c"/>
<circle cx="375.61" cy="128.86" r="1.8" fill="#cf3a3c"/>
<circle cx="378.42" cy="111.36" r="1.8" fill="#cf3a3c"/>
<circle cx="374.76" cy="77.45" r="1.8" fill="#cf3a3c"/>
<circle cx="381.32" cy="113.68" r="1.8" fill="#cf3a3c"/>
<circle cx="378.29" cy="89.8" r="1.8" fill="#cf3a3c"/>
<circle cx="384.75" cy="101.26" r="1.8" fill="#cf3a3c"/>
<circle cx="407.42" cy="136.97" r="1.8" fill="#cf3a3c"/>
<circle cx="377.31" cy="105.51" r="1.8" fill="#cf3a3c"/>
<circle cx="396.22" cy="60.63" r="1.8" fill="#cf3a3c"/>
<circle cx="375.17" cy="80.34" r="1.8" fill="#cf3a3c"/>
<circle cx="379.63" cy="107.2" r="1.8" fill="#cf3a3c"/>
<circle cx="399.19" cy="108.18" r="1.8" fill="#cf3a3c"/>
<circle cx="384.55" cy="123.14" r="1.8" fill="#cf3a3c"/>
<circle cx="374.3" cy="122.36" r="1.8" fill="#cf3a3c"/>
<circle cx="395.05" cy="59.99" r="1.8" fill="#cf3a3c"/>
<circle cx="389.75" cy="59.03" r="1.8" fill="#cf3a3c"/>
<circle cx="376.47" cy="78.25" r="1.8" fill="#cf3a3c"/>
<circle cx="376.26" cy="75.4" r="1.8" fill="#cf3a3c"/>
<circle cx="397.72" cy="67.44" r="1.8" fill="#cf3a3c"/>
<circle cx="376.67" cy="199.3" r="1.8" fill="#cf3a3c"/>
<circle cx="383.3" cy="112.11" r="1.8" fill="#cf3a3c"/>
<circle cx="384.23" cy="137.03" r="1.8" fill="#cf3a3c"/>
<circle cx="380.44" cy="153.5" r="1.8" fill="#cf3a3c"/>
<circle cx="379.45" cy="138.65" r="1.8" fill="#cf3a3c"/>
<circle cx="385.94" cy="137.37" r="1.8" fill="#cf3a3c"/>
<circle cx="386.15" cy="194.98" r="1.8" fill="#cf3a3c"/>
<circle cx="385.2" cy="69.78" r="1.8" fill="#cf3a3c"/>
<circle cx="376.93" cy="148.62" r="1.8" fill="#cf3a3c"/>
<circle cx="390.23" cy="68.13" r="1.8" fill="#cf3a3c"/>
<circle cx="383.68" cy="112.24" r="1.8" fill="#cf3a3c"/>
<circle cx="374.62" cy="80.91" r="1.8" fill="#cf3a3c"/>
<circle cx="386.34" cy="126.03" r="1.8" fill="#cf3a3c"/>
<circle cx="385.18" cy="168.14" r="1.8" fill="#cf3a3c"/>
<circle cx="379.25" cy="129.57" r="1.8" fill="#cf3a3c"/>
<circle cx="386.15" cy="58.29" r="1.8" fill="#cf3a3c"/>
<circle cx="376.93" cy="75.38" r="1.8" fill="#cf3a3c"/>
<circle cx="389.39" cy="127.04" r="1.8" fill="#cf3a3c"/>
<circle cx="388.88" cy="87.44" r="1.8" fill="#cf3a3c"/>
<circle cx="375.54" cy="138.28" r="1.8" fill="#cf3a3c"/>
<circle cx="374.86" cy="142.21" r="1.8" fill="#cf3a3c"/>
<circle cx="378.15" cy="94.49" r="1.8" fill="#cf3a3c"/>
<circle cx="390.92" cy="49.86" r="1.8" fill="#cf3a3c"/>
<circle cx="399.83" cy="91.73" r="1.8" fill="#cf3a3c"/>
<circle cx="385.41" cy="124.8" r="1.8" fill="#cf3a3c"/>
<circle cx="387.38" cy="122.32" r="1.8" fill="#cf3a3c"/>
<circle cx="374.16" cy="127.67" r="1.8" fill="#cf3a3c"/>
<circle cx="374" cy="74.65" r="1.8" fill="#cf3a3c"/>
<circle cx="391.17" cy="105.48" r="1.8" fill="#cf3a3c"/>
<circle cx="401.47" cy="120.99" r="1.8" fill="#cf3a3c"/>
<circle cx="378.41" cy="151.02" r="1.8" fill="#cf3a3c"/>
<circle cx="384.97" cy="107.4" r="1.8" fill="#cf3a3c"/>
<circle cx="388.34" cy="56.23" r="1.8" fill="#cf3a3c"/>
<circle cx="375.99" cy="123.71" r="1.8" fill="#cf3a3c"/>
<circle cx="392.46" cy="82.32" r="1.8" fill="#cf3a3c"/>
<circle cx="373.9" cy="109.69" r="1.8" fill="#cf3a3c"/>
<circle cx="376.54" cy="109.59" r="1.8" fill="#cf3a3c"/>
<circle cx="376.67" cy="89.38" r="1.8" fill="#cf3a3c"/>
<circle cx="385.77" cy="101.62" r="1.8" fill="#cf3a3c"/>
<circle cx="396.29" cy="97.1" r="1.8" fill="#cf3a3c"/>
<circle cx="382.4" cy="74.34" r="1.8" fill="#cf3a3c"/>
<circle cx="374.85" cy="92.84" r="1.8" fill="#cf3a3c"/>
<circle cx="393.74" cy="109.38" r="1.8" fill="#cf3a3c"/>
<circle cx="394.13" cy="84.37" r="1.8" fill="#cf3a3c"/>
<circle cx="376.65" cy="66.6" r="1.8" fill="#cf3a3c"/>
<circle cx="374.13" cy="131.69" r="1.8" fill="#cf3a3c"/>
<circle cx="374.11" cy="159.24" r="1.8" fill="#cf3a3c"/>
<circle cx="378.62" cy="99.34" r="1.8" fill="#cf3a3c"/>
<circle cx="375.22" cy="134.09" r="1.8" fill="#cf3a3c"/>
<circle cx="374.28" cy="103.14" r="1.8" fill="#cf3a3c"/>
<circle cx="381.71" cy="62.29" r="1.8" fill="#cf3a3c"/>
<circle cx="379.97" cy="72.9" r="1.8" fill="#cf3a3c"/>
<circle cx="383.39" cy="130.16" r="1.8" fill="#cf3a3c"/>
<circle cx="391.02" cy="138.61" r="1.8" fill="#cf3a3c"/>
<circle cx="394.57" cy="80.62" r="1.8" fill="#cf3a3c"/>
<circle cx="382.01" cy="150.42" r="1.8" fill="#cf3a3c"/>
<circle cx="377" cy="139.92" r="1.8" fill="#cf3a3c"/>
<circle cx="382.99" cy="88.6" r="1.8" fill="#cf3a3c"/>
<circle cx="398.86" cy="65.13" r="1.8" fill="#cf3a3c"/>
<circle cx="393.6" cy="56.34" r="1.8" fill="#cf3a3c"/>
<circle cx="381.18" cy="74.18" r="1.8" fill="#cf3a3c"/>
<circle cx="384.93" cy="63.47" r="1.8" fill="#cf3a3c"/>
<circle cx="391" cy="99.2" r="1.8" fill="#cf3a3c"/>
<circle cx="381.7" cy="119.04" r="1.8" fill="#cf3a3c"/>
<circle cx="383.94" cy="61.06" r="1.8" fill="#cf3a3c"/>
<circle cx="374.05" cy="91.94" r="1.8" fill="#cf3a3c"/>
<circle cx="387.45" cy="115.32" r="1.8" fill="#cf3a3c"/>
<circle cx="377.07" cy="85.67" r="1.8" fill="#cf3a3c"/>
<circle cx="375.06" cy="169.88" r="1.8" fill="#cf3a3c"/>
<circle cx="401.3" cy="91.22" r="1.8" fill="#cf3a3c"/>
<circle cx="376.43" cy="75.35" r="1.8" fill="#cf3a3c"/>
<circle cx="383.41" cy="70.04" r="1.8" fill="#cf3a3c"/>
<circle cx="375.43" cy="94.14" r="1.8" fill="#cf3a3c"/>
<circle cx="375.88" cy="117.62" r="1.8" fill="#cf3a3c"/>
<circle cx="385.2" cy="100.66" r="1.8" fill="#cf3a3c"/>
<circle cx="401.56" cy="65.63" r="1.8" fill="#cf3a3c"/>
<circle cx="377.26" cy="145" r="1.8" fill="#cf3a3c"/>
<circle cx="375.34" cy="80.56" r="1.8" fill="#cf3a3c"/>
<circle cx="376.85" cy="91.54" r="1.8" fill="#cf3a3c"/>
<circle cx="396.14" cy="108.06" r="1.8" fill="#cf3a3c"/>
<circle cx="380.32" cy="85.96" r="1.8" fill="#cf3a3c"/>
<circle cx="385.27" cy="83.94" r="1.8" fill="#cf3a3c"/>
<circle cx="387.84" cy="166.03" r="1.8" fill="#cf3a3c"/>
<circle cx="377.84" cy="194.84" r="1.8" fill="#cf3a3c"/>
<circle cx="398.63" cy="64.16" r="1.8" fill="#cf3a3c"/>
<circle cx="375.9" cy="84.94" r="1.8" fill="#cf3a3c"/>
<circle cx="379.95" cy="89.19" r="1.8" fill="#cf3a3c"/>
<circle cx="381.86" cy="90.2" r="1.8" fill="#cf3a3c"/>
<circle cx="400.45" cy="107.07" r="1.8" fill="#cf3a3c"/>
<circle cx="374.08" cy="109.41" r="1.8" fill="#cf3a3c"/>
<circle cx="394.73" cy="51.19" r="1.8" fill="#cf3a3c"/>
<circle cx="380.97" cy="101.19" r="1.8" fill="#cf3a3c"/>
<circle cx="383.47" cy="122.25" r="1.8" fill="#cf3a3c"/>
<circle cx="378.22" cy="82.3" r="1.8" fill="#cf3a3c"/>
<circle cx="392.45" cy="52.2" r="1.8" fill="#cf3a3c"/>
<circle cx="374.02" cy="91.98" r="1.8" fill="#cf3a3c"/>
<circle cx="380.61" cy="65.06" r="1.8" fill="#cf3a3c"/>
<circle cx="418.09" cy="64.36" r="1.8" fill="#cf3a3c"/>
<circle cx="387.12" cy="53.15" r="1.8" fill="#cf3a3c"/>
<circle cx="386.1" cy="59.09" r="1.8" fill="#cf3a3c"/>
<circle cx="385.38" cy="137.75" r="1.8" fill="#cf3a3c"/>
<circle cx="376.48" cy="116.53" r="1.8" fill="#cf3a3c"/>
<circle cx="403.57" cy="47.85" r="1.8" fill="#cf3a3c"/>
<circle cx="376.73" cy="77.68" r="1.8" fill="#cf3a3c"/>
<circle cx="386.12" cy="70.3" r="1.8" fill="#cf3a3c"/>
<circle cx="374.43" cy="69.88" r="1.8" fill="#cf3a3c"/>
<circle cx="386.5" cy="81.64" r="1.8" fill="#cf3a3c"/>
<circle cx="377.97" cy="93.21" r="1.8" fill="#cf3a3c"/>
<circle cx="378.21" cy="70.96" r="1.8" fill="#cf3a3c"/>
<circle cx="378.38" cy="104.89" r="1.8" fill="#cf3a3c"/>
<circle cx="376.36" cy="118.99" r="1.8" fill="#cf3a3c"/>
<circle cx="390.95" cy="60.01" r="1.8" fill="#cf3a3c"/>
<circle cx="374.33" cy="91.16" r="1.8" fill="#cf3a3c"/>
<circle cx="376.08" cy="161.24" r="1.8" fill="#cf3a3c"/>
<circle cx="395.06" cy="128.6" r="1.8" fill="#cf3a3c"/>
<circle cx="376.89" cy="132.1" r="1.8" fill="#cf3a3c"/>
<circle cx="380.92" cy="133" r="1.8" fill="#cf3a3c"/>
<circle cx="387.71" cy="59.29" r="1.8" fill="#cf3a3c"/>
<circle cx="374.09" cy="162.93" r="1.8" fill="#cf3a3c"/>
<circle cx="376.9" cy="156.75" r="1.8" fill="#cf3a3c"/>
<circle cx="376.07" cy="141.33" r="1.8" fill="#cf3a3c"/>
<circle cx="381.27" cy="121.57" r="1.8" fill="#cf3a3c"/>
<circle cx="399.57" cy="57.76" r="1.8" fill="#cf3a3c"/>
<circle cx="384.57" cy="140.73" r="1.8" fill="#cf3a3c"/>
<circle cx="381.84" cy="162.35" r="1.8" fill="#cf3a3c"/>
<circle cx="380.44" cy="115.39" r="1.8" fill="#cf3a3c"/>
<circle cx="380.38" cy="117.04" r="1.8" fill="#cf3a3c"/>
<circle cx="379.01" cy="104.85" r="1.8" fill="#cf3a3c"/>
<circle cx="395.41" cy="73.47" r="1.8" fill="#cf3a3c"/>
<circle cx="387.84" cy="53.21" r="1.8" fill="#cf3a3c"/>
<circle cx="375.57" cy="123.53" r="1.8" fill="#cf3a3c"/>
<circle cx="383.79" cy="83.02" r="1.8" fill="#cf3a3c"/>
<circle cx="377.41" cy="76.83" r="1.8" fill="#cf3a3c"/>
<circle cx="387.96" cy="66.71" r="1.8" fill="#cf3a3c"/>
<circle cx="377.54" cy="128.4" r="1.8" fill="#cf3a3c"/>
<circle cx="377.23" cy="76" r="1.8" fill="#cf3a3c"/>
<circle cx="379.36" cy="134.68" r="1.8" fill="#cf3a3c"/>
<circle cx="379.17" cy="79.36" r="1.8" fill="#cf3a3c"/>
<circle cx="383.49" cy="67.01" r="1.8" fill="#cf3a3c"/>
<circle cx="385.09" cy="68.86" r="1.8" fill="#cf3a3c"/>
<circle cx="377.85" cy="69.4" r="1.8" fill="#cf3a3c"/>
<circle cx="385.23" cy="62.31" r="1.8" fill="#cf3a3c"/>
<circle cx="391.2" cy="76.53" r="1.8" fill="#cf3a3c"/>
<circle cx="377.68" cy="137.44" r="1.8" fill="#cf3a3c"/>
<circle cx="380.97" cy="107.35" r="1.8" fill="#cf3a3c"/>
<circle cx="403.46" cy="106.73" r="1.8" fill="#cf3a3c"/>
<circle cx="377.09" cy="75.06" r="1.8" fill="#cf3a3c"/>
<circle cx="406.77" cy="48.93" r="1.8" fill="#cf3a3c"/>
<circle cx="403.37" cy="151.54" r="1.8" fill="#cf3a3c"/>
<circle cx="374.61" cy="68.68" r="1.8" fill="#cf3a3c"/>
<circle cx="378.44" cy="133.13" r="1.8" fill="#cf3a3c"/>
<circle cx="381.4" cy="78.54" r="1.8" fill="#cf3a3c"/>
<circle cx="374.39" cy="134.59" r="1.8" fill="#cf3a3c"/>
<circle cx="375" cy="129.8" r="1.8" fill="#cf3a3c"/>
<circle cx="375.73" cy="74.83" r="1.8" fill="#cf3a3c"/>
<circle cx="387.92" cy="128.88" r="1.8" fill="#cf3a3c"/>
<circle cx="387.54" cy="55.8" r="1.8" fill="#cf3a3c"/>
<circle cx="391.5" cy="54.69" r="1.8" fill="#cf3a3c"/>
<circle cx="385.98" cy="80.8" r="1.8" fill="#cf3a3c"/>
<circle cx="381.32" cy="123.96" r="1.8" fill="#cf3a3c"/>
<circle cx="373.88" cy="75.15" r="1.8" fill="#cf3a3c"/>
<circle cx="378.38" cy="173.13" r="1.8" fill="#cf3a3c"/>
<circle cx="386.31" cy="67.22" r="1.8" fill="#cf3a3c"/>
<circle cx="374.9" cy="94.51" r="1.8" fill="#cf3a3c"/>
<circle cx="376.38" cy="128.53" r="1.8" fill="#cf3a3c"/>
<circle cx="381.69" cy="91.63" r="1.8" fill="#cf3a3c"/>
<circle cx="425.92" cy="31.59" r="1.8" fill="#cf3a3c"/>
<circle cx="383.88" cy="152.13" r="1.8" fill="#cf3a3c"/>
<circle cx="383.07" cy="120.71" r="1.8" fill="#cf3a3c"/>
<circle cx="376.04" cy="171.05" r="1.8" fill="#cf3a3c"/>
<circle cx="398.06" cy="96.88" r="1.8" fill="#cf3a3c"/>
<circle cx="375.3" cy="92.35" r="1.8" fill="#cf3a3c"/>
<circle cx="385.95" cy="150.23" r="1.8" fill="#cf3a3c"/>
<circle cx="379.29" cy="64.77" r="1.8" fill="#cf3a3c"/>
<circle cx="377.18" cy="124.89" r="1.8" fill="#cf3a3c"/>
<circle cx="379.82" cy="77.69" r="1.8" fill="#cf3a3c"/>
<circle cx="383.85" cy="94.31" r="1.8" fill="#cf3a3c"/>
<circle cx="379.95" cy="131.27" r="1.8" fill="#cf3a3c"/>
<circle cx="398.87" cy="67.6" r="1.8" fill="#cf3a3c"/>
<circle cx="375.49" cy="63.26" r="1.8" fill="#cf3a3c"/>
<circle cx="380.82" cy="59.91" r="1.8" fill="#cf3a3c"/>
<circle cx="381.1" cy="60.37" r="1.8" fill="#cf3a3c"/>
<circle cx="378.27" cy="70.46" r="1.8" fill="#cf3a3c"/>
<circle cx="382.41" cy="60.79" r="1.8" fill="#cf3a3c"/>
<circle cx="381.62" cy="130.68" r="1.8" fill="#cf3a3c"/>
<circle cx="386.11" cy="118.07" r="1.8" fill="#cf3a3c"/>
<circle cx="389.77" cy="114.74" r="1.8" fill="#cf3a3c"/>
<circle cx="378.84" cy="120.71" r="1.8" fill="#cf3a3c"/>
<circle cx="375.91" cy="62.74" r="1.8" fill="#cf3a3c"/>
<circle cx="376.64" cy="70.81" r="1.8" fill="#cf3a3c"/>
<circle cx="404.22" cy="94.15" r="1.8" fill="#cf3a3c"/>
<circle cx="377.04" cy="112.84" r="1.8" fill="#cf3a3c"/>
<circle cx="383.46" cy="74.81" r="1.8" fill="#cf3a3c"/>
<circle cx="375.9" cy="141.5" r="1.8" fill="#cf3a3c"/>
<circle cx="395.08" cy="118.73" r="1.8" fill="#cf3a3c"/>
<circle cx="385.61" cy="119.7" r="1.8" fill="#cf3a3c"/>
<circle cx="399.71" cy="106.76" r="1.8" fill="#cf3a3c"/>
<circle cx="375.78" cy="80.98" r="1.8" fill="#cf3a3c"/>
<circle cx="432.7" cy="26.17" r="1.8" fill="#cf3a3c"/>
<circle cx="389.36" cy="52.38" r="1.8" fill="#cf3a3c"/>
<circle cx="380.8" cy="138.31" r="1.8" fill="#cf3a3c"/>
<circle cx="382.69" cy="128.95" r="1.8" fill="#cf3a3c"/>
<circle cx="383.48" cy="70.77" r="1.8" fill="#cf3a3c"/>
<circle cx="374.24" cy="98.82" r="1.8" fill="#cf3a3c"/>
<circle cx="379.43" cy="68.68" r="1.8" fill="#cf3a3c"/>
<circle cx="386.97" cy="61.31" r="1.8" fill="#cf3a3c"/>
<circle cx="375.35" cy="89.98" r="1.8" fill="#cf3a3c"/>
<circle cx="378.54" cy="76.37" r="1.8" fill="#cf3a3c"/>
<circle cx="380.8" cy="117.91" r="1.8" fill="#cf3a3c"/>
<circle cx="398.29" cy="61.94" r="1.8" fill="#cf3a3c"/>
<circle cx="376.13" cy="80.67" r="1.8" fill="#cf3a3c"/>
<circle cx="422.19" cy="36.14" r="1.8" fill="#cf3a3c"/>
<circle cx="374.58" cy="74.95" r="1.8" fill="#cf3a3c"/>
<circle cx="380.73" cy="166.07" r="1.8" fill="#cf3a3c"/>
<circle cx="383.07" cy="125.56" r="1.8" fill="#cf3a3c"/>
<circle cx="375.96" cy="96.06" r="1.8" fill="#cf3a3c"/>
<circle cx="379.3" cy="71.69" r="1.8" fill="#cf3a3c"/>
<circle cx="378.21" cy="138.92" r="1.8" fill="#cf3a3c"/>
<circle cx="374.24" cy="89.1" r="1.8" fill="#cf3a3c"/>
<circle cx="375.23" cy="111.73" r="1.8" fill="#cf3a3c"/>
<circle cx="385.13" cy="54.73" r="1.8" fill="#cf3a3c"/>
<circle cx="382.26" cy="96.17" r="1.8" fill="#cf3a3c"/>
<circle cx="388.13" cy="84.09" r="1.8" fill="#cf3a3c"/>
<circle cx="376.77" cy="92.38" r="1.8" fill="#cf3a3c"/>
<circle cx="387.53" cy="68.09" r="1.8" fill="#cf3a3c"/>
<circle cx="378.25" cy="107.9" r="1.8" fill="#cf3a3c"/>
<circle cx="387.84" cy="59.02" r="1.8" fill="#cf3a3c"/>
<circle cx="385.1" cy="92.43" r="1.8" fill="#cf3a3c"/>
<circle cx="385.68" cy="125.53" r="1.8" fill="#cf3a3c"/>
<circle cx="390.75" cy="82.05" r="1.8" fill="#cf3a3c"/>
<circle cx="387.04" cy="60.62" r="1.8" fill="#cf3a3c"/>
<circle cx="383.06" cy="132.91" r="1.8" fill="#cf3a3c"/>
<circle cx="378.42" cy="97.68" r="1.8" fill="#cf3a3c"/>
<circle cx="378.23" cy="168.53" r="1.8" fill="#cf3a3c"/>
<circle cx="375.18" cy="100.86" r="1.8" fill="#cf3a3c"/>
<circle cx="378.13" cy="90.65" r="1.8" fill="#cf3a3c"/>
<circle cx="377.22" cy="70.64" r="1.8" fill="#cf3a3c"/>
<circle cx="376.87" cy="143.26" r="1.8" fill="#cf3a3c"/>
<circle cx="425.93" cy="38.3" r="1.8" fill="#cf3a3c"/>
<circle cx="374.08" cy="129.69" r="1.8" fill="#cf3a3c"/>
<circle cx="390.28" cy="61.82" r="1.8" fill="#cf3a3c"/>
<circle cx="375.8" cy="104.13" r="1.8" fill="#cf3a3c"/>
<circle cx="382.38" cy="76.34" r="1.8" fill="#cf3a3c"/>
<circle cx="386.33" cy="84.55" r="1.8" fill="#cf3a3c"/>
<circle cx="411.62" cy="60.11" r="1.8" fill="#cf3a3c"/>
<circle cx="387.15" cy="57.2" r="1.8" fill="#cf3a3c"/>
<circle cx="375.1" cy="137.88" r="1.8" fill="#cf3a3c"/>
<circle cx="392.57" cy="84.75" r="1.8" fill="#cf3a3c"/>
<circle cx="379.41" cy="138.28" r="1.8" fill="#cf3a3c"/>
<circle cx="385.38" cy="68.19" r="1.8" fill="#cf3a3c"/>
<circle cx="381.14" cy="165.87" r="1.8" fill="#cf3a3c"/>
<circle cx="378.85" cy="77.04" r="1.8" fill="#cf3a3c"/>
<circle cx="376.17" cy="69.45" r="1.8" fill="#cf3a3c"/>
<circle cx="387.35" cy="72.01" r="1.8" fill="#cf3a3c"/>
<circle cx="395.24" cy="106.87" r="1.8" fill="#cf3a3c"/>
<circle cx="382.29" cy="71.11" r="1.8" fill="#cf3a3c"/>
<circle cx="388.49" cy="128.34" r="1.8" fill="#cf3a3c"/>
<circle cx="380.99" cy="103.38" r="1.8" fill="#cf3a3c"/>
<circle cx="402.01" cy="109.97" r="1.8" fill="#cf3a3c"/>
<circle cx="374.17" cy="99.3" r="1.8" fill="#cf3a3c"/>
<circle cx="373.97" cy="76.26" r="1.8" fill="#cf3a3c"/>
<circle cx="401.75" cy="70.26" r="1.8" fill="#cf3a3c"/>
<circle cx="381.37" cy="79.61" r="1.8" fill="#cf3a3c"/>
<circle cx="383.37" cy="100.2" r="1.8" fill="#cf3a3c"/>
<circle cx="384.52" cy="89.19" r="1.8" fill="#cf3a3c"/>
<circle cx="384.67" cy="111.87" r="1.8" fill="#cf3a3c"/>
<circle cx="380.67" cy="87.35" r="1.8" fill="#cf3a3c"/>
<circle cx="383.78" cy="81.67" r="1.8" fill="#cf3a3c"/>
<circle cx="378.71" cy="93.88" r="1.8" fill="#cf3a3c"/>
<circle cx="377.72" cy="130.07" r="1.8" fill="#cf3a3c"/>
<circle cx="376.29" cy="103.59" r="1.8" fill="#cf3a3c"/>
<circle cx="379.61" cy="86.91" r="1.8" fill="#cf3a3c"/>
<circle cx="382.16" cy="133.2" r="1.8" fill="#cf3a3c"/>
<circle cx="378.71" cy="72.79" r="1.8" fill="#cf3a3c"/>
<circle cx="398.29" cy="70.23" r="1.8" fill="#cf3a3c"/>
<circle cx="435.34" cy="30.17" r="1.8" fill="#cf3a3c"/>
<circle cx="384.04" cy="65.9" r="1.8" fill="#cf3a3c"/>
<circle cx="377.76" cy="76.88" r="1.8" fill="#cf3a3c"/>
<circle cx="377.12" cy="141.17" r="1.8" fill="#cf3a3c"/>
<circle cx="374.97" cy="164.91" r="1.8" fill="#cf3a3c"/>
<circle cx="380.3" cy="101.06" r="1.8" fill="#cf3a3c"/>
<circle cx="376.92" cy="149.04" r="1.8" fill="#cf3a3c"/>
<circle cx="392.4" cy="119.15" r="1.8" fill="#cf3a3c"/>
<circle cx="383.51" cy="71.83" r="1.8" fill="#cf3a3c"/>
<circle cx="377.85" cy="124.42" r="1.8" fill="#cf3a3c"/>
<circle cx="373.92" cy="99.82" r="1.8" fill="#cf3a3c"/>
<circle cx="376.46" cy="71.99" r="1.8" fill="#cf3a3c"/>
<circle cx="397.65" cy="45.37" r="1.8" fill="#cf3a3c"/>
<circle cx="375.44" cy="140.07" r="1.8" fill="#cf3a3c"/>
<circle cx="379.14" cy="116.99" r="1.8" fill="#cf3a3c"/>
<circle cx="396.89" cy="50.99" r="1.8" fill="#cf3a3c"/>
<circle cx="376.13" cy="144.78" r="1.8" fill="#cf3a3c"/>
<circle cx="380.84" cy="76.72" r="1.8" fill="#cf3a3c"/>
<circle cx="378.52" cy="120.22" r="1.8" fill="#cf3a3c"/>
<circle cx="388.83" cy="123.41" r="1.8" fill="#cf3a3c"/>
<circle cx="384.62" cy="64.64" r="1.8" fill="#cf3a3c"/>
<circle cx="415.6" cy="59.55" r="1.8" fill="#cf3a3c"/>
<circle cx="376.36" cy="102.69" r="1.8" fill="#cf3a3c"/>
<circle cx="394.84" cy="49.31" r="1.8" fill="#cf3a3c"/>
<circle cx="381.97" cy="61.44" r="1.8" fill="#cf3a3c"/>
<circle cx="379.2" cy="67.82" r="1.8" fill="#cf3a3c"/>
<circle cx="382.48" cy="125.8" r="1.8" fill="#cf3a3c"/>
<circle cx="381.94" cy="81.15" r="1.8" fill="#cf3a3c"/>
<circle cx="380.99" cy="91.52" r="1.8" fill="#cf3a3c"/>
<circle cx="424.81" cy="37.27" r="1.8" fill="#cf3a3c"/>
<circle cx="377.95" cy="80.59" r="1.8" fill="#cf3a3c"/>
<circle cx="388.8" cy="171.66" r="1.8" fill="#cf3a3c"/>
<circle cx="377.85" cy="97.92" r="1.8" fill="#cf3a3c"/>
<circle cx="400.5" cy="88.59" r="1.8" fill="#cf3a3c"/>
<circle cx="388.5" cy="74.77" r="1.8" fill="#cf3a3c"/>
<circle cx="383.41" cy="142.15" r="1.8" fill="#cf3a3c"/>
<circle cx="390.41" cy="65.63" r="1.8" fill="#cf3a3c"/>
<circle cx="396.8" cy="107.11" r="1.8" fill="#cf3a3c"/>
<circle cx="422.8" cy="40.05" r="1.8" fill="#cf3a3c"/>
<circle cx="375.28" cy="138.51" r="1.8" fill="#cf3a3c"/>
<circle cx="394.54" cy="142.45" r="1.8" fill="#cf3a3c"/>
<circle cx="380.13" cy="140.86" r="1.8" fill="#cf3a3c"/>
<circle cx="374.59" cy="70.07" r="1.8" fill="#cf3a3c"/>
<circle cx="387.21" cy="64.15" r="1.8" fill="#cf3a3c"/>
<circle cx="380.84" cy="70.47" r="1.8" fill="#cf3a3c"/>
<circle cx="387.73" cy="151.53" r="1.8" fill="#cf3a3c"/>
<circle cx="379.6" cy="69.65" r="1.8" fill="#cf3a3c"/>
<circle cx="375.08" cy="78.26" r="1.8" fill="#cf3a3c"/>
<circle cx="387.48" cy="113.12" r="1.8" fill="#cf3a3c"/>
<circle cx="376.25" cy="114.81" r="1.8" fill="#cf3a3c"/>
<circle cx="405.41" cy="109.3" r="1.8" fill="#cf3a3c"/>
<circle cx="375.91" cy="140.49" r="1.8" fill="#cf3a3c"/>
<circle cx="374.06" cy="102.42" r="1.8" fill="#cf3a3c"/>
<circle cx="377.08" cy="148.49" r="1.8" fill="#cf3a3c"/>
<circle cx="387.02" cy="53.65" r="1.8" fill="#cf3a3c"/>
<circle cx="375.77" cy="144.49" r="1.8" fill="#cf3a3c"/>
<circle cx="403.59" cy="81.83" r="1.8" fill="#cf3a3c"/>
<circle cx="403.13" cy="108.73" r="1.8" fill="#cf3a3c"/>
<circle cx="383.37" cy="67.36" r="1.8" fill="#cf3a3c"/>
<circle cx="381.04" cy="128.55" r="1.8" fill="#cf3a3c"/>
<circle cx="383.12" cy="198.63" r="1.8" fill="#cf3a3c"/>
<circle cx="375.92" cy="121.18" r="1.8" fill="#cf3a3c"/>
<circle cx="375" cy="72.72" r="1.8" fill="#cf3a3c"/>
<circle cx="390.32" cy="67.27" r="1.8" fill="#cf3a3c"/>
<circle cx="405.27" cy="48.81" r="1.8" fill="#cf3a3c"/>
<circle cx="388.88" cy="103.25" r="1.8" fill="#cf3a3c"/>
<circle cx="378.25" cy="85.17" r="1.8" fill="#cf3a3c"/>
<circle cx="375.71" cy="193.07" r="1.8" fill="#cf3a3c"/>
<circle cx="390.82" cy="61.59" r="1.8" fill="#cf3a3c"/>
<circle cx="384.7" cy="154.16" r="1.8" fill="#cf3a3c"/>
<circle cx="376.75" cy="86.39" r="1.8" fill="#cf3a3c"/>
<circle cx="378.25" cy="101.44" r="1.8" fill="#cf3a3c"/>
<circle cx="374.09" cy="135.41" r="1.8" fill="#cf3a3c"/>
<circle cx="385.35" cy="137.61" r="1.8" fill="#cf3a3c"/>
<circle cx="380.1" cy="118.45" r="1.8" fill="#cf3a3c"/>
<circle cx="385.88" cy="92.64" r="1.8" fill="#cf3a3c"/>
<circle cx="378.35" cy="110.01" r="1.8" fill="#cf3a3c"/>
<circle cx="387.86" cy="56.39" r="1.8" fill="#cf3a3c"/>
<circle cx="398.52" cy="197.52" r="1.8" fill="#cf3a3c"/>
<circle cx="383.34" cy="93.13" r="1.8" fill="#cf3a3c"/>
<circle cx="406.29" cy="117.71" r="1.8" fill="#cf3a3c"/>
<circle cx="380.06" cy="130.75" r="1.8" fill="#cf3a3c"/>
<circle cx="384.77" cy="88.72" r="1.8" fill="#cf3a3c"/>
<circle cx="393.13" cy="73.63" r="1.8" fill="#cf3a3c"/>
<circle cx="375.78" cy="203.74" r="1.8" fill="#cf3a3c"/>
<circle cx="386.59" cy="77.72" r="1.8" fill="#cf3a3c"/>
<circle cx="379.21" cy="71.46" r="1.8" fill="#cf3a3c"/>
<circle cx="380.21" cy="97.01" r="1.8" fill="#cf3a3c"/>
<circle cx="375.83" cy="105.69" r="1.8" fill="#cf3a3c"/>
<circle cx="389.32" cy="108.54" r="1.8" fill="#cf3a3c"/>
<circle cx="383.72" cy="66.57" r="1.8" fill="#cf3a3c"/>
<circle cx="407.86" cy="87.24" r="1.8" fill="#cf3a3c"/>
<circle cx="383.91" cy="72.46" r="1.8" fill="#cf3a3c"/>
<circle cx="381.32" cy="62.61" r="1.8" fill="#cf3a3c"/>
<circle cx="375.17" cy="124.96" r="1.8" fill="#cf3a3c"/>
<circle cx="375.84" cy="150.27" r="1.8" fill="#cf3a3c"/>
<circle cx="392.02" cy="112.32" r="1.8" fill="#cf3a3c"/>
<circle cx="390.41" cy="52.88" r="1.8" fill="#cf3a3c"/>
<circle cx="406.05" cy="64.23" r="1.8" fill="#cf3a3c"/>
<circle cx="383.38" cy="122.29" r="1.8" fill="#cf3a3c"/>
<circle cx="382.21" cy="90.97" r="1.8" fill="#cf3a3c"/>
<circle cx="388.19" cy="57.7" r="1.8" fill="#cf3a3c"/>
<circle cx="377.67" cy="170.06" r="1.8" fill="#cf3a3c"/>
<circle cx="377.06" cy="108.1" r="1.8" fill="#cf3a3c"/>
<circle cx="375.18" cy="113.79" r="1.8" fill="#cf3a3c"/>
<circle cx="389.46" cy="53.68" r="1.8" fill="#cf3a3c"/>
<circle cx="374.03" cy="120" r="1.8" fill="#cf3a3c"/>
<circle cx="375.68" cy="92.39" r="1.8" fill="#cf3a3c"/>
<circle cx="378.23" cy="121.81" r="1.8" fill="#cf3a3c"/>
<circle cx="375.59" cy="72.01" r="1.8" fill="#cf3a3c"/>
<circle cx="376.32" cy="156.1" r="1.8" fill="#cf3a3c"/>
<circle cx="382.84" cy="104.33" r="1.8" fill="#cf3a3c"/>
<circle cx="386.84" cy="76.19" r="1.8" fill="#cf3a3c"/>
<circle cx="382.77" cy="130.03" r="1.8" fill="#cf3a3c"/>
<circle cx="390.91" cy="73.77" r="1.8" fill="#cf3a3c"/>
<circle cx="374.57" cy="163.53" r="1.8" fill="#cf3a3c"/>
<circle cx="375.55" cy="68.1" r="1.8" fill="#cf3a3c"/>
<circle cx="383.2" cy="179.29" r="1.8" fill="#cf3a3c"/>
<circle cx="383.95" cy="103.52" r="1.8" fill="#cf3a3c"/>
<circle cx="376.77" cy="107.87" r="1.8" fill="#cf3a3c"/>
<circle cx="398.74" cy="55.44" r="1.8" fill="#cf3a3c"/>
<circle cx="375.12" cy="107.53" r="1.8" fill="#cf3a3c"/>
<circle cx="383.59" cy="93.55" r="1.8" fill="#cf3a3c"/>
<circle cx="383.77" cy="87.83" r="1.8" fill="#cf3a3c"/>
<circle cx="401.63" cy="85.86" r="1.8" fill="#cf3a3c"/>
<circle cx="374.47" cy="77.93" r="1.8" fill="#cf3a3c"/>
<circle cx="379.32" cy="136.03" r="1.8" fill="#cf3a3c"/>
<circle cx="374.67" cy="122.53" r="1.8" fill="#cf3a3c"/>
<circle cx="382.77" cy="166.65" r="1.8" fill="#cf3a3c"/>
<circle cx="394.22" cy="54.37" r="1.8" fill="#cf3a3c"/>
<circle cx="376.71" cy="67.65" r="1.8" fill="#cf3a3c"/>
<circle cx="386.8" cy="95.21" r="1.8" fill="#cf3a3c"/>
<circle cx="379.99" cy="69.28" r="1.8" fill="#cf3a3c"/>
<circle cx="383.51" cy="96.83" r="1.8" fill="#cf3a3c"/>
<circle cx="416.09" cy="42.83" r="1.8" fill="#cf3a3c"/>
<circle cx="376.74" cy="87.39" r="1.8" fill="#cf3a3c"/>
<circle cx="378.77" cy="82.7" r="1.8" fill="#cf3a3c"/>
<circle cx="396.65" cy="68.63" r="1.8" fill="#cf3a3c"/>
<circle cx="413.61" cy="43.22" r="1.8" fill="#cf3a3c"/>
<circle cx="375.51" cy="194.68" r="1.8" fill="#cf3a3c"/>
<circle cx="394.25" cy="51.34" r="1.8" fill="#cf3a3c"/>
<circle cx="385.65" cy="153.95" r="1.8" fill="#cf3a3c"/>
<circle cx="376.23" cy="112.34" r="1.8" fill="#cf3a3c"/>
<circle cx="430.43" cy="28.81" r="1.8" fill="#cf3a3c"/>
<circle cx="375.83" cy="115.36" r="1.8" fill="#cf3a3c"/>
<circle cx="375.45" cy="109.26" r="1.8" fill="#cf3a3c"/>
<circle cx="394.39" cy="89.96" r="1.8" fill="#cf3a3c"/>
<circle cx="384.36" cy="98.08" r="1.8" fill="#cf3a3c"/>
<circle cx="386.27" cy="163.18" r="1.8" fill="#cf3a3c"/>
<circle cx="385.96" cy="144.38" r="1.8" fill="#cf3a3c"/>
<circle cx="385.78" cy="89.69" r="1.8" fill="#cf3a3c"/>
<circle cx="393.01" cy="67.63" r="1.8" fill="#cf3a3c"/>
<circle cx="382.7" cy="122.96" r="1.8" fill="#cf3a3c"/>
<circle cx="380.71" cy="179.02" r="1.8" fill="#cf3a3c"/>
<circle cx="377.88" cy="93.77" r="1.8" fill="#cf3a3c"/>
<circle cx="374.37" cy="128.52" r="1.8" fill="#cf3a3c"/>
<circle cx="375.89" cy="95.53" r="1.8" fill="#cf3a3c"/>
<circle cx="375.57" cy="77.59" r="1.8" fill="#cf3a3c"/>
<circle cx="385.59" cy="86.95" r="1.8" fill="#cf3a3c"/>
<circle cx="395.11" cy="50.26" r="1.8" fill="#cf3a3c"/>
<circle cx="386.39" cy="119.52" r="1.8" fill="#cf3a3c"/>
<circle cx="375.99" cy="119.27" r="1.8" fill="#cf3a3c"/>
<circle cx="374.39" cy="140.22" r="1.8" fill="#cf3a3c"/>
<circle cx="399.73" cy="43.15" r="1.8" fill="#cf3a3c"/>
<circle cx="398.98" cy="161.75" r="1.8" fill="#cf3a3c"/>
<circle cx="390.79" cy="112.69" r="1.8" fill="#cf3a3c"/>
<circle cx="373.98" cy="94.28" r="1.8" fill="#cf3a3c"/>
<circle cx="420.75" cy="40.01" r="1.8" fill="#cf3a3c"/>
<circle cx="384.68" cy="71.12" r="1.8" fill="#cf3a3c"/>
<circle cx="377.2" cy="137.86" r="1.8" fill="#cf3a3c"/>
<circle cx="385.26" cy="72.23" r="1.8" fill="#cf3a3c"/>
<circle cx="383.68" cy="83.88" r="1.8" fill="#cf3a3c"/>
<circle cx="378.11" cy="91.91" r="1.8" fill="#cf3a3c"/>
<circle cx="383.63" cy="124.84" r="1.8" fill="#cf3a3c"/>
<circle cx="378.65" cy="151.89" r="1.8" fill="#cf3a3c"/>
<circle cx="374.13" cy="90.39" r="1.8" fill="#cf3a3c"/>
<circle cx="380.41" cy="113.46" r="1.8" fill="#cf3a3c"/>
<circle cx="378.34" cy="110.27" r="1.8" fill="#cf3a3c"/>
<circle cx="375.83" cy="72.12" r="1.8" fill="#cf3a3c"/>
<circle cx="382.24" cy="75.81" r="1.8" fill="#cf3a3c"/>
<circle cx="374.62" cy="148.06" r="1.8" fill="#cf3a3c"/>
<circle cx="384.37" cy="141.58" r="1.8" fill="#cf3a3c"/>
<circle cx="376.86" cy="77.78" r="1.8" fill="#cf3a3c"/>
<circle cx="381.69" cy="112.9" r="1.8" fill="#cf3a3c"/>
<circle cx="385.32" cy="55.29" r="1.8" fill="#cf3a3c"/>
<circle cx="396.03" cy="58.74" r="1.8" fill="#cf3a3c"/>
<circle cx="406.67" cy="151.34" r="1.8" fill="#cf3a3c"/>
<circle cx="394.93" cy="47.4" r="1.8" fill="#cf3a3c"/>
<circle cx="375.23" cy="85.02" r="1.8" fill="#cf3a3c"/>
<circle cx="374.42" cy="131.06" r="1.8" fill="#cf3a3c"/>
<circle cx="395.34" cy="92.32" r="1.8" fill="#cf3a3c"/>
<circle cx="382.69" cy="126.35" r="1.8" fill="#cf3a3c"/>
<circle cx="410.58" cy="66.22" r="1.8" fill="#cf3a3c"/>
<circle cx="376.54" cy="116.2" r="1.8" fill="#cf3a3c"/>
<circle cx="374.23" cy="88.38" r="1.8" fill="#cf3a3c"/>
<circle cx="378.61" cy="163.54" r="1.8" fill="#cf3a3c"/>
<circle cx="388.24" cy="121.9" r="1.8" fill="#cf3a3c"/>
<circle cx="381.14" cy="63.42" r="1.8" fill="#cf3a3c"/>
<circle cx="380.18" cy="64.97" r="1.8" fill="#cf3a3c"/>
<circle cx="387.11" cy="67.41" r="1.8" fill="#cf3a3c"/>
<circle cx="378.34" cy="116.91" r="1.8" fill="#cf3a3c"/>
<circle cx="379.16" cy="116.97" r="1.8" fill="#cf3a3c"/>
<circle cx="379.96" cy="112.4" r="1.8" fill="#cf3a3c"/>
<circle cx="376.4" cy="105.78" r="1.8" fill="#cf3a3c"/>
<circle cx="386.83" cy="76" r="1.8" fill="#cf3a3c"/>
<circle cx="377.44" cy="126.36" r="1.8" fill="#cf3a3c"/>
<circle cx="400.14" cy="113.79" r="1.8" fill="#cf3a3c"/>
<circle cx="385.8" cy="72.01" r="1.8" fill="#cf3a3c"/>
<circle cx="386.49" cy="87.91" r="1.8" fill="#cf3a3c"/>
<circle cx="376.03" cy="92.29" r="1.8" fill="#cf3a3c"/>
<circle cx="376.33" cy="97.97" r="1.8" fill="#cf3a3c"/>
<circle cx="397.98" cy="66.61" r="1.8" fill="#cf3a3c"/>
<circle cx="378.76" cy="91.36" r="1.8" fill="#cf3a3c"/>
<circle cx="373.9" cy="81.03" r="1.8" fill="#cf3a3c"/>
<circle cx="377.64" cy="115.28" r="1.8" fill="#cf3a3c"/>
<circle cx="385.64" cy="70.38" r="1.8" fill="#cf3a3c"/>
<circle cx="379.19" cy="73.42" r="1.8" fill="#cf3a3c"/>
<circle cx="381.52" cy="77.67" r="1.8" fill="#cf3a3c"/>
<circle cx="382.31" cy="62.92" r="1.8" fill="#cf3a3c"/>
<circle cx="397.04" cy="67.61" r="1.8" fill="#cf3a3c"/>
<circle cx="377.8" cy="112.44" r="1.8" fill="#cf3a3c"/>
<circle cx="377.23" cy="135.23" r="1.8" fill="#cf3a3c"/>
<circle cx="376.53" cy="138.83" r="1.8" fill="#cf3a3c"/>
<circle cx="376.94" cy="157.4" r="1.8" fill="#cf3a3c"/>
<circle cx="376.98" cy="76.38" r="1.8" fill="#cf3a3c"/>
<circle cx="393.59" cy="133.17" r="1.8" fill="#cf3a3c"/>
<circle cx="383.67" cy="128.67" r="1.8" fill="#cf3a3c"/>
<circle cx="382.02" cy="121.29" r="1.8" fill="#cf3a3c"/>
<circle cx="387.89" cy="90.97" r="1.8" fill="#cf3a3c"/>
<circle cx="377.85" cy="73.35" r="1.8" fill="#cf3a3c"/>
<circle cx="374.05" cy="108.39" r="1.8" fill="#cf3a3c"/>
<circle cx="381.93" cy="202.14" r="1.8" fill="#cf3a3c"/>
<circle cx="419.91" cy="54.35" r="1.8" fill="#cf3a3c"/>
<circle cx="379.26" cy="110.42" r="1.8" fill="#cf3a3c"/>
<circle cx="393.23" cy="107.47" r="1.8" fill="#cf3a3c"/>
<circle cx="384.1" cy="149.7" r="1.8" fill="#cf3a3c"/>
<circle cx="389.96" cy="60.58" r="1.8" fill="#cf3a3c"/>
<circle cx="375.75" cy="108.36" r="1.8" fill="#cf3a3c"/>
<circle cx="375.28" cy="82.75" r="1.8" fill="#cf3a3c"/>
<circle cx="382.82" cy="131.86" r="1.8" fill="#cf3a3c"/>
<circle cx="395.86" cy="111.41" r="1.8" fill="#cf3a3c"/>
<circle cx="388.04" cy="72.98" r="1.8" fill="#cf3a3c"/>
<circle cx="406.8" cy="50.36" r="1.8" fill="#cf3a3c"/>
<circle cx="385.05" cy="76.36" r="1.8" fill="#cf3a3c"/>
<circle cx="375.76" cy="84.82" r="1.8" fill="#cf3a3c"/>
<circle cx="387.53" cy="102.86" r="1.8" fill="#cf3a3c"/>
<circle cx="386.28" cy="63.82" r="1.8" fill="#cf3a3c"/>
<circle cx="380.87" cy="130.8" r="1.8" fill="#cf3a3c"/>
<circle cx="380.41" cy="69.94" r="1.8" fill="#cf3a3c"/>
<circle cx="377.84" cy="138.21" r="1.8" fill="#cf3a3c"/>
<circle cx="412.54" cy="41.85" r="1.8" fill="#cf3a3c"/>
<circle cx="379.03" cy="117.96" r="1.8" fill="#cf3a3c"/>
<circle cx="388.13" cy="84.76" r="1.8" fill="#cf3a3c"/>
<circle cx="376.98" cy="102.79" r="1.8" fill="#cf3a3c"/>
<circle cx="390.64" cy="75.89" r="1.8" fill="#cf3a3c"/>
<circle cx="382.64" cy="70.17" r="1.8" fill="#cf3a3c"/>
<circle cx="375.71" cy="138.96" r="1.8" fill="#cf3a3c"/>
<circle cx="399.56" cy="77.73" r="1.8" fill="#cf3a3c"/>
<circle cx="377.11" cy="66.79" r="1.8" fill="#cf3a3c"/>
<circle cx="409.76" cy="48.13" r="1.8" fill="#cf3a3c"/>
<circle cx="375.42" cy="86.15" r="1.8" fill="#cf3a3c"/>
<circle cx="378.18" cy="138.31" r="1.8" fill="#cf3a3c"/>
<circle cx="379.11" cy="158.03" r="1.8" fill="#cf3a3c"/>
<circle cx="374.55" cy="82.46" r="1.8" fill="#cf3a3c"/>
<circle cx="386.39" cy="54.62" r="1.8" fill="#cf3a3c"/>
<circle cx="375.62" cy="131.85" r="1.8" fill="#cf3a3c"/>
<circle cx="387.18" cy="101.39" r="1.8" fill="#cf3a3c"/>
<circle cx="376.67" cy="132.28" r="1.8" fill="#cf3a3c"/>
<circle cx="406.53" cy="130.64" r="1.8" fill="#cf3a3c"/>
<circle cx="384.65" cy="102.11" r="1.8" fill="#cf3a3c"/>
<circle cx="374.84" cy="112.01" r="1.8" fill="#cf3a3c"/>
<circle cx="380.11" cy="137.1" r="1.8" fill="#cf3a3c"/>
<circle cx="381.45" cy="136.41" r="1.8" fill="#cf3a3c"/>
<circle cx="389.89" cy="132.63" r="1.8" fill="#cf3a3c"/>
<circle cx="405.95" cy="45.64" r="1.8" fill="#cf3a3c"/>
<circle cx="374.82" cy="114.44" r="1.8" fill="#cf3a3c"/>
<circle cx="378.79" cy="64.79" r="1.8" fill="#cf3a3c"/>
<circle cx="388.25" cy="142.46" r="1.8" fill="#cf3a3c"/>
<circle cx="376.68" cy="75.83" r="1.8" fill="#cf3a3c"/>
<circle cx="414.37" cy="78.48" r="1.8" fill="#cf3a3c"/>
<circle cx="392.62" cy="70.52" r="1.8" fill="#cf3a3c"/>
<circle cx="375.99" cy="94.05" r="1.8" fill="#cf3a3c"/>
<circle cx="377.26" cy="162.64" r="1.8" fill="#cf3a3c"/>
<circle cx="390.72" cy="127.35" r="1.8" fill="#cf3a3c"/>
<circle cx="390.54" cy="52.07" r="1.8" fill="#cf3a3c"/>
<circle cx="392.79" cy="99.57" r="1.8" fill="#cf3a3c"/>
<circle cx="397.6" cy="114.51" r="1.8" fill="#cf3a3c"/>
<circle cx="383.01" cy="137.11" r="1.8" fill="#cf3a3c"/>
<circle cx="386.28" cy="54.94" r="1.8" fill="#cf3a3c"/>
<circle cx="398.37" cy="106.37" r="1.8" fill="#cf3a3c"/>
<circle cx="384" cy="72.07" r="1.8" fill="#cf3a3c"/>
<circle cx="376.96" cy="83.28" r="1.8" fill="#cf3a3c"/>
<circle cx="375.29" cy="82.98" r="1.8" fill="#cf3a3c"/>
<circle cx="407.37" cy="48.25" r="1.8" fill="#cf3a3c"/>
<circle cx="379.06" cy="87.66" r="1.8" fill="#cf3a3c"/>
<circle cx="431.79" cy="24.53" r="1.8" fill="#cf3a3c"/>
<circle cx="384.91" cy="80.97" r="1.8" fill="#cf3a3c"/>
<circle cx="379.77" cy="75.37" r="1.8" fill="#cf3a3c"/>
<circle cx="374.15" cy="154.65" r="1.8" fill="#cf3a3c"/>
<circle cx="381.12" cy="111.29" r="1.8" fill="#cf3a3c"/>
<circle cx="379.76" cy="64.28" r="1.8" fill="#cf3a3c"/>
<circle cx="418.96" cy="37.13" r="1.8" fill="#cf3a3c"/>
<circle cx="391.53" cy="55.68" r="1.8" fill="#cf3a3c"/>
<circle cx="383.49" cy="62.18" r="1.8" fill="#cf3a3c"/>
<circle cx="381.05" cy="108.78" r="1.8" fill="#cf3a3c"/>
<circle cx="377.91" cy="102.19" r="1.8" fill="#cf3a3c"/>
<circle cx="384.05" cy="109.5" r="1.8" fill="#cf3a3c"/>
<circle cx="412.61" cy="82.36" r="1.8" fill="#cf3a3c"/>
<circle cx="380.85" cy="132.53" r="1.8" fill="#cf3a3c"/>
<circle cx="382.19" cy="144.01" r="1.8" fill="#cf3a3c"/>
<circle cx="374.44" cy="71.13" r="1.8" fill="#cf3a3c"/>
<circle cx="376.68" cy="135.78" r="1.8" fill="#cf3a3c"/>
<circle cx="387.49" cy="59.4" r="1.8" fill="#cf3a3c"/>
<circle cx="403.56" cy="185.38" r="1.8" fill="#cf3a3c"/>
<circle cx="387.49" cy="99.54" r="1.8" fill="#cf3a3c"/>
<circle cx="378.78" cy="77.56" r="1.8" fill="#cf3a3c"/>
<circle cx="390.17" cy="80.46" r="1.8" fill="#cf3a3c"/>
<circle cx="374.1" cy="76.16" r="1.8" fill="#cf3a3c"/>
<circle cx="382.21" cy="129.39" r="1.8" fill="#cf3a3c"/>
<circle cx="373.93" cy="81.99" r="1.8" fill="#cf3a3c"/>
<circle cx="396.19" cy="51.87" r="1.8" fill="#cf3a3c"/>
<circle cx="380.7" cy="71.54" r="1.8" fill="#cf3a3c"/>
<circle cx="376.55" cy="100.59" r="1.8" fill="#cf3a3c"/>
<circle cx="380.5" cy="108.87" r="1.8" fill="#cf3a3c"/>
<circle cx="374.6" cy="117.07" r="1.8" fill="#cf3a3c"/>
<circle cx="375.72" cy="82.74" r="1.8" fill="#cf3a3c"/>
<circle cx="387.99" cy="55.62" r="1.8" fill="#cf3a3c"/>
<circle cx="376.72" cy="90.82" r="1.8" fill="#cf3a3c"/>
<circle cx="398.07" cy="63.22" r="1.8" fill="#cf3a3c"/>
<circle cx="381.79" cy="60.42" r="1.8" fill="#cf3a3c"/>
<circle cx="380.9" cy="89.35" r="1.8" fill="#cf3a3c"/>
<circle cx="387.36" cy="77.61" r="1.8" fill="#cf3a3c"/>
<circle cx="375.97" cy="144.72" r="1.8" fill="#cf3a3c"/>
<circle cx="384.03" cy="59.99" r="1.8" fill="#cf3a3c"/>
<circle cx="382" cy="104.86" r="1.8" fill="#cf3a3c"/>
<circle cx="377.4" cy="69.58" r="1.8" fill="#cf3a3c"/>
<circle cx="394.69" cy="104.9" r="1.8" fill="#cf3a3c"/>
<circle cx="379.63" cy="66.99" r="1.8" fill="#cf3a3c"/>
<circle cx="392.38" cy="66.61" r="1.8" fill="#cf3a3c"/>
<circle cx="426.71" cy="29.73" r="1.8" fill="#cf3a3c"/>
<circle cx="415.87" cy="35.61" r="1.8" fill="#cf3a3c"/>
<circle cx="379.36" cy="122.08" r="1.8" fill="#cf3a3c"/>
<circle cx="378.78" cy="88.21" r="1.8" fill="#cf3a3c"/>
<circle cx="380.42" cy="90.45" r="1.8" fill="#cf3a3c"/>
<circle cx="384.39" cy="125.13" r="1.8" fill="#cf3a3c"/>
<circle cx="373.91" cy="77.53" r="1.8" fill="#cf3a3c"/>
<circle cx="390.42" cy="147.37" r="1.8" fill="#cf3a3c"/>
<circle cx="376.3" cy="95.43" r="1.8" fill="#cf3a3c"/>
<circle cx="376.33" cy="184.06" r="1.8" fill="#cf3a3c"/>
<circle cx="377.61" cy="108.64" r="1.8" fill="#cf3a3c"/>
<circle cx="390.75" cy="127.62" r="1.8" fill="#cf3a3c"/>
<circle cx="408.15" cy="73.27" r="1.8" fill="#cf3a3c"/>
<circle cx="393.81" cy="67.65" r="1.8" fill="#cf3a3c"/>
<circle cx="429.71" cy="33.13" r="1.8" fill="#cf3a3c"/>
<circle cx="381.37" cy="174.07" r="1.8" fill="#cf3a3c"/>
<circle cx="374.79" cy="101.24" r="1.8" fill="#cf3a3c"/>
<circle cx="393.19" cy="100.42" r="1.8" fill="#cf3a3c"/>
<circle cx="380.88" cy="94.37" r="1.8" fill="#cf3a3c"/>
<circle cx="395.23" cy="69.6" r="1.8" fill="#cf3a3c"/>
<circle cx="397.11" cy="51.9" r="1.8" fill="#cf3a3c"/>
<circle cx="377.01" cy="125.69" r="1.8" fill="#cf3a3c"/>
<circle cx="376.69" cy="143.11" r="1.8" fill="#cf3a3c"/>
<circle cx="408.72" cy="72.22" r="1.8" fill="#cf3a3c"/>
<circle cx="403.01" cy="71.49" r="1.8" fill="#cf3a3c"/>
<circle cx="406.2" cy="108.06" r="1.8" fill="#cf3a3c"/>
<circle cx="378.6" cy="79.88" r="1.8" fill="#cf3a3c"/>
<circle cx="375.17" cy="87.84" r="1.8" fill="#cf3a3c"/>
<circle cx="381.02" cy="180.11" r="1.8" fill="#cf3a3c"/>
<circle cx="392.61" cy="48.65" r="1.8" fill="#cf3a3c"/>
<circle cx="376.73" cy="135.83" r="1.8" fill="#cf3a3c"/>
<circle cx="374.88" cy="128.89" r="1.8" fill="#cf3a3c"/>
<circle cx="391.67" cy="89.36" r="1.8" fill="#cf3a3c"/>
<circle cx="379.58" cy="116.88" r="1.8" fill="#cf3a3c"/>
<circle cx="387.28" cy="103.45" r="1.8" fill="#cf3a3c"/>
<circle cx="376.19" cy="89.54" r="1.8" fill="#cf3a3c"/>
<circle cx="374.88" cy="90.44" r="1.8" fill="#cf3a3c"/>
<circle cx="399.8" cy="122.86" r="1.8" fill="#cf3a3c"/>
<circle cx="375.47" cy="133" r="1.8" fill="#cf3a3c"/>
<circle cx="400.78" cy="51.04" r="1.8" fill="#cf3a3c"/>
<circle cx="374.92" cy="120.61" r="1.8" fill="#cf3a3c"/>
<circle cx="374.8" cy="103.25" r="1.8" fill="#cf3a3c"/>
<circle cx="385.7" cy="143.19" r="1.8" fill="#cf3a3c"/>
<circle cx="376.19" cy="67.13" r="1.8" fill="#cf3a3c"/>
<circle cx="375.22" cy="94.11" r="1.8" fill="#cf3a3c"/>
<circle cx="374.87" cy="118.5" r="1.8" fill="#cf3a3c"/>
<circle cx="418.09" cy="37.97" r="1.8" fill="#cf3a3c"/>
<circle cx="380.26" cy="66.92" r="1.8" fill="#cf3a3c"/>
<circle cx="386.97" cy="59.15" r="1.8" fill="#cf3a3c"/>
<circle cx="373.87" cy="128.16" r="1.8" fill="#cf3a3c"/>
<circle cx="381.26" cy="70.59" r="1.8" fill="#cf3a3c"/>
<circle cx="380.55" cy="154.41" r="1.8" fill="#cf3a3c"/>
<circle cx="375.39" cy="178.37" r="1.8" fill="#cf3a3c"/>
<circle cx="380.45" cy="107.01" r="1.8" fill="#cf3a3c"/>
<circle cx="375.69" cy="138.38" r="1.8" fill="#cf3a3c"/>
<circle cx="384.13" cy="100.81" r="1.8" fill="#cf3a3c"/>
<circle cx="377.63" cy="108.89" r="1.8" fill="#cf3a3c"/>
<circle cx="403.77" cy="127.47" r="1.8" fill="#cf3a3c"/>
<circle cx="374.38" cy="121.55" r="1.8" fill="#cf3a3c"/>
<circle cx="412.53" cy="43.28" r="1.8" fill="#cf3a3c"/>
<circle cx="411.35" cy="37.47" r="1.8" fill="#cf3a3c"/>
<circle cx="381.33" cy="64.29" r="1.8" fill="#cf3a3c"/>
<circle cx="380" cy="62.36" r="1.8" fill="#cf3a3c"/>
<circle cx="390.01" cy="86.58" r="1.8" fill="#cf3a3c"/>
<circle cx="379.64" cy="137.45" r="1.8" fill="#cf3a3c"/>
<circle cx="374.73" cy="99.18" r="1.8" fill="#cf3a3c"/>
<circle cx="406.15" cy="52.13" r="1.8" fill="#cf3a3c"/>
<circle cx="374.53" cy="194.29" r="1.8" fill="#cf3a3c"/>
<circle cx="377.68" cy="96.53" r="1.8" fill="#cf3a3c"/>
<circle cx="395.15" cy="74.35" r="1.8" fill="#cf3a3c"/>
<circle cx="378.16" cy="105.56" r="1.8" fill="#cf3a3c"/>
<circle cx="380.93" cy="88" r="1.8" fill="#cf3a3c"/>
<circle cx="384.88" cy="153.57" r="1.8" fill="#cf3a3c"/>
<circle cx="381.59" cy="72.71" r="1.8" fill="#cf3a3c"/>
<circle cx="377.84" cy="75.4" r="1.8" fill="#cf3a3c"/>
<circle cx="385.46" cy="79.99" r="1.8" fill="#cf3a3c"/>
<circle cx="374.99" cy="69.08" r="1.8" fill="#cf3a3c"/>
<circle cx="392.41" cy="120.34" r="1.8" fill="#cf3a3c"/>
<circle cx="386.35" cy="112.18" r="1.8" fill="#cf3a3c"/>
<circle cx="381.18" cy="100.75" r="1.8" fill="#cf3a3c"/>
<circle cx="374.81" cy="78.44" r="1.8" fill="#cf3a3c"/>
<circle cx="375.8" cy="97.83" r="1.8" fill="#cf3a3c"/>
<circle cx="386.79" cy="84.95" r="1.8" fill="#cf3a3c"/>
<circle cx="395.62" cy="53.72" r="1.8" fill="#cf3a3c"/>
<circle cx="397.79" cy="102.68" r="1.8" fill="#cf3a3c"/>
<circle cx="379.91" cy="158.06" r="1.8" fill="#cf3a3c"/>
<circle cx="378.91" cy="84.34" r="1.8" fill="#cf3a3c"/>
<circle cx="388.75" cy="64.13" r="1.8" fill="#cf3a3c"/>
<circle cx="389.2" cy="96.76" r="1.8" fill="#cf3a3c"/>
<circle cx="387.07" cy="73.86" r="1.8" fill="#cf3a3c"/>
<circle cx="375.12" cy="96.1" r="1.8" fill="#cf3a3c"/>
<circle cx="373.99" cy="95.23" r="1.8" fill="#cf3a3c"/>
<circle cx="378.13" cy="113.47" r="1.8" fill="#cf3a3c"/>
<circle cx="380.19" cy="99.13" r="1.8" fill="#cf3a3c"/>
<circle cx="390.2" cy="73.91" r="1.8" fill="#cf3a3c"/>
<circle cx="375.23" cy="74.53" r="1.8" fill="#cf3a3c"/>
<circle cx="375.71" cy="78.16" r="1.8" fill="#cf3a3c"/>
<circle cx="378.94" cy="110.84" r="1.8" fill="#cf3a3c"/>
<circle cx="391.61" cy="153.28" r="1.8" fill="#cf3a3c"/>
<circle cx="380.12" cy="80.79" r="1.8" fill="#cf3a3c"/>
<circle cx="387.31" cy="104.26" r="1.8" fill="#cf3a3c"/>
<circle cx="398.45" cy="87.01" r="1.8" fill="#cf3a3c"/>
<circle cx="393.26" cy="56.33" r="1.8" fill="#cf3a3c"/>
<circle cx="395.45" cy="118.58" r="1.8" fill="#cf3a3c"/>
<circle cx="375.3" cy="153.82" r="1.8" fill="#cf3a3c"/>
<circle cx="375.88" cy="118.22" r="1.8" fill="#cf3a3c"/>
<circle cx="391.02" cy="67.82" r="1.8" fill="#cf3a3c"/>
<circle cx="402.71" cy="87.07" r="1.8" fill="#cf3a3c"/>
<circle cx="389.78" cy="97.97" r="1.8" fill="#cf3a3c"/>
<circle cx="387.19" cy="114.59" r="1.8" fill="#cf3a3c"/>
<circle cx="377.91" cy="68.68" r="1.8" fill="#cf3a3c"/>
<circle cx="380.16" cy="82.06" r="1.8" fill="#cf3a3c"/>
<circle cx="392.19" cy="57.06" r="1.8" fill="#cf3a3c"/>
<circle cx="399.08" cy="112.48" r="1.8" fill="#cf3a3c"/>
<circle cx="382.3" cy="134.53" r="1.8" fill="#cf3a3c"/>
<circle cx="379.65" cy="98.36" r="1.8" fill="#cf3a3c"/>
<circle cx="402.95" cy="70.8" r="1.8" fill="#cf3a3c"/>
<circle cx="389.68" cy="74.98" r="1.8" fill="#cf3a3c"/>
<circle cx="381.12" cy="128.32" r="1.8" fill="#cf3a3c"/>
<circle cx="391.24" cy="108.55" r="1.8" fill="#cf3a3c"/>
<circle cx="376.93" cy="111.47" r="1.8" fill="#cf3a3c"/>
<circle cx="377.28" cy="122.17" r="1.8" fill="#cf3a3c"/>
<circle cx="395.24" cy="91.24" r="1.8" fill="#cf3a3c"/>
<circle cx="377.72" cy="85.01" r="1.8" fill="#cf3a3c"/>
<circle cx="379.31" cy="126.8" r="1.8" fill="#cf3a3c"/>
<circle cx="376.31" cy="168.1" r="1.8" fill="#cf3a3c"/>
<circle cx="376.56" cy="119.88" r="1.8" fill="#cf3a3c"/>
<circle cx="374.02" cy="107.24" r="1.8" fill="#cf3a3c"/>
<circle cx="394.33" cy="94.8" r="1.8" fill="#cf3a3c"/>
<circle cx="377.59" cy="92.33" r="1.8" fill="#cf3a3c"/>
<circle cx="375.93" cy="72.09" r="1.8" fill="#cf3a3c"/>
<circle cx="436.58" cy="29.89" r="1.8" fill="#cf3a3c"/>
<circle cx="375.41" cy="159.87" r="1.8" fill="#cf3a3c"/>
<circle cx="374.82" cy="112.82" r="1.8" fill="#cf3a3c"/>
<circle cx="378.05" cy="133.01" r="1.8" fill="#cf3a3c"/>
<circle cx="393.01" cy="74.64" r="1.8" fill="#cf3a3c"/>
<circle cx="376.16" cy="73.29" r="1.8" fill="#cf3a3c"/>
<circle cx="375.91" cy="148.44" r="1.8" fill="#cf3a3c"/>
<circle cx="386.47" cy="118.53" r="1.8" fill="#cf3a3c"/>
<circle cx="437.6" cy="71.2" r="1.8" fill="#cf3a3c"/>
<circle cx="440" cy="59.8" r="1.8" fill="#cf3a3c"/>
<circle cx="420.5" cy="118.5" r="1.8" fill="#cf3a3c"/>
<circle cx="410.9" cy="186.8" r="1.8" fill="#cf3a3c"/>
<circle cx="427" cy="24" r="1.8" fill="#cf3a3c"/>
<circle cx="431" cy="25.5" r="1.8" fill="#cf3a3c"/>
<circle cx="429" cy="34" r="1.8" fill="#cf3a3c"/>
<circle cx="432" cy="40" r="1.8" fill="#cf3a3c"/>
<circle cx="423.5" cy="93" r="1.8" fill="#cf3a3c"/>
<circle cx="418" cy="108" r="1.8" fill="#cf3a3c"/>
</g>
<line x1="316.9" y1="9.2" x2="316.9" y2="242.2" stroke="#333" stroke-width="0.7" stroke-dasharray="3.5 2.5"/>
<line x1="373.5" y1="9.2" x2="373.5" y2="242.2" stroke="#333" stroke-width="0.7" stroke-dasharray="3.5 2.5"/>
<line x1="210.3" y1="204.8" x2="450.1" y2="204.8" stroke="#777" stroke-width="1.1" stroke-dasharray="4.5 3"/>
<rect x="210.3" y="9.2" width="239.8" height="233" fill="none" stroke="#555" stroke-width="0.8"/>
<line x1="206.6" y1="231.3" x2="210.3" y2="231.3" stroke="#333" stroke-width="0.7"/>
<text x="203.2" y="233.7" font-size="6.9" text-anchor="end" fill="#222" stroke="#222" stroke-width="0.14">0.0</text>
<line x1="206.6" y1="180.05" x2="210.3" y2="180.05" stroke="#333" stroke-width="0.7"/>
<text x="203.2" y="182.45" font-size="6.9" text-anchor="end" fill="#222" stroke="#222" stroke-width="0.14">2.5</text>
<line x1="206.6" y1="128.8" x2="210.3" y2="128.8" stroke="#333" stroke-width="0.7"/>
<text x="203.2" y="131.2" font-size="6.9" text-anchor="end" fill="#222" stroke="#222" stroke-width="0.14">5.0</text>
<line x1="206.6" y1="77.55" x2="210.3" y2="77.55" stroke="#333" stroke-width="0.7"/>
<text x="203.2" y="79.95" font-size="6.9" text-anchor="end" fill="#222" stroke="#222" stroke-width="0.14">7.5</text>
<line x1="206.6" y1="26.3" x2="210.3" y2="26.3" stroke="#333" stroke-width="0.7"/>
<text x="203.2" y="28.7" font-size="6.9" text-anchor="end" fill="#222" stroke="#222" stroke-width="0.14">10.0</text>
<line x1="275" y1="242.2" x2="275" y2="245.8" stroke="#333" stroke-width="0.7"/>
<text x="275" y="253.7" font-size="6.9" text-anchor="middle" fill="#222" stroke="#222" stroke-width="0.14">−5</text>
<line x1="345.6" y1="242.2" x2="345.6" y2="245.8" stroke="#333" stroke-width="0.7"/>
<text x="345.6" y="253.7" font-size="6.9" text-anchor="middle" fill="#222" stroke="#222" stroke-width="0.14">0</text>
<line x1="416.2" y1="242.2" x2="416.2" y2="245.8" stroke="#333" stroke-width="0.7"/>
<text x="416.2" y="253.7" font-size="6.9" text-anchor="middle" fill="#222" stroke="#222" stroke-width="0.14">5</text>
<text x="347" y="266.3" font-size="7.9" text-anchor="middle" fill="#222">Log<tspan font-size="5.2" dy="1.2">2</tspan><tspan dy="-1.2"> Fold Change</tspan></text>
<text x="190" y="127.8" font-size="7.9" text-anchor="middle" fill="#222" transform="rotate(-90 190 127.8)">−Log<tspan font-size="5.2" dy="1.2">10</tspan><tspan dy="-1.2"> AdjusteVd P−Value</tspan></text>
<line x1="238" y1="27" x2="250.8" y2="14.4" stroke="#9a9a9a" stroke-width="0.45"/>
<line x1="238" y1="27" x2="270.3" y2="14.4" stroke="#9a9a9a" stroke-width="0.45"/>
<line x1="238" y1="27" x2="291.6" y2="14.4" stroke="#9a9a9a" stroke-width="0.45"/>
<line x1="238" y1="27" x2="330" y2="16" stroke="#9a9a9a" stroke-width="0.45"/>
<line x1="238" y1="27" x2="330" y2="22" stroke="#9a9a9a" stroke-width="0.45"/>
<line x1="238" y1="27" x2="292" y2="33" stroke="#9a9a9a" stroke-width="0.45"/>
<line x1="238" y1="27" x2="312.4" y2="37" stroke="#9a9a9a" stroke-width="0.45"/>
<line x1="238" y1="27" x2="300" y2="48" stroke="#9a9a9a" stroke-width="0.45"/>
<line x1="238" y1="27" x2="323.5" y2="47" stroke="#9a9a9a" stroke-width="0.45"/>
<line x1="238" y1="27" x2="275" y2="48" stroke="#9a9a9a" stroke-width="0.45"/>
<line x1="238" y1="27" x2="312" y2="63" stroke="#9a9a9a" stroke-width="0.45"/>
<line x1="238" y1="27" x2="290" y2="63" stroke="#9a9a9a" stroke-width="0.45"/>
<line x1="238" y1="27" x2="290" y2="80" stroke="#9a9a9a" stroke-width="0.45"/>
<line x1="238" y1="27" x2="255" y2="32" stroke="#9a9a9a" stroke-width="0.45"/>
<line x1="222" y1="26" x2="224" y2="42" stroke="#9a9a9a" stroke-width="0.45"/>
<line x1="226" y1="26" x2="222" y2="58" stroke="#9a9a9a" stroke-width="0.45"/>
<line x1="230" y1="26" x2="223" y2="74" stroke="#9a9a9a" stroke-width="0.45"/>
<line x1="227" y1="27" x2="226" y2="90" stroke="#9a9a9a" stroke-width="0.45"/>
<line x1="231" y1="28" x2="225" y2="108" stroke="#9a9a9a" stroke-width="0.45"/>
<line x1="232" y1="35" x2="250" y2="96" stroke="#9a9a9a" stroke-width="0.45"/>
<line x1="233" y1="38" x2="252" y2="114" stroke="#9a9a9a" stroke-width="0.45"/>
<line x1="236" y1="40" x2="250" y2="80" stroke="#9a9a9a" stroke-width="0.45"/>
<line x1="235" y1="42" x2="256" y2="64" stroke="#9a9a9a" stroke-width="0.45"/>
<line x1="423" y1="27" x2="360" y2="17" stroke="#9a9a9a" stroke-width="0.45"/>
<line x1="423" y1="27" x2="385" y2="17" stroke="#9a9a9a" stroke-width="0.45"/>
<line x1="423" y1="27" x2="410" y2="17" stroke="#9a9a9a" stroke-width="0.45"/>
<line x1="423" y1="27" x2="430" y2="13" stroke="#9a9a9a" stroke-width="0.45"/>
<line x1="423" y1="27" x2="433" y2="22" stroke="#9a9a9a" stroke-width="0.45"/>
<line x1="423" y1="27" x2="432" y2="31" stroke="#9a9a9a" stroke-width="0.45"/>
<line x1="423" y1="27" x2="380" y2="28" stroke="#9a9a9a" stroke-width="0.45"/>
<line x1="423" y1="27" x2="355" y2="32" stroke="#9a9a9a" stroke-width="0.45"/>
<line x1="423" y1="27" x2="405" y2="32" stroke="#9a9a9a" stroke-width="0.45"/>
<line x1="423" y1="27" x2="430" y2="40" stroke="#9a9a9a" stroke-width="0.45"/>
<line x1="423" y1="27" x2="370" y2="48" stroke="#9a9a9a" stroke-width="0.45"/>
<line x1="423" y1="27" x2="405" y2="48" stroke="#9a9a9a" stroke-width="0.45"/>
<line x1="423" y1="27" x2="425" y2="48" stroke="#9a9a9a" stroke-width="0.45"/>
<line x1="423" y1="27" x2="370" y2="56" stroke="#9a9a9a" stroke-width="0.45"/>
<line x1="423" y1="27" x2="432" y2="55" stroke="#9a9a9a" stroke-width="0.45"/>
<line x1="423" y1="27" x2="350" y2="64" stroke="#9a9a9a" stroke-width="0.45"/>
<line x1="423" y1="27" x2="428" y2="61" stroke="#9a9a9a" stroke-width="0.45"/>
<line x1="423" y1="27" x2="372" y2="70" stroke="#9a9a9a" stroke-width="0.45"/>
<line x1="423" y1="27" x2="398" y2="68" stroke="#9a9a9a" stroke-width="0.45"/>
<line x1="423" y1="27" x2="430" y2="78" stroke="#9a9a9a" stroke-width="0.45"/>
<line x1="423" y1="27" x2="372" y2="80" stroke="#9a9a9a" stroke-width="0.45"/>
<line x1="423" y1="27" x2="410" y2="84" stroke="#9a9a9a" stroke-width="0.45"/>
<line x1="423" y1="27" x2="430" y2="90" stroke="#9a9a9a" stroke-width="0.45"/>
<line x1="423" y1="27" x2="430" y2="103" stroke="#9a9a9a" stroke-width="0.45"/>
<line x1="423" y1="27" x2="425" y2="112" stroke="#9a9a9a" stroke-width="0.45"/>
<g stroke="#111" stroke-width="0.15"><text x="212.8" y="18" font-size="7" font-style="italic" fill="#111" stroke="#111" stroke-width="0.14">Nrxn1</text><text x="231.3" y="18" font-size="7" font-style="italic" fill="#111" stroke="#111" stroke-width="0.14">Chgb</text><text x="250.8" y="16.4" font-size="7" font-style="italic" fill="#111" stroke="#111" stroke-width="0.14">Cntn1</text><text x="270.3" y="16.4" font-size="7" font-style="italic" fill="#111" stroke="#111" stroke-width="0.14">Grm5</text><text x="291.6" y="16.4" font-size="7" font-style="italic" fill="#111" stroke="#111" stroke-width="0.14">Mlc1</text><text x="310.2" y="16.4" font-size="7" font-style="italic" fill="#111" stroke="#111" stroke-width="0.14">Mapk10</text><text x="318.5" y="24.6" font-size="7" font-style="italic" fill="#111" stroke="#111" stroke-width="0.14">Ctnnd2</text><text x="249" y="36.2" font-size="7" font-style="italic" fill="#111" stroke="#111" stroke-width="0.14">Clstn2</text><text x="280.1" y="36.2" font-size="7" font-style="italic" fill="#111" stroke="#111" stroke-width="0.14">Diras2</text><text x="312.4" y="40.9" font-size="7" font-style="italic" fill="#111" stroke="#111" stroke-width="0.14">Mal2</text><text x="265.7" y="52.4" font-size="7" font-style="italic" fill="#111" stroke="#111" stroke-width="0.14">Nrsn1</text><text x="292.9" y="52.4" font-size="7" font-style="italic" fill="#111" stroke="#111" stroke-width="0.14">Elmod1</text><text x="323.5" y="52.4" font-size="7" font-style="italic" fill="#111" stroke="#111" stroke-width="0.14">Pclo</text><text x="216.5" y="46.8" font-size="7" font-style="italic" fill="#111" stroke="#111" stroke-width="0.14">Gpm6a</text><text x="218.3" y="63.2" font-size="7" font-style="italic" fill="#111" stroke="#111" stroke-width="0.14">Syt1</text><text x="243.4" y="68.7" font-size="7" font-style="italic" fill="#111" stroke="#111" stroke-width="0.14">Crym</text><text x="271.8" y="68.7" font-size="7" font-style="italic" fill="#111" stroke="#111" stroke-width="0.14">Mpped1</text><text x="304.6" y="68.7" font-size="7" font-style="italic" fill="#111" stroke="#111" stroke-width="0.14">Tceal5</text><text x="219.3" y="79.2" font-size="7" font-style="italic" fill="#111" stroke="#111" stroke-width="0.14">Cnr1</text><text x="247.1" y="85.4" font-size="7" font-style="italic" fill="#111" stroke="#111" stroke-width="0.14">Chl1</text><text x="279.2" y="85.4" font-size="7" font-style="italic" fill="#111" stroke="#111" stroke-width="0.14">Gprasp2</text><text x="222" y="95.6" font-size="7" font-style="italic" fill="#111" stroke="#111" stroke-width="0.14">Nefl</text><text x="251.2" y="101.6" font-size="7" font-style="italic" fill="#111" stroke="#111" stroke-width="0.14">Gkap1</text><text x="216.5" y="113.2" font-size="7" font-style="italic" fill="#111" stroke="#111" stroke-width="0.14">Sparcl1</text><text x="251.2" y="119.7" font-size="7" font-style="italic" fill="#111" stroke="#111" stroke-width="0.14">Snhg14</text><text x="351" y="21.2" font-size="7" font-style="italic" fill="#111" stroke="#111" stroke-width="0.14">Akr1b8</text><text x="377.2" y="21.2" font-size="7" font-style="italic" fill="#111" stroke="#111" stroke-width="0.14">Msln</text><text x="397.3" y="21.2" font-size="7" font-style="italic" fill="#111" stroke="#111" stroke-width="0.14">Clec4d</text><text x="424.4" y="18" font-size="7" font-style="italic" fill="#111" stroke="#111" stroke-width="0.14">Cdt1</text><text x="428.5" y="26.3" font-size="7" font-style="italic" fill="#111" stroke="#111" stroke-width="0.14">Rrm2</text><text x="426.4" y="35.4" font-size="7" font-style="italic" fill="#111" stroke="#111" stroke-width="0.14">Mki67</text><text x="374.8" y="32.3" font-size="7" font-style="italic" fill="#111" stroke="#111" stroke-width="0.14">Trib3</text><text x="336.8" y="36.4" font-size="7" font-style="italic" fill="#111" stroke="#111" stroke-width="0.14">S100a6</text><text x="396.3" y="36.4" font-size="7" font-style="italic" fill="#111" stroke="#111" stroke-width="0.14">Sgol1</text><text x="425.4" y="44.4" font-size="7" font-style="italic" fill="#111" stroke="#111" stroke-width="0.14">Hoxc6</text><text x="345" y="52.4" font-size="7" font-style="italic" fill="#111" stroke="#111" stroke-width="0.14">Cd79b</text><text x="397.3" y="52.4" font-size="7" font-style="italic" fill="#111" stroke="#111" stroke-width="0.14">Fgf7</text><text x="417.4" y="52.4" font-size="7" font-style="italic" fill="#111" stroke="#111" stroke-width="0.14">Eif4ebp1</text><text x="356.1" y="60.5" font-size="7" font-style="italic" fill="#111" stroke="#111" stroke-width="0.14">H60a</text><text x="427.5" y="58.9" font-size="7" font-style="italic" fill="#111" stroke="#111" stroke-width="0.14">Anxa1</text><text x="333.5" y="68.5" font-size="7" font-style="italic" fill="#111" stroke="#111" stroke-width="0.14">Plin2</text><text x="422.4" y="65.5" font-size="7" font-style="italic" fill="#111" stroke="#111" stroke-width="0.14">C1s</text><text x="358.1" y="74.6" font-size="7" font-style="italic" fill="#111" stroke="#111" stroke-width="0.14">Shcbp1</text><text x="389.3" y="72.1" font-size="7" font-style="italic" fill="#111" stroke="#111" stroke-width="0.14">Col3a1</text><text x="424.4" y="82.2" font-size="7" font-style="italic" fill="#111" stroke="#111" stroke-width="0.14">Ifi202b</text><text x="358.1" y="85" font-size="7" font-style="italic" fill="#111" stroke="#111" stroke-width="0.14">Spc25</text><text x="403.3" y="88.6" font-size="7" font-style="italic" fill="#111" stroke="#111" stroke-width="0.14">Vim</text><text x="425.4" y="94.7" font-size="7" font-style="italic" fill="#111" stroke="#111" stroke-width="0.14">Rpl39l</text><text x="389.3" y="100.7" font-size="7" font-style="italic" fill="#111" stroke="#111" stroke-width="0.14">Plin4</text><text x="426.4" y="107.7" font-size="7" font-style="italic" fill="#111" stroke="#111" stroke-width="0.14">Emp1</text><text x="418.4" y="116.8" font-size="7" font-style="italic" fill="#111" stroke="#111" stroke-width="0.14">Thbs1</text><text x="374.8" y="117.8" font-size="7" font-style="italic" fill="#111" stroke="#111" stroke-width="0.14">Plin3</text><text x="401.9" y="132.9" font-size="7" font-style="italic" fill="#111" stroke="#111" stroke-width="0.14">Krt18</text></g>
<text x="461" y="12.6" font-size="15" font-weight="bold" stroke="#000" stroke-width="0.45">c</text>
<text x="593.7" y="5.8" font-size="6.66" font-weight="bold" stroke="#000" stroke-width="0.06">Pathway Analysis</text>
<rect x="594.2" y="7.6" width="54.9" height="87.6" fill="#fff" stroke="#444" stroke-width="0.7"/>
<text x="592" y="14.55" font-size="6.65" text-anchor="end" fill="#e8262c" stroke="#e8262c" stroke-width="0.14">Glutamatergic synapse</text>
<line x1="592.4" y1="12.7" x2="594.2" y2="12.7" stroke="#444" stroke-width="0.5"/>
<circle cx="646.1" cy="12.7" r="1.75" fill="#ea2a2e"/>
<text x="592" y="23.05" font-size="6.65" text-anchor="end" fill="#111" stroke="#111" stroke-width="0.14">GABAergic synapse</text>
<line x1="592.4" y1="21.2" x2="594.2" y2="21.2" stroke="#444" stroke-width="0.5"/>
<circle cx="643" cy="21.2" r="1.65" fill="#ea2a2e"/>
<text x="592" y="31.55" font-size="6.65" text-anchor="end" fill="#111" stroke="#111" stroke-width="0.14">Nicotine addiction</text>
<line x1="592.4" y1="29.7" x2="594.2" y2="29.7" stroke="#444" stroke-width="0.5"/>
<circle cx="627.2" cy="29.7" r="0.75" fill="#ea2a2e"/>
<text x="592" y="40.05" font-size="6.65" text-anchor="end" fill="#111" stroke="#111" stroke-width="0.14">Morphine addiction</text>
<line x1="592.4" y1="38.2" x2="594.2" y2="38.2" stroke="#444" stroke-width="0.5"/>
<circle cx="618.4" cy="38.2" r="1.45" fill="#ea2a2e"/>
<text x="592" y="48.55" font-size="6.65" text-anchor="end" fill="#e8262c" stroke="#e8262c" stroke-width="0.14">Calcium signaling pathway</text>
<line x1="592.4" y1="46.7" x2="594.2" y2="46.7" stroke="#444" stroke-width="0.5"/>
<circle cx="615.2" cy="46.7" r="2.2" fill="#ea2a2e"/>
<text x="592" y="57.05" font-size="6.65" text-anchor="end" fill="#111" stroke="#111" stroke-width="0.14">Circadian entrainment</text>
<line x1="592.4" y1="55.2" x2="594.2" y2="55.2" stroke="#444" stroke-width="0.5"/>
<circle cx="613.8" cy="55.2" r="1.45" fill="#ea2a2e"/>
<text x="592" y="65.55" font-size="6.65" text-anchor="end" fill="#111" stroke="#111" stroke-width="0.14">Neuroactive ligand−receptor interaction</text>
<line x1="592.4" y1="63.7" x2="594.2" y2="63.7" stroke="#444" stroke-width="0.5"/>
<circle cx="611.1" cy="63.7" r="2.4" fill="#ea2a2e"/>
<text x="592" y="74.05" font-size="6.65" text-anchor="end" fill="#111" stroke="#111" stroke-width="0.14">Retrograde endocannabinoid signaling</text>
<line x1="592.4" y1="72.2" x2="594.2" y2="72.2" stroke="#444" stroke-width="0.5"/>
<circle cx="601.9" cy="72.2" r="1.55" fill="#ea2a2e"/>
<text x="592" y="82.55" font-size="6.65" text-anchor="end" fill="#111" stroke="#111" stroke-width="0.14">Insulin secretion</text>
<line x1="592.4" y1="80.7" x2="594.2" y2="80.7" stroke="#444" stroke-width="0.5"/>
<circle cx="601.2" cy="80.7" r="1.2" fill="#ea2a2e"/>
<text x="592" y="91.05" font-size="6.65" text-anchor="end" fill="#111" stroke="#111" stroke-width="0.14">Amphetamine addiction</text>
<line x1="592.4" y1="89.2" x2="594.2" y2="89.2" stroke="#444" stroke-width="0.5"/>
<circle cx="596.8" cy="89.2" r="0.8" fill="#4459b3"/>
<line x1="600.5" y1="95.2" x2="600.5" y2="97" stroke="#444" stroke-width="0.5"/>
<text x="600.5" y="102.3" font-size="6.6" text-anchor="middle" fill="#222" stroke="#222" stroke-width="0.14">10</text>
<line x1="614" y1="95.2" x2="614" y2="97" stroke="#444" stroke-width="0.5"/>
<text x="614" y="102.3" font-size="6.6" text-anchor="middle" fill="#222" stroke="#222" stroke-width="0.14">12.5</text>
<line x1="627.5" y1="95.2" x2="627.5" y2="97" stroke="#444" stroke-width="0.5"/>
<text x="627.5" y="102.3" font-size="6.6" text-anchor="middle" fill="#222" stroke="#222" stroke-width="0.14">15</text>
<line x1="641" y1="95.2" x2="641" y2="97" stroke="#444" stroke-width="0.5"/>
<text x="641" y="102.3" font-size="6.6" text-anchor="middle" fill="#222" stroke="#222" stroke-width="0.14">17.5</text>
<text x="621.7" y="108.6" font-size="6.67" text-anchor="middle" fill="#222" stroke="#222" stroke-width="0.14">EnrichmentScore</text>
<text x="655.6" y="13.6" font-size="6.69" fill="#222" stroke="#222" stroke-width="0.14">Count</text>
<rect x="656" y="17.8" width="8.4" height="34.7" fill="#ebebeb"/>
<circle cx="660.2" cy="21.8" r="1.8" fill="#111"/>
<text x="665.6" y="24.1" font-size="6.6" fill="#222" stroke="#222" stroke-width="0.14">30</text>
<circle cx="660.2" cy="30.2" r="2.3" fill="#111"/>
<text x="665.6" y="32.5" font-size="6.6" fill="#222" stroke="#222" stroke-width="0.14">40</text>
<circle cx="660.2" cy="39" r="2.7" fill="#111"/>
<text x="665.6" y="41.3" font-size="6.6" fill="#222" stroke="#222" stroke-width="0.14">50</text>
<circle cx="660.2" cy="48" r="3.05" fill="#111"/>
<text x="665.6" y="50.3" font-size="6.6" fill="#222" stroke="#222" stroke-width="0.14">60</text>
<text x="655.4" y="61.2" font-size="6.6" fill="#222" stroke="#222" stroke-width="0.14">pvalue</text>
<defs><linearGradient id="g1" x1="0" y1="0" x2="0" y2="1"><stop offset="0" stop-color="#3f55b8"/><stop offset="0.3" stop-color="#7a3fb2"/><stop offset="0.6" stop-color="#c42c86"/><stop offset="1" stop-color="#f2282c"/></linearGradient></defs><rect x="656.3" y="67.1" width="7.8" height="39.9" fill="url(#g1)"/>
<line x1="656.3" y1="72.5" x2="657.7" y2="72.5" stroke="#fff" stroke-width="0.5"/>
<line x1="662.7" y1="72.5" x2="664.1" y2="72.5" stroke="#fff" stroke-width="0.5"/>
<text x="665.1" y="74.8" font-size="6.6" fill="#222" stroke="#222" stroke-width="0.14">5e−10</text>
<line x1="656.3" y1="79.9" x2="657.7" y2="79.9" stroke="#fff" stroke-width="0.5"/>
<line x1="662.7" y1="79.9" x2="664.1" y2="79.9" stroke="#fff" stroke-width="0.5"/>
<text x="665.1" y="82.2" font-size="6.6" fill="#222" stroke="#222" stroke-width="0.14">4e−10</text>
<line x1="656.3" y1="87.2" x2="657.7" y2="87.2" stroke="#fff" stroke-width="0.5"/>
<line x1="662.7" y1="87.2" x2="664.1" y2="87.2" stroke="#fff" stroke-width="0.5"/>
<text x="665.1" y="89.5" font-size="6.6" fill="#222" stroke="#222" stroke-width="0.14">3e−10</text>
<line x1="656.3" y1="94.2" x2="657.7" y2="94.2" stroke="#fff" stroke-width="0.5"/>
<line x1="662.7" y1="94.2" x2="664.1" y2="94.2" stroke="#fff" stroke-width="0.5"/>
<text x="665.1" y="96.5" font-size="6.6" fill="#222" stroke="#222" stroke-width="0.14">2e−10</text>
<line x1="656.3" y1="101.2" x2="657.7" y2="101.2" stroke="#fff" stroke-width="0.5"/>
<line x1="662.7" y1="101.2" x2="664.1" y2="101.2" stroke="#fff" stroke-width="0.5"/>
<text x="665.1" y="103.5" font-size="6.6" fill="#222" stroke="#222" stroke-width="0.14">1e−10</text>
<text x="593.9" y="117.7" font-size="6.66" font-weight="bold" stroke="#000" stroke-width="0.06">Molecular Function</text>
<rect x="594.4" y="119.5" width="54.8" height="100" fill="#fff" stroke="#444" stroke-width="0.7"/>
<text x="592" y="126.55" font-size="6.65" text-anchor="end" fill="#111" stroke="#111" stroke-width="0.14">gated channel activity</text>
<line x1="592.4" y1="124.7" x2="594.4" y2="124.7" stroke="#444" stroke-width="0.5"/>
<circle cx="645.2" cy="124.7" r="2.2" fill="#ea2a2e"/>
<text x="592" y="136.53" font-size="6.65" text-anchor="end" fill="#111" stroke="#111" stroke-width="0.14">channel activity</text>
<line x1="592.4" y1="134.68" x2="594.4" y2="134.68" stroke="#444" stroke-width="0.5"/>
<circle cx="623.5" cy="134.68" r="2.6" fill="#ea2a2e"/>
<text x="592" y="146.51" font-size="6.65" text-anchor="end" fill="#e8262c" stroke="#e8262c" stroke-width="0.14">passive transmembrane transporter activity</text>
<line x1="592.4" y1="144.66" x2="594.4" y2="144.66" stroke="#444" stroke-width="0.5"/>
<circle cx="622.7" cy="144.66" r="2.6" fill="#ea2a2e"/>
<text x="592" y="156.49" font-size="6.65" text-anchor="end" fill="#111" stroke="#111" stroke-width="0.14">ion channel activity</text>
<line x1="592.4" y1="154.64" x2="594.4" y2="154.64" stroke="#444" stroke-width="0.5"/>
<circle cx="622.5" cy="154.64" r="2.6" fill="#ea2a2e"/>
<text x="592" y="166.47" font-size="6.65" text-anchor="end" fill="#e8262c" stroke="#e8262c" stroke-width="0.14">metal ion transmembrane transporter activity</text>
<line x1="592.4" y1="164.62" x2="594.4" y2="164.62" stroke="#444" stroke-width="0.5"/>
<circle cx="620.1" cy="164.62" r="2.4" fill="#ea2a2e"/>
<text x="592" y="176.45" font-size="6.65" text-anchor="end" fill="#111" stroke="#111" stroke-width="0.14">neurotransmitter receptor activity</text>
<line x1="592.4" y1="174.6" x2="594.4" y2="174.6" stroke="#444" stroke-width="0.5"/>
<circle cx="607.7" cy="174.6" r="1.6" fill="#ea2a2e"/>
<text x="592" y="186.43" font-size="6.65" text-anchor="end" fill="#111" stroke="#111" stroke-width="0.14">cation channel activity</text>
<line x1="592.4" y1="184.58" x2="594.4" y2="184.58" stroke="#444" stroke-width="0.5"/>
<circle cx="598.8" cy="184.58" r="2.4" fill="#8a40b0"/>
<text x="592" y="193.26" font-size="6.65" text-anchor="end" fill="#e8262c" stroke="#e8262c" stroke-width="0.14">neurotransmitter receptor activity involved in</text>
<text x="592" y="197.96" font-size="6.65" text-anchor="end" fill="#e8262c" stroke="#e8262c" stroke-width="0.14">regulation of postsynaptic membrane potential</text>
<line x1="592.4" y1="194.56" x2="594.4" y2="194.56" stroke="#444" stroke-width="0.5"/>
<circle cx="598.8" cy="194.56" r="0.9" fill="#8a40b0"/>
<text x="592" y="206.39" font-size="6.65" text-anchor="end" fill="#111" stroke="#111" stroke-width="0.14">transmitter−gated ion channel activity</text>
<line x1="592.4" y1="204.54" x2="594.4" y2="204.54" stroke="#444" stroke-width="0.5"/>
<circle cx="597.6" cy="204.54" r="1.2" fill="#4459b3"/>
<text x="592" y="216.37" font-size="6.65" text-anchor="end" fill="#111" stroke="#111" stroke-width="0.14">transmitter−gated channel activity</text>
<line x1="592.4" y1="214.52" x2="594.4" y2="214.52" stroke="#444" stroke-width="0.5"/>
<circle cx="597.6" cy="214.52" r="1.2" fill="#4459b3"/>
<line x1="607.7" y1="219.5" x2="607.7" y2="221.3" stroke="#444" stroke-width="0.5"/>
<text x="607.7" y="224.8" font-size="6.6" text-anchor="middle" fill="#222" stroke="#222" stroke-width="0.14">14</text>
<line x1="623.1" y1="219.5" x2="623.1" y2="221.3" stroke="#444" stroke-width="0.5"/>
<text x="623.1" y="224.8" font-size="6.6" text-anchor="middle" fill="#222" stroke="#222" stroke-width="0.14">16</text>
<line x1="638.2" y1="219.5" x2="638.2" y2="221.3" stroke="#444" stroke-width="0.5"/>
<text x="638.2" y="224.8" font-size="6.6" text-anchor="middle" fill="#222" stroke="#222" stroke-width="0.14">18</text>
<text x="621.8" y="231.6" font-size="6.67" text-anchor="middle" fill="#222" stroke="#222" stroke-width="0.14">EnrichmentScore</text>
<text x="655.6" y="133" font-size="6.69" fill="#222" stroke="#222" stroke-width="0.14">Count</text>
<rect x="655.6" y="135.1" width="8.4" height="23.4" fill="#ebebeb"/>
<circle cx="659.8" cy="139.1" r="1.9" fill="#111"/>
<text x="665.2" y="141.4" font-size="6.6" fill="#222" stroke="#222" stroke-width="0.14">40</text>
<circle cx="659.8" cy="146.5" r="2.5" fill="#111"/>
<text x="665.2" y="148.8" font-size="6.6" fill="#222" stroke="#222" stroke-width="0.14">60</text>
<circle cx="659.8" cy="154" r="3" fill="#111"/>
<text x="665.2" y="156.3" font-size="6.6" fill="#222" stroke="#222" stroke-width="0.14">80</text>
<text x="655.4" y="166.3" font-size="6.6" fill="#222" stroke="#222" stroke-width="0.14">pvalue</text>
<defs><linearGradient id="g2" x1="0" y1="0" x2="0" y2="1"><stop offset="0" stop-color="#3f55b8"/><stop offset="0.3" stop-color="#7a3fb2"/><stop offset="0.6" stop-color="#c42c86"/><stop offset="1" stop-color="#f2282c"/></linearGradient></defs><rect x="656" y="172.3" width="7.8" height="41.2" fill="url(#g2)"/>
<line x1="656" y1="174.7" x2="657.4" y2="174.7" stroke="#fff" stroke-width="0.5"/>
<line x1="662.4" y1="174.7" x2="663.8" y2="174.7" stroke="#fff" stroke-width="0.5"/>
<text x="664.8" y="177" font-size="6.6" fill="#222" stroke="#222" stroke-width="0.14">2e−13</text>
<line x1="656" y1="184" x2="657.4" y2="184" stroke="#fff" stroke-width="0.5"/>
<line x1="662.4" y1="184" x2="663.8" y2="184" stroke="#fff" stroke-width="0.5"/>
<text x="664.8" y="186.3" font-size="6.6" fill="#222" stroke="#222" stroke-width="0.14">1e−13</text>
<line x1="656" y1="193.5" x2="657.4" y2="193.5" stroke="#fff" stroke-width="0.5"/>
<line x1="662.4" y1="193.5" x2="663.8" y2="193.5" stroke="#fff" stroke-width="0.5"/>
<text x="664.8" y="195.8" font-size="6.6" fill="#222" stroke="#222" stroke-width="0.14">8e−14</text>
<line x1="656" y1="203" x2="657.4" y2="203" stroke="#fff" stroke-width="0.5"/>
<line x1="662.4" y1="203" x2="663.8" y2="203" stroke="#fff" stroke-width="0.5"/>
<text x="664.8" y="205.3" font-size="6.6" fill="#222" stroke="#222" stroke-width="0.14">4e−14</text>
<text x="593.8" y="241.2" font-size="6.66" font-weight="bold" stroke="#000" stroke-width="0.06">Biological Process</text>
<rect x="594.3" y="243" width="55.2" height="116.2" fill="#fff" stroke="#444" stroke-width="0.7"/>
<text x="592" y="251.95" font-size="6.65" text-anchor="end" fill="#111" stroke="#111" stroke-width="0.14">modulation of chemical synaptic transmission</text>
<line x1="592.4" y1="250.1" x2="594.3" y2="250.1" stroke="#444" stroke-width="0.5"/>
<circle cx="644.7" cy="250.1" r="2.9" fill="#ea2a2e"/>
<text x="592" y="263.15" font-size="6.65" text-anchor="end" fill="#111" stroke="#111" stroke-width="0.14">regulation of trans-synaptic signaling</text>
<line x1="592.4" y1="261.3" x2="594.3" y2="261.3" stroke="#444" stroke-width="0.5"/>
<circle cx="644.5" cy="261.3" r="2.9" fill="#ea2a2e"/>
<text x="592" y="274.35" font-size="6.65" text-anchor="end" fill="#111" stroke="#111" stroke-width="0.14">synapse organization</text>
<line x1="592.4" y1="272.5" x2="594.3" y2="272.5" stroke="#444" stroke-width="0.5"/>
<circle cx="635.4" cy="272.5" r="2.6" fill="#ea2a2e"/>
<text x="592" y="285.55" font-size="6.65" text-anchor="end" fill="#e8262c" stroke="#e8262c" stroke-width="0.14">regulation of synaptic plasticity</text>
<line x1="592.4" y1="283.7" x2="594.3" y2="283.7" stroke="#444" stroke-width="0.5"/>
<circle cx="609.5" cy="283.7" r="1.2" fill="#ea2a2e"/>
<text x="592" y="296.75" font-size="6.65" text-anchor="end" fill="#e8262c" stroke="#e8262c" stroke-width="0.14">regulation of membrane potential</text>
<line x1="592.4" y1="294.9" x2="594.3" y2="294.9" stroke="#444" stroke-width="0.5"/>
<circle cx="609.5" cy="294.9" r="2.5" fill="#ea2a2e"/>
<text x="592" y="307.95" font-size="6.65" text-anchor="end" fill="#111" stroke="#111" stroke-width="0.14">regulation of synapse structure or activity</text>
<line x1="592.4" y1="306.1" x2="594.3" y2="306.1" stroke="#444" stroke-width="0.5"/>
<circle cx="600.8" cy="306.1" r="1.4" fill="#ea2a2e"/>
<text x="592" y="319.15" font-size="6.65" text-anchor="end" fill="#111" stroke="#111" stroke-width="0.14">regulation of synapse organization</text>
<line x1="592.4" y1="317.3" x2="594.3" y2="317.3" stroke="#444" stroke-width="0.5"/>
<circle cx="599.3" cy="317.3" r="1.3" fill="#ea2a2e"/>
<text x="592" y="330.35" font-size="6.65" text-anchor="end" fill="#111" stroke="#111" stroke-width="0.14">regulation of neurotransmitter levels</text>
<line x1="592.4" y1="328.5" x2="594.3" y2="328.5" stroke="#444" stroke-width="0.5"/>
<circle cx="598" cy="328.5" r="1.2" fill="#ea2a2e"/>
<text x="592" y="341.55" font-size="6.65" text-anchor="end" fill="#111" stroke="#111" stroke-width="0.14">neurotransmitter transport</text>
<line x1="592.4" y1="339.7" x2="594.3" y2="339.7" stroke="#444" stroke-width="0.5"/>
<circle cx="598" cy="339.7" r="1" fill="#ea2a2e"/>
<text x="592" y="352.75" font-size="6.65" text-anchor="end" fill="#e8262c" stroke="#e8262c" stroke-width="0.14">cognition</text>
<line x1="592.4" y1="350.9" x2="594.3" y2="350.9" stroke="#444" stroke-width="0.5"/>
<circle cx="596.9" cy="350.9" r="1.8" fill="#4459b3"/>
<line x1="595.4" y1="359.2" x2="595.4" y2="361" stroke="#444" stroke-width="0.5"/>
<text x="595.4" y="365" font-size="6.6" text-anchor="middle" fill="#222" stroke="#222" stroke-width="0.14">25</text>
<line x1="604.3" y1="359.2" x2="604.3" y2="361" stroke="#444" stroke-width="0.5"/>
<text x="604.3" y="365" font-size="6.6" text-anchor="middle" fill="#222" stroke="#222" stroke-width="0.14">30</text>
<line x1="613.2" y1="359.2" x2="613.2" y2="361" stroke="#444" stroke-width="0.5"/>
<text x="613.2" y="365" font-size="6.6" text-anchor="middle" fill="#222" stroke="#222" stroke-width="0.14">35</text>
<line x1="622.1" y1="359.2" x2="622.1" y2="361" stroke="#444" stroke-width="0.5"/>
<text x="622.1" y="365" font-size="6.6" text-anchor="middle" fill="#222" stroke="#222" stroke-width="0.14">40</text>
<line x1="631" y1="359.2" x2="631" y2="361" stroke="#444" stroke-width="0.5"/>
<text x="631" y="365" font-size="6.6" text-anchor="middle" fill="#222" stroke="#222" stroke-width="0.14">45</text>
<line x1="639.9" y1="359.2" x2="639.9" y2="361" stroke="#444" stroke-width="0.5"/>
<text x="639.9" y="365" font-size="6.6" text-anchor="middle" fill="#222" stroke="#222" stroke-width="0.14">50</text>
<text x="620.8" y="372.2" font-size="6.67" text-anchor="middle" fill="#222" stroke="#222" stroke-width="0.14">EnrichmentScore</text>
<text x="655.6" y="254.9" font-size="6.69" fill="#222" stroke="#222" stroke-width="0.14">Count</text>
<rect x="656.4" y="258.5" width="8.4" height="33.2" fill="#ebebeb"/>
<circle cx="660.6" cy="262.5" r="1.5" fill="#111"/>
<text x="666" y="264.8" font-size="6.6" fill="#222" stroke="#222" stroke-width="0.14">80</text>
<circle cx="660.6" cy="270.7" r="2.1" fill="#111"/>
<text x="666" y="273" font-size="6.6" fill="#222" stroke="#222" stroke-width="0.14">100</text>
<circle cx="660.6" cy="278.7" r="2.6" fill="#111"/>
<text x="666" y="281" font-size="6.6" fill="#222" stroke="#222" stroke-width="0.14">120</text>
<circle cx="660.6" cy="287.2" r="3.05" fill="#111"/>
<text x="666" y="289.5" font-size="6.6" fill="#222" stroke="#222" stroke-width="0.14">140</text>
<text x="655.4" y="302" font-size="6.6" fill="#222" stroke="#222" stroke-width="0.14">pvalue</text>
<defs><linearGradient id="g3" x1="0" y1="0" x2="0" y2="1"><stop offset="0" stop-color="#3f55b8"/><stop offset="0.3" stop-color="#7a3fb2"/><stop offset="0.6" stop-color="#c42c86"/><stop offset="1" stop-color="#f2282c"/></linearGradient></defs><rect x="656.3" y="305.7" width="7.8" height="46.6" fill="url(#g3)"/>
<line x1="656.3" y1="309" x2="657.7" y2="309" stroke="#fff" stroke-width="0.5"/>
<line x1="662.7" y1="309" x2="664.1" y2="309" stroke="#fff" stroke-width="0.5"/>
<text x="665.1" y="311.3" font-size="6.6" fill="#222" stroke="#222" stroke-width="0.14">1e−25</text>
<line x1="656.3" y1="318.7" x2="657.7" y2="318.7" stroke="#fff" stroke-width="0.5"/>
<line x1="662.7" y1="318.7" x2="664.1" y2="318.7" stroke="#fff" stroke-width="0.5"/>
<text x="665.1" y="321" font-size="6.6" fill="#222" stroke="#222" stroke-width="0.14">7e−26</text>
<line x1="656.3" y1="328.4" x2="657.7" y2="328.4" stroke="#fff" stroke-width="0.5"/>
<line x1="662.7" y1="328.4" x2="664.1" y2="328.4" stroke="#fff" stroke-width="0.5"/>
<text x="665.1" y="330.7" font-size="6.6" fill="#222" stroke="#222" stroke-width="0.14">5e−26</text>
<line x1="656.3" y1="338.4" x2="657.7" y2="338.4" stroke="#fff" stroke-width="0.5"/>
<line x1="662.7" y1="338.4" x2="664.1" y2="338.4" stroke="#fff" stroke-width="0.5"/>
<text x="665.1" y="340.7" font-size="6.6" fill="#222" stroke="#222" stroke-width="0.14">2e−26</text>
<line x1="656.3" y1="349.4" x2="657.7" y2="349.4" stroke="#fff" stroke-width="0.5"/>
<line x1="662.7" y1="349.4" x2="664.1" y2="349.4" stroke="#fff" stroke-width="0.5"/>
<text x="665.1" y="351.7" font-size="6.6" fill="#222" stroke="#222" stroke-width="0.14">1e−53</text>
<text x="593.7" y="380.7" font-size="6.66" font-weight="bold" stroke="#000" stroke-width="0.06">Cellular Component</text>
<rect x="594.2" y="382.5" width="55.6" height="119.1" fill="#fff" stroke="#444" stroke-width="0.7"/>
<text x="592" y="390.85" font-size="6.65" text-anchor="end" fill="#e8262c" stroke="#e8262c" stroke-width="0.14">synaptic membrane</text>
<line x1="592.4" y1="389" x2="594.2" y2="389" stroke="#444" stroke-width="0.5"/>
<circle cx="645.6" cy="389" r="3" fill="#ea2a2e"/>
<text x="592" y="402.68" font-size="6.65" text-anchor="end" fill="#e8262c" stroke="#e8262c" stroke-width="0.14">postsynaptic membrane</text>
<line x1="592.4" y1="400.83" x2="594.2" y2="400.83" stroke="#444" stroke-width="0.5"/>
<circle cx="632" cy="400.83" r="2.6" fill="#ea2a2e"/>
<text x="592" y="414.51" font-size="6.65" text-anchor="end" fill="#e8262c" stroke="#e8262c" stroke-width="0.14">glutamatergic synapse</text>
<line x1="592.4" y1="412.66" x2="594.2" y2="412.66" stroke="#444" stroke-width="0.5"/>
<circle cx="629.4" cy="412.66" r="2.8" fill="#ea2a2e"/>
<text x="592" y="426.34" font-size="6.65" text-anchor="end" fill="#111" stroke="#111" stroke-width="0.14">neuron to neuron synapse</text>
<line x1="592.4" y1="424.49" x2="594.2" y2="424.49" stroke="#444" stroke-width="0.5"/>
<circle cx="611.3" cy="424.49" r="2.6" fill="#ea2a2e"/>
<text x="592" y="438.17" font-size="6.65" text-anchor="end" fill="#111" stroke="#111" stroke-width="0.14">asymmetric synapse</text>
<line x1="592.4" y1="436.32" x2="594.2" y2="436.32" stroke="#444" stroke-width="0.5"/>
<circle cx="605.8" cy="436.32" r="2.4" fill="#ea2a2e"/>
<text x="592" y="450" font-size="6.65" text-anchor="end" fill="#111" stroke="#111" stroke-width="0.14">postsynaptic specialization</text>
<line x1="592.4" y1="448.15" x2="594.2" y2="448.15" stroke="#444" stroke-width="0.5"/>
<circle cx="604.4" cy="448.15" r="2.4" fill="#ea2a2e"/>
<text x="592" y="461.83" font-size="6.65" text-anchor="end" fill="#111" stroke="#111" stroke-width="0.14">postsynaptic density</text>
<line x1="592.4" y1="459.98" x2="594.2" y2="459.98" stroke="#444" stroke-width="0.5"/>
<circle cx="601.1" cy="459.98" r="2.3" fill="#ea2a2e"/>
<text x="592" y="473.66" font-size="6.65" text-anchor="end" fill="#111" stroke="#111" stroke-width="0.14">intrinsic component of synaptic membrane</text>
<line x1="592.4" y1="471.81" x2="594.2" y2="471.81" stroke="#444" stroke-width="0.5"/>
<circle cx="599.3" cy="471.81" r="1.7" fill="#ea2a2e"/>
<text x="592" y="485.49" font-size="6.65" text-anchor="end" fill="#111" stroke="#111" stroke-width="0.14">integral component of synaptic membrane</text>
<line x1="592.4" y1="483.64" x2="594.2" y2="483.64" stroke="#444" stroke-width="0.5"/>
<circle cx="598.3" cy="483.64" r="1.6" fill="#ea2a2e"/>
<text x="592" y="497.32" font-size="6.65" text-anchor="end" fill="#111" stroke="#111" stroke-width="0.14">intrinsic component of postsynaptic membrane</text>
<line x1="592.4" y1="495.47" x2="594.2" y2="495.47" stroke="#444" stroke-width="0.5"/>
<circle cx="596.3" cy="495.47" r="0.9" fill="#4459b3"/>
<line x1="597.5" y1="501.6" x2="597.5" y2="503.4" stroke="#444" stroke-width="0.5"/>
<text x="597.5" y="508.7" font-size="6.6" text-anchor="middle" fill="#222" stroke="#222" stroke-width="0.14">30</text>
<line x1="615.2" y1="501.6" x2="615.2" y2="503.4" stroke="#444" stroke-width="0.5"/>
<text x="615.2" y="508.7" font-size="6.6" text-anchor="middle" fill="#222" stroke="#222" stroke-width="0.14">40</text>
<line x1="632.9" y1="501.6" x2="632.9" y2="503.4" stroke="#444" stroke-width="0.5"/>
<text x="632.9" y="508.7" font-size="6.6" text-anchor="middle" fill="#222" stroke="#222" stroke-width="0.14">50</text>
<text x="620.7" y="515.6" font-size="6.67" text-anchor="middle" fill="#222" stroke="#222" stroke-width="0.14">EnrichmentScore</text>
<text x="655.6" y="397" font-size="6.69" fill="#222" stroke="#222" stroke-width="0.14">Count</text>
<rect x="655.3" y="400" width="8.4" height="33.1" fill="#ebebeb"/>
<circle cx="659.5" cy="404" r="1.5" fill="#111"/>
<text x="664.9" y="406.3" font-size="6.6" fill="#222" stroke="#222" stroke-width="0.14">60</text>
<circle cx="659.5" cy="412.3" r="2.1" fill="#111"/>
<text x="664.9" y="414.6" font-size="6.6" fill="#222" stroke="#222" stroke-width="0.14">80</text>
<circle cx="659.5" cy="420.5" r="2.6" fill="#111"/>
<text x="664.9" y="422.8" font-size="6.6" fill="#222" stroke="#222" stroke-width="0.14">100</text>
<circle cx="659.5" cy="428.6" r="3.05" fill="#111"/>
<text x="664.9" y="430.9" font-size="6.6" fill="#222" stroke="#222" stroke-width="0.14">120</text>
<text x="655.4" y="440.6" font-size="6.6" fill="#222" stroke="#222" stroke-width="0.14">pvalue</text>
<defs><linearGradient id="g4" x1="0" y1="0" x2="0" y2="1"><stop offset="0" stop-color="#3f55b8"/><stop offset="0.3" stop-color="#7a3fb2"/><stop offset="0.6" stop-color="#c42c86"/><stop offset="1" stop-color="#f2282c"/></linearGradient></defs><rect x="656" y="444.6" width="7.8" height="47.9" fill="url(#g4)"/>
<line x1="656" y1="448.5" x2="657.4" y2="448.5" stroke="#fff" stroke-width="0.5"/>
<line x1="662.4" y1="448.5" x2="663.8" y2="448.5" stroke="#fff" stroke-width="0.5"/>
<text x="664.8" y="450.8" font-size="6.6" fill="#222" stroke="#222" stroke-width="0.14">1e−30</text>
<line x1="656" y1="458" x2="657.4" y2="458" stroke="#fff" stroke-width="0.5"/>
<line x1="662.4" y1="458" x2="663.8" y2="458" stroke="#fff" stroke-width="0.5"/>
<text x="664.8" y="460.3" font-size="6.6" fill="#222" stroke="#222" stroke-width="0.14">9e−31</text>
<line x1="656" y1="468.4" x2="657.4" y2="468.4" stroke="#fff" stroke-width="0.5"/>
<line x1="662.4" y1="468.4" x2="663.8" y2="468.4" stroke="#fff" stroke-width="0.5"/>
<text x="664.8" y="470.7" font-size="6.6" fill="#222" stroke="#222" stroke-width="0.14">6e−31</text>
<line x1="656" y1="478.8" x2="657.4" y2="478.8" stroke="#fff" stroke-width="0.5"/>
<line x1="662.4" y1="478.8" x2="663.8" y2="478.8" stroke="#fff" stroke-width="0.5"/>
<text x="664.8" y="481.1" font-size="6.6" fill="#222" stroke="#222" stroke-width="0.14">3e−31</text>
<line x1="656" y1="489.3" x2="657.4" y2="489.3" stroke="#fff" stroke-width="0.5"/>
<line x1="662.4" y1="489.3" x2="663.8" y2="489.3" stroke="#fff" stroke-width="0.5"/>
<text x="664.8" y="491.6" font-size="6.6" fill="#222" stroke="#222" stroke-width="0.14">1e−57</text>
<text x="2.2" y="439.6" font-size="15" font-weight="bold" stroke="#000" stroke-width="0.45">e</text>
<text x="107" y="444.7" font-size="6.72" text-anchor="middle" font-weight="bold" stroke="#000" stroke-width="0.06">KMeans clustering plot with GSE75206</text>
<defs><clipPath id="eclip"><rect x="18.5" y="447.7" width="178.3" height="177.9"/></clipPath></defs>
<g clip-path="url(#eclip)">
<rect x="32.7" y="465" width="8.2" height="8.2" fill="#cfca86"/>
<rect x="81.7" y="492" width="8.2" height="8.2" fill="#cfca86"/>
<rect x="61.4" y="500" width="8.2" height="8.2" fill="#cfca86"/>
<circle cx="59.3" cy="538.8" r="4" fill="#c0607a"/>
<circle cx="54.9" cy="545.4" r="4" fill="#c0607a"/>
<circle cx="79.9" cy="551.4" r="4" fill="#c0607a"/>
<circle cx="128.5" cy="544.9" r="4" fill="#c0607a"/>
<circle cx="147.7" cy="544.4" r="4" fill="#c0607a"/>
<circle cx="110.4" cy="552.8" r="4" fill="#c0607a"/>
<circle cx="111" cy="557.2" r="4" fill="#c0607a"/>
<circle cx="144.8" cy="551.9" r="4" fill="#c0607a"/>
<circle cx="133.2" cy="556.3" r="4" fill="#c0607a"/>
<circle cx="133.7" cy="560.7" r="4" fill="#c0607a"/>
<circle cx="122.3" cy="564.7" r="4" fill="#c0607a"/>
<circle cx="140.7" cy="565.9" r="4" fill="#c0607a"/>
<circle cx="104.8" cy="567.7" r="4" fill="#c0607a"/>
<circle cx="103.9" cy="571.2" r="4" fill="#c0607a"/>
<circle cx="112.7" cy="572.9" r="4" fill="#c0607a"/>
<circle cx="121.5" cy="578.2" r="4" fill="#c0607a"/>
<circle cx="112.7" cy="585.2" r="4" fill="#c0607a"/>
<circle cx="142.6" cy="512.9" r="4" fill="#c0607a"/>
<circle cx="187.5" cy="506.6" r="4" fill="#c0607a"/>
<path d="M68 545.09L72.8 553.44L63.2 553.44Z" fill="#54969c"/>
<path d="M73.3 549.49L78.1 557.84L68.5 557.84Z" fill="#54969c"/>
<path d="M65.4 559.99L70.2 568.34L60.6 568.34Z" fill="#54969c"/>
<path d="M71.5 566.99L76.3 575.34L66.7 575.34Z" fill="#54969c"/>
<path d="M61 566.99L65.8 575.34L56.2 575.34Z" fill="#54969c"/>
<path d="M64.5 571.39L69.3 579.74L59.7 579.74Z" fill="#54969c"/>
<path d="M48.8 571.39L53.6 579.74L44 579.74Z" fill="#54969c"/>
<path d="M55.8 577.59L60.6 585.94L51 585.94Z" fill="#54969c"/>
<path d="M50.5 580.99L55.3 589.34L45.7 589.34Z" fill="#54969c"/>
<path d="M73.3 577.59L78.1 585.94L68.5 585.94Z" fill="#54969c"/>
<path d="M80.3 573.99L85.1 582.34L75.5 582.34Z" fill="#54969c"/>
<path d="M69.8 582.79L74.6 591.14L65 591.14Z" fill="#54969c"/>
<path d="M75 586.29L79.8 594.64L70.2 594.64Z" fill="#54969c"/>
<path d="M66.3 587.99L71.1 596.34L61.5 596.34Z" fill="#54969c"/>
<path d="M55.8 586.29L60.6 594.64L51 594.64Z" fill="#54969c"/>
<path d="M83.8 580.99L88.6 589.34L79 589.34Z" fill="#54969c"/>
<path d="M89 577.59L93.8 585.94L84.2 585.94Z" fill="#54969c"/>
<path d="M92.6 582.79L97.4 591.14L87.8 591.14Z" fill="#54969c"/>
<path d="M96 563.49L100.8 571.84L91.2 571.84Z" fill="#54969c"/>
<path d="M99.6 568.79L104.4 577.14L94.8 577.14Z" fill="#54969c"/>
<path d="M92.6 570.49L97.4 578.84L87.8 578.84Z" fill="#54969c"/>
<path d="M85.5 586.29L90.3 594.64L80.7 594.64Z" fill="#54969c"/>
<path d="M97.8 586.29L102.6 594.64L93 594.64Z" fill="#54969c"/>
<path d="M106.6 580.99L111.4 589.34L101.8 589.34Z" fill="#54969c"/>
<path d="M103 577.59L107.8 585.94L98.2 585.94Z" fill="#54969c"/>
<path d="M110 584.59L114.8 592.94L105.2 592.94Z" fill="#54969c"/>
<path d="M94.3 575.79L99.1 584.14L89.5 584.14Z" fill="#54969c"/>
<path d="M87.3 591.59L92.1 599.94L82.5 599.94Z" fill="#54969c"/>
<path d="M101.3 590.69L106.1 599.04L96.5 599.04Z" fill="#54969c"/>
<path d="M71.5 596.79L76.3 605.14L66.7 605.14Z" fill="#54969c"/>
<path d="M73.3 602.09L78.1 610.44L68.5 610.44Z" fill="#54969c"/>
<path d="M80.3 600.29L85.1 608.64L75.5 608.64Z" fill="#54969c"/>
<path d="M83.8 598.59L88.6 606.94L79 606.94Z" fill="#54969c"/>
<path d="M90.8 600.29L95.6 608.64L86 608.64Z" fill="#54969c"/>
<path d="M69.8 591.59L74.6 599.94L65 599.94Z" fill="#54969c"/>
<path d="M80.3 593.29L85.1 601.64L75.5 601.64Z" fill="#54969c"/>
<path d="M62.8 580.99L67.6 589.34L58 589.34Z" fill="#54969c"/>
<path d="M88 583.99L92.8 592.34L83.2 592.34Z" fill="#54969c"/>
<path d="M95 579.99L99.8 588.34L90.2 588.34Z" fill="#54969c"/>
<path d="M78 580.99L82.8 589.34L73.2 589.34Z" fill="#54969c"/>
<path d="M104 584.99L108.8 593.34L99.2 593.34Z" fill="#54969c"/>
<path d="M85 574.99L89.8 583.34L80.2 583.34Z" fill="#54969c"/>
<path d="M90 588.99L94.8 597.34L85.2 597.34Z" fill="#54969c"/>
<path d="M96 590.99L100.8 599.34L91.2 599.34Z" fill="#54969c"/>
<path d="M100 580.99L104.8 589.34L95.2 589.34Z" fill="#54969c"/>
<path d="M86 578.99L90.8 587.34L81.2 587.34Z" fill="#54969c"/>
<path d="M78 587.99L82.8 596.34L73.2 596.34Z" fill="#54969c"/>
<path d="M92 595.99L96.8 604.34L87.2 604.34Z" fill="#54969c"/>
<path d="M76 597.99L80.8 606.34L71.2 606.34Z" fill="#54969c"/>
<path d="M84 602.99L88.8 611.34L79.2 611.34Z" fill="#54969c"/>
<path d="M32.6 559.39L37.4 567.74L27.8 567.74Z" fill="#54969c"/>
<path d="M27.3 611.99L32.1 620.34L22.5 620.34Z" fill="#54969c"/>
<ellipse cx="119.2" cy="556" rx="71.9" ry="38.7" transform="rotate(-19.6 119.2 556)" fill="#b2566f" fill-opacity="0.35" stroke="#444" stroke-width="0.6" stroke-dasharray="3.5 2"/>
<ellipse cx="83.5" cy="589.4" rx="39.1" ry="25.3" transform="rotate(-13.3 83.5 589.4)" fill="#559ba0" fill-opacity="0.37" stroke="#444" stroke-width="0.6" stroke-dasharray="3.5 2"/>
<ellipse cx="60" cy="485" rx="38.6" ry="26.5" transform="rotate(37.4 60 485)" fill="#c9c984" fill-opacity="0.35" stroke="#444" stroke-width="0.6" stroke-dasharray="3.5 2"/>
</g>
<line x1="96.6" y1="608" x2="121.5" y2="611.1" stroke="#111" stroke-width="0.9"/>
<path d="M125 611.6 L119.6 613.7 L120.4 608.9 Z" fill="#111"/>
<text x="126.4" y="613.9" font-size="6.72" fill="#d6335a" stroke="#d6335a" stroke-width="0.14">Fatty Acid Metabolism</text>
<rect x="18.5" y="447.7" width="178.3" height="177.9" fill="none" stroke="#444" stroke-width="0.8"/>
<line x1="15" y1="451.5" x2="18.5" y2="451.5" stroke="#333" stroke-width="0.7"/>
<text x="13.9" y="453.8" font-size="6.6" text-anchor="end" fill="#222" stroke="#222" stroke-width="0.14">4</text>
<line x1="15" y1="494" x2="18.5" y2="494" stroke="#333" stroke-width="0.7"/>
<text x="13.9" y="496.3" font-size="6.6" text-anchor="end" fill="#222" stroke="#222" stroke-width="0.14">2</text>
<line x1="15" y1="536.5" x2="18.5" y2="536.5" stroke="#333" stroke-width="0.7"/>
<text x="13.9" y="538.8" font-size="6.6" text-anchor="end" fill="#222" stroke="#222" stroke-width="0.14">0</text>
<line x1="15" y1="579" x2="18.5" y2="579" stroke="#333" stroke-width="0.7"/>
<text x="13.9" y="581.3" font-size="6.6" text-anchor="end" fill="#222" stroke="#222" stroke-width="0.14">−2</text>
<line x1="15" y1="621.5" x2="18.5" y2="621.5" stroke="#333" stroke-width="0.7"/>
<text x="13.9" y="623.8" font-size="6.6" text-anchor="end" fill="#222" stroke="#222" stroke-width="0.14">−4</text>
<line x1="22.2" y1="625.6" x2="22.2" y2="628.8" stroke="#333" stroke-width="0.7"/>
<text x="22.2" y="635.6" font-size="6.6" text-anchor="middle" fill="#222" stroke="#222" stroke-width="0.14">−4</text>
<line x1="64.9" y1="625.6" x2="64.9" y2="628.8" stroke="#333" stroke-width="0.7"/>
<text x="64.9" y="635.6" font-size="6.6" text-anchor="middle" fill="#222" stroke="#222" stroke-width="0.14">−2</text>
<line x1="107.6" y1="625.6" x2="107.6" y2="628.8" stroke="#333" stroke-width="0.7"/>
<text x="107.6" y="635.6" font-size="6.6" text-anchor="middle" fill="#222" stroke="#222" stroke-width="0.14">0</text>
<line x1="150.3" y1="625.6" x2="150.3" y2="628.8" stroke="#333" stroke-width="0.7"/>
<text x="150.3" y="635.6" font-size="6.6" text-anchor="middle" fill="#222" stroke="#222" stroke-width="0.14">2</text>
<line x1="193" y1="625.6" x2="193" y2="628.8" stroke="#333" stroke-width="0.7"/>
<text x="193" y="635.6" font-size="6.6" text-anchor="middle" fill="#222" stroke="#222" stroke-width="0.14">4</text>
<text x="107.6" y="643.6" font-size="7.5" text-anchor="middle" fill="#222" stroke="#222" stroke-width="0.14">PC1</text>
<text x="6.4" y="534.6" font-size="7.5" text-anchor="middle" fill="#222" stroke="#222" stroke-width="0.14" transform="rotate(-90 6.4 534.6)" dominant-baseline="central">PC2</text>
<text x="167.7" y="455.3" font-size="8.4" fill="#222" stroke="#222" stroke-width="0.14">Cluster</text>
<circle cx="173.6" cy="465.5" r="4.2" fill="#c0607a"/>
<text x="185" y="468.7" font-size="8.6" fill="#222" stroke="#222" stroke-width="0.14">0</text>
<path d="M173.6 472.28L178.5 480.81L168.7 480.81Z" fill="#54969c"/>
<text x="185" y="479.9" font-size="8.6" fill="#222" stroke="#222" stroke-width="0.14">1</text>
<rect x="169.6" y="483.2" width="8" height="8" fill="#d6d394"/>
<text x="185" y="490.6" font-size="8.6" fill="#222" stroke="#222" stroke-width="0.14">2</text>
<text x="215.2" y="513.3" font-size="14" font-weight="bold" stroke="#000" stroke-width="0.45">f</text>
<defs><clipPath id="bigc"><circle cx="274.8" cy="576.4" r="59"/></clipPath></defs>
<circle cx="274.8" cy="576.4" r="59" fill="#8dc4e3" stroke="#333" stroke-width="0.6"/>
<circle cx="332.1" cy="545.7" r="22" fill="#3e7a82" stroke="#333" stroke-width="0.6"/>
<circle cx="332.1" cy="545.7" r="22" fill="#4b89b4" clip-path="url(#bigc)"/>
<circle cx="332.1" cy="545.7" r="22" fill="none" stroke="#333" stroke-width="0.5" clip-path="url(#bigc)"/>
<circle cx="274.8" cy="576.4" r="59" fill="none" stroke="#333" stroke-width="0.5"/>
<text x="272.7" y="580.8" font-size="11.2" text-anchor="middle" fill="#111" stroke="#111" stroke-width="0.14">562</text>
<text x="336.8" y="545.9" font-size="11.2" text-anchor="middle" fill="#111" stroke="#111" stroke-width="0.14">77</text>
<text x="319.3" y="555.2" font-size="10.5" text-anchor="middle" fill="#e03a3a" stroke="#e03a3a" stroke-width="0.14">2</text>
<line x1="324.5" y1="562.4" x2="378" y2="578.6" stroke="#111" stroke-width="2"/>
<path d="M391 582 L375.4 583.4 L379.6 573.8 Z" fill="#111"/>
<text x="402.5" y="583.2" font-size="9.2" text-anchor="middle" font-style="italic" fill="#e03a3a" stroke="#e03a3a" stroke-width="0.14">Plin4</text>
<text x="405" y="598.9" font-size="9.2" text-anchor="middle" font-style="italic" fill="#e03a3a" stroke="#e03a3a" stroke-width="0.14">Slc2a1</text>
<text x="301.8" y="522.3" font-size="9.29" fill="#111" stroke="#111" stroke-width="0.14">Fatty acid metabolism genes</text>
<text x="220" y="642.7" font-size="9.28" fill="#111" stroke="#111" stroke-width="0.14">Ferroptosis-related genes</text>
<text x="430.8" y="514.2" font-size="14.5" font-weight="bold" stroke="#000" stroke-width="0.45">g</text>
<text x="504.4" y="524.5" font-size="9.2" text-anchor="middle" font-style="italic" fill="#e0343a" stroke="#e0343a" stroke-width="0.14">Plin4</text>
<line x1="466.7" y1="528.4" x2="542.1" y2="528.4" stroke="#222" stroke-width="0.8"/>
<line x1="466.5" y1="538.6" x2="466.5" y2="635" stroke="#2a2a2a" stroke-width="1"/>
<line x1="466" y1="634.5" x2="534.5" y2="634.5" stroke="#2a2a2a" stroke-width="1"/>
<line x1="463.5" y1="634.5" x2="466.5" y2="634.5" stroke="#2a2a2a" stroke-width="1"/>
<text x="463.3" y="637.7" font-size="8.7" text-anchor="end" fill="#222" stroke="#222" stroke-width="0.14">0.0</text>
<line x1="463.5" y1="615.32" x2="466.5" y2="615.32" stroke="#2a2a2a" stroke-width="1"/>
<text x="463.3" y="618.52" font-size="8.7" text-anchor="end" fill="#222" stroke="#222" stroke-width="0.14">0.5</text>
<line x1="463.5" y1="596.14" x2="466.5" y2="596.14" stroke="#2a2a2a" stroke-width="1"/>
<text x="463.3" y="599.34" font-size="8.7" text-anchor="end" fill="#222" stroke="#222" stroke-width="0.14">1.0</text>
<line x1="463.5" y1="576.96" x2="466.5" y2="576.96" stroke="#2a2a2a" stroke-width="1"/>
<text x="463.3" y="580.16" font-size="8.7" text-anchor="end" fill="#222" stroke="#222" stroke-width="0.14">1.5</text>
<line x1="463.5" y1="557.78" x2="466.5" y2="557.78" stroke="#2a2a2a" stroke-width="1"/>
<text x="463.3" y="560.98" font-size="8.7" text-anchor="end" fill="#222" stroke="#222" stroke-width="0.14">2.0</text>
<line x1="463.5" y1="538.6" x2="466.5" y2="538.6" stroke="#2a2a2a" stroke-width="1"/>
<text x="463.3" y="541.8" font-size="8.7" text-anchor="end" fill="#222" stroke="#222" stroke-width="0.14">2.5</text>
<rect x="481.4" y="595.37" width="16.3" height="39.13" fill="#3f797e"/>
<line x1="489.55" y1="595.37" x2="489.55" y2="592.69" stroke="#5f9aa0" stroke-width="0.9"/>
<line x1="486.35" y1="592.69" x2="492.75" y2="592.69" stroke="#5f9aa0" stroke-width="0.9"/>
<line x1="489.55" y1="634.5" x2="489.55" y2="636.7" stroke="#333" stroke-width="0.8"/>
<text x="489.55" y="644.3" font-size="9.3" text-anchor="middle" fill="#222" stroke="#222" stroke-width="0.14">Ctrl</text>
<rect x="512" y="564.3" width="16" height="70.2" fill="#a3465c"/>
<line x1="520" y1="564.3" x2="520" y2="551.64" stroke="#d98a9c" stroke-width="0.9"/>
<line x1="516.8" y1="551.64" x2="523.2" y2="551.64" stroke="#d98a9c" stroke-width="0.9"/>
<line x1="520" y1="634.5" x2="520" y2="636.7" stroke="#333" stroke-width="0.8"/>
<text x="520" y="644.3" font-size="9.3" text-anchor="middle" fill="#222" stroke="#222" stroke-width="0.14">B[a]P</text>
<line x1="489.3" y1="545.5" x2="520" y2="545.5" stroke="#5a5a5a" stroke-width="1.1"/>
<text x="505.15" y="549.1" font-size="12" text-anchor="middle" font-weight="bold" fill="#111" stroke="#111" stroke-width="0.06" letter-spacing="1.2">**</text>
<text x="597" y="524.5" font-size="9.2" text-anchor="middle" font-style="italic" fill="#e0343a" stroke="#e0343a" stroke-width="0.14">Slc2a1</text>
<line x1="559.3" y1="528.4" x2="634.7" y2="528.4" stroke="#222" stroke-width="0.8"/>
<line x1="562.5" y1="538.2" x2="562.5" y2="635" stroke="#2a2a2a" stroke-width="1"/>
<line x1="562" y1="634.5" x2="638.2" y2="634.5" stroke="#2a2a2a" stroke-width="1"/>
<line x1="559.5" y1="634.1" x2="562.5" y2="634.1" stroke="#2a2a2a" stroke-width="1"/>
<text x="559.3" y="637.3" font-size="8.7" text-anchor="end" fill="#222" stroke="#222" stroke-width="0.14">0.0</text>
<line x1="559.5" y1="610.12" x2="562.5" y2="610.12" stroke="#2a2a2a" stroke-width="1"/>
<text x="559.3" y="613.33" font-size="8.7" text-anchor="end" fill="#222" stroke="#222" stroke-width="0.14">0.5</text>
<line x1="559.5" y1="586.15" x2="562.5" y2="586.15" stroke="#2a2a2a" stroke-width="1"/>
<text x="559.3" y="589.35" font-size="8.7" text-anchor="end" fill="#222" stroke="#222" stroke-width="0.14">1.0</text>
<line x1="559.5" y1="562.17" x2="562.5" y2="562.17" stroke="#2a2a2a" stroke-width="1"/>
<text x="559.3" y="565.38" font-size="8.7" text-anchor="end" fill="#222" stroke="#222" stroke-width="0.14">1.5</text>
<line x1="559.5" y1="538.2" x2="562.5" y2="538.2" stroke="#2a2a2a" stroke-width="1"/>
<text x="559.3" y="541.4" font-size="8.7" text-anchor="end" fill="#222" stroke="#222" stroke-width="0.14">2.0</text>
<rect x="576.8" y="585.67" width="15.9" height="48.43" fill="#3f797e"/>
<line x1="584.75" y1="585.67" x2="584.75" y2="572.24" stroke="#9cc4c8" stroke-width="0.9"/>
<line x1="581.55" y1="572.24" x2="587.95" y2="572.24" stroke="#9cc4c8" stroke-width="0.9"/>
<line x1="584.75" y1="634.5" x2="584.75" y2="636.7" stroke="#333" stroke-width="0.8"/>
<text x="584.75" y="644.3" font-size="9.3" text-anchor="middle" fill="#222" stroke="#222" stroke-width="0.14">Ctrl</text>
<rect x="607" y="554.98" width="16.4" height="79.12" fill="#a3465c"/>
<line x1="615.2" y1="554.98" x2="615.2" y2="548.27" stroke="#d07d90" stroke-width="0.9"/>
<line x1="612" y1="548.27" x2="618.4" y2="548.27" stroke="#d07d90" stroke-width="0.9"/>
<line x1="615.2" y1="634.5" x2="615.2" y2="636.7" stroke="#333" stroke-width="0.8"/>
<text x="615.2" y="644.3" font-size="9.3" text-anchor="middle" fill="#222" stroke="#222" stroke-width="0.14">B[a]P</text>
<line x1="585" y1="542.5" x2="615.5" y2="542.5" stroke="#5a5a5a" stroke-width="1.1"/>
<text x="600.75" y="546.1" font-size="12" text-anchor="middle" font-weight="bold" fill="#111" stroke="#111" stroke-width="0.06" letter-spacing="1.2">**</text>
<text x="438.1" y="634.9" font-size="9.35" fill="#222" stroke="#222" stroke-width="0.14" transform="rotate(-90 438.1 634.9)">Relative expression of</text>
<text x="448.2" y="634.9" font-size="9.35" fill="#222" stroke="#222" stroke-width="0.14" transform="rotate(-90 448.2 634.9)">gene mRNA (FC value)</text>
<rect x="645" y="531.6" width="12.2" height="8.6" fill="#3f797e"/>
<text x="661.4" y="538.9" font-size="9.4" fill="#222" stroke="#222" stroke-width="0.14">Ctrl</text>
<rect x="645" y="543" width="12.2" height="8.6" fill="#a3465c"/>
<text x="661.4" y="550.4" font-size="9.4" fill="#222" stroke="#222" stroke-width="0.14">B[a]P</text>
</svg>
</body></html>
